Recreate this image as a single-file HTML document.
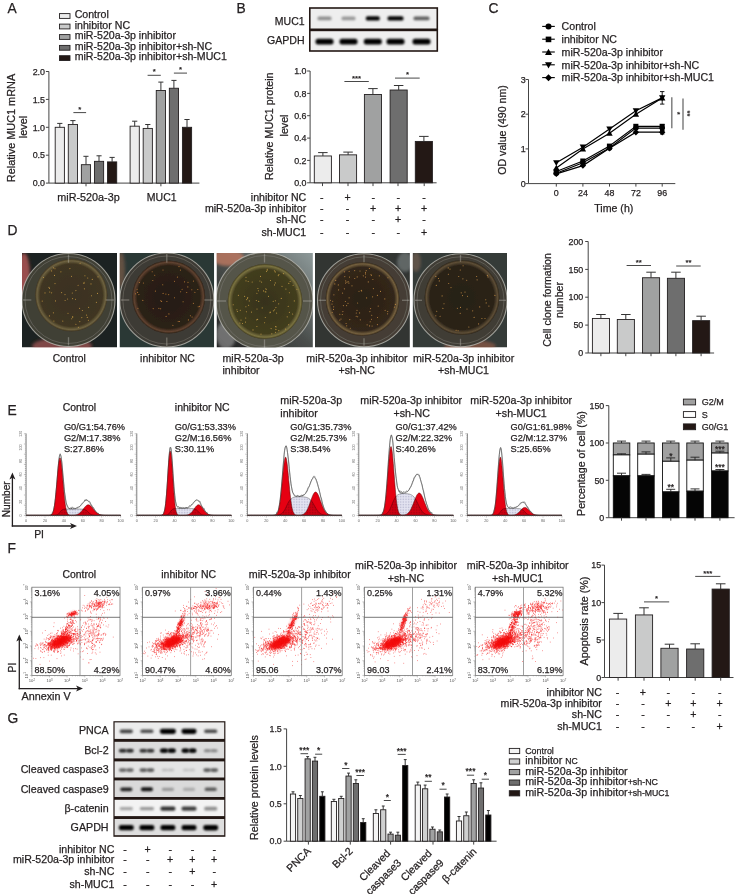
<!DOCTYPE html><html><head><meta charset="utf-8"><title>Figure</title><style>html,body{margin:0;padding:0;background:#fff;overflow:hidden;}svg{display:block;}text{stroke:#231f20;stroke-width:0.25px;}text.t{stroke:none;}</style></head><body><svg width="736" height="894" viewBox="0 0 736 894" font-family="'Liberation Sans', Arial, Helvetica, sans-serif"><defs>
<filter id="bl" x="-50%" y="-100%" width="200%" height="300%"><feGaussianBlur stdDeviation="1.05"/></filter>
<linearGradient id="bg3" x1="0" y1="1" x2="1" y2="0"><stop offset="0" stop-color="#1e1e1e"/><stop offset="0.5" stop-color="#4a4e4c"/><stop offset="1" stop-color="#8e9a9a"/></linearGradient>
<filter id="pb" x="-5%" y="-5%" width="110%" height="110%"><feGaussianBlur stdDeviation="0.45"/></filter>
<filter id="sb" x="-50%" y="-50%" width="200%" height="200%"><feGaussianBlur stdDeviation="1.6"/></filter>
<pattern id="hatch" width="1.6" height="1.6" patternUnits="userSpaceOnUse"><rect width="1.6" height="1.6" fill="#e4e4f2"/><rect width="0.8" height="0.8" fill="#b8b8d0"/></pattern>
<clipPath id="pc0"><rect x="22.0" y="253.0" width="95.0" height="94.5"/></clipPath>
<radialGradient id="ing0"><stop offset="0" stop-color="#3a3120"/><stop offset="0.86" stop-color="#3f3520"/><stop offset="0.95" stop-color="#6e6240"/><stop offset="1" stop-color="#3f3520"/></radialGradient>
<clipPath id="pc1"><rect x="119.5" y="253.0" width="94.7" height="94.5"/></clipPath>
<radialGradient id="ing1"><stop offset="0" stop-color="#251b12"/><stop offset="0.86" stop-color="#2c2116"/><stop offset="0.95" stop-color="#604230"/><stop offset="1" stop-color="#2c2116"/></radialGradient>
<clipPath id="pc2"><rect x="216.5" y="253.0" width="96.4" height="94.5"/></clipPath>
<radialGradient id="ing2"><stop offset="0" stop-color="#36321a"/><stop offset="0.86" stop-color="#423d1f"/><stop offset="0.95" stop-color="#7a7240"/><stop offset="1" stop-color="#423d1f"/></radialGradient>
<clipPath id="pc3"><rect x="315.0" y="253.0" width="94.9" height="94.5"/></clipPath>
<radialGradient id="ing3"><stop offset="0" stop-color="#2a2014"/><stop offset="0.86" stop-color="#32261a"/><stop offset="0.95" stop-color="#74603e"/><stop offset="1" stop-color="#32261a"/></radialGradient>
<clipPath id="pc4"><rect x="412.6" y="253.0" width="94.4" height="94.5"/></clipPath>
<radialGradient id="ing4"><stop offset="0" stop-color="#262016"/><stop offset="0.86" stop-color="#2c2419"/><stop offset="0.95" stop-color="#5e4e36"/><stop offset="1" stop-color="#2c2419"/></radialGradient>
<clipPath id="fc0"><rect x="31.9" y="587.2" width="88.1" height="88.19999999999993"/></clipPath>
<clipPath id="fc1"><rect x="142.6" y="587.2" width="88.70000000000002" height="88.19999999999993"/></clipPath>
<clipPath id="fc2"><rect x="253.5" y="587.2" width="88.69999999999999" height="88.19999999999993"/></clipPath>
<clipPath id="fc3"><rect x="364.4" y="587.2" width="88.30000000000001" height="88.19999999999993"/></clipPath>
<clipPath id="fc4"><rect x="475.3" y="587.2" width="87.80000000000001" height="88.19999999999993"/></clipPath>
</defs><rect width="736" height="894" fill="#fff"/><text x="7.5" y="13.4" font-size="13.8" text-anchor="start" fill="#231f20" >A</text>
<text x="236.5" y="13.4" font-size="13.8" text-anchor="start" fill="#231f20" >B</text>
<text x="488.5" y="13.4" font-size="13.8" text-anchor="start" fill="#231f20" >C</text>
<text x="7.5" y="234.6" font-size="13.8" text-anchor="start" fill="#231f20" >D</text>
<text x="7.5" y="414.5" font-size="13.8" text-anchor="start" fill="#231f20" >E</text>
<text x="7.5" y="552.6" font-size="13.8" text-anchor="start" fill="#231f20" >F</text>
<text x="7.5" y="722.6" font-size="13.8" text-anchor="start" fill="#231f20" >G</text>
<rect x="59.50" y="13.60" width="10.50" height="4.80" fill="#ececec" stroke="#231f20" stroke-width="0.9" />
<text x="74.7" y="18.4" font-size="10.6" text-anchor="start" fill="#231f20" >Control</text>
<rect x="59.50" y="24.10" width="10.50" height="4.80" fill="#c9caca" stroke="#231f20" stroke-width="0.9" />
<text x="74.7" y="28.6" font-size="10.6" text-anchor="start" fill="#231f20" >inhibitor NC</text>
<rect x="59.50" y="34.60" width="10.50" height="4.80" fill="#a0a1a1" stroke="#231f20" stroke-width="0.9" />
<text x="74.7" y="39.3" font-size="10.6" text-anchor="start" fill="#231f20" >miR-520a-3p inhibitor</text>
<rect x="59.50" y="45.40" width="10.50" height="4.80" fill="#6e6e6e" stroke="#231f20" stroke-width="0.9" />
<text x="74.7" y="49.6" font-size="10.6" text-anchor="start" fill="#231f20" >miR-520a-3p inhibitor+sh-NC</text>
<rect x="59.50" y="55.70" width="10.50" height="4.80" fill="#231815" stroke="#231f20" stroke-width="0.9" />
<text x="74.7" y="60.1" font-size="10.6" text-anchor="start" fill="#231f20" >miR-520a-3p inhibitor+sh-MUC1</text>
<line x1="48.9" y1="71.5" x2="48.9" y2="183.1" stroke="#444" stroke-width="1"/>
<line x1="45.9" y1="183.1" x2="48.9" y2="183.1" stroke="#444" stroke-width="1"/>
<text x="45.0" y="186.3" font-size="8.9" text-anchor="end" fill="#231f20" >0.0</text>
<line x1="45.9" y1="155.2" x2="48.9" y2="155.2" stroke="#444" stroke-width="1"/>
<text x="45.0" y="158.4" font-size="8.9" text-anchor="end" fill="#231f20" >0.5</text>
<line x1="45.9" y1="127.3" x2="48.9" y2="127.3" stroke="#444" stroke-width="1"/>
<text x="45.0" y="130.5" font-size="8.9" text-anchor="end" fill="#231f20" >1.0</text>
<line x1="45.9" y1="99.4" x2="48.9" y2="99.4" stroke="#444" stroke-width="1"/>
<text x="45.0" y="102.6" font-size="8.9" text-anchor="end" fill="#231f20" >1.5</text>
<line x1="45.9" y1="71.5" x2="48.9" y2="71.5" stroke="#444" stroke-width="1"/>
<text x="45.0" y="74.7" font-size="8.9" text-anchor="end" fill="#231f20" >2.0</text>
<line x1="48.9" y1="183.1" x2="199.4" y2="183.1" stroke="#444" stroke-width="1"/>
<rect x="55.20" y="127.30" width="9.20" height="55.80" fill="#ececec" stroke="#231f20" stroke-width="0.9" />
<line x1="59.8" y1="123.4" x2="59.8" y2="127.3" stroke="#333" stroke-width="1"/>
<line x1="57.2" y1="123.4" x2="62.4" y2="123.4" stroke="#333" stroke-width="1"/>
<rect x="68.28" y="124.51" width="9.20" height="58.59" fill="#c9caca" stroke="#231f20" stroke-width="0.9" />
<line x1="72.9" y1="120.6" x2="72.9" y2="124.5" stroke="#333" stroke-width="1"/>
<line x1="70.3" y1="120.6" x2="75.5" y2="120.6" stroke="#333" stroke-width="1"/>
<rect x="81.36" y="164.69" width="9.20" height="18.41" fill="#a0a1a1" stroke="#231f20" stroke-width="0.9" />
<line x1="86.0" y1="156.3" x2="86.0" y2="164.7" stroke="#333" stroke-width="1"/>
<line x1="83.4" y1="156.3" x2="88.5" y2="156.3" stroke="#333" stroke-width="1"/>
<rect x="94.44" y="161.34" width="9.20" height="21.76" fill="#6e6e6e" stroke="#231f20" stroke-width="0.9" />
<line x1="99.0" y1="155.8" x2="99.0" y2="161.3" stroke="#333" stroke-width="1"/>
<line x1="96.5" y1="155.8" x2="101.6" y2="155.8" stroke="#333" stroke-width="1"/>
<rect x="107.52" y="161.90" width="9.20" height="21.20" fill="#231815" stroke="#231f20" stroke-width="0.9" />
<line x1="112.1" y1="157.4" x2="112.1" y2="161.9" stroke="#333" stroke-width="1"/>
<line x1="109.5" y1="157.4" x2="114.7" y2="157.4" stroke="#333" stroke-width="1"/>
<line x1="86.0" y1="183.1" x2="86.0" y2="186.3" stroke="#444" stroke-width="1"/>
<rect x="130.10" y="126.18" width="9.20" height="56.92" fill="#ececec" stroke="#231f20" stroke-width="0.9" />
<line x1="134.7" y1="121.2" x2="134.7" y2="126.2" stroke="#333" stroke-width="1"/>
<line x1="132.1" y1="121.2" x2="137.3" y2="121.2" stroke="#333" stroke-width="1"/>
<rect x="143.18" y="128.42" width="9.20" height="54.68" fill="#c9caca" stroke="#231f20" stroke-width="0.9" />
<line x1="147.8" y1="124.5" x2="147.8" y2="128.4" stroke="#333" stroke-width="1"/>
<line x1="145.2" y1="124.5" x2="150.4" y2="124.5" stroke="#333" stroke-width="1"/>
<rect x="156.26" y="90.47" width="9.20" height="92.63" fill="#a0a1a1" stroke="#231f20" stroke-width="0.9" />
<line x1="160.9" y1="82.1" x2="160.9" y2="90.5" stroke="#333" stroke-width="1"/>
<line x1="158.3" y1="82.1" x2="163.4" y2="82.1" stroke="#333" stroke-width="1"/>
<rect x="169.34" y="88.24" width="9.20" height="94.86" fill="#6e6e6e" stroke="#231f20" stroke-width="0.9" />
<line x1="173.9" y1="80.4" x2="173.9" y2="88.2" stroke="#333" stroke-width="1"/>
<line x1="171.4" y1="80.4" x2="176.5" y2="80.4" stroke="#333" stroke-width="1"/>
<rect x="182.42" y="127.30" width="9.20" height="55.80" fill="#231815" stroke="#231f20" stroke-width="0.9" />
<line x1="187.0" y1="119.5" x2="187.0" y2="127.3" stroke="#333" stroke-width="1"/>
<line x1="184.4" y1="119.5" x2="189.6" y2="119.5" stroke="#333" stroke-width="1"/>
<line x1="160.9" y1="183.1" x2="160.9" y2="186.3" stroke="#444" stroke-width="1"/>
<line x1="73.4" y1="112.6" x2="86.1" y2="112.6" stroke="#333" stroke-width="0.9"/>
<text x="79.8" y="111.7" font-size="7.8" text-anchor="middle" fill="#231f20" >*</text>
<line x1="147.6" y1="75.3" x2="160.8" y2="75.3" stroke="#333" stroke-width="0.9"/>
<text x="154.2" y="74.4" font-size="7.8" text-anchor="middle" fill="#231f20" >*</text>
<line x1="173.9" y1="73.1" x2="187.0" y2="73.1" stroke="#333" stroke-width="0.9"/>
<text x="180.4" y="72.2" font-size="7.8" text-anchor="middle" fill="#231f20" >*</text>
<text x="88.5" y="200.5" font-size="10.8" text-anchor="middle" fill="#231f20" >miR-520a-3p</text>
<text x="161.7" y="200.5" font-size="10.5" text-anchor="middle" fill="#231f20" >MUC1</text>
<text transform="translate(15.3,128.0) rotate(-90)" font-size="10.9" text-anchor="middle" fill="#231f20">Relative MUC1 mRNA</text>
<text transform="translate(27.0,127.0) rotate(-90)" font-size="10.9" text-anchor="middle" fill="#231f20">level</text>
<rect x="309.80" y="8.00" width="127.50" height="21.30" fill="#eeeeee" stroke="#231815" stroke-width="1.6" />
<rect x="317.5" y="16.6" width="14.0" height="3.6" rx="1.5" fill="#000" fill-opacity="0.40" filter="url(#bl)"/>
<rect x="341.5" y="16.6" width="14.0" height="3.6" rx="1.5" fill="#000" fill-opacity="0.36" filter="url(#bl)"/>
<rect x="365.8" y="16.2" width="14.0" height="4.4" rx="1.9" fill="#000" fill-opacity="1.00" filter="url(#bl)"/>
<rect x="387.5" y="16.2" width="16.0" height="4.4" rx="1.9" fill="#000" fill-opacity="1.00" filter="url(#bl)"/>
<rect x="413.5" y="16.5" width="16.0" height="3.8" rx="1.6" fill="#000" fill-opacity="0.60" filter="url(#bl)"/>
<rect x="309.80" y="30.40" width="127.50" height="20.60" fill="#efefef" stroke="#231815" stroke-width="1.6" />
<rect x="315.5" y="38.8" width="18.0" height="5.6" rx="2.5" fill="#000" fill-opacity="1.00" filter="url(#bl)"/>
<rect x="339.5" y="38.8" width="18.0" height="5.6" rx="2.5" fill="#000" fill-opacity="1.00" filter="url(#bl)"/>
<rect x="363.8" y="38.8" width="18.0" height="5.6" rx="2.5" fill="#000" fill-opacity="1.00" filter="url(#bl)"/>
<rect x="386.5" y="38.8" width="18.0" height="5.6" rx="2.5" fill="#000" fill-opacity="1.00" filter="url(#bl)"/>
<rect x="412.5" y="38.8" width="18.0" height="5.6" rx="2.5" fill="#000" fill-opacity="1.00" filter="url(#bl)"/>
<text x="304.6" y="25.3" font-size="10.5" text-anchor="end" fill="#231f20" >MUC1</text>
<text x="304.6" y="44.2" font-size="10.6" text-anchor="end" fill="#231f20" >GAPDH</text>
<line x1="310.1" y1="71.0" x2="310.1" y2="182.8" stroke="#444" stroke-width="1"/>
<line x1="307.1" y1="182.8" x2="310.1" y2="182.8" stroke="#444" stroke-width="1"/>
<text x="306.5" y="186.0" font-size="8.9" text-anchor="end" fill="#231f20" >0.0</text>
<line x1="307.1" y1="160.4" x2="310.1" y2="160.4" stroke="#444" stroke-width="1"/>
<text x="306.5" y="163.6" font-size="8.9" text-anchor="end" fill="#231f20" >0.2</text>
<line x1="307.1" y1="138.1" x2="310.1" y2="138.1" stroke="#444" stroke-width="1"/>
<text x="306.5" y="141.3" font-size="8.9" text-anchor="end" fill="#231f20" >0.4</text>
<line x1="307.1" y1="115.7" x2="310.1" y2="115.7" stroke="#444" stroke-width="1"/>
<text x="306.5" y="118.9" font-size="8.9" text-anchor="end" fill="#231f20" >0.6</text>
<line x1="307.1" y1="93.4" x2="310.1" y2="93.4" stroke="#444" stroke-width="1"/>
<text x="306.5" y="96.6" font-size="8.9" text-anchor="end" fill="#231f20" >0.8</text>
<line x1="307.1" y1="71.0" x2="310.1" y2="71.0" stroke="#444" stroke-width="1"/>
<text x="306.5" y="74.2" font-size="8.9" text-anchor="end" fill="#231f20" >1.0</text>
<line x1="310.1" y1="182.8" x2="436.6" y2="182.8" stroke="#444" stroke-width="1"/>
<rect x="314.30" y="155.97" width="17.10" height="26.83" fill="#ececec" stroke="#231f20" stroke-width="0.9" />
<line x1="322.9" y1="152.6" x2="322.9" y2="156.0" stroke="#333" stroke-width="1"/>
<line x1="318.1" y1="152.6" x2="327.6" y2="152.6" stroke="#333" stroke-width="1"/>
<rect x="339.50" y="154.85" width="17.10" height="27.95" fill="#c9caca" stroke="#231f20" stroke-width="0.9" />
<line x1="348.1" y1="152.1" x2="348.1" y2="154.9" stroke="#333" stroke-width="1"/>
<line x1="343.3" y1="152.1" x2="352.8" y2="152.1" stroke="#333" stroke-width="1"/>
<rect x="364.40" y="94.48" width="17.10" height="88.32" fill="#a0a1a1" stroke="#231f20" stroke-width="0.9" />
<line x1="372.9" y1="88.6" x2="372.9" y2="94.5" stroke="#333" stroke-width="1"/>
<line x1="368.2" y1="88.6" x2="377.7" y2="88.6" stroke="#333" stroke-width="1"/>
<rect x="390.10" y="90.01" width="17.10" height="92.79" fill="#6e6e6e" stroke="#231f20" stroke-width="0.9" />
<line x1="398.7" y1="85.5" x2="398.7" y2="90.0" stroke="#333" stroke-width="1"/>
<line x1="393.9" y1="85.5" x2="403.4" y2="85.5" stroke="#333" stroke-width="1"/>
<rect x="415.30" y="141.43" width="17.10" height="41.37" fill="#231815" stroke="#231f20" stroke-width="0.9" />
<line x1="423.9" y1="136.4" x2="423.9" y2="141.4" stroke="#333" stroke-width="1"/>
<line x1="419.1" y1="136.4" x2="428.6" y2="136.4" stroke="#333" stroke-width="1"/>
<line x1="322.5" y1="182.8" x2="322.5" y2="186.1" stroke="#444" stroke-width="1"/>
<line x1="348.0" y1="182.8" x2="348.0" y2="186.1" stroke="#444" stroke-width="1"/>
<line x1="373.0" y1="182.8" x2="373.0" y2="186.1" stroke="#444" stroke-width="1"/>
<line x1="398.0" y1="182.8" x2="398.0" y2="186.1" stroke="#444" stroke-width="1"/>
<line x1="424.2" y1="182.8" x2="424.2" y2="186.1" stroke="#444" stroke-width="1"/>
<line x1="344.4" y1="81.5" x2="368.8" y2="81.5" stroke="#333" stroke-width="0.9"/>
<text x="356.6" y="80.6" font-size="7.8" text-anchor="middle" fill="#231f20" >***</text>
<line x1="395.0" y1="78.1" x2="419.7" y2="78.1" stroke="#333" stroke-width="0.9"/>
<text x="407.4" y="77.2" font-size="7.8" text-anchor="middle" fill="#231f20" >*</text>
<text transform="translate(273.3,126.3) rotate(-90)" font-size="10.7" text-anchor="middle" fill="#231f20">Relative MUC1 protein</text>
<text transform="translate(287.6,125.5) rotate(-90)" font-size="10.7" text-anchor="middle" fill="#231f20">level</text>
<text x="306.2" y="200.9" font-size="10.6" text-anchor="end" fill="#231f20" >inhibitor NC</text>
<text x="321.8" y="200.9" font-size="10.6" text-anchor="middle" fill="#231f20" >-</text>
<text x="347.5" y="200.9" font-size="10.6" text-anchor="middle" fill="#231f20" >+</text>
<text x="373.2" y="200.9" font-size="10.6" text-anchor="middle" fill="#231f20" >-</text>
<text x="398.2" y="200.9" font-size="10.6" text-anchor="middle" fill="#231f20" >-</text>
<text x="424.0" y="200.9" font-size="10.6" text-anchor="middle" fill="#231f20" >-</text>
<text x="306.2" y="212.1" font-size="10.6" text-anchor="end" fill="#231f20" >miR-520a-3p inhibitor</text>
<text x="321.8" y="212.1" font-size="10.6" text-anchor="middle" fill="#231f20" >-</text>
<text x="347.5" y="212.1" font-size="10.6" text-anchor="middle" fill="#231f20" >-</text>
<text x="373.2" y="212.1" font-size="10.6" text-anchor="middle" fill="#231f20" >+</text>
<text x="398.2" y="212.1" font-size="10.6" text-anchor="middle" fill="#231f20" >+</text>
<text x="424.0" y="212.1" font-size="10.6" text-anchor="middle" fill="#231f20" >+</text>
<text x="306.2" y="223.2" font-size="10.6" text-anchor="end" fill="#231f20" >sh-NC</text>
<text x="321.8" y="223.2" font-size="10.6" text-anchor="middle" fill="#231f20" >-</text>
<text x="347.5" y="223.2" font-size="10.6" text-anchor="middle" fill="#231f20" >-</text>
<text x="373.2" y="223.2" font-size="10.6" text-anchor="middle" fill="#231f20" >-</text>
<text x="398.2" y="223.2" font-size="10.6" text-anchor="middle" fill="#231f20" >+</text>
<text x="424.0" y="223.2" font-size="10.6" text-anchor="middle" fill="#231f20" >-</text>
<text x="306.2" y="236.0" font-size="10.6" text-anchor="end" fill="#231f20" >sh-MUC1</text>
<text x="321.8" y="236.0" font-size="10.6" text-anchor="middle" fill="#231f20" >-</text>
<text x="347.5" y="236.0" font-size="10.6" text-anchor="middle" fill="#231f20" >-</text>
<text x="373.2" y="236.0" font-size="10.6" text-anchor="middle" fill="#231f20" >-</text>
<text x="398.2" y="236.0" font-size="10.6" text-anchor="middle" fill="#231f20" >-</text>
<text x="424.0" y="236.0" font-size="10.6" text-anchor="middle" fill="#231f20" >+</text>
<line x1="542.2" y1="26.4" x2="554.8" y2="26.4" stroke="#000" stroke-width="1.1"/>
<circle cx="548.5" cy="26.6" r="3.0" fill="#000"/>
<text x="561.6" y="30.2" font-size="10.62" text-anchor="start" fill="#231f20" >Control</text>
<line x1="542.2" y1="39.2" x2="554.8" y2="39.2" stroke="#000" stroke-width="1.1"/>
<rect x="545.7" y="36.6" width="5.6" height="5.6" fill="#000"/>
<text x="561.6" y="43.0" font-size="10.62" text-anchor="start" fill="#231f20" >inhibitor NC</text>
<line x1="542.2" y1="52.0" x2="554.8" y2="52.0" stroke="#000" stroke-width="1.1"/>
<path d="M548.5 48.7L552.0 55.0L545.0 55.0Z" fill="#000"/>
<text x="561.6" y="55.8" font-size="10.62" text-anchor="start" fill="#231f20" >miR-520a-3p inhibitor</text>
<line x1="542.2" y1="64.8" x2="554.8" y2="64.8" stroke="#000" stroke-width="1.1"/>
<path d="M548.5 68.5L552.0 62.2L545.0 62.2Z" fill="#000"/>
<text x="561.6" y="68.6" font-size="10.62" text-anchor="start" fill="#231f20" >miR-520a-3p inhibitor+sh-NC</text>
<line x1="542.2" y1="77.6" x2="554.8" y2="77.6" stroke="#000" stroke-width="1.1"/>
<path d="M548.5 74.3L552.0 77.8L548.5 81.3L545.0 77.8Z" fill="#000"/>
<text x="561.6" y="81.4" font-size="10.62" text-anchor="start" fill="#231f20" >miR-520a-3p inhibitor+sh-MUC1</text>
<line x1="528.5" y1="79.5" x2="528.5" y2="183.6" stroke="#444" stroke-width="1"/>
<line x1="525.5" y1="183.6" x2="528.5" y2="183.6" stroke="#444" stroke-width="1"/>
<text x="525.8" y="186.8" font-size="8.9" text-anchor="end" fill="#231f20" >0</text>
<line x1="525.5" y1="148.9" x2="528.5" y2="148.9" stroke="#444" stroke-width="1"/>
<text x="525.8" y="152.1" font-size="8.9" text-anchor="end" fill="#231f20" >1</text>
<line x1="525.5" y1="114.2" x2="528.5" y2="114.2" stroke="#444" stroke-width="1"/>
<text x="525.8" y="117.4" font-size="8.9" text-anchor="end" fill="#231f20" >2</text>
<line x1="525.5" y1="79.5" x2="528.5" y2="79.5" stroke="#444" stroke-width="1"/>
<text x="525.8" y="82.7" font-size="8.9" text-anchor="end" fill="#231f20" >3</text>
<line x1="528.5" y1="183.6" x2="675.3" y2="183.6" stroke="#444" stroke-width="1"/>
<line x1="556.3" y1="183.6" x2="556.3" y2="186.6" stroke="#444" stroke-width="1"/>
<text x="556.3" y="196.4" font-size="8.9" text-anchor="middle" fill="#231f20" >0</text>
<line x1="582.9" y1="183.6" x2="582.9" y2="186.6" stroke="#444" stroke-width="1"/>
<text x="582.9" y="196.4" font-size="8.9" text-anchor="middle" fill="#231f20" >24</text>
<line x1="609.5" y1="183.6" x2="609.5" y2="186.6" stroke="#444" stroke-width="1"/>
<text x="609.5" y="196.4" font-size="8.9" text-anchor="middle" fill="#231f20" >48</text>
<line x1="635.9" y1="183.6" x2="635.9" y2="186.6" stroke="#444" stroke-width="1"/>
<text x="635.9" y="196.4" font-size="8.9" text-anchor="middle" fill="#231f20" >72</text>
<line x1="662.2" y1="183.6" x2="662.2" y2="186.6" stroke="#444" stroke-width="1"/>
<text x="662.2" y="196.4" font-size="8.9" text-anchor="middle" fill="#231f20" >96</text>
<text x="613.8" y="212.2" font-size="10.6" text-anchor="middle" fill="#231f20" >Time (h)</text>
<text transform="translate(506.3,130.0) rotate(-90)" font-size="10.6" text-anchor="middle" fill="#231f20">OD value (490 nm)</text>
<polyline points="556.3,173.2 582.9,162.8 609.5,147.9 635.9,128.1 662.2,128.1" fill="none" stroke="#000" stroke-width="1.2"/>
<circle cx="556.3" cy="173.2" r="2.7" fill="#000"/>
<circle cx="582.9" cy="162.8" r="2.7" fill="#000"/>
<circle cx="609.5" cy="147.9" r="2.7" fill="#000"/>
<circle cx="635.9" cy="128.1" r="2.7" fill="#000"/>
<circle cx="662.2" cy="128.1" r="2.7" fill="#000"/>
<polyline points="556.3,171.5 582.9,161.0 609.5,146.1 635.9,126.3 662.2,126.3" fill="none" stroke="#000" stroke-width="1.2"/>
<rect x="553.7" y="168.9" width="5.1" height="5.1" fill="#000"/>
<rect x="580.3" y="158.5" width="5.1" height="5.1" fill="#000"/>
<rect x="606.9" y="143.6" width="5.1" height="5.1" fill="#000"/>
<rect x="633.3" y="123.8" width="5.1" height="5.1" fill="#000"/>
<rect x="659.6" y="123.8" width="5.1" height="5.1" fill="#000"/>
<polyline points="556.3,168.0 582.9,148.9 609.5,133.3 635.9,114.2 662.2,97.9" fill="none" stroke="#000" stroke-width="1.2"/>
<path d="M556.3 164.8L559.5 170.5L553.1 170.5Z" fill="#000"/>
<path d="M582.9 145.7L586.1 151.5L579.7 151.5Z" fill="#000"/>
<path d="M609.5 130.1L612.7 135.8L606.3 135.8Z" fill="#000"/>
<path d="M635.9 111.0L639.1 116.8L632.7 116.8Z" fill="#000"/>
<path d="M662.2 94.7L665.4 100.5L659.0 100.5Z" fill="#000"/>
<polyline points="556.3,162.8 582.9,147.2 609.5,129.1 635.9,110.7 662.2,97.9" fill="none" stroke="#000" stroke-width="1.2"/>
<path d="M556.3 166.0L559.5 160.2L553.1 160.2Z" fill="#000"/>
<path d="M582.9 150.4L586.1 144.6L579.7 144.6Z" fill="#000"/>
<path d="M609.5 132.3L612.7 126.6L606.3 126.6Z" fill="#000"/>
<path d="M635.9 113.9L639.1 108.2L632.7 108.2Z" fill="#000"/>
<path d="M662.2 101.1L665.4 95.3L659.0 95.3Z" fill="#000"/>
<polyline points="556.3,173.9 582.9,165.6 609.5,148.2 635.9,132.2 662.2,132.2" fill="none" stroke="#000" stroke-width="1.2"/>
<path d="M556.3 170.7L559.5 173.9L556.3 177.1L553.1 173.9Z" fill="#000"/>
<path d="M582.9 162.4L586.1 165.6L582.9 168.8L579.7 165.6Z" fill="#000"/>
<path d="M609.5 145.0L612.7 148.2L609.5 151.4L606.3 148.2Z" fill="#000"/>
<path d="M635.9 129.0L639.1 132.2L635.9 135.4L632.7 132.2Z" fill="#000"/>
<path d="M662.2 129.0L665.4 132.2L662.2 135.4L659.0 132.2Z" fill="#000"/>
<line x1="662.2" y1="91.6" x2="662.2" y2="104.1" stroke="#000" stroke-width="0.9"/>
<line x1="660.0" y1="91.6" x2="664.4" y2="91.6" stroke="#000" stroke-width="0.9"/>
<line x1="660.0" y1="104.1" x2="664.4" y2="104.1" stroke="#000" stroke-width="0.9"/>
<line x1="662.2" y1="124.6" x2="662.2" y2="130.2" stroke="#000" stroke-width="0.9"/>
<line x1="660.0" y1="124.6" x2="664.4" y2="124.6" stroke="#000" stroke-width="0.9"/>
<line x1="660.0" y1="130.2" x2="664.4" y2="130.2" stroke="#000" stroke-width="0.9"/>
<line x1="662.2" y1="130.5" x2="662.2" y2="134.0" stroke="#000" stroke-width="0.9"/>
<line x1="660.0" y1="130.5" x2="664.4" y2="130.5" stroke="#000" stroke-width="0.9"/>
<line x1="660.0" y1="134.0" x2="664.4" y2="134.0" stroke="#000" stroke-width="0.9"/>
<line x1="671.8" y1="97.2" x2="671.8" y2="128.2" stroke="#777" stroke-width="1.4"/>
<line x1="683.0" y1="98.5" x2="683.0" y2="129.7" stroke="#777" stroke-width="1.4"/>
<text transform="translate(674.6,113.2) rotate(90)" font-size="7.5" text-anchor="middle" fill="#231f20">*</text>
<text transform="translate(685.0,113.5) rotate(90)" font-size="7.5" text-anchor="middle" fill="#231f20">**</text>
<g clip-path="url(#pc0)"><g filter="url(#pb)">
<rect x="22.00" y="253.00" width="95.00" height="94.50" fill="#1e2220" stroke="none" stroke-width="1" />
<ellipse cx="24" cy="275" rx="6" ry="22" fill="#b85a5a" opacity="0.8" filter="url(#sb)"/>
<ellipse cx="62" cy="346" rx="30" ry="8" fill="#a85858" opacity="0.7" filter="url(#sb)"/>
<circle cx="68.5" cy="300.0" r="46.5" fill="#403f36" stroke="#b8b8b0" stroke-width="1.1" stroke-opacity="0.8"/>
<circle cx="68.5" cy="300.0" r="43.5" fill="none" stroke="#8a8a80" stroke-width="0.7" stroke-opacity="0.6"/>
<circle cx="71.3" cy="295.2" r="36.2" fill="url(#ing0)"/>
<line x1="68.5" y1="254.5" x2="68.5" y2="262.8" stroke="#d0d0c8" stroke-width="1.3" stroke-opacity="0.35"/>
<line x1="68.5" y1="345.5" x2="68.5" y2="337.2" stroke="#d0d0c8" stroke-width="1.3" stroke-opacity="0.35"/>
<line x1="23.0" y1="300.0" x2="31.3" y2="300.0" stroke="#d0d0c8" stroke-width="1.3" stroke-opacity="0.35"/>
<line x1="114.0" y1="300.0" x2="105.7" y2="300.0" stroke="#d0d0c8" stroke-width="1.3" stroke-opacity="0.35"/>
<path d="M92.3 279.4h0.01M75.9 324.2h0.01M84.1 282.2h0.01M72.3 293.0h0.01M42.2 301.1h0.01M68.0 313.2h0.01M55.5 300.9h0.01M49.0 287.4h0.01M80.1 263.2h0.01M97.5 293.4h0.01M79.6 308.3h0.01M96.4 302.3h0.01M65.0 294.6h0.01M91.0 283.9h0.01M45.0 292.9h0.01M71.7 318.7h0.01M72.6 298.6h0.01M79.8 321.6h0.01M91.5 295.7h0.01M88.4 320.2h0.01M83.9 283.4h0.01M84.9 275.7h0.01M69.9 268.6h0.01M61.6 292.6h0.01M87.7 278.0h0.01M55.0 283.6h0.01M65.1 300.5h0.01M82.4 310.5h0.01M49.4 315.9h0.01M43.5 277.5h0.01M54.5 275.4h0.01M87.3 317.4h0.01M72.7 317.3h0.01M88.6 307.3h0.01M78.4 327.2h0.01M62.8 321.1h0.01M55.0 268.7h0.01M78.1 285.2h0.01M98.0 276.8h0.01M86.6 315.1h0.01M84.4 288.8h0.01M81.8 317.6h0.01M51.6 270.9h0.01M53.4 312.8h0.01M72.7 316.5h0.01M75.9 290.6h0.01M49.5 288.5h0.01M71.5 276.3h0.01M67.6 299.0h0.01M75.5 299.2h0.01M53.4 267.8h0.01M49.7 292.0h0.01M53.9 321.0h0.01M60.9 271.8h0.01M51.6 292.8h0.01" stroke="#d2a24a" stroke-width="1.15" stroke-linecap="round" opacity="0.78"/>
</g></g>
<g clip-path="url(#pc1)"><g filter="url(#pb)">
<rect x="119.50" y="253.00" width="94.70" height="94.50" fill="#2c3836" stroke="none" stroke-width="1" />
<ellipse cx="121" cy="270" rx="4" ry="18" fill="#9a6a50" opacity="0.5" filter="url(#sb)"/>
<circle cx="166.8" cy="300.0" r="47.0" fill="#3e3a34" stroke="#b8b8b0" stroke-width="1.1" stroke-opacity="0.8"/>
<circle cx="166.8" cy="300.0" r="44.0" fill="none" stroke="#8a8a80" stroke-width="0.7" stroke-opacity="0.6"/>
<circle cx="168.7" cy="297.0" r="36.5" fill="url(#ing1)"/>
<line x1="166.8" y1="254.0" x2="166.8" y2="262.5" stroke="#d0d0c8" stroke-width="1.3" stroke-opacity="0.35"/>
<line x1="166.8" y1="346.0" x2="166.8" y2="337.5" stroke="#d0d0c8" stroke-width="1.3" stroke-opacity="0.35"/>
<line x1="120.8" y1="300.0" x2="129.3" y2="300.0" stroke="#d0d0c8" stroke-width="1.3" stroke-opacity="0.35"/>
<line x1="212.8" y1="300.0" x2="204.3" y2="300.0" stroke="#d0d0c8" stroke-width="1.3" stroke-opacity="0.35"/>
<path d="M193.4 281.1h0.01M180.6 291.7h0.01M168.7 294.6h0.01M188.4 319.9h0.01M177.4 277.1h0.01M165.9 294.1h0.01M138.9 294.6h0.01M172.9 325.3h0.01M158.9 308.3h0.01M160.6 308.7h0.01M139.4 282.5h0.01M166.1 316.4h0.01M137.9 308.2h0.01M135.6 293.8h0.01M188.0 282.3h0.01M143.4 283.0h0.01M184.5 281.8h0.01M187.8 286.9h0.01M160.7 300.7h0.01M191.8 289.7h0.01M174.5 281.2h0.01M163.0 270.0h0.01M194.9 292.3h0.01M153.2 308.6h0.01M183.1 301.7h0.01M182.1 289.2h0.01M192.1 317.0h0.01M142.8 300.4h0.01M154.7 275.2h0.01M186.7 292.5h0.01M152.8 280.5h0.01M179.5 321.5h0.01M161.6 301.4h0.01M180.4 270.1h0.01M190.4 315.7h0.01M179.0 266.6h0.01M137.6 292.4h0.01M199.5 306.3h0.01M174.5 297.7h0.01M168.9 313.9h0.01M155.4 291.1h0.01M163.1 293.4h0.01M162.7 284.7h0.01M166.9 301.5h0.01M137.1 289.2h0.01M152.2 271.7h0.01M178.2 321.5h0.01M193.4 303.3h0.01M197.8 289.5h0.01M198.2 306.7h0.01" stroke="#d08a40" stroke-width="1.15" stroke-linecap="round" opacity="0.78"/>
</g></g>
<g clip-path="url(#pc2)"><g filter="url(#pb)">
<rect x="216.50" y="253.00" width="96.40" height="94.50" fill="url(#bg3)" stroke="none" stroke-width="1" />
<ellipse cx="228" cy="258" rx="16" ry="8" fill="#c07860" opacity="0.8" filter="url(#sb)"/>
<ellipse cx="226" cy="335" rx="10" ry="14" fill="#b8b8b8" opacity="0.5" filter="url(#sb)"/>
<circle cx="264.5" cy="301.0" r="48.5" fill="#55544a" stroke="#b8b8b0" stroke-width="1.1" stroke-opacity="0.8"/>
<circle cx="264.5" cy="301.0" r="45.5" fill="none" stroke="#8a8a80" stroke-width="0.7" stroke-opacity="0.6"/>
<circle cx="265.0" cy="301.5" r="37.5" fill="url(#ing2)"/>
<line x1="264.5" y1="253.5" x2="264.5" y2="262.5" stroke="#d0d0c8" stroke-width="1.3" stroke-opacity="0.35"/>
<line x1="264.5" y1="348.5" x2="264.5" y2="339.5" stroke="#d0d0c8" stroke-width="1.3" stroke-opacity="0.35"/>
<line x1="217.0" y1="301.0" x2="226.0" y2="301.0" stroke="#d0d0c8" stroke-width="1.3" stroke-opacity="0.35"/>
<line x1="312.0" y1="301.0" x2="303.0" y2="301.0" stroke="#d0d0c8" stroke-width="1.3" stroke-opacity="0.35"/>
<path d="M256.7 319.8h0.01M256.9 293.2h0.01M253.0 329.9h0.01M274.4 270.8h0.01M266.3 289.2h0.01M275.5 332.2h0.01M248.2 281.5h0.01M287.2 316.8h0.01M246.0 280.8h0.01M275.3 271.9h0.01M261.6 282.1h0.01M290.1 281.5h0.01M278.7 303.8h0.01M271.1 328.6h0.01M289.4 292.7h0.01M264.6 322.7h0.01M252.2 282.0h0.01M257.0 309.0h0.01M258.4 290.7h0.01M242.5 323.5h0.01M244.6 296.3h0.01M265.3 317.5h0.01M245.9 306.7h0.01M265.2 291.7h0.01M256.9 326.5h0.01M265.8 291.9h0.01M273.4 310.8h0.01M275.9 307.6h0.01M261.0 334.1h0.01M274.5 284.9h0.01M275.5 326.6h0.01M282.0 286.3h0.01M259.9 281.0h0.01M263.5 290.9h0.01M278.9 274.5h0.01M245.5 322.1h0.01M256.3 300.5h0.01M275.9 329.5h0.01M247.7 297.5h0.01M288.8 283.4h0.01M269.9 312.7h0.01M246.0 277.2h0.01M294.3 300.9h0.01M283.4 273.6h0.01M241.0 320.1h0.01M276.1 326.8h0.01M266.5 271.5h0.01M237.4 311.5h0.01M246.4 311.7h0.01M268.5 296.3h0.01M245.7 318.0h0.01M260.5 276.4h0.01M275.3 282.9h0.01M239.9 323.0h0.01M265.8 288.7h0.01M285.6 329.1h0.01M278.3 275.6h0.01M288.6 324.7h0.01M275.4 300.7h0.01M270.2 312.1h0.01M240.3 310.2h0.01M275.9 329.3h0.01M271.8 333.8h0.01M292.6 314.0h0.01M288.2 306.3h0.01M257.6 319.4h0.01M236.9 309.7h0.01M273.2 301.3h0.01M293.1 285.2h0.01M251.5 312.1h0.01M276.6 313.1h0.01M258.7 301.4h0.01M270.4 312.3h0.01M233.2 304.7h0.01M257.9 288.5h0.01M247.5 298.5h0.01M246.7 299.6h0.01M238.4 295.3h0.01M270.5 280.5h0.01M278.8 330.6h0.01M274.6 309.8h0.01M296.9 289.2h0.01M281.3 298.4h0.01M249.3 300.9h0.01M285.9 289.1h0.01M262.2 307.9h0.01M289.4 312.3h0.01M248.6 305.2h0.01M267.2 269.2h0.01M267.2 270.2h0.01" stroke="#d4a848" stroke-width="1.15" stroke-linecap="round" opacity="0.78"/>
</g></g>
<g clip-path="url(#pc3)"><g filter="url(#pb)">
<rect x="315.00" y="253.00" width="94.90" height="94.50" fill="#303432" stroke="none" stroke-width="1" />
<ellipse cx="405" cy="262" rx="8" ry="10" fill="#808888" opacity="0.6" filter="url(#sb)"/>
<circle cx="364.0" cy="300.3" r="46.5" fill="#443e36" stroke="#b8b8b0" stroke-width="1.1" stroke-opacity="0.8"/>
<circle cx="364.0" cy="300.3" r="43.5" fill="none" stroke="#8a8a80" stroke-width="0.7" stroke-opacity="0.6"/>
<circle cx="362.5" cy="299.0" r="37.0" fill="url(#ing3)"/>
<line x1="364.0" y1="254.8" x2="364.0" y2="262.3" stroke="#d0d0c8" stroke-width="1.3" stroke-opacity="0.35"/>
<line x1="364.0" y1="345.8" x2="364.0" y2="338.3" stroke="#d0d0c8" stroke-width="1.3" stroke-opacity="0.35"/>
<line x1="318.5" y1="300.3" x2="326.0" y2="300.3" stroke="#d0d0c8" stroke-width="1.3" stroke-opacity="0.35"/>
<line x1="409.5" y1="300.3" x2="402.0" y2="300.3" stroke="#d0d0c8" stroke-width="1.3" stroke-opacity="0.35"/>
<path d="M379.3 275.8h0.01M360.0 271.0h0.01M371.7 315.2h0.01M377.4 324.6h0.01M335.7 280.4h0.01M380.5 291.4h0.01M349.1 297.8h0.01M372.6 296.8h0.01M371.0 274.6h0.01M368.3 281.9h0.01M344.8 276.6h0.01M332.2 312.5h0.01M354.7 278.5h0.01M346.7 325.8h0.01M369.6 325.9h0.01M365.5 273.9h0.01M361.3 290.4h0.01M366.6 297.9h0.01M342.9 311.6h0.01M333.9 294.8h0.01M387.6 313.8h0.01M338.6 289.9h0.01M394.4 307.1h0.01M346.9 282.2h0.01M385.1 310.3h0.01M367.1 324.8h0.01M373.4 288.6h0.01M348.0 303.3h0.01M354.7 270.6h0.01M371.4 275.3h0.01M345.6 283.1h0.01M349.1 271.3h0.01M339.8 314.2h0.01M342.3 314.5h0.01M341.0 319.0h0.01M363.3 275.8h0.01M349.8 319.6h0.01M339.8 320.1h0.01M369.4 268.5h0.01M357.2 276.9h0.01M357.6 303.0h0.01M334.8 283.9h0.01M349.5 277.1h0.01M338.3 284.9h0.01M371.5 319.2h0.01M357.6 316.7h0.01M384.8 298.9h0.01M343.4 305.6h0.01M344.4 288.8h0.01M387.9 277.7h0.01M360.3 319.8h0.01M330.5 300.2h0.01M387.7 311.5h0.01M350.3 328.2h0.01M370.2 321.7h0.01M372.9 279.5h0.01M332.0 304.1h0.01M333.7 306.8h0.01M342.6 293.1h0.01M356.3 313.0h0.01M366.2 270.6h0.01M361.6 290.9h0.01M333.5 309.4h0.01M359.0 291.2h0.01M352.0 285.8h0.01M348.9 283.1h0.01M345.4 301.5h0.01M345.7 280.9h0.01M377.4 295.4h0.01M356.2 316.2h0.01M378.2 306.1h0.01M365.5 277.1h0.01M372.1 326.0h0.01M357.0 310.3h0.01M332.7 301.2h0.01M344.4 271.8h0.01M365.5 272.3h0.01M346.1 323.5h0.01M346.6 305.6h0.01M377.5 317.5h0.01M348.1 281.6h0.01M370.6 308.6h0.01M359.6 312.9h0.01M395.4 304.4h0.01M369.9 311.6h0.01" stroke="#d09448" stroke-width="1.15" stroke-linecap="round" opacity="0.78"/>
</g></g>
<g clip-path="url(#pc4)"><g filter="url(#pb)">
<rect x="412.60" y="253.00" width="94.40" height="94.50" fill="#343b39" stroke="none" stroke-width="1" />
<ellipse cx="470" cy="346" rx="26" ry="6" fill="#a06048" opacity="0.6" filter="url(#sb)"/>
<ellipse cx="416" cy="262" rx="5" ry="10" fill="#8a6a58" opacity="0.5" filter="url(#sb)"/>
<circle cx="460.5" cy="300.3" r="46.5" fill="#403c35" stroke="#b8b8b0" stroke-width="1.1" stroke-opacity="0.8"/>
<circle cx="460.5" cy="300.3" r="43.5" fill="none" stroke="#8a8a80" stroke-width="0.7" stroke-opacity="0.6"/>
<circle cx="462.0" cy="297.5" r="37.5" fill="url(#ing4)"/>
<line x1="460.5" y1="254.8" x2="460.5" y2="261.8" stroke="#d0d0c8" stroke-width="1.3" stroke-opacity="0.35"/>
<line x1="460.5" y1="345.8" x2="460.5" y2="338.8" stroke="#d0d0c8" stroke-width="1.3" stroke-opacity="0.35"/>
<line x1="415.0" y1="300.3" x2="422.0" y2="300.3" stroke="#d0d0c8" stroke-width="1.3" stroke-opacity="0.35"/>
<line x1="506.0" y1="300.3" x2="499.0" y2="300.3" stroke="#d0d0c8" stroke-width="1.3" stroke-opacity="0.35"/>
<path d="M485.7 299.7h0.01M474.1 317.4h0.01M466.7 280.2h0.01M451.0 287.6h0.01M442.9 308.4h0.01M478.6 323.9h0.01M488.0 276.9h0.01M488.9 306.1h0.01M439.3 280.9h0.01M468.8 327.0h0.01M487.4 275.4h0.01M457.4 308.2h0.01M465.0 292.1h0.01M494.9 295.4h0.01M448.4 274.2h0.01M436.3 285.4h0.01M435.8 276.4h0.01M442.1 295.9h0.01M461.2 292.8h0.01M436.7 311.2h0.01M463.1 265.7h0.01M479.7 306.9h0.01M467.0 309.0h0.01M444.0 303.7h0.01M456.1 330.2h0.01M448.2 267.9h0.01M435.8 315.7h0.01M462.5 295.6h0.01M472.7 310.8h0.01M450.0 269.1h0.01M460.2 313.3h0.01M458.1 330.7h0.01M481.9 318.5h0.01M485.0 318.5h0.01M486.2 302.9h0.01M476.6 276.5h0.01M460.5 307.4h0.01M438.5 278.5h0.01M448.7 283.5h0.01M477.1 279.8h0.01M462.9 278.8h0.01M460.3 270.0h0.01M458.7 276.5h0.01M440.1 316.2h0.01M467.5 296.2h0.01" stroke="#d49848" stroke-width="1.15" stroke-linecap="round" opacity="0.78"/>
</g></g>
<text x="69.3" y="362.3" font-size="10.3" text-anchor="middle" fill="#231f20" >Control</text>
<text x="167.5" y="362.3" font-size="10.5" text-anchor="middle" fill="#231f20" >inhibitor NC</text>
<text x="222.5" y="362.3" font-size="10.6" text-anchor="start" fill="#231f20" >miR-520a-3p</text>
<text x="222.5" y="374.0" font-size="10.6" text-anchor="start" fill="#231f20" >inhibitor</text>
<text x="357.0" y="362.3" font-size="10.6" text-anchor="middle" fill="#231f20" >miR-520a-3p inhibitor</text>
<text x="356.7" y="374.0" font-size="10.6" text-anchor="middle" fill="#231f20" >+sh-NC</text>
<text x="463.6" y="362.3" font-size="10.6" text-anchor="middle" fill="#231f20" >miR-520a-3p inhibitor</text>
<text x="463.5" y="374.0" font-size="10.6" text-anchor="middle" fill="#231f20" >+sh-MUC1</text>
<line x1="588.2" y1="241.5" x2="588.2" y2="353.0" stroke="#444" stroke-width="1"/>
<line x1="585.2" y1="353.0" x2="588.2" y2="353.0" stroke="#444" stroke-width="1"/>
<text x="583.3" y="356.2" font-size="8.9" text-anchor="end" fill="#231f20" >0</text>
<line x1="585.2" y1="325.1" x2="588.2" y2="325.1" stroke="#444" stroke-width="1"/>
<text x="583.3" y="328.3" font-size="8.9" text-anchor="end" fill="#231f20" >50</text>
<line x1="585.2" y1="297.2" x2="588.2" y2="297.2" stroke="#444" stroke-width="1"/>
<text x="583.3" y="300.4" font-size="8.9" text-anchor="end" fill="#231f20" >100</text>
<line x1="585.2" y1="269.4" x2="588.2" y2="269.4" stroke="#444" stroke-width="1"/>
<text x="583.3" y="272.6" font-size="8.9" text-anchor="end" fill="#231f20" >150</text>
<line x1="585.2" y1="241.5" x2="588.2" y2="241.5" stroke="#444" stroke-width="1"/>
<text x="583.3" y="244.7" font-size="8.9" text-anchor="end" fill="#231f20" >200</text>
<line x1="588.2" y1="353.0" x2="714.1" y2="353.0" stroke="#444" stroke-width="1"/>
<rect x="592.40" y="318.44" width="17.10" height="34.56" fill="#ececec" stroke="#231f20" stroke-width="0.9" />
<line x1="600.9" y1="314.5" x2="600.9" y2="318.4" stroke="#333" stroke-width="1"/>
<line x1="596.2" y1="314.5" x2="605.7" y2="314.5" stroke="#333" stroke-width="1"/>
<line x1="600.9" y1="353.0" x2="600.9" y2="356.2" stroke="#444" stroke-width="1"/>
<rect x="617.30" y="319.55" width="17.10" height="33.45" fill="#c9caca" stroke="#231f20" stroke-width="0.9" />
<line x1="625.8" y1="314.5" x2="625.8" y2="319.6" stroke="#333" stroke-width="1"/>
<line x1="621.1" y1="314.5" x2="630.6" y2="314.5" stroke="#333" stroke-width="1"/>
<line x1="625.8" y1="353.0" x2="625.8" y2="356.2" stroke="#444" stroke-width="1"/>
<rect x="642.50" y="277.74" width="17.10" height="75.26" fill="#a0a1a1" stroke="#231f20" stroke-width="0.9" />
<line x1="651.0" y1="272.2" x2="651.0" y2="277.7" stroke="#333" stroke-width="1"/>
<line x1="646.3" y1="272.2" x2="655.8" y2="272.2" stroke="#333" stroke-width="1"/>
<line x1="651.0" y1="353.0" x2="651.0" y2="356.2" stroke="#444" stroke-width="1"/>
<rect x="667.40" y="278.30" width="17.10" height="74.70" fill="#6e6e6e" stroke="#231f20" stroke-width="0.9" />
<line x1="675.9" y1="272.2" x2="675.9" y2="278.3" stroke="#333" stroke-width="1"/>
<line x1="671.2" y1="272.2" x2="680.7" y2="272.2" stroke="#333" stroke-width="1"/>
<line x1="675.9" y1="353.0" x2="675.9" y2="356.2" stroke="#444" stroke-width="1"/>
<rect x="692.60" y="320.67" width="17.10" height="32.33" fill="#231815" stroke="#231f20" stroke-width="0.9" />
<line x1="701.1" y1="316.2" x2="701.1" y2="320.7" stroke="#333" stroke-width="1"/>
<line x1="696.4" y1="316.2" x2="705.9" y2="316.2" stroke="#333" stroke-width="1"/>
<line x1="701.1" y1="353.0" x2="701.1" y2="356.2" stroke="#444" stroke-width="1"/>
<line x1="626.6" y1="265.5" x2="651.0" y2="265.5" stroke="#333" stroke-width="0.9"/>
<text x="638.8" y="264.6" font-size="7.8" text-anchor="middle" fill="#231f20" >**</text>
<line x1="676.2" y1="266.0" x2="700.7" y2="266.0" stroke="#333" stroke-width="0.9"/>
<text x="688.5" y="265.1" font-size="7.8" text-anchor="middle" fill="#231f20" >**</text>
<text transform="translate(550.5,300.0) rotate(-90)" font-size="10.6" text-anchor="middle" fill="#231f20">Cell clone formation</text>
<text transform="translate(562.5,300.0) rotate(-90)" font-size="10.6" text-anchor="middle" fill="#231f20">number</text>
<path d="M26.10,515.40 L26.53,515.40 L26.96,515.40 L27.39,515.40 L27.83,515.40 L28.26,515.40 L28.69,515.40 L29.12,515.40 L29.55,515.40 L29.98,515.40 L30.42,515.40 L30.85,515.40 L31.28,515.40 L31.71,515.40 L32.14,515.40 L32.57,515.40 L33.00,515.40 L33.44,515.40 L33.87,515.40 L34.30,515.40 L34.73,515.40 L35.16,515.40 L35.59,515.40 L36.02,515.40 L36.46,515.40 L36.89,515.40 L37.32,515.40 L37.75,515.40 L38.18,515.40 L38.61,515.40 L39.05,515.40 L39.48,515.40 L39.91,515.40 L40.34,515.40 L40.77,515.40 L41.20,515.40 L41.63,515.40 L42.07,515.40 L42.50,515.40 L42.93,515.40 L43.36,515.40 L43.79,515.40 L44.22,515.40 L44.65,515.40 L45.09,515.40 L45.52,515.40 L45.95,515.40 L46.38,515.40 L46.81,515.40 L47.24,515.40 L47.68,515.39 L48.11,515.39 L48.54,515.38 L48.97,515.36 L49.40,515.33 L49.83,515.28 L50.26,515.19 L50.70,515.06 L51.13,514.86 L51.56,514.56 L51.99,514.12 L52.42,512.48 L52.85,512.04 L53.28,511.19 L53.72,509.33 L54.15,506.89 L54.58,505.04 L55.01,501.37 L55.44,497.28 L55.87,492.62 L56.31,488.39 L56.74,484.16 L57.17,478.87 L57.60,473.18 L58.03,468.34 L58.46,463.67 L58.89,459.80 L59.33,456.57 L59.76,454.56 L60.19,453.74 L60.62,454.91 L61.05,456.37 L61.48,459.48 L61.92,462.54 L62.35,467.77 L62.78,472.90 L63.21,477.21 L63.64,481.81 L64.07,486.51 L64.50,491.85 L64.94,494.52 L65.37,497.14 L65.80,500.22 L66.23,502.66 L66.66,503.94 L67.09,505.50 L67.52,505.76 L67.96,507.32 L68.39,507.60 L68.82,508.38 L69.25,508.44 L69.68,508.40 L70.11,508.37 L70.55,507.77 L70.98,508.00 L71.41,508.89 L71.84,507.42 L72.27,506.87 L72.70,507.31 L73.13,508.35 L73.57,508.27 L74.00,508.54 L74.43,508.25 L74.86,508.55 L75.29,508.53 L75.72,508.29 L76.15,508.27 L76.59,507.67 L77.02,507.54 L77.45,507.66 L77.88,507.05 L78.31,506.76 L78.74,507.19 L79.18,506.58 L79.61,506.59 L80.04,506.03 L80.47,505.71 L80.90,505.05 L81.33,504.45 L81.76,503.71 L82.20,503.59 L82.63,503.09 L83.06,502.52 L83.49,502.04 L83.92,501.59 L84.35,501.08 L84.78,499.88 L85.22,500.60 L85.65,500.27 L86.08,499.34 L86.51,500.19 L86.94,500.19 L87.37,500.14 L87.81,500.78 L88.24,501.07 L88.67,501.28 L89.10,501.24 L89.53,501.45 L89.96,501.84 L90.39,503.05 L90.83,504.01 L91.26,505.37 L91.69,505.15 L92.12,506.06 L92.55,507.35 L92.98,507.07 L93.42,507.43 L93.85,508.18 L94.28,509.26 L94.71,509.94 L95.14,510.19 L95.57,510.80 L96.00,511.49 L96.44,512.10 L96.87,512.74 L97.30,512.80 L97.73,513.25 L98.16,513.08 L98.59,514.09 L99.02,514.31 L99.46,514.50 L99.89,514.66 L100.32,514.80 L100.75,514.91 L101.18,515.01 L101.61,515.09 L102.05,515.15 L102.48,515.21 L102.91,515.25 L103.34,515.28 L103.77,515.31 L104.20,515.33 L104.63,515.35 L105.07,515.36 L105.50,515.37 L105.93,515.38 L106.36,515.38 L106.79,515.39 L107.22,515.39 L107.65,515.39 L108.09,515.40 L108.52,515.40 L108.95,515.40 L109.38,515.40 L109.81,515.40 L110.24,515.40 L110.68,515.40 L111.11,515.40 L111.54,515.40 L111.97,515.40 L112.40,515.40 L112.83,515.40 L113.26,515.40 L113.70,515.40 L114.13,515.40 L114.56,515.40 L114.99,515.40 L115.42,515.40 L115.85,515.40 L116.28,515.40 L116.72,515.40 L117.15,515.40 L117.58,515.40 L118.01,515.40 L118.44,515.40 L118.87,515.40 L119.31,515.40 L119.74,515.40 L120.17,515.40 L120.60,515.40 L120.60,515.4 L26.10,515.4 Z" fill="#fff" stroke="#333" stroke-width="0.55"/>
<path d="M26.10,515.40 L26.53,515.40 L26.96,515.40 L27.39,515.40 L27.83,515.40 L28.26,515.40 L28.69,515.40 L29.12,515.40 L29.55,515.40 L29.98,515.40 L30.42,515.40 L30.85,515.40 L31.28,515.40 L31.71,515.40 L32.14,515.40 L32.57,515.40 L33.00,515.40 L33.44,515.40 L33.87,515.40 L34.30,515.40 L34.73,515.40 L35.16,515.40 L35.59,515.40 L36.02,515.40 L36.46,515.40 L36.89,515.40 L37.32,515.40 L37.75,515.40 L38.18,515.40 L38.61,515.40 L39.05,515.40 L39.48,515.40 L39.91,515.40 L40.34,515.40 L40.77,515.40 L41.20,515.40 L41.63,515.40 L42.07,515.40 L42.50,515.40 L42.93,515.40 L43.36,515.40 L43.79,515.40 L44.22,515.40 L44.65,515.40 L45.09,515.40 L45.52,515.40 L45.95,515.40 L46.38,515.40 L46.81,515.40 L47.24,515.40 L47.68,515.39 L48.11,515.39 L48.54,515.38 L48.97,515.36 L49.40,515.33 L49.83,515.28 L50.26,515.19 L50.70,515.06 L51.13,514.86 L51.56,514.56 L51.99,514.12 L52.42,513.50 L52.85,512.62 L53.28,511.44 L53.72,509.87 L54.15,507.85 L54.58,505.31 L55.01,502.21 L55.44,498.54 L55.87,494.30 L56.31,489.58 L56.74,484.47 L57.17,479.15 L57.60,473.81 L58.03,468.69 L58.46,464.04 L58.89,460.11 L59.33,457.11 L59.76,455.22 L60.19,454.57 L60.62,455.19 L61.05,457.04 L61.48,459.99 L61.92,463.84 L62.35,468.35 L62.78,473.23 L63.21,478.25 L63.64,483.15 L64.07,487.76 L64.50,491.93 L64.94,495.59 L65.37,498.70 L65.80,501.26 L66.23,503.31 L66.66,504.91 L67.09,506.13 L67.52,507.03 L67.96,507.67 L68.39,508.12 L68.82,508.43 L69.25,508.64 L69.68,508.77 L70.11,508.86 L70.55,508.90 L70.98,508.93 L71.41,508.94 L71.84,508.94 L72.27,508.93 L72.70,508.91 L73.13,508.89 L73.57,508.86 L74.00,508.82 L74.43,508.77 L74.86,508.71 L75.29,508.64 L75.72,508.55 L76.15,508.44 L76.59,508.31 L77.02,508.16 L77.45,507.98 L77.88,507.78 L78.31,507.55 L78.74,507.28 L79.18,506.98 L79.61,506.64 L80.04,506.27 L80.47,505.87 L80.90,505.44 L81.33,504.98 L81.76,504.49 L82.20,503.99 L82.63,503.47 L83.06,502.96 L83.49,502.46 L83.92,501.98 L84.35,501.53 L84.78,501.14 L85.22,500.81 L85.65,500.56 L86.08,500.41 L86.51,500.36 L86.94,500.42 L87.37,500.59 L87.81,500.86 L88.24,501.24 L88.67,501.70 L89.10,502.22 L89.53,502.80 L89.96,503.42 L90.39,504.06 L90.83,504.72 L91.26,505.39 L91.69,506.06 L92.12,506.74 L92.55,507.41 L92.98,508.06 L93.42,508.71 L93.85,509.34 L94.28,509.94 L94.71,510.52 L95.14,511.06 L95.57,511.57 L96.00,512.05 L96.44,512.48 L96.87,512.88 L97.30,513.24 L97.73,513.56 L98.16,513.84 L98.59,514.09 L99.02,514.31 L99.46,514.50 L99.89,514.66 L100.32,514.80 L100.75,514.91 L101.18,515.01 L101.61,515.09 L102.05,515.15 L102.48,515.21 L102.91,515.25 L103.34,515.28 L103.77,515.31 L104.20,515.33 L104.63,515.35 L105.07,515.36 L105.50,515.37 L105.93,515.38 L106.36,515.38 L106.79,515.39 L107.22,515.39 L107.65,515.39 L108.09,515.40 L108.52,515.40 L108.95,515.40 L109.38,515.40 L109.81,515.40 L110.24,515.40 L110.68,515.40 L111.11,515.40 L111.54,515.40 L111.97,515.40 L112.40,515.40 L112.83,515.40 L113.26,515.40 L113.70,515.40 L114.13,515.40 L114.56,515.40 L114.99,515.40 L115.42,515.40 L115.85,515.40 L116.28,515.40 L116.72,515.40 L117.15,515.40 L117.58,515.40 L118.01,515.40 L118.44,515.40 L118.87,515.40 L119.31,515.40 L119.74,515.40 L120.17,515.40 L120.60,515.40" fill="none" stroke="#555" stroke-width="0.45"/>
<path d="M26.10,515.40 L26.53,515.40 L26.96,515.40 L27.39,515.40 L27.83,515.40 L28.26,515.40 L28.69,515.40 L29.12,515.40 L29.55,515.40 L29.98,515.40 L30.42,515.40 L30.85,515.40 L31.28,515.40 L31.71,515.40 L32.14,515.40 L32.57,515.40 L33.00,515.40 L33.44,515.40 L33.87,515.40 L34.30,515.40 L34.73,515.40 L35.16,515.40 L35.59,515.40 L36.02,515.40 L36.46,515.40 L36.89,515.40 L37.32,515.40 L37.75,515.40 L38.18,515.40 L38.61,515.40 L39.05,515.40 L39.48,515.40 L39.91,515.40 L40.34,515.40 L40.77,515.40 L41.20,515.40 L41.63,515.40 L42.07,515.40 L42.50,515.40 L42.93,515.40 L43.36,515.40 L43.79,515.40 L44.22,515.40 L44.65,515.40 L45.09,515.40 L45.52,515.40 L45.95,515.40 L46.38,515.40 L46.81,515.40 L47.24,515.40 L47.68,515.39 L48.11,515.39 L48.54,515.38 L48.97,515.36 L49.40,515.33 L49.83,515.28 L50.26,515.19 L50.70,515.07 L51.13,514.87 L51.56,514.57 L51.99,514.13 L52.42,513.51 L52.85,512.64 L53.28,511.46 L53.72,509.90 L54.15,507.89 L54.58,505.38 L55.01,502.31 L55.44,498.68 L55.87,494.50 L56.31,489.86 L56.74,484.87 L57.17,479.70 L57.60,474.57 L58.03,469.73 L58.46,465.43 L58.89,461.93 L59.33,459.43 L59.76,458.10 L60.19,458.02 L60.62,459.20 L61.05,461.56 L61.48,464.95 L61.92,469.16 L62.35,473.95 L62.78,479.06 L63.21,484.23 L63.64,489.26 L64.07,493.95 L64.50,498.19 L64.94,501.89 L65.37,505.03 L65.80,507.61 L66.23,509.68 L66.66,511.29 L67.09,512.51 L67.52,513.42 L67.96,514.07 L68.39,514.52 L68.82,514.84 L69.25,515.05 L69.68,515.18 L70.11,515.27 L70.55,515.32 L70.98,515.36 L71.41,515.37 L71.84,515.39 L72.27,515.39 L72.70,515.40 L73.13,515.40 L73.57,515.40 L74.00,515.40 L74.43,515.40 L74.86,515.40 L75.29,515.40 L75.72,515.40 L76.15,515.40 L76.59,515.40 L77.02,515.40 L77.45,515.40 L77.88,515.40 L78.31,515.40 L78.74,515.40 L79.18,515.40 L79.61,515.40 L80.04,515.40 L80.47,515.40 L80.90,515.40 L81.33,515.40 L81.76,515.40 L82.20,515.40 L82.63,515.40 L83.06,515.40 L83.49,515.40 L83.92,515.40 L84.35,515.40 L84.78,515.40 L85.22,515.40 L85.65,515.40 L86.08,515.40 L86.51,515.40 L86.94,515.40 L87.37,515.40 L87.81,515.40 L88.24,515.40 L88.67,515.40 L89.10,515.40 L89.53,515.40 L89.96,515.40 L90.39,515.40 L90.83,515.40 L91.26,515.40 L91.69,515.40 L92.12,515.40 L92.55,515.40 L92.98,515.40 L93.42,515.40 L93.85,515.40 L94.28,515.40 L94.71,515.40 L95.14,515.40 L95.57,515.40 L96.00,515.40 L96.44,515.40 L96.87,515.40 L97.30,515.40 L97.73,515.40 L98.16,515.40 L98.59,515.40 L99.02,515.40 L99.46,515.40 L99.89,515.40 L100.32,515.40 L100.75,515.40 L101.18,515.40 L101.61,515.40 L102.05,515.40 L102.48,515.40 L102.91,515.40 L103.34,515.40 L103.77,515.40 L104.20,515.40 L104.63,515.40 L105.07,515.40 L105.50,515.40 L105.93,515.40 L106.36,515.40 L106.79,515.40 L107.22,515.40 L107.65,515.40 L108.09,515.40 L108.52,515.40 L108.95,515.40 L109.38,515.40 L109.81,515.40 L110.24,515.40 L110.68,515.40 L111.11,515.40 L111.54,515.40 L111.97,515.40 L112.40,515.40 L112.83,515.40 L113.26,515.40 L113.70,515.40 L114.13,515.40 L114.56,515.40 L114.99,515.40 L115.42,515.40 L115.85,515.40 L116.28,515.40 L116.72,515.40 L117.15,515.40 L117.58,515.40 L118.01,515.40 L118.44,515.40 L118.87,515.40 L119.31,515.40 L119.74,515.40 L120.17,515.40 L120.60,515.40 L120.60,515.4 L26.10,515.4 Z" fill="#e60012" stroke="#5a0a0a" stroke-width="0.5"/>
<path d="M26.10,515.40 L26.53,515.40 L26.96,515.40 L27.39,515.40 L27.83,515.40 L28.26,515.40 L28.69,515.40 L29.12,515.40 L29.55,515.40 L29.98,515.40 L30.42,515.40 L30.85,515.40 L31.28,515.40 L31.71,515.40 L32.14,515.40 L32.57,515.40 L33.00,515.40 L33.44,515.40 L33.87,515.40 L34.30,515.40 L34.73,515.40 L35.16,515.40 L35.59,515.40 L36.02,515.40 L36.46,515.40 L36.89,515.40 L37.32,515.40 L37.75,515.40 L38.18,515.40 L38.61,515.40 L39.05,515.40 L39.48,515.40 L39.91,515.40 L40.34,515.40 L40.77,515.40 L41.20,515.40 L41.63,515.40 L42.07,515.40 L42.50,515.40 L42.93,515.40 L43.36,515.40 L43.79,515.40 L44.22,515.40 L44.65,515.40 L45.09,515.40 L45.52,515.40 L45.95,515.40 L46.38,515.40 L46.81,515.40 L47.24,515.40 L47.68,515.40 L48.11,515.40 L48.54,515.40 L48.97,515.40 L49.40,515.40 L49.83,515.40 L50.26,515.40 L50.70,515.40 L51.13,515.40 L51.56,515.40 L51.99,515.40 L52.42,515.40 L52.85,515.40 L53.28,515.40 L53.72,515.40 L54.15,515.40 L54.58,515.40 L55.01,515.40 L55.44,515.40 L55.87,515.40 L56.31,515.40 L56.74,515.40 L57.17,515.40 L57.60,515.40 L58.03,515.40 L58.46,515.40 L58.89,515.40 L59.33,515.40 L59.76,515.40 L60.19,515.40 L60.62,515.40 L61.05,515.40 L61.48,515.40 L61.92,515.40 L62.35,515.40 L62.78,515.40 L63.21,515.40 L63.64,515.40 L64.07,515.40 L64.50,515.40 L64.94,515.40 L65.37,515.40 L65.80,515.40 L66.23,515.40 L66.66,515.40 L67.09,515.40 L67.52,515.40 L67.96,515.40 L68.39,515.40 L68.82,515.39 L69.25,515.39 L69.68,515.39 L70.11,515.39 L70.55,515.38 L70.98,515.37 L71.41,515.36 L71.84,515.35 L72.27,515.34 L72.70,515.32 L73.13,515.29 L73.57,515.26 L74.00,515.22 L74.43,515.17 L74.86,515.11 L75.29,515.04 L75.72,514.95 L76.15,514.85 L76.59,514.72 L77.02,514.57 L77.45,514.39 L77.88,514.19 L78.31,513.96 L78.74,513.69 L79.18,513.39 L79.61,513.06 L80.04,512.69 L80.47,512.29 L80.90,511.85 L81.33,511.38 L81.76,510.89 L82.20,510.37 L82.63,509.83 L83.06,509.28 L83.49,508.73 L83.92,508.18 L84.35,507.64 L84.78,507.12 L85.22,506.64 L85.65,506.19 L86.08,505.80 L86.51,505.46 L86.94,505.18 L87.37,504.98 L87.81,504.85 L88.24,504.80 L88.67,504.83 L89.10,504.93 L89.53,505.12 L89.96,505.37 L90.39,505.69 L90.83,506.07 L91.26,506.50 L91.69,506.98 L92.12,507.48 L92.55,508.02 L92.98,508.56 L93.42,509.12 L93.85,509.67 L94.28,510.21 L94.71,510.74 L95.14,511.24 L95.57,511.72 L96.00,512.17 L96.44,512.58 L96.87,512.96 L97.30,513.30 L97.73,513.61 L98.16,513.88 L98.59,514.13 L99.02,514.34 L99.46,514.52 L99.89,514.68 L100.32,514.81 L100.75,514.92 L101.18,515.02 L101.61,515.09 L102.05,515.16 L102.48,515.21 L102.91,515.25 L103.34,515.29 L103.77,515.31 L104.20,515.33 L104.63,515.35 L105.07,515.36 L105.50,515.37 L105.93,515.38 L106.36,515.38 L106.79,515.39 L107.22,515.39 L107.65,515.39 L108.09,515.40 L108.52,515.40 L108.95,515.40 L109.38,515.40 L109.81,515.40 L110.24,515.40 L110.68,515.40 L111.11,515.40 L111.54,515.40 L111.97,515.40 L112.40,515.40 L112.83,515.40 L113.26,515.40 L113.70,515.40 L114.13,515.40 L114.56,515.40 L114.99,515.40 L115.42,515.40 L115.85,515.40 L116.28,515.40 L116.72,515.40 L117.15,515.40 L117.58,515.40 L118.01,515.40 L118.44,515.40 L118.87,515.40 L119.31,515.40 L119.74,515.40 L120.17,515.40 L120.60,515.40 L120.60,515.4 L26.10,515.4 Z" fill="#e60012" stroke="#5a0a0a" stroke-width="0.5"/>
<path d="M26.10,515.40 L26.53,515.40 L26.96,515.40 L27.39,515.40 L27.83,515.40 L28.26,515.40 L28.69,515.40 L29.12,515.40 L29.55,515.40 L29.98,515.40 L30.42,515.40 L30.85,515.40 L31.28,515.40 L31.71,515.40 L32.14,515.40 L32.57,515.40 L33.00,515.40 L33.44,515.40 L33.87,515.40 L34.30,515.40 L34.73,515.40 L35.16,515.40 L35.59,515.40 L36.02,515.40 L36.46,515.40 L36.89,515.40 L37.32,515.40 L37.75,515.40 L38.18,515.40 L38.61,515.40 L39.05,515.40 L39.48,515.40 L39.91,515.40 L40.34,515.40 L40.77,515.40 L41.20,515.40 L41.63,515.40 L42.07,515.40 L42.50,515.40 L42.93,515.40 L43.36,515.40 L43.79,515.40 L44.22,515.40 L44.65,515.40 L45.09,515.40 L45.52,515.40 L45.95,515.40 L46.38,515.40 L46.81,515.40 L47.24,515.40 L47.68,515.40 L48.11,515.40 L48.54,515.40 L48.97,515.40 L49.40,515.40 L49.83,515.40 L50.26,515.40 L50.70,515.40 L51.13,515.40 L51.56,515.39 L51.99,515.39 L52.42,515.39 L52.85,515.38 L53.28,515.38 L53.72,515.37 L54.15,515.35 L54.58,515.33 L55.01,515.30 L55.44,515.26 L55.87,515.20 L56.31,515.12 L56.74,515.00 L57.17,514.85 L57.60,514.64 L58.03,514.36 L58.46,514.01 L58.89,513.58 L59.33,513.08 L59.76,512.52 L60.19,511.95 L60.62,511.39 L61.05,510.88 L61.48,510.44 L61.92,510.08 L62.35,509.79 L62.78,509.58 L63.21,509.41 L63.64,509.29 L64.07,509.21 L64.50,509.15 L64.94,509.10 L65.37,509.07 L65.80,509.05 L66.23,509.04 L66.66,509.02 L67.09,509.02 L67.52,509.01 L67.96,509.01 L68.39,509.01 L68.82,509.00 L69.25,509.00 L69.68,509.00 L70.11,509.00 L70.55,509.00 L70.98,509.00 L71.41,509.00 L71.84,509.00 L72.27,509.00 L72.70,509.00 L73.13,509.00 L73.57,509.00 L74.00,509.00 L74.43,509.00 L74.86,509.00 L75.29,509.00 L75.72,509.00 L76.15,509.00 L76.59,509.00 L77.02,509.01 L77.45,509.01 L77.88,509.01 L78.31,509.01 L78.74,509.02 L79.18,509.02 L79.61,509.03 L80.04,509.04 L80.47,509.05 L80.90,509.06 L81.33,509.08 L81.76,509.11 L82.20,509.14 L82.63,509.18 L83.06,509.23 L83.49,509.30 L83.92,509.39 L84.35,509.50 L84.78,509.64 L85.22,509.81 L85.65,510.02 L86.08,510.28 L86.51,510.58 L86.94,510.92 L87.37,511.30 L87.81,511.71 L88.24,512.14 L88.67,512.57 L89.10,512.98 L89.53,513.37 L89.96,513.73 L90.39,514.04 L90.83,514.31 L91.26,514.53 L91.69,514.71 L92.12,514.86 L92.55,514.98 L92.98,515.07 L93.42,515.15 L93.85,515.21 L94.28,515.25 L94.71,515.29 L95.14,515.31 L95.57,515.33 L96.00,515.35 L96.44,515.36 L96.87,515.37 L97.30,515.38 L97.73,515.38 L98.16,515.39 L98.59,515.39 L99.02,515.39 L99.46,515.39 L99.89,515.40 L100.32,515.40 L100.75,515.40 L101.18,515.40 L101.61,515.40 L102.05,515.40 L102.48,515.40 L102.91,515.40 L103.34,515.40 L103.77,515.40 L104.20,515.40 L104.63,515.40 L105.07,515.40 L105.50,515.40 L105.93,515.40 L106.36,515.40 L106.79,515.40 L107.22,515.40 L107.65,515.40 L108.09,515.40 L108.52,515.40 L108.95,515.40 L109.38,515.40 L109.81,515.40 L110.24,515.40 L110.68,515.40 L111.11,515.40 L111.54,515.40 L111.97,515.40 L112.40,515.40 L112.83,515.40 L113.26,515.40 L113.70,515.40 L114.13,515.40 L114.56,515.40 L114.99,515.40 L115.42,515.40 L115.85,515.40 L116.28,515.40 L116.72,515.40 L117.15,515.40 L117.58,515.40 L118.01,515.40 L118.44,515.40 L118.87,515.40 L119.31,515.40 L119.74,515.40 L120.17,515.40 L120.60,515.40 L120.60,515.4 L26.10,515.4 Z" fill="url(#hatch)" stroke="#333" stroke-width="0.4" style="mix-blend-mode:multiply"/>
<line x1="26.1" y1="433.5" x2="26.1" y2="515.4" stroke="#555" stroke-width="0.7"/>
<line x1="26.1" y1="515.4" x2="120.6" y2="515.4" stroke="#555" stroke-width="0.7"/>
<path d="M23.9 515.4h2.2M24.9 513.4h1.2M24.9 511.3h1.2M24.9 509.3h1.2M24.9 507.2h1.2M23.9 505.2h2.2M24.9 503.2h1.2M24.9 501.1h1.2M24.9 499.1h1.2M24.9 497.0h1.2M23.9 495.0h2.2M24.9 493.0h1.2M24.9 490.9h1.2M24.9 488.9h1.2M24.9 486.8h1.2M23.9 484.8h2.2M24.9 482.8h1.2M24.9 480.7h1.2M24.9 478.7h1.2M24.9 476.6h1.2M23.9 474.6h2.2M24.9 472.6h1.2M24.9 470.5h1.2M24.9 468.5h1.2M24.9 466.4h1.2M23.9 464.4h2.2M24.9 462.4h1.2M24.9 460.3h1.2M24.9 458.3h1.2M24.9 456.2h1.2M23.9 454.2h2.2M24.9 452.2h1.2M24.9 450.1h1.2M24.9 448.1h1.2M24.9 446.0h1.2M23.9 444.0h2.2M24.9 442.0h1.2M24.9 439.9h1.2M24.9 437.9h1.2M24.9 435.8h1.2M23.9 433.8h2.2M26.1 515.4v2.2M28.0 515.4v1.2M29.9 515.4v1.2M31.8 515.4v1.2M33.7 515.4v1.2M35.5 515.4v1.2M37.4 515.4v1.2M39.3 515.4v1.2M41.2 515.4v1.2M43.1 515.4v1.2M45.0 515.4v2.2M46.9 515.4v1.2M48.8 515.4v1.2M50.7 515.4v1.2M52.6 515.4v1.2M54.5 515.4v1.2M56.3 515.4v1.2M58.2 515.4v1.2M60.1 515.4v1.2M62.0 515.4v1.2M63.9 515.4v2.2M65.8 515.4v1.2M67.7 515.4v1.2M69.6 515.4v1.2M71.5 515.4v1.2M73.3 515.4v1.2M75.2 515.4v1.2M77.1 515.4v1.2M79.0 515.4v1.2M80.9 515.4v1.2M82.8 515.4v2.2M84.7 515.4v1.2M86.6 515.4v1.2M88.5 515.4v1.2M90.4 515.4v1.2M92.2 515.4v1.2M94.1 515.4v1.2M96.0 515.4v1.2M97.9 515.4v1.2M99.8 515.4v1.2M101.7 515.4v2.2M103.6 515.4v1.2M105.5 515.4v1.2M107.4 515.4v1.2M109.3 515.4v1.2M111.2 515.4v1.2M113.0 515.4v1.2M114.9 515.4v1.2M116.8 515.4v1.2M118.7 515.4v1.2M120.6 515.4v2.2" stroke="#666" stroke-width="0.4" fill="none"/>
<text x="26.1" y="521.9" class="t" font-size="3.8" text-anchor="middle" fill="#666">0</text>
<text x="45.0" y="521.9" class="t" font-size="3.8" text-anchor="middle" fill="#666">20</text>
<text x="63.9" y="521.9" class="t" font-size="3.8" text-anchor="middle" fill="#666">40</text>
<text x="82.8" y="521.9" class="t" font-size="3.8" text-anchor="middle" fill="#666">60</text>
<text x="101.7" y="521.9" class="t" font-size="3.8" text-anchor="middle" fill="#666">80</text>
<text x="120.6" y="521.9" class="t" font-size="3.8" text-anchor="middle" fill="#666">100</text>
<text transform="translate(22.1,515.4) rotate(-90)" class="t" font-size="3.6" text-anchor="middle" fill="#666">0</text>
<text transform="translate(22.1,501.8) rotate(-90)" class="t" font-size="3.6" text-anchor="middle" fill="#666">20</text>
<text transform="translate(22.1,488.2) rotate(-90)" class="t" font-size="3.6" text-anchor="middle" fill="#666">40</text>
<text transform="translate(22.1,474.6) rotate(-90)" class="t" font-size="3.6" text-anchor="middle" fill="#666">60</text>
<text transform="translate(22.1,461.0) rotate(-90)" class="t" font-size="3.6" text-anchor="middle" fill="#666">80</text>
<text transform="translate(22.1,447.4) rotate(-90)" class="t" font-size="3.6" text-anchor="middle" fill="#666">100</text>
<text transform="translate(22.1,433.8) rotate(-90)" class="t" font-size="3.6" text-anchor="middle" fill="#666">120</text>
<path d="M136.80,515.40 L137.23,515.40 L137.66,515.40 L138.09,515.40 L138.53,515.40 L138.96,515.40 L139.39,515.40 L139.82,515.40 L140.25,515.40 L140.68,515.40 L141.12,515.40 L141.55,515.40 L141.98,515.40 L142.41,515.40 L142.84,515.40 L143.27,515.40 L143.70,515.40 L144.14,515.40 L144.57,515.40 L145.00,515.40 L145.43,515.40 L145.86,515.40 L146.29,515.40 L146.72,515.40 L147.16,515.40 L147.59,515.40 L148.02,515.40 L148.45,515.40 L148.88,515.40 L149.31,515.40 L149.75,515.40 L150.18,515.40 L150.61,515.40 L151.04,515.40 L151.47,515.40 L151.90,515.40 L152.33,515.40 L152.77,515.40 L153.20,515.40 L153.63,515.40 L154.06,515.40 L154.49,515.40 L154.92,515.40 L155.35,515.40 L155.79,515.40 L156.22,515.40 L156.65,515.40 L157.08,515.40 L157.51,515.40 L157.94,515.40 L158.38,515.40 L158.81,515.40 L159.24,515.40 L159.67,515.39 L160.10,515.38 L160.53,515.37 L160.96,515.34 L161.40,515.28 L161.83,515.19 L162.26,515.03 L162.69,514.76 L163.12,514.34 L163.55,513.47 L163.98,512.01 L164.42,510.94 L164.85,508.85 L165.28,506.46 L165.71,503.25 L166.14,498.49 L166.57,493.77 L167.01,487.80 L167.44,480.99 L167.87,474.12 L168.30,467.30 L168.73,460.82 L169.16,455.35 L169.59,450.96 L170.03,447.58 L170.46,447.11 L170.89,447.72 L171.32,450.57 L171.75,455.14 L172.18,460.84 L172.62,467.15 L173.05,473.65 L173.48,480.03 L173.91,485.93 L174.34,490.77 L174.77,495.18 L175.20,498.95 L175.64,501.69 L176.07,503.57 L176.50,505.41 L176.93,506.15 L177.36,506.34 L177.79,506.77 L178.22,506.92 L178.66,506.54 L179.09,507.46 L179.52,507.43 L179.95,508.23 L180.38,507.44 L180.81,507.09 L181.25,507.75 L181.68,507.90 L182.11,507.48 L182.54,508.19 L182.97,507.50 L183.40,507.78 L183.83,507.90 L184.27,507.92 L184.70,507.90 L185.13,507.64 L185.56,507.72 L185.99,507.95 L186.42,507.06 L186.85,507.83 L187.29,507.83 L187.72,507.77 L188.15,507.39 L188.58,506.94 L189.01,506.73 L189.44,505.71 L189.88,505.79 L190.31,506.04 L190.74,505.52 L191.17,505.17 L191.60,504.51 L192.03,504.44 L192.46,503.91 L192.90,503.57 L193.33,502.61 L193.76,502.17 L194.19,501.96 L194.62,501.34 L195.05,501.05 L195.48,500.39 L195.92,500.38 L196.35,500.14 L196.78,499.72 L197.21,499.87 L197.64,500.32 L198.07,500.57 L198.51,500.87 L198.94,500.70 L199.37,501.29 L199.80,501.07 L200.23,502.19 L200.66,503.34 L201.09,504.89 L201.53,505.45 L201.96,506.42 L202.39,507.02 L202.82,507.92 L203.25,507.90 L203.68,508.50 L204.12,508.40 L204.55,509.91 L204.98,510.30 L205.41,511.45 L205.84,511.72 L206.27,512.57 L206.70,512.68 L207.14,512.43 L207.57,513.90 L208.00,514.17 L208.43,514.40 L208.86,514.59 L209.29,514.76 L209.72,514.89 L210.16,515.00 L210.59,515.09 L211.02,515.16 L211.45,515.22 L211.88,515.26 L212.31,515.30 L212.75,515.32 L213.18,515.34 L213.61,515.36 L214.04,515.37 L214.47,515.38 L214.90,515.38 L215.33,515.39 L215.77,515.39 L216.20,515.39 L216.63,515.40 L217.06,515.40 L217.49,515.40 L217.92,515.40 L218.35,515.40 L218.79,515.40 L219.22,515.40 L219.65,515.40 L220.08,515.40 L220.51,515.40 L220.94,515.40 L221.38,515.40 L221.81,515.40 L222.24,515.40 L222.67,515.40 L223.10,515.40 L223.53,515.40 L223.96,515.40 L224.40,515.40 L224.83,515.40 L225.26,515.40 L225.69,515.40 L226.12,515.40 L226.55,515.40 L226.98,515.40 L227.42,515.40 L227.85,515.40 L228.28,515.40 L228.71,515.40 L229.14,515.40 L229.57,515.40 L230.01,515.40 L230.44,515.40 L230.87,515.40 L231.30,515.40 L231.30,515.4 L136.80,515.4 Z" fill="#fff" stroke="#333" stroke-width="0.55"/>
<path d="M136.80,515.40 L137.23,515.40 L137.66,515.40 L138.09,515.40 L138.53,515.40 L138.96,515.40 L139.39,515.40 L139.82,515.40 L140.25,515.40 L140.68,515.40 L141.12,515.40 L141.55,515.40 L141.98,515.40 L142.41,515.40 L142.84,515.40 L143.27,515.40 L143.70,515.40 L144.14,515.40 L144.57,515.40 L145.00,515.40 L145.43,515.40 L145.86,515.40 L146.29,515.40 L146.72,515.40 L147.16,515.40 L147.59,515.40 L148.02,515.40 L148.45,515.40 L148.88,515.40 L149.31,515.40 L149.75,515.40 L150.18,515.40 L150.61,515.40 L151.04,515.40 L151.47,515.40 L151.90,515.40 L152.33,515.40 L152.77,515.40 L153.20,515.40 L153.63,515.40 L154.06,515.40 L154.49,515.40 L154.92,515.40 L155.35,515.40 L155.79,515.40 L156.22,515.40 L156.65,515.40 L157.08,515.40 L157.51,515.40 L157.94,515.40 L158.38,515.40 L158.81,515.40 L159.24,515.40 L159.67,515.39 L160.10,515.38 L160.53,515.37 L160.96,515.34 L161.40,515.28 L161.83,515.19 L162.26,515.03 L162.69,514.76 L163.12,514.34 L163.55,513.69 L163.98,512.71 L164.42,511.31 L164.85,509.35 L165.28,506.72 L165.71,503.30 L166.14,499.03 L166.57,493.89 L167.01,487.95 L167.44,481.38 L167.87,474.45 L168.30,467.52 L168.73,461.01 L169.16,455.37 L169.59,451.01 L170.03,448.28 L170.46,447.40 L170.89,448.42 L171.32,451.24 L171.75,455.60 L172.18,461.12 L172.62,467.34 L173.05,473.82 L173.48,480.16 L173.91,486.02 L174.34,491.19 L174.77,495.57 L175.20,499.11 L175.64,501.88 L176.07,503.96 L176.50,505.46 L176.93,506.52 L177.36,507.23 L177.79,507.69 L178.22,507.99 L178.66,508.16 L179.09,508.27 L179.52,508.33 L179.95,508.36 L180.38,508.38 L180.81,508.39 L181.25,508.39 L181.68,508.39 L182.11,508.39 L182.54,508.38 L182.97,508.37 L183.40,508.37 L183.83,508.35 L184.27,508.33 L184.70,508.31 L185.13,508.28 L185.56,508.24 L185.99,508.19 L186.42,508.13 L186.85,508.05 L187.29,507.95 L187.72,507.83 L188.15,507.69 L188.58,507.52 L189.01,507.31 L189.44,507.07 L189.88,506.79 L190.31,506.47 L190.74,506.12 L191.17,505.72 L191.60,505.28 L192.03,504.81 L192.46,504.30 L192.90,503.77 L193.33,503.23 L193.76,502.68 L194.19,502.15 L194.62,501.64 L195.05,501.18 L195.48,500.78 L195.92,500.47 L196.35,500.25 L196.78,500.15 L197.21,500.17 L197.64,500.33 L198.07,500.60 L198.51,501.00 L198.94,501.50 L199.37,502.08 L199.80,502.73 L200.23,503.43 L200.66,504.17 L201.09,504.93 L201.53,505.70 L201.96,506.47 L202.39,507.24 L202.82,507.99 L203.25,508.72 L203.68,509.43 L204.12,510.10 L204.55,510.74 L204.98,511.33 L205.41,511.88 L205.84,512.38 L206.27,512.83 L206.70,513.23 L207.14,513.59 L207.57,513.90 L208.00,514.17 L208.43,514.40 L208.86,514.59 L209.29,514.76 L209.72,514.89 L210.16,515.00 L210.59,515.09 L211.02,515.16 L211.45,515.22 L211.88,515.26 L212.31,515.30 L212.75,515.32 L213.18,515.34 L213.61,515.36 L214.04,515.37 L214.47,515.38 L214.90,515.38 L215.33,515.39 L215.77,515.39 L216.20,515.39 L216.63,515.40 L217.06,515.40 L217.49,515.40 L217.92,515.40 L218.35,515.40 L218.79,515.40 L219.22,515.40 L219.65,515.40 L220.08,515.40 L220.51,515.40 L220.94,515.40 L221.38,515.40 L221.81,515.40 L222.24,515.40 L222.67,515.40 L223.10,515.40 L223.53,515.40 L223.96,515.40 L224.40,515.40 L224.83,515.40 L225.26,515.40 L225.69,515.40 L226.12,515.40 L226.55,515.40 L226.98,515.40 L227.42,515.40 L227.85,515.40 L228.28,515.40 L228.71,515.40 L229.14,515.40 L229.57,515.40 L230.01,515.40 L230.44,515.40 L230.87,515.40 L231.30,515.40" fill="none" stroke="#555" stroke-width="0.45"/>
<path d="M136.80,515.40 L137.23,515.40 L137.66,515.40 L138.09,515.40 L138.53,515.40 L138.96,515.40 L139.39,515.40 L139.82,515.40 L140.25,515.40 L140.68,515.40 L141.12,515.40 L141.55,515.40 L141.98,515.40 L142.41,515.40 L142.84,515.40 L143.27,515.40 L143.70,515.40 L144.14,515.40 L144.57,515.40 L145.00,515.40 L145.43,515.40 L145.86,515.40 L146.29,515.40 L146.72,515.40 L147.16,515.40 L147.59,515.40 L148.02,515.40 L148.45,515.40 L148.88,515.40 L149.31,515.40 L149.75,515.40 L150.18,515.40 L150.61,515.40 L151.04,515.40 L151.47,515.40 L151.90,515.40 L152.33,515.40 L152.77,515.40 L153.20,515.40 L153.63,515.40 L154.06,515.40 L154.49,515.40 L154.92,515.40 L155.35,515.40 L155.79,515.40 L156.22,515.40 L156.65,515.40 L157.08,515.40 L157.51,515.40 L157.94,515.40 L158.38,515.40 L158.81,515.40 L159.24,515.40 L159.67,515.39 L160.10,515.38 L160.53,515.37 L160.96,515.34 L161.40,515.29 L161.83,515.19 L162.26,515.03 L162.69,514.77 L163.12,514.36 L163.55,513.71 L163.98,512.75 L164.42,511.36 L164.85,509.43 L165.28,506.83 L165.71,503.45 L166.14,499.24 L166.57,494.19 L167.01,488.37 L167.44,481.97 L167.87,475.27 L168.30,468.64 L168.73,462.51 L169.16,457.33 L169.59,453.51 L170.03,451.39 L170.46,451.13 L170.89,452.76 L171.32,456.15 L171.75,461.00 L172.18,466.91 L172.62,473.46 L173.05,480.18 L173.48,486.69 L173.91,492.69 L174.34,497.96 L174.77,502.40 L175.20,506.00 L175.64,508.80 L176.07,510.90 L176.50,512.42 L176.93,513.49 L177.36,514.21 L177.79,514.68 L178.22,514.98 L178.66,515.16 L179.09,515.27 L179.52,515.33 L179.95,515.36 L180.38,515.38 L180.81,515.39 L181.25,515.40 L181.68,515.40 L182.11,515.40 L182.54,515.40 L182.97,515.40 L183.40,515.40 L183.83,515.40 L184.27,515.40 L184.70,515.40 L185.13,515.40 L185.56,515.40 L185.99,515.40 L186.42,515.40 L186.85,515.40 L187.29,515.40 L187.72,515.40 L188.15,515.40 L188.58,515.40 L189.01,515.40 L189.44,515.40 L189.88,515.40 L190.31,515.40 L190.74,515.40 L191.17,515.40 L191.60,515.40 L192.03,515.40 L192.46,515.40 L192.90,515.40 L193.33,515.40 L193.76,515.40 L194.19,515.40 L194.62,515.40 L195.05,515.40 L195.48,515.40 L195.92,515.40 L196.35,515.40 L196.78,515.40 L197.21,515.40 L197.64,515.40 L198.07,515.40 L198.51,515.40 L198.94,515.40 L199.37,515.40 L199.80,515.40 L200.23,515.40 L200.66,515.40 L201.09,515.40 L201.53,515.40 L201.96,515.40 L202.39,515.40 L202.82,515.40 L203.25,515.40 L203.68,515.40 L204.12,515.40 L204.55,515.40 L204.98,515.40 L205.41,515.40 L205.84,515.40 L206.27,515.40 L206.70,515.40 L207.14,515.40 L207.57,515.40 L208.00,515.40 L208.43,515.40 L208.86,515.40 L209.29,515.40 L209.72,515.40 L210.16,515.40 L210.59,515.40 L211.02,515.40 L211.45,515.40 L211.88,515.40 L212.31,515.40 L212.75,515.40 L213.18,515.40 L213.61,515.40 L214.04,515.40 L214.47,515.40 L214.90,515.40 L215.33,515.40 L215.77,515.40 L216.20,515.40 L216.63,515.40 L217.06,515.40 L217.49,515.40 L217.92,515.40 L218.35,515.40 L218.79,515.40 L219.22,515.40 L219.65,515.40 L220.08,515.40 L220.51,515.40 L220.94,515.40 L221.38,515.40 L221.81,515.40 L222.24,515.40 L222.67,515.40 L223.10,515.40 L223.53,515.40 L223.96,515.40 L224.40,515.40 L224.83,515.40 L225.26,515.40 L225.69,515.40 L226.12,515.40 L226.55,515.40 L226.98,515.40 L227.42,515.40 L227.85,515.40 L228.28,515.40 L228.71,515.40 L229.14,515.40 L229.57,515.40 L230.01,515.40 L230.44,515.40 L230.87,515.40 L231.30,515.40 L231.30,515.4 L136.80,515.4 Z" fill="#e60012" stroke="#5a0a0a" stroke-width="0.5"/>
<path d="M136.80,515.40 L137.23,515.40 L137.66,515.40 L138.09,515.40 L138.53,515.40 L138.96,515.40 L139.39,515.40 L139.82,515.40 L140.25,515.40 L140.68,515.40 L141.12,515.40 L141.55,515.40 L141.98,515.40 L142.41,515.40 L142.84,515.40 L143.27,515.40 L143.70,515.40 L144.14,515.40 L144.57,515.40 L145.00,515.40 L145.43,515.40 L145.86,515.40 L146.29,515.40 L146.72,515.40 L147.16,515.40 L147.59,515.40 L148.02,515.40 L148.45,515.40 L148.88,515.40 L149.31,515.40 L149.75,515.40 L150.18,515.40 L150.61,515.40 L151.04,515.40 L151.47,515.40 L151.90,515.40 L152.33,515.40 L152.77,515.40 L153.20,515.40 L153.63,515.40 L154.06,515.40 L154.49,515.40 L154.92,515.40 L155.35,515.40 L155.79,515.40 L156.22,515.40 L156.65,515.40 L157.08,515.40 L157.51,515.40 L157.94,515.40 L158.38,515.40 L158.81,515.40 L159.24,515.40 L159.67,515.40 L160.10,515.40 L160.53,515.40 L160.96,515.40 L161.40,515.40 L161.83,515.40 L162.26,515.40 L162.69,515.40 L163.12,515.40 L163.55,515.40 L163.98,515.40 L164.42,515.40 L164.85,515.40 L165.28,515.40 L165.71,515.40 L166.14,515.40 L166.57,515.40 L167.01,515.40 L167.44,515.40 L167.87,515.40 L168.30,515.40 L168.73,515.40 L169.16,515.40 L169.59,515.40 L170.03,515.40 L170.46,515.40 L170.89,515.40 L171.32,515.40 L171.75,515.40 L172.18,515.40 L172.62,515.40 L173.05,515.40 L173.48,515.40 L173.91,515.40 L174.34,515.40 L174.77,515.40 L175.20,515.40 L175.64,515.40 L176.07,515.40 L176.50,515.40 L176.93,515.40 L177.36,515.40 L177.79,515.40 L178.22,515.40 L178.66,515.40 L179.09,515.40 L179.52,515.40 L179.95,515.40 L180.38,515.40 L180.81,515.40 L181.25,515.39 L181.68,515.39 L182.11,515.39 L182.54,515.38 L182.97,515.37 L183.40,515.36 L183.83,515.35 L184.27,515.33 L184.70,515.31 L185.13,515.28 L185.56,515.24 L185.99,515.19 L186.42,515.13 L186.85,515.05 L187.29,514.95 L187.72,514.83 L188.15,514.69 L188.58,514.51 L189.01,514.30 L189.44,514.06 L189.88,513.78 L190.31,513.46 L190.74,513.10 L191.17,512.69 L191.60,512.24 L192.03,511.75 L192.46,511.22 L192.90,510.65 L193.33,510.06 L193.76,509.46 L194.19,508.84 L194.62,508.23 L195.05,507.63 L195.48,507.06 L195.92,506.53 L196.35,506.05 L196.78,505.63 L197.21,505.29 L197.64,505.04 L198.07,504.87 L198.51,504.80 L198.94,504.83 L199.37,504.95 L199.80,505.17 L200.23,505.47 L200.66,505.86 L201.09,506.31 L201.53,506.82 L201.96,507.38 L202.39,507.96 L202.82,508.57 L203.25,509.19 L203.68,509.80 L204.12,510.40 L204.55,510.97 L204.98,511.52 L205.41,512.03 L205.84,512.50 L206.27,512.92 L206.70,513.31 L207.14,513.65 L207.57,513.94 L208.00,514.20 L208.43,514.42 L208.86,514.61 L209.29,514.77 L209.72,514.90 L210.16,515.01 L210.59,515.09 L211.02,515.16 L211.45,515.22 L211.88,515.26 L212.31,515.30 L212.75,515.32 L213.18,515.34 L213.61,515.36 L214.04,515.37 L214.47,515.38 L214.90,515.39 L215.33,515.39 L215.77,515.39 L216.20,515.39 L216.63,515.40 L217.06,515.40 L217.49,515.40 L217.92,515.40 L218.35,515.40 L218.79,515.40 L219.22,515.40 L219.65,515.40 L220.08,515.40 L220.51,515.40 L220.94,515.40 L221.38,515.40 L221.81,515.40 L222.24,515.40 L222.67,515.40 L223.10,515.40 L223.53,515.40 L223.96,515.40 L224.40,515.40 L224.83,515.40 L225.26,515.40 L225.69,515.40 L226.12,515.40 L226.55,515.40 L226.98,515.40 L227.42,515.40 L227.85,515.40 L228.28,515.40 L228.71,515.40 L229.14,515.40 L229.57,515.40 L230.01,515.40 L230.44,515.40 L230.87,515.40 L231.30,515.40 L231.30,515.4 L136.80,515.4 Z" fill="#e60012" stroke="#5a0a0a" stroke-width="0.5"/>
<path d="M136.80,515.40 L137.23,515.40 L137.66,515.40 L138.09,515.40 L138.53,515.40 L138.96,515.40 L139.39,515.40 L139.82,515.40 L140.25,515.40 L140.68,515.40 L141.12,515.40 L141.55,515.40 L141.98,515.40 L142.41,515.40 L142.84,515.40 L143.27,515.40 L143.70,515.40 L144.14,515.40 L144.57,515.40 L145.00,515.40 L145.43,515.40 L145.86,515.40 L146.29,515.40 L146.72,515.40 L147.16,515.40 L147.59,515.40 L148.02,515.40 L148.45,515.40 L148.88,515.40 L149.31,515.40 L149.75,515.40 L150.18,515.40 L150.61,515.40 L151.04,515.40 L151.47,515.40 L151.90,515.40 L152.33,515.40 L152.77,515.40 L153.20,515.40 L153.63,515.40 L154.06,515.40 L154.49,515.40 L154.92,515.40 L155.35,515.40 L155.79,515.40 L156.22,515.40 L156.65,515.40 L157.08,515.40 L157.51,515.40 L157.94,515.40 L158.38,515.40 L158.81,515.40 L159.24,515.40 L159.67,515.40 L160.10,515.40 L160.53,515.40 L160.96,515.40 L161.40,515.40 L161.83,515.39 L162.26,515.39 L162.69,515.39 L163.12,515.38 L163.55,515.37 L163.98,515.36 L164.42,515.35 L164.85,515.33 L165.28,515.29 L165.71,515.25 L166.14,515.19 L166.57,515.10 L167.01,514.98 L167.44,514.81 L167.87,514.58 L168.30,514.29 L168.73,513.91 L169.16,513.44 L169.59,512.90 L170.03,512.30 L170.46,511.67 L170.89,511.06 L171.32,510.50 L171.75,510.01 L172.18,509.61 L172.62,509.29 L173.05,509.04 L173.48,508.86 L173.91,508.73 L174.34,508.63 L174.77,508.56 L175.20,508.52 L175.64,508.48 L176.07,508.46 L176.50,508.44 L176.93,508.43 L177.36,508.42 L177.79,508.41 L178.22,508.41 L178.66,508.41 L179.09,508.40 L179.52,508.40 L179.95,508.40 L180.38,508.40 L180.81,508.40 L181.25,508.40 L181.68,508.40 L182.11,508.40 L182.54,508.40 L182.97,508.40 L183.40,508.40 L183.83,508.40 L184.27,508.40 L184.70,508.40 L185.13,508.40 L185.56,508.40 L185.99,508.40 L186.42,508.40 L186.85,508.40 L187.29,508.41 L187.72,508.41 L188.15,508.41 L188.58,508.41 L189.01,508.42 L189.44,508.42 L189.88,508.43 L190.31,508.44 L190.74,508.45 L191.17,508.47 L191.60,508.49 L192.03,508.51 L192.46,508.55 L192.90,508.59 L193.33,508.65 L193.76,508.72 L194.19,508.82 L194.62,508.94 L195.05,509.09 L195.48,509.27 L195.92,509.50 L196.35,509.78 L196.78,510.10 L197.21,510.47 L197.64,510.88 L198.07,511.33 L198.51,511.80 L198.94,512.27 L199.37,512.72 L199.80,513.15 L200.23,513.54 L200.66,513.89 L201.09,514.18 L201.53,514.43 L201.96,514.64 L202.39,514.80 L202.82,514.93 L203.25,515.04 L203.68,515.12 L204.12,515.18 L204.55,515.23 L204.98,515.27 L205.41,515.30 L205.84,515.33 L206.27,515.34 L206.70,515.36 L207.14,515.37 L207.57,515.37 L208.00,515.38 L208.43,515.39 L208.86,515.39 L209.29,515.39 L209.72,515.39 L210.16,515.39 L210.59,515.40 L211.02,515.40 L211.45,515.40 L211.88,515.40 L212.31,515.40 L212.75,515.40 L213.18,515.40 L213.61,515.40 L214.04,515.40 L214.47,515.40 L214.90,515.40 L215.33,515.40 L215.77,515.40 L216.20,515.40 L216.63,515.40 L217.06,515.40 L217.49,515.40 L217.92,515.40 L218.35,515.40 L218.79,515.40 L219.22,515.40 L219.65,515.40 L220.08,515.40 L220.51,515.40 L220.94,515.40 L221.38,515.40 L221.81,515.40 L222.24,515.40 L222.67,515.40 L223.10,515.40 L223.53,515.40 L223.96,515.40 L224.40,515.40 L224.83,515.40 L225.26,515.40 L225.69,515.40 L226.12,515.40 L226.55,515.40 L226.98,515.40 L227.42,515.40 L227.85,515.40 L228.28,515.40 L228.71,515.40 L229.14,515.40 L229.57,515.40 L230.01,515.40 L230.44,515.40 L230.87,515.40 L231.30,515.40 L231.30,515.4 L136.80,515.4 Z" fill="url(#hatch)" stroke="#333" stroke-width="0.4" style="mix-blend-mode:multiply"/>
<line x1="136.8" y1="433.5" x2="136.8" y2="515.4" stroke="#555" stroke-width="0.7"/>
<line x1="136.8" y1="515.4" x2="231.3" y2="515.4" stroke="#555" stroke-width="0.7"/>
<path d="M134.6 515.4h2.2M135.6 513.4h1.2M135.6 511.3h1.2M135.6 509.3h1.2M135.6 507.2h1.2M134.6 505.2h2.2M135.6 503.2h1.2M135.6 501.1h1.2M135.6 499.1h1.2M135.6 497.0h1.2M134.6 495.0h2.2M135.6 493.0h1.2M135.6 490.9h1.2M135.6 488.9h1.2M135.6 486.8h1.2M134.6 484.8h2.2M135.6 482.8h1.2M135.6 480.7h1.2M135.6 478.7h1.2M135.6 476.6h1.2M134.6 474.6h2.2M135.6 472.6h1.2M135.6 470.5h1.2M135.6 468.5h1.2M135.6 466.4h1.2M134.6 464.4h2.2M135.6 462.4h1.2M135.6 460.3h1.2M135.6 458.3h1.2M135.6 456.2h1.2M134.6 454.2h2.2M135.6 452.2h1.2M135.6 450.1h1.2M135.6 448.1h1.2M135.6 446.0h1.2M134.6 444.0h2.2M135.6 442.0h1.2M135.6 439.9h1.2M135.6 437.9h1.2M135.6 435.8h1.2M134.6 433.8h2.2M136.8 515.4v2.2M138.7 515.4v1.2M140.6 515.4v1.2M142.5 515.4v1.2M144.4 515.4v1.2M146.2 515.4v1.2M148.1 515.4v1.2M150.0 515.4v1.2M151.9 515.4v1.2M153.8 515.4v1.2M155.7 515.4v2.2M157.6 515.4v1.2M159.5 515.4v1.2M161.4 515.4v1.2M163.3 515.4v1.2M165.2 515.4v1.2M167.0 515.4v1.2M168.9 515.4v1.2M170.8 515.4v1.2M172.7 515.4v1.2M174.6 515.4v2.2M176.5 515.4v1.2M178.4 515.4v1.2M180.3 515.4v1.2M182.2 515.4v1.2M184.1 515.4v1.2M185.9 515.4v1.2M187.8 515.4v1.2M189.7 515.4v1.2M191.6 515.4v1.2M193.5 515.4v2.2M195.4 515.4v1.2M197.3 515.4v1.2M199.2 515.4v1.2M201.1 515.4v1.2M203.0 515.4v1.2M204.8 515.4v1.2M206.7 515.4v1.2M208.6 515.4v1.2M210.5 515.4v1.2M212.4 515.4v2.2M214.3 515.4v1.2M216.2 515.4v1.2M218.1 515.4v1.2M220.0 515.4v1.2M221.9 515.4v1.2M223.7 515.4v1.2M225.6 515.4v1.2M227.5 515.4v1.2M229.4 515.4v1.2M231.3 515.4v2.2" stroke="#666" stroke-width="0.4" fill="none"/>
<text x="136.8" y="521.9" class="t" font-size="3.8" text-anchor="middle" fill="#666">0</text>
<text x="155.7" y="521.9" class="t" font-size="3.8" text-anchor="middle" fill="#666">20</text>
<text x="174.6" y="521.9" class="t" font-size="3.8" text-anchor="middle" fill="#666">40</text>
<text x="193.5" y="521.9" class="t" font-size="3.8" text-anchor="middle" fill="#666">60</text>
<text x="212.4" y="521.9" class="t" font-size="3.8" text-anchor="middle" fill="#666">80</text>
<text x="231.3" y="521.9" class="t" font-size="3.8" text-anchor="middle" fill="#666">100</text>
<text transform="translate(132.8,515.4) rotate(-90)" class="t" font-size="3.6" text-anchor="middle" fill="#666">0</text>
<text transform="translate(132.8,501.8) rotate(-90)" class="t" font-size="3.6" text-anchor="middle" fill="#666">20</text>
<text transform="translate(132.8,488.2) rotate(-90)" class="t" font-size="3.6" text-anchor="middle" fill="#666">40</text>
<text transform="translate(132.8,474.6) rotate(-90)" class="t" font-size="3.6" text-anchor="middle" fill="#666">60</text>
<text transform="translate(132.8,461.0) rotate(-90)" class="t" font-size="3.6" text-anchor="middle" fill="#666">80</text>
<text transform="translate(132.8,447.4) rotate(-90)" class="t" font-size="3.6" text-anchor="middle" fill="#666">100</text>
<text transform="translate(132.8,433.8) rotate(-90)" class="t" font-size="3.6" text-anchor="middle" fill="#666">120</text>
<path d="M247.40,515.40 L247.83,515.40 L248.26,515.40 L248.69,515.40 L249.13,515.40 L249.56,515.40 L249.99,515.40 L250.42,515.40 L250.85,515.40 L251.28,515.40 L251.72,515.40 L252.15,515.40 L252.58,515.40 L253.01,515.40 L253.44,515.40 L253.87,515.40 L254.30,515.40 L254.74,515.40 L255.17,515.40 L255.60,515.40 L256.03,515.40 L256.46,515.40 L256.89,515.40 L257.32,515.40 L257.76,515.40 L258.19,515.40 L258.62,515.40 L259.05,515.40 L259.48,515.40 L259.91,515.40 L260.35,515.40 L260.78,515.40 L261.21,515.40 L261.64,515.40 L262.07,515.40 L262.50,515.40 L262.93,515.40 L263.37,515.40 L263.80,515.40 L264.23,515.40 L264.66,515.40 L265.09,515.40 L265.52,515.40 L265.95,515.40 L266.39,515.40 L266.82,515.40 L267.25,515.40 L267.68,515.40 L268.11,515.40 L268.54,515.39 L268.98,515.39 L269.41,515.39 L269.84,515.39 L270.27,515.39 L270.70,515.39 L271.13,515.38 L271.56,515.38 L272.00,515.37 L272.43,515.36 L272.86,515.34 L273.29,515.32 L273.72,515.28 L274.15,515.23 L274.58,515.16 L275.02,515.04 L275.45,514.88 L275.88,514.65 L276.31,514.31 L276.74,512.30 L277.17,512.50 L277.61,511.92 L278.04,511.10 L278.47,509.37 L278.90,507.31 L279.33,504.89 L279.76,502.52 L280.19,499.25 L280.63,494.85 L281.06,490.84 L281.49,486.14 L281.92,481.09 L282.35,476.10 L282.78,470.17 L283.22,464.94 L283.65,460.19 L284.08,454.59 L284.51,450.58 L284.94,448.17 L285.37,446.88 L285.80,445.94 L286.24,445.75 L286.67,446.96 L287.10,449.59 L287.53,452.59 L287.96,456.06 L288.39,459.15 L288.82,463.20 L289.26,468.27 L289.69,472.34 L290.12,476.64 L290.55,479.72 L290.98,483.67 L291.41,486.27 L291.85,488.51 L292.28,490.59 L292.71,492.42 L293.14,492.90 L293.57,493.76 L294.00,494.12 L294.43,495.15 L294.87,495.64 L295.30,496.21 L295.73,495.79 L296.16,496.17 L296.59,496.11 L297.02,496.02 L297.45,495.38 L297.89,495.18 L298.32,495.70 L298.75,496.20 L299.18,496.40 L299.61,496.28 L300.04,496.38 L300.48,495.79 L300.91,496.12 L301.34,495.25 L301.77,495.00 L302.20,495.01 L302.63,495.90 L303.06,494.97 L303.50,494.76 L303.93,494.91 L304.36,494.42 L304.79,494.22 L305.22,493.74 L305.65,493.18 L306.08,492.04 L306.52,491.27 L306.95,491.36 L307.38,489.66 L307.81,488.18 L308.24,487.33 L308.67,487.17 L309.11,486.49 L309.54,485.51 L309.97,484.14 L310.40,483.12 L310.83,481.57 L311.26,481.08 L311.69,479.67 L312.13,479.09 L312.56,478.44 L312.99,477.27 L313.42,476.52 L313.85,476.12 L314.28,476.06 L314.72,476.50 L315.15,478.01 L315.58,478.45 L316.01,479.15 L316.44,480.64 L316.87,481.59 L317.30,483.23 L317.74,484.65 L318.17,486.35 L318.60,487.65 L319.03,488.97 L319.46,490.99 L319.89,492.67 L320.32,494.45 L320.76,496.77 L321.19,497.83 L321.62,499.19 L322.05,501.39 L322.48,503.26 L322.91,505.00 L323.35,506.11 L323.78,507.49 L324.21,508.58 L324.64,509.54 L325.07,510.44 L325.50,510.76 L325.93,511.78 L326.37,512.56 L326.80,512.87 L327.23,513.33 L327.66,513.60 L328.09,514.15 L328.52,514.39 L328.95,514.60 L329.39,514.76 L329.82,514.90 L330.25,515.01 L330.68,515.09 L331.11,515.16 L331.54,515.22 L331.98,515.26 L332.41,515.29 L332.84,515.32 L333.27,515.34 L333.70,515.35 L334.13,515.36 L334.56,515.37 L335.00,515.38 L335.43,515.38 L335.86,515.39 L336.29,515.39 L336.72,515.39 L337.15,515.39 L337.58,515.40 L338.02,515.40 L338.45,515.40 L338.88,515.40 L339.31,515.40 L339.74,515.40 L340.17,515.40 L340.61,515.40 L341.04,515.40 L341.47,515.40 L341.90,515.40 L341.90,515.4 L247.40,515.4 Z" fill="#fff" stroke="#333" stroke-width="0.55"/>
<path d="M247.40,515.40 L247.83,515.40 L248.26,515.40 L248.69,515.40 L249.13,515.40 L249.56,515.40 L249.99,515.40 L250.42,515.40 L250.85,515.40 L251.28,515.40 L251.72,515.40 L252.15,515.40 L252.58,515.40 L253.01,515.40 L253.44,515.40 L253.87,515.40 L254.30,515.40 L254.74,515.40 L255.17,515.40 L255.60,515.40 L256.03,515.40 L256.46,515.40 L256.89,515.40 L257.32,515.40 L257.76,515.40 L258.19,515.40 L258.62,515.40 L259.05,515.40 L259.48,515.40 L259.91,515.40 L260.35,515.40 L260.78,515.40 L261.21,515.40 L261.64,515.40 L262.07,515.40 L262.50,515.40 L262.93,515.40 L263.37,515.40 L263.80,515.40 L264.23,515.40 L264.66,515.40 L265.09,515.40 L265.52,515.40 L265.95,515.40 L266.39,515.40 L266.82,515.40 L267.25,515.40 L267.68,515.40 L268.11,515.40 L268.54,515.39 L268.98,515.39 L269.41,515.39 L269.84,515.39 L270.27,515.39 L270.70,515.39 L271.13,515.38 L271.56,515.38 L272.00,515.37 L272.43,515.36 L272.86,515.34 L273.29,515.32 L273.72,515.28 L274.15,515.23 L274.58,515.16 L275.02,515.04 L275.45,514.88 L275.88,514.65 L276.31,514.31 L276.74,513.85 L277.17,513.22 L277.61,512.37 L278.04,511.25 L278.47,509.80 L278.90,507.96 L279.33,505.68 L279.76,502.91 L280.19,499.62 L280.63,495.80 L281.06,491.47 L281.49,486.69 L281.92,481.54 L282.35,476.16 L282.78,470.70 L283.22,465.34 L283.65,460.30 L284.08,455.77 L284.51,451.94 L284.94,448.98 L285.37,447.01 L285.80,446.11 L286.24,446.29 L286.67,447.50 L287.10,449.65 L287.53,452.61 L287.96,456.20 L288.39,460.22 L288.82,464.49 L289.26,468.81 L289.69,473.03 L290.12,477.01 L290.55,480.64 L290.98,483.87 L291.41,486.66 L291.85,489.01 L292.28,490.94 L292.71,492.48 L293.14,493.68 L293.57,494.60 L294.00,495.28 L294.43,495.77 L294.87,496.11 L295.30,496.34 L295.73,496.49 L296.16,496.58 L296.59,496.64 L297.02,496.66 L297.45,496.67 L297.89,496.66 L298.32,496.65 L298.75,496.63 L299.18,496.60 L299.61,496.56 L300.04,496.52 L300.48,496.46 L300.91,496.39 L301.34,496.31 L301.77,496.20 L302.20,496.07 L302.63,495.91 L303.06,495.71 L303.50,495.48 L303.93,495.20 L304.36,494.86 L304.79,494.47 L305.22,494.01 L305.65,493.48 L306.08,492.88 L306.52,492.20 L306.95,491.45 L307.38,490.62 L307.81,489.71 L308.24,488.74 L308.67,487.71 L309.11,486.63 L309.54,485.52 L309.97,484.39 L310.40,483.28 L310.83,482.19 L311.26,481.17 L311.69,480.22 L312.13,479.38 L312.56,478.67 L312.99,478.12 L313.42,477.74 L313.85,477.55 L314.28,477.56 L314.72,477.78 L315.15,478.21 L315.58,478.85 L316.01,479.69 L316.44,480.72 L316.87,481.93 L317.30,483.29 L317.74,484.80 L318.17,486.41 L318.60,488.12 L319.03,489.90 L319.46,491.72 L319.89,493.56 L320.32,495.39 L320.76,497.19 L321.19,498.94 L321.62,500.63 L322.05,502.24 L322.48,503.75 L322.91,505.17 L323.35,506.47 L323.78,507.66 L324.21,508.75 L324.64,509.72 L325.07,510.58 L325.50,511.34 L325.93,512.00 L326.37,512.58 L326.80,513.07 L327.23,513.49 L327.66,513.85 L328.09,514.15 L328.52,514.39 L328.95,514.60 L329.39,514.76 L329.82,514.90 L330.25,515.01 L330.68,515.09 L331.11,515.16 L331.54,515.22 L331.98,515.26 L332.41,515.29 L332.84,515.32 L333.27,515.34 L333.70,515.35 L334.13,515.36 L334.56,515.37 L335.00,515.38 L335.43,515.38 L335.86,515.39 L336.29,515.39 L336.72,515.39 L337.15,515.39 L337.58,515.40 L338.02,515.40 L338.45,515.40 L338.88,515.40 L339.31,515.40 L339.74,515.40 L340.17,515.40 L340.61,515.40 L341.04,515.40 L341.47,515.40 L341.90,515.40" fill="none" stroke="#555" stroke-width="0.45"/>
<path d="M247.40,515.40 L247.83,515.40 L248.26,515.40 L248.69,515.40 L249.13,515.40 L249.56,515.40 L249.99,515.40 L250.42,515.40 L250.85,515.40 L251.28,515.40 L251.72,515.40 L252.15,515.40 L252.58,515.40 L253.01,515.40 L253.44,515.40 L253.87,515.40 L254.30,515.40 L254.74,515.40 L255.17,515.40 L255.60,515.40 L256.03,515.40 L256.46,515.40 L256.89,515.40 L257.32,515.40 L257.76,515.40 L258.19,515.40 L258.62,515.40 L259.05,515.40 L259.48,515.40 L259.91,515.40 L260.35,515.40 L260.78,515.40 L261.21,515.40 L261.64,515.40 L262.07,515.40 L262.50,515.40 L262.93,515.40 L263.37,515.40 L263.80,515.40 L264.23,515.40 L264.66,515.40 L265.09,515.40 L265.52,515.40 L265.95,515.40 L266.39,515.40 L266.82,515.40 L267.25,515.40 L267.68,515.40 L268.11,515.40 L268.54,515.40 L268.98,515.40 L269.41,515.40 L269.84,515.40 L270.27,515.40 L270.70,515.40 L271.13,515.40 L271.56,515.40 L272.00,515.39 L272.43,515.39 L272.86,515.38 L273.29,515.36 L273.72,515.34 L274.15,515.30 L274.58,515.24 L275.02,515.15 L275.45,515.02 L275.88,514.82 L276.31,514.54 L276.74,514.14 L277.17,513.58 L277.61,512.83 L278.04,511.83 L278.47,510.53 L278.90,508.89 L279.33,506.84 L279.76,504.35 L280.19,501.40 L280.63,497.98 L281.06,494.11 L281.49,489.86 L281.92,485.30 L282.35,480.57 L282.78,475.82 L283.22,471.24 L283.65,467.01 L284.08,463.33 L284.51,460.39 L284.94,458.32 L285.37,457.25 L285.80,457.22 L286.24,458.24 L286.67,460.25 L287.10,463.16 L287.53,466.80 L287.96,471.00 L288.39,475.57 L288.82,480.31 L289.26,485.05 L289.69,489.62 L290.12,493.89 L290.55,497.78 L290.98,501.23 L291.41,504.21 L291.85,506.72 L292.28,508.79 L292.71,510.45 L293.14,511.77 L293.57,512.78 L294.00,513.54 L294.43,514.11 L294.87,514.52 L295.30,514.81 L295.73,515.01 L296.16,515.15 L296.59,515.24 L297.02,515.30 L297.45,515.34 L297.89,515.36 L298.32,515.38 L298.75,515.39 L299.18,515.39 L299.61,515.40 L300.04,515.40 L300.48,515.40 L300.91,515.40 L301.34,515.40 L301.77,515.40 L302.20,515.40 L302.63,515.40 L303.06,515.40 L303.50,515.40 L303.93,515.40 L304.36,515.40 L304.79,515.40 L305.22,515.40 L305.65,515.40 L306.08,515.40 L306.52,515.40 L306.95,515.40 L307.38,515.40 L307.81,515.40 L308.24,515.40 L308.67,515.40 L309.11,515.40 L309.54,515.40 L309.97,515.40 L310.40,515.40 L310.83,515.40 L311.26,515.40 L311.69,515.40 L312.13,515.40 L312.56,515.40 L312.99,515.40 L313.42,515.40 L313.85,515.40 L314.28,515.40 L314.72,515.40 L315.15,515.40 L315.58,515.40 L316.01,515.40 L316.44,515.40 L316.87,515.40 L317.30,515.40 L317.74,515.40 L318.17,515.40 L318.60,515.40 L319.03,515.40 L319.46,515.40 L319.89,515.40 L320.32,515.40 L320.76,515.40 L321.19,515.40 L321.62,515.40 L322.05,515.40 L322.48,515.40 L322.91,515.40 L323.35,515.40 L323.78,515.40 L324.21,515.40 L324.64,515.40 L325.07,515.40 L325.50,515.40 L325.93,515.40 L326.37,515.40 L326.80,515.40 L327.23,515.40 L327.66,515.40 L328.09,515.40 L328.52,515.40 L328.95,515.40 L329.39,515.40 L329.82,515.40 L330.25,515.40 L330.68,515.40 L331.11,515.40 L331.54,515.40 L331.98,515.40 L332.41,515.40 L332.84,515.40 L333.27,515.40 L333.70,515.40 L334.13,515.40 L334.56,515.40 L335.00,515.40 L335.43,515.40 L335.86,515.40 L336.29,515.40 L336.72,515.40 L337.15,515.40 L337.58,515.40 L338.02,515.40 L338.45,515.40 L338.88,515.40 L339.31,515.40 L339.74,515.40 L340.17,515.40 L340.61,515.40 L341.04,515.40 L341.47,515.40 L341.90,515.40 L341.90,515.4 L247.40,515.4 Z" fill="#e60012" stroke="#5a0a0a" stroke-width="0.5"/>
<path d="M247.40,515.40 L247.83,515.40 L248.26,515.40 L248.69,515.40 L249.13,515.40 L249.56,515.40 L249.99,515.40 L250.42,515.40 L250.85,515.40 L251.28,515.40 L251.72,515.40 L252.15,515.40 L252.58,515.40 L253.01,515.40 L253.44,515.40 L253.87,515.40 L254.30,515.40 L254.74,515.40 L255.17,515.40 L255.60,515.40 L256.03,515.40 L256.46,515.40 L256.89,515.40 L257.32,515.40 L257.76,515.40 L258.19,515.40 L258.62,515.40 L259.05,515.40 L259.48,515.40 L259.91,515.40 L260.35,515.40 L260.78,515.40 L261.21,515.40 L261.64,515.40 L262.07,515.40 L262.50,515.40 L262.93,515.40 L263.37,515.40 L263.80,515.40 L264.23,515.40 L264.66,515.40 L265.09,515.40 L265.52,515.40 L265.95,515.40 L266.39,515.40 L266.82,515.40 L267.25,515.40 L267.68,515.40 L268.11,515.40 L268.54,515.40 L268.98,515.40 L269.41,515.40 L269.84,515.40 L270.27,515.40 L270.70,515.40 L271.13,515.40 L271.56,515.40 L272.00,515.40 L272.43,515.40 L272.86,515.40 L273.29,515.40 L273.72,515.40 L274.15,515.40 L274.58,515.40 L275.02,515.40 L275.45,515.40 L275.88,515.40 L276.31,515.40 L276.74,515.40 L277.17,515.40 L277.61,515.40 L278.04,515.40 L278.47,515.40 L278.90,515.40 L279.33,515.40 L279.76,515.40 L280.19,515.40 L280.63,515.40 L281.06,515.40 L281.49,515.40 L281.92,515.40 L282.35,515.40 L282.78,515.40 L283.22,515.40 L283.65,515.40 L284.08,515.40 L284.51,515.40 L284.94,515.40 L285.37,515.40 L285.80,515.40 L286.24,515.40 L286.67,515.40 L287.10,515.40 L287.53,515.40 L287.96,515.40 L288.39,515.40 L288.82,515.40 L289.26,515.40 L289.69,515.40 L290.12,515.40 L290.55,515.40 L290.98,515.40 L291.41,515.40 L291.85,515.40 L292.28,515.40 L292.71,515.40 L293.14,515.40 L293.57,515.40 L294.00,515.40 L294.43,515.40 L294.87,515.40 L295.30,515.39 L295.73,515.39 L296.16,515.39 L296.59,515.38 L297.02,515.38 L297.45,515.37 L297.89,515.36 L298.32,515.34 L298.75,515.32 L299.18,515.29 L299.61,515.26 L300.04,515.21 L300.48,515.16 L300.91,515.09 L301.34,515.00 L301.77,514.89 L302.20,514.75 L302.63,514.59 L303.06,514.39 L303.50,514.15 L303.93,513.87 L304.36,513.53 L304.79,513.14 L305.22,512.69 L305.65,512.16 L306.08,511.57 L306.52,510.91 L306.95,510.16 L307.38,509.34 L307.81,508.45 L308.24,507.47 L308.67,506.43 L309.11,505.33 L309.54,504.18 L309.97,502.99 L310.40,501.77 L310.83,500.55 L311.26,499.34 L311.69,498.15 L312.13,497.02 L312.56,495.95 L312.99,494.98 L313.42,494.12 L313.85,493.39 L314.28,492.80 L314.72,492.36 L315.15,492.10 L315.58,492.00 L316.01,492.08 L316.44,492.33 L316.87,492.75 L317.30,493.32 L317.74,494.04 L318.17,494.89 L318.60,495.85 L319.03,496.91 L319.46,498.03 L319.89,499.21 L320.32,500.43 L320.76,501.65 L321.19,502.87 L321.62,504.06 L322.05,505.22 L322.48,506.33 L322.91,507.37 L323.35,508.35 L323.78,509.26 L324.21,510.08 L324.64,510.84 L325.07,511.51 L325.50,512.11 L325.93,512.64 L326.37,513.10 L326.80,513.49 L327.23,513.83 L327.66,514.12 L328.09,514.37 L328.52,514.57 L328.95,514.74 L329.39,514.88 L329.82,514.99 L330.25,515.08 L330.68,515.15 L331.11,515.21 L331.54,515.26 L331.98,515.29 L332.41,515.32 L332.84,515.34 L333.27,515.35 L333.70,515.37 L334.13,515.38 L334.56,515.38 L335.00,515.39 L335.43,515.39 L335.86,515.39 L336.29,515.40 L336.72,515.40 L337.15,515.40 L337.58,515.40 L338.02,515.40 L338.45,515.40 L338.88,515.40 L339.31,515.40 L339.74,515.40 L340.17,515.40 L340.61,515.40 L341.04,515.40 L341.47,515.40 L341.90,515.40 L341.90,515.4 L247.40,515.4 Z" fill="#e60012" stroke="#5a0a0a" stroke-width="0.5"/>
<path d="M247.40,515.40 L247.83,515.40 L248.26,515.40 L248.69,515.40 L249.13,515.40 L249.56,515.40 L249.99,515.40 L250.42,515.40 L250.85,515.40 L251.28,515.40 L251.72,515.40 L252.15,515.40 L252.58,515.40 L253.01,515.40 L253.44,515.40 L253.87,515.40 L254.30,515.40 L254.74,515.40 L255.17,515.40 L255.60,515.40 L256.03,515.40 L256.46,515.40 L256.89,515.40 L257.32,515.40 L257.76,515.40 L258.19,515.40 L258.62,515.40 L259.05,515.40 L259.48,515.40 L259.91,515.40 L260.35,515.40 L260.78,515.40 L261.21,515.40 L261.64,515.40 L262.07,515.40 L262.50,515.40 L262.93,515.40 L263.37,515.40 L263.80,515.40 L264.23,515.40 L264.66,515.40 L265.09,515.40 L265.52,515.40 L265.95,515.40 L266.39,515.40 L266.82,515.40 L267.25,515.40 L267.68,515.40 L268.11,515.40 L268.54,515.39 L268.98,515.39 L269.41,515.39 L269.84,515.39 L270.27,515.39 L270.70,515.39 L271.13,515.38 L271.56,515.38 L272.00,515.38 L272.43,515.37 L272.86,515.36 L273.29,515.36 L273.72,515.35 L274.15,515.33 L274.58,515.32 L275.02,515.30 L275.45,515.28 L275.88,515.26 L276.31,515.23 L276.74,515.19 L277.17,515.14 L277.61,515.09 L278.04,515.02 L278.47,514.94 L278.90,514.85 L279.33,514.73 L279.76,514.60 L280.19,514.43 L280.63,514.23 L281.06,514.00 L281.49,513.72 L281.92,513.40 L282.35,513.02 L282.78,512.58 L283.22,512.08 L283.65,511.51 L284.08,510.87 L284.51,510.16 L284.94,509.39 L285.37,508.56 L285.80,507.69 L286.24,506.78 L286.67,505.86 L287.10,504.94 L287.53,504.05 L287.96,503.19 L288.39,502.37 L288.82,501.62 L289.26,500.93 L289.69,500.32 L290.12,499.77 L290.55,499.28 L290.98,498.87 L291.41,498.51 L291.85,498.20 L292.28,497.93 L292.71,497.71 L293.14,497.53 L293.57,497.37 L294.00,497.24 L294.43,497.13 L294.87,497.05 L295.30,496.97 L295.73,496.91 L296.16,496.86 L296.59,496.82 L297.02,496.79 L297.45,496.77 L297.89,496.75 L298.32,496.73 L298.75,496.72 L299.18,496.72 L299.61,496.72 L300.04,496.72 L300.48,496.72 L300.91,496.73 L301.34,496.74 L301.77,496.76 L302.20,496.78 L302.63,496.81 L303.06,496.84 L303.50,496.88 L303.93,496.92 L304.36,496.97 L304.79,497.03 L305.22,497.11 L305.65,497.19 L306.08,497.30 L306.52,497.41 L306.95,497.55 L307.38,497.71 L307.81,497.89 L308.24,498.11 L308.67,498.35 L309.11,498.63 L309.54,498.95 L309.97,499.32 L310.40,499.72 L310.83,500.18 L311.26,500.69 L311.69,501.24 L312.13,501.84 L312.56,502.49 L312.99,503.18 L313.42,503.91 L313.85,504.66 L314.28,505.43 L314.72,506.21 L315.15,506.99 L315.58,507.75 L316.01,508.49 L316.44,509.20 L316.87,509.87 L317.30,510.49 L317.74,511.07 L318.17,511.60 L318.60,512.08 L319.03,512.51 L319.46,512.89 L319.89,513.23 L320.32,513.53 L320.76,513.79 L321.19,514.02 L321.62,514.22 L322.05,514.39 L322.48,514.54 L322.91,514.66 L323.35,514.77 L323.78,514.86 L324.21,514.94 L324.64,515.01 L325.07,515.07 L325.50,515.12 L325.93,515.16 L326.37,515.20 L326.80,515.23 L327.23,515.26 L327.66,515.28 L328.09,515.30 L328.52,515.31 L328.95,515.33 L329.39,515.34 L329.82,515.35 L330.25,515.35 L330.68,515.36 L331.11,515.37 L331.54,515.37 L331.98,515.38 L332.41,515.38 L332.84,515.38 L333.27,515.39 L333.70,515.39 L334.13,515.39 L334.56,515.39 L335.00,515.39 L335.43,515.39 L335.86,515.39 L336.29,515.40 L336.72,515.40 L337.15,515.40 L337.58,515.40 L338.02,515.40 L338.45,515.40 L338.88,515.40 L339.31,515.40 L339.74,515.40 L340.17,515.40 L340.61,515.40 L341.04,515.40 L341.47,515.40 L341.90,515.40 L341.90,515.4 L247.40,515.4 Z" fill="url(#hatch)" stroke="#333" stroke-width="0.4" style="mix-blend-mode:multiply"/>
<line x1="247.4" y1="433.5" x2="247.4" y2="515.4" stroke="#555" stroke-width="0.7"/>
<line x1="247.4" y1="515.4" x2="341.9" y2="515.4" stroke="#555" stroke-width="0.7"/>
<path d="M245.2 515.4h2.2M246.2 513.4h1.2M246.2 511.3h1.2M246.2 509.3h1.2M246.2 507.2h1.2M245.2 505.2h2.2M246.2 503.2h1.2M246.2 501.1h1.2M246.2 499.1h1.2M246.2 497.0h1.2M245.2 495.0h2.2M246.2 493.0h1.2M246.2 490.9h1.2M246.2 488.9h1.2M246.2 486.8h1.2M245.2 484.8h2.2M246.2 482.8h1.2M246.2 480.7h1.2M246.2 478.7h1.2M246.2 476.6h1.2M245.2 474.6h2.2M246.2 472.6h1.2M246.2 470.5h1.2M246.2 468.5h1.2M246.2 466.4h1.2M245.2 464.4h2.2M246.2 462.4h1.2M246.2 460.3h1.2M246.2 458.3h1.2M246.2 456.2h1.2M245.2 454.2h2.2M246.2 452.2h1.2M246.2 450.1h1.2M246.2 448.1h1.2M246.2 446.0h1.2M245.2 444.0h2.2M246.2 442.0h1.2M246.2 439.9h1.2M246.2 437.9h1.2M246.2 435.8h1.2M245.2 433.8h2.2M247.4 515.4v2.2M249.3 515.4v1.2M251.2 515.4v1.2M253.1 515.4v1.2M255.0 515.4v1.2M256.9 515.4v1.2M258.7 515.4v1.2M260.6 515.4v1.2M262.5 515.4v1.2M264.4 515.4v1.2M266.3 515.4v2.2M268.2 515.4v1.2M270.1 515.4v1.2M272.0 515.4v1.2M273.9 515.4v1.2M275.8 515.4v1.2M277.6 515.4v1.2M279.5 515.4v1.2M281.4 515.4v1.2M283.3 515.4v1.2M285.2 515.4v2.2M287.1 515.4v1.2M289.0 515.4v1.2M290.9 515.4v1.2M292.8 515.4v1.2M294.6 515.4v1.2M296.5 515.4v1.2M298.4 515.4v1.2M300.3 515.4v1.2M302.2 515.4v1.2M304.1 515.4v2.2M306.0 515.4v1.2M307.9 515.4v1.2M309.8 515.4v1.2M311.7 515.4v1.2M313.6 515.4v1.2M315.4 515.4v1.2M317.3 515.4v1.2M319.2 515.4v1.2M321.1 515.4v1.2M323.0 515.4v2.2M324.9 515.4v1.2M326.8 515.4v1.2M328.7 515.4v1.2M330.6 515.4v1.2M332.4 515.4v1.2M334.3 515.4v1.2M336.2 515.4v1.2M338.1 515.4v1.2M340.0 515.4v1.2M341.9 515.4v2.2" stroke="#666" stroke-width="0.4" fill="none"/>
<text x="247.4" y="521.9" class="t" font-size="3.8" text-anchor="middle" fill="#666">0</text>
<text x="266.3" y="521.9" class="t" font-size="3.8" text-anchor="middle" fill="#666">20</text>
<text x="285.2" y="521.9" class="t" font-size="3.8" text-anchor="middle" fill="#666">40</text>
<text x="304.1" y="521.9" class="t" font-size="3.8" text-anchor="middle" fill="#666">60</text>
<text x="323.0" y="521.9" class="t" font-size="3.8" text-anchor="middle" fill="#666">80</text>
<text x="341.9" y="521.9" class="t" font-size="3.8" text-anchor="middle" fill="#666">100</text>
<text transform="translate(243.4,515.4) rotate(-90)" class="t" font-size="3.6" text-anchor="middle" fill="#666">0</text>
<text transform="translate(243.4,501.8) rotate(-90)" class="t" font-size="3.6" text-anchor="middle" fill="#666">20</text>
<text transform="translate(243.4,488.2) rotate(-90)" class="t" font-size="3.6" text-anchor="middle" fill="#666">40</text>
<text transform="translate(243.4,474.6) rotate(-90)" class="t" font-size="3.6" text-anchor="middle" fill="#666">60</text>
<text transform="translate(243.4,461.0) rotate(-90)" class="t" font-size="3.6" text-anchor="middle" fill="#666">80</text>
<text transform="translate(243.4,447.4) rotate(-90)" class="t" font-size="3.6" text-anchor="middle" fill="#666">100</text>
<text transform="translate(243.4,433.8) rotate(-90)" class="t" font-size="3.6" text-anchor="middle" fill="#666">120</text>
<path d="M358.80,515.40 L359.23,515.40 L359.66,515.40 L360.09,515.40 L360.53,515.40 L360.96,515.40 L361.39,515.40 L361.82,515.40 L362.25,515.40 L362.68,515.40 L363.12,515.40 L363.55,515.40 L363.98,515.40 L364.41,515.40 L364.84,515.40 L365.27,515.40 L365.70,515.40 L366.14,515.40 L366.57,515.40 L367.00,515.40 L367.43,515.40 L367.86,515.40 L368.29,515.40 L368.72,515.40 L369.16,515.40 L369.59,515.40 L370.02,515.40 L370.45,515.40 L370.88,515.40 L371.31,515.40 L371.75,515.40 L372.18,515.40 L372.61,515.40 L373.04,515.40 L373.47,515.40 L373.90,515.39 L374.33,515.39 L374.77,515.39 L375.20,515.39 L375.63,515.39 L376.06,515.38 L376.49,515.38 L376.92,515.37 L377.35,515.37 L377.79,515.36 L378.22,515.34 L378.65,515.32 L379.08,515.29 L379.51,515.25 L379.94,515.19 L380.38,515.09 L380.81,514.95 L381.24,514.74 L381.67,514.43 L382.10,514.00 L382.53,512.36 L382.96,512.21 L383.40,511.39 L383.83,509.49 L384.26,508.08 L384.69,505.54 L385.12,502.24 L385.55,498.70 L385.98,494.79 L386.42,488.86 L386.85,483.66 L387.28,478.27 L387.71,471.92 L388.14,464.90 L388.57,458.56 L389.01,453.13 L389.44,447.45 L389.87,442.69 L390.30,439.01 L390.73,436.51 L391.16,434.94 L391.59,435.02 L392.03,436.92 L392.46,438.75 L392.89,442.02 L393.32,446.86 L393.75,451.52 L394.18,457.37 L394.62,461.74 L395.05,467.21 L395.48,471.14 L395.91,475.87 L396.34,478.70 L396.77,482.14 L397.20,485.67 L397.64,487.61 L398.07,488.90 L398.50,489.61 L398.93,491.42 L399.36,491.84 L399.79,490.57 L400.22,492.38 L400.66,492.27 L401.09,492.48 L401.52,491.55 L401.95,492.16 L402.38,493.26 L402.81,492.80 L403.25,491.88 L403.68,491.62 L404.11,491.65 L404.54,492.03 L404.97,492.53 L405.40,492.31 L405.83,491.98 L406.27,491.19 L406.70,490.92 L407.13,490.92 L407.56,491.42 L407.99,491.14 L408.42,490.64 L408.85,489.94 L409.29,489.37 L409.72,487.81 L410.15,487.62 L410.58,487.23 L411.01,486.13 L411.44,485.14 L411.88,484.01 L412.31,482.80 L412.74,481.14 L413.17,480.99 L413.60,479.24 L414.03,477.48 L414.46,477.34 L414.90,477.06 L415.33,476.27 L415.76,475.22 L416.19,474.82 L416.62,474.17 L417.05,474.02 L417.48,474.34 L417.92,474.49 L418.35,473.94 L418.78,474.58 L419.21,474.97 L419.64,476.58 L420.07,477.53 L420.51,479.46 L420.94,481.17 L421.37,482.58 L421.80,483.91 L422.23,485.13 L422.66,487.84 L423.09,489.52 L423.53,490.69 L423.96,493.01 L424.39,494.97 L424.82,497.41 L425.25,498.73 L425.68,500.71 L426.12,501.79 L426.55,503.73 L426.98,504.84 L427.41,505.41 L427.84,507.55 L428.27,508.46 L428.70,509.80 L429.14,510.02 L429.57,510.57 L430.00,511.36 L430.43,512.59 L430.86,512.32 L431.29,512.88 L431.72,512.38 L432.16,514.13 L432.59,514.37 L433.02,514.57 L433.45,514.74 L433.88,514.88 L434.31,514.99 L434.75,515.07 L435.18,515.15 L435.61,515.20 L436.04,515.25 L436.47,515.28 L436.90,515.31 L437.33,515.33 L437.77,515.35 L438.20,515.36 L438.63,515.37 L439.06,515.38 L439.49,515.38 L439.92,515.39 L440.35,515.39 L440.79,515.39 L441.22,515.39 L441.65,515.40 L442.08,515.40 L442.51,515.40 L442.94,515.40 L443.38,515.40 L443.81,515.40 L444.24,515.40 L444.67,515.40 L445.10,515.40 L445.53,515.40 L445.96,515.40 L446.40,515.40 L446.83,515.40 L447.26,515.40 L447.69,515.40 L448.12,515.40 L448.55,515.40 L448.98,515.40 L449.42,515.40 L449.85,515.40 L450.28,515.40 L450.71,515.40 L451.14,515.40 L451.57,515.40 L452.01,515.40 L452.44,515.40 L452.87,515.40 L453.30,515.40 L453.30,515.4 L358.80,515.4 Z" fill="#fff" stroke="#333" stroke-width="0.55"/>
<path d="M358.80,515.40 L359.23,515.40 L359.66,515.40 L360.09,515.40 L360.53,515.40 L360.96,515.40 L361.39,515.40 L361.82,515.40 L362.25,515.40 L362.68,515.40 L363.12,515.40 L363.55,515.40 L363.98,515.40 L364.41,515.40 L364.84,515.40 L365.27,515.40 L365.70,515.40 L366.14,515.40 L366.57,515.40 L367.00,515.40 L367.43,515.40 L367.86,515.40 L368.29,515.40 L368.72,515.40 L369.16,515.40 L369.59,515.40 L370.02,515.40 L370.45,515.40 L370.88,515.40 L371.31,515.40 L371.75,515.40 L372.18,515.40 L372.61,515.40 L373.04,515.40 L373.47,515.40 L373.90,515.39 L374.33,515.39 L374.77,515.39 L375.20,515.39 L375.63,515.39 L376.06,515.38 L376.49,515.38 L376.92,515.37 L377.35,515.37 L377.79,515.36 L378.22,515.34 L378.65,515.32 L379.08,515.29 L379.51,515.25 L379.94,515.19 L380.38,515.09 L380.81,514.95 L381.24,514.74 L381.67,514.43 L382.10,514.00 L382.53,513.40 L382.96,512.58 L383.40,511.46 L383.83,509.99 L384.26,508.09 L384.69,505.69 L385.12,502.71 L385.55,499.11 L385.98,494.87 L386.42,489.99 L386.85,484.51 L387.28,478.54 L387.71,472.21 L388.14,465.72 L388.57,459.29 L389.01,453.18 L389.44,447.64 L389.87,442.91 L390.30,439.23 L390.73,436.74 L391.16,435.55 L391.59,435.69 L392.03,437.10 L392.46,439.67 L392.89,443.22 L393.32,447.52 L393.75,452.34 L394.18,457.42 L394.62,462.54 L395.05,467.49 L395.48,472.12 L395.91,476.30 L396.34,479.97 L396.77,483.09 L397.20,485.68 L397.64,487.77 L398.07,489.40 L398.50,490.65 L398.93,491.58 L399.36,492.25 L399.79,492.71 L400.22,493.02 L400.66,493.22 L401.09,493.33 L401.52,493.39 L401.95,493.41 L402.38,493.40 L402.81,493.36 L403.25,493.31 L403.68,493.25 L404.11,493.17 L404.54,493.07 L404.97,492.95 L405.40,492.81 L405.83,492.64 L406.27,492.44 L406.70,492.19 L407.13,491.91 L407.56,491.57 L407.99,491.18 L408.42,490.72 L408.85,490.20 L409.29,489.61 L409.72,488.95 L410.15,488.21 L410.58,487.41 L411.01,486.53 L411.44,485.58 L411.88,484.58 L412.31,483.53 L412.74,482.45 L413.17,481.36 L413.60,480.27 L414.03,479.20 L414.46,478.19 L414.90,477.25 L415.33,476.41 L415.76,475.69 L416.19,475.12 L416.62,474.71 L417.05,474.49 L417.48,474.46 L417.92,474.64 L418.35,475.02 L418.78,475.61 L419.21,476.40 L419.64,477.38 L420.07,478.54 L420.51,479.86 L420.94,481.33 L421.37,482.92 L421.80,484.62 L422.23,486.40 L422.66,488.24 L423.09,490.12 L423.53,492.01 L423.96,493.90 L424.39,495.76 L424.82,497.57 L425.25,499.31 L425.68,500.98 L426.12,502.56 L426.55,504.04 L426.98,505.42 L427.41,506.69 L427.84,507.84 L428.27,508.89 L428.70,509.82 L429.14,510.66 L429.57,511.39 L430.00,512.04 L430.43,512.59 L430.86,513.07 L431.29,513.49 L431.72,513.83 L432.16,514.13 L432.59,514.37 L433.02,514.57 L433.45,514.74 L433.88,514.88 L434.31,514.99 L434.75,515.07 L435.18,515.15 L435.61,515.20 L436.04,515.25 L436.47,515.28 L436.90,515.31 L437.33,515.33 L437.77,515.35 L438.20,515.36 L438.63,515.37 L439.06,515.38 L439.49,515.38 L439.92,515.39 L440.35,515.39 L440.79,515.39 L441.22,515.39 L441.65,515.40 L442.08,515.40 L442.51,515.40 L442.94,515.40 L443.38,515.40 L443.81,515.40 L444.24,515.40 L444.67,515.40 L445.10,515.40 L445.53,515.40 L445.96,515.40 L446.40,515.40 L446.83,515.40 L447.26,515.40 L447.69,515.40 L448.12,515.40 L448.55,515.40 L448.98,515.40 L449.42,515.40 L449.85,515.40 L450.28,515.40 L450.71,515.40 L451.14,515.40 L451.57,515.40 L452.01,515.40 L452.44,515.40 L452.87,515.40 L453.30,515.40" fill="none" stroke="#555" stroke-width="0.45"/>
<path d="M358.80,515.40 L359.23,515.40 L359.66,515.40 L360.09,515.40 L360.53,515.40 L360.96,515.40 L361.39,515.40 L361.82,515.40 L362.25,515.40 L362.68,515.40 L363.12,515.40 L363.55,515.40 L363.98,515.40 L364.41,515.40 L364.84,515.40 L365.27,515.40 L365.70,515.40 L366.14,515.40 L366.57,515.40 L367.00,515.40 L367.43,515.40 L367.86,515.40 L368.29,515.40 L368.72,515.40 L369.16,515.40 L369.59,515.40 L370.02,515.40 L370.45,515.40 L370.88,515.40 L371.31,515.40 L371.75,515.40 L372.18,515.40 L372.61,515.40 L373.04,515.40 L373.47,515.40 L373.90,515.40 L374.33,515.40 L374.77,515.40 L375.20,515.40 L375.63,515.40 L376.06,515.40 L376.49,515.40 L376.92,515.40 L377.35,515.40 L377.79,515.39 L378.22,515.39 L378.65,515.38 L379.08,515.36 L379.51,515.33 L379.94,515.28 L380.38,515.21 L380.81,515.09 L381.24,514.92 L381.67,514.66 L382.10,514.28 L382.53,513.75 L382.96,513.01 L383.40,512.00 L383.83,510.66 L384.26,508.92 L384.69,506.72 L385.12,503.98 L385.55,500.68 L385.98,496.78 L386.42,492.31 L386.85,487.30 L387.28,481.87 L387.71,476.16 L388.14,470.35 L388.57,464.67 L389.01,459.38 L389.44,454.72 L389.87,450.94 L390.30,448.23 L390.73,446.76 L391.16,446.60 L391.59,447.76 L392.03,450.17 L392.46,453.71 L392.89,458.17 L393.32,463.34 L393.75,468.94 L394.18,474.74 L394.62,480.49 L395.05,486.01 L395.48,491.13 L395.91,495.74 L396.34,499.78 L396.77,503.23 L397.20,506.10 L397.64,508.43 L398.07,510.28 L398.50,511.70 L398.93,512.79 L399.36,513.59 L399.79,514.17 L400.22,514.58 L400.66,514.86 L401.09,515.05 L401.52,515.18 L401.95,515.27 L402.38,515.32 L402.81,515.35 L403.25,515.37 L403.68,515.38 L404.11,515.39 L404.54,515.40 L404.97,515.40 L405.40,515.40 L405.83,515.40 L406.27,515.40 L406.70,515.40 L407.13,515.40 L407.56,515.40 L407.99,515.40 L408.42,515.40 L408.85,515.40 L409.29,515.40 L409.72,515.40 L410.15,515.40 L410.58,515.40 L411.01,515.40 L411.44,515.40 L411.88,515.40 L412.31,515.40 L412.74,515.40 L413.17,515.40 L413.60,515.40 L414.03,515.40 L414.46,515.40 L414.90,515.40 L415.33,515.40 L415.76,515.40 L416.19,515.40 L416.62,515.40 L417.05,515.40 L417.48,515.40 L417.92,515.40 L418.35,515.40 L418.78,515.40 L419.21,515.40 L419.64,515.40 L420.07,515.40 L420.51,515.40 L420.94,515.40 L421.37,515.40 L421.80,515.40 L422.23,515.40 L422.66,515.40 L423.09,515.40 L423.53,515.40 L423.96,515.40 L424.39,515.40 L424.82,515.40 L425.25,515.40 L425.68,515.40 L426.12,515.40 L426.55,515.40 L426.98,515.40 L427.41,515.40 L427.84,515.40 L428.27,515.40 L428.70,515.40 L429.14,515.40 L429.57,515.40 L430.00,515.40 L430.43,515.40 L430.86,515.40 L431.29,515.40 L431.72,515.40 L432.16,515.40 L432.59,515.40 L433.02,515.40 L433.45,515.40 L433.88,515.40 L434.31,515.40 L434.75,515.40 L435.18,515.40 L435.61,515.40 L436.04,515.40 L436.47,515.40 L436.90,515.40 L437.33,515.40 L437.77,515.40 L438.20,515.40 L438.63,515.40 L439.06,515.40 L439.49,515.40 L439.92,515.40 L440.35,515.40 L440.79,515.40 L441.22,515.40 L441.65,515.40 L442.08,515.40 L442.51,515.40 L442.94,515.40 L443.38,515.40 L443.81,515.40 L444.24,515.40 L444.67,515.40 L445.10,515.40 L445.53,515.40 L445.96,515.40 L446.40,515.40 L446.83,515.40 L447.26,515.40 L447.69,515.40 L448.12,515.40 L448.55,515.40 L448.98,515.40 L449.42,515.40 L449.85,515.40 L450.28,515.40 L450.71,515.40 L451.14,515.40 L451.57,515.40 L452.01,515.40 L452.44,515.40 L452.87,515.40 L453.30,515.40 L453.30,515.4 L358.80,515.4 Z" fill="#e60012" stroke="#5a0a0a" stroke-width="0.5"/>
<path d="M358.80,515.40 L359.23,515.40 L359.66,515.40 L360.09,515.40 L360.53,515.40 L360.96,515.40 L361.39,515.40 L361.82,515.40 L362.25,515.40 L362.68,515.40 L363.12,515.40 L363.55,515.40 L363.98,515.40 L364.41,515.40 L364.84,515.40 L365.27,515.40 L365.70,515.40 L366.14,515.40 L366.57,515.40 L367.00,515.40 L367.43,515.40 L367.86,515.40 L368.29,515.40 L368.72,515.40 L369.16,515.40 L369.59,515.40 L370.02,515.40 L370.45,515.40 L370.88,515.40 L371.31,515.40 L371.75,515.40 L372.18,515.40 L372.61,515.40 L373.04,515.40 L373.47,515.40 L373.90,515.40 L374.33,515.40 L374.77,515.40 L375.20,515.40 L375.63,515.40 L376.06,515.40 L376.49,515.40 L376.92,515.40 L377.35,515.40 L377.79,515.40 L378.22,515.40 L378.65,515.40 L379.08,515.40 L379.51,515.40 L379.94,515.40 L380.38,515.40 L380.81,515.40 L381.24,515.40 L381.67,515.40 L382.10,515.40 L382.53,515.40 L382.96,515.40 L383.40,515.40 L383.83,515.40 L384.26,515.40 L384.69,515.40 L385.12,515.40 L385.55,515.40 L385.98,515.40 L386.42,515.40 L386.85,515.40 L387.28,515.40 L387.71,515.40 L388.14,515.40 L388.57,515.40 L389.01,515.40 L389.44,515.40 L389.87,515.40 L390.30,515.40 L390.73,515.40 L391.16,515.40 L391.59,515.40 L392.03,515.40 L392.46,515.40 L392.89,515.40 L393.32,515.40 L393.75,515.40 L394.18,515.40 L394.62,515.40 L395.05,515.40 L395.48,515.40 L395.91,515.40 L396.34,515.40 L396.77,515.40 L397.20,515.40 L397.64,515.40 L398.07,515.39 L398.50,515.39 L398.93,515.39 L399.36,515.38 L399.79,515.38 L400.22,515.37 L400.66,515.36 L401.09,515.35 L401.52,515.33 L401.95,515.31 L402.38,515.28 L402.81,515.24 L403.25,515.20 L403.68,515.14 L404.11,515.07 L404.54,514.98 L404.97,514.87 L405.40,514.74 L405.83,514.58 L406.27,514.38 L406.70,514.16 L407.13,513.89 L407.56,513.57 L407.99,513.21 L408.42,512.78 L408.85,512.30 L409.29,511.76 L409.72,511.15 L410.15,510.47 L410.58,509.73 L411.01,508.92 L411.44,508.04 L411.88,507.09 L412.31,506.10 L412.74,505.05 L413.17,503.97 L413.60,502.85 L414.03,501.73 L414.46,500.60 L414.90,499.50 L415.33,498.42 L415.76,497.40 L416.19,496.45 L416.62,495.59 L417.05,494.83 L417.48,494.19 L417.92,493.67 L418.35,493.30 L418.78,493.07 L419.21,493.00 L419.64,493.08 L420.07,493.31 L420.51,493.69 L420.94,494.22 L421.37,494.87 L421.80,495.63 L422.23,496.50 L422.66,497.46 L423.09,498.48 L423.53,499.55 L423.96,500.66 L424.39,501.79 L424.82,502.91 L425.25,504.02 L425.68,505.10 L426.12,506.15 L426.55,507.14 L426.98,508.08 L427.41,508.96 L427.84,509.77 L428.27,510.51 L428.70,511.18 L429.14,511.79 L429.57,512.33 L430.00,512.81 L430.43,513.22 L430.86,513.59 L431.29,513.90 L431.72,514.17 L432.16,514.39 L432.59,514.59 L433.02,514.74 L433.45,514.88 L433.88,514.98 L434.31,515.07 L434.75,515.14 L435.18,515.20 L435.61,515.25 L436.04,515.28 L436.47,515.31 L436.90,515.33 L437.33,515.35 L437.77,515.36 L438.20,515.37 L438.63,515.38 L439.06,515.38 L439.49,515.39 L439.92,515.39 L440.35,515.39 L440.79,515.40 L441.22,515.40 L441.65,515.40 L442.08,515.40 L442.51,515.40 L442.94,515.40 L443.38,515.40 L443.81,515.40 L444.24,515.40 L444.67,515.40 L445.10,515.40 L445.53,515.40 L445.96,515.40 L446.40,515.40 L446.83,515.40 L447.26,515.40 L447.69,515.40 L448.12,515.40 L448.55,515.40 L448.98,515.40 L449.42,515.40 L449.85,515.40 L450.28,515.40 L450.71,515.40 L451.14,515.40 L451.57,515.40 L452.01,515.40 L452.44,515.40 L452.87,515.40 L453.30,515.40 L453.30,515.4 L358.80,515.4 Z" fill="#e60012" stroke="#5a0a0a" stroke-width="0.5"/>
<path d="M358.80,515.40 L359.23,515.40 L359.66,515.40 L360.09,515.40 L360.53,515.40 L360.96,515.40 L361.39,515.40 L361.82,515.40 L362.25,515.40 L362.68,515.40 L363.12,515.40 L363.55,515.40 L363.98,515.40 L364.41,515.40 L364.84,515.40 L365.27,515.40 L365.70,515.40 L366.14,515.40 L366.57,515.40 L367.00,515.40 L367.43,515.40 L367.86,515.40 L368.29,515.40 L368.72,515.40 L369.16,515.40 L369.59,515.40 L370.02,515.40 L370.45,515.40 L370.88,515.40 L371.31,515.40 L371.75,515.40 L372.18,515.40 L372.61,515.40 L373.04,515.40 L373.47,515.40 L373.90,515.39 L374.33,515.39 L374.77,515.39 L375.20,515.39 L375.63,515.39 L376.06,515.38 L376.49,515.38 L376.92,515.38 L377.35,515.37 L377.79,515.37 L378.22,515.36 L378.65,515.35 L379.08,515.34 L379.51,515.32 L379.94,515.31 L380.38,515.29 L380.81,515.26 L381.24,515.24 L381.67,515.20 L382.10,515.16 L382.53,515.11 L382.96,515.04 L383.40,514.97 L383.83,514.88 L384.26,514.77 L384.69,514.63 L385.12,514.47 L385.55,514.28 L385.98,514.06 L386.42,513.79 L386.85,513.47 L387.28,513.09 L387.71,512.65 L388.14,512.15 L388.57,511.57 L389.01,510.90 L389.44,510.16 L389.87,509.34 L390.30,508.44 L390.73,507.47 L391.16,506.45 L391.59,505.40 L392.03,504.32 L392.46,503.24 L392.89,502.19 L393.32,501.17 L393.75,500.22 L394.18,499.33 L394.62,498.51 L395.05,497.78 L395.48,497.13 L395.91,496.56 L396.34,496.06 L396.77,495.63 L397.20,495.27 L397.64,494.95 L398.07,494.69 L398.50,494.47 L398.93,494.29 L399.36,494.13 L399.79,494.01 L400.22,493.90 L400.66,493.82 L401.09,493.75 L401.52,493.69 L401.95,493.65 L402.38,493.61 L402.81,493.59 L403.25,493.57 L403.68,493.56 L404.11,493.55 L404.54,493.56 L404.97,493.56 L405.40,493.58 L405.83,493.60 L406.27,493.62 L406.70,493.66 L407.13,493.70 L407.56,493.75 L407.99,493.81 L408.42,493.88 L408.85,493.97 L409.29,494.07 L409.72,494.19 L410.15,494.33 L410.58,494.49 L411.01,494.68 L411.44,494.90 L411.88,495.15 L412.31,495.44 L412.74,495.77 L413.17,496.15 L413.60,496.58 L414.03,497.06 L414.46,497.60 L414.90,498.20 L415.33,498.85 L415.76,499.56 L416.19,500.33 L416.62,501.14 L417.05,501.99 L417.48,502.88 L417.92,503.78 L418.35,504.70 L418.78,505.61 L419.21,506.50 L419.64,507.36 L420.07,508.19 L420.51,508.97 L420.94,509.70 L421.37,510.37 L421.80,510.99 L422.23,511.54 L422.66,512.04 L423.09,512.49 L423.53,512.88 L423.96,513.23 L424.39,513.53 L424.82,513.80 L425.25,514.03 L425.68,514.23 L426.12,514.40 L426.55,514.55 L426.98,514.67 L427.41,514.78 L427.84,514.87 L428.27,514.95 L428.70,515.02 L429.14,515.08 L429.57,515.13 L430.00,515.17 L430.43,515.20 L430.86,515.23 L431.29,515.26 L431.72,515.28 L432.16,515.30 L432.59,515.31 L433.02,515.33 L433.45,515.34 L433.88,515.35 L434.31,515.36 L434.75,515.36 L435.18,515.37 L435.61,515.37 L436.04,515.38 L436.47,515.38 L436.90,515.38 L437.33,515.39 L437.77,515.39 L438.20,515.39 L438.63,515.39 L439.06,515.39 L439.49,515.39 L439.92,515.39 L440.35,515.40 L440.79,515.40 L441.22,515.40 L441.65,515.40 L442.08,515.40 L442.51,515.40 L442.94,515.40 L443.38,515.40 L443.81,515.40 L444.24,515.40 L444.67,515.40 L445.10,515.40 L445.53,515.40 L445.96,515.40 L446.40,515.40 L446.83,515.40 L447.26,515.40 L447.69,515.40 L448.12,515.40 L448.55,515.40 L448.98,515.40 L449.42,515.40 L449.85,515.40 L450.28,515.40 L450.71,515.40 L451.14,515.40 L451.57,515.40 L452.01,515.40 L452.44,515.40 L452.87,515.40 L453.30,515.40 L453.30,515.4 L358.80,515.4 Z" fill="url(#hatch)" stroke="#333" stroke-width="0.4" style="mix-blend-mode:multiply"/>
<line x1="358.8" y1="433.5" x2="358.8" y2="515.4" stroke="#555" stroke-width="0.7"/>
<line x1="358.8" y1="515.4" x2="453.3" y2="515.4" stroke="#555" stroke-width="0.7"/>
<path d="M356.6 515.4h2.2M357.6 513.4h1.2M357.6 511.3h1.2M357.6 509.3h1.2M357.6 507.2h1.2M356.6 505.2h2.2M357.6 503.2h1.2M357.6 501.1h1.2M357.6 499.1h1.2M357.6 497.0h1.2M356.6 495.0h2.2M357.6 493.0h1.2M357.6 490.9h1.2M357.6 488.9h1.2M357.6 486.8h1.2M356.6 484.8h2.2M357.6 482.8h1.2M357.6 480.7h1.2M357.6 478.7h1.2M357.6 476.6h1.2M356.6 474.6h2.2M357.6 472.6h1.2M357.6 470.5h1.2M357.6 468.5h1.2M357.6 466.4h1.2M356.6 464.4h2.2M357.6 462.4h1.2M357.6 460.3h1.2M357.6 458.3h1.2M357.6 456.2h1.2M356.6 454.2h2.2M357.6 452.2h1.2M357.6 450.1h1.2M357.6 448.1h1.2M357.6 446.0h1.2M356.6 444.0h2.2M357.6 442.0h1.2M357.6 439.9h1.2M357.6 437.9h1.2M357.6 435.8h1.2M356.6 433.8h2.2M358.8 515.4v2.2M360.7 515.4v1.2M362.6 515.4v1.2M364.5 515.4v1.2M366.4 515.4v1.2M368.2 515.4v1.2M370.1 515.4v1.2M372.0 515.4v1.2M373.9 515.4v1.2M375.8 515.4v1.2M377.7 515.4v2.2M379.6 515.4v1.2M381.5 515.4v1.2M383.4 515.4v1.2M385.3 515.4v1.2M387.2 515.4v1.2M389.0 515.4v1.2M390.9 515.4v1.2M392.8 515.4v1.2M394.7 515.4v1.2M396.6 515.4v2.2M398.5 515.4v1.2M400.4 515.4v1.2M402.3 515.4v1.2M404.2 515.4v1.2M406.1 515.4v1.2M407.9 515.4v1.2M409.8 515.4v1.2M411.7 515.4v1.2M413.6 515.4v1.2M415.5 515.4v2.2M417.4 515.4v1.2M419.3 515.4v1.2M421.2 515.4v1.2M423.1 515.4v1.2M425.0 515.4v1.2M426.8 515.4v1.2M428.7 515.4v1.2M430.6 515.4v1.2M432.5 515.4v1.2M434.4 515.4v2.2M436.3 515.4v1.2M438.2 515.4v1.2M440.1 515.4v1.2M442.0 515.4v1.2M443.9 515.4v1.2M445.7 515.4v1.2M447.6 515.4v1.2M449.5 515.4v1.2M451.4 515.4v1.2M453.3 515.4v2.2" stroke="#666" stroke-width="0.4" fill="none"/>
<text x="358.8" y="521.9" class="t" font-size="3.8" text-anchor="middle" fill="#666">0</text>
<text x="377.7" y="521.9" class="t" font-size="3.8" text-anchor="middle" fill="#666">20</text>
<text x="396.6" y="521.9" class="t" font-size="3.8" text-anchor="middle" fill="#666">40</text>
<text x="415.5" y="521.9" class="t" font-size="3.8" text-anchor="middle" fill="#666">60</text>
<text x="434.4" y="521.9" class="t" font-size="3.8" text-anchor="middle" fill="#666">80</text>
<text x="453.3" y="521.9" class="t" font-size="3.8" text-anchor="middle" fill="#666">100</text>
<text transform="translate(354.8,515.4) rotate(-90)" class="t" font-size="3.6" text-anchor="middle" fill="#666">0</text>
<text transform="translate(354.8,501.8) rotate(-90)" class="t" font-size="3.6" text-anchor="middle" fill="#666">20</text>
<text transform="translate(354.8,488.2) rotate(-90)" class="t" font-size="3.6" text-anchor="middle" fill="#666">40</text>
<text transform="translate(354.8,474.6) rotate(-90)" class="t" font-size="3.6" text-anchor="middle" fill="#666">60</text>
<text transform="translate(354.8,461.0) rotate(-90)" class="t" font-size="3.6" text-anchor="middle" fill="#666">80</text>
<text transform="translate(354.8,447.4) rotate(-90)" class="t" font-size="3.6" text-anchor="middle" fill="#666">100</text>
<text transform="translate(354.8,433.8) rotate(-90)" class="t" font-size="3.6" text-anchor="middle" fill="#666">120</text>
<path d="M467.40,515.40 L467.83,515.40 L468.26,515.40 L468.69,515.40 L469.13,515.40 L469.56,515.40 L469.99,515.40 L470.42,515.40 L470.85,515.40 L471.28,515.40 L471.72,515.40 L472.15,515.40 L472.58,515.40 L473.01,515.40 L473.44,515.40 L473.87,515.40 L474.30,515.40 L474.74,515.40 L475.17,515.40 L475.60,515.40 L476.03,515.40 L476.46,515.40 L476.89,515.40 L477.32,515.40 L477.76,515.40 L478.19,515.40 L478.62,515.40 L479.05,515.40 L479.48,515.40 L479.91,515.40 L480.35,515.40 L480.78,515.40 L481.21,515.40 L481.64,515.40 L482.07,515.40 L482.50,515.40 L482.93,515.40 L483.37,515.40 L483.80,515.40 L484.23,515.40 L484.66,515.40 L485.09,515.40 L485.52,515.40 L485.95,515.40 L486.39,515.40 L486.82,515.40 L487.25,515.40 L487.68,515.40 L488.11,515.40 L488.54,515.40 L488.98,515.39 L489.41,515.38 L489.84,515.37 L490.27,515.34 L490.70,515.30 L491.13,515.22 L491.56,515.09 L492.00,514.89 L492.43,514.58 L492.86,514.10 L493.29,513.07 L493.72,511.43 L494.15,509.77 L494.58,508.20 L495.02,506.21 L495.45,503.17 L495.88,499.13 L496.31,494.05 L496.74,488.90 L497.17,482.65 L497.61,476.39 L498.04,470.17 L498.47,464.56 L498.90,459.01 L499.33,454.44 L499.76,450.80 L500.19,448.39 L500.63,447.35 L501.06,448.28 L501.49,450.79 L501.92,455.30 L502.35,459.60 L502.78,465.17 L503.22,471.24 L503.65,477.85 L504.08,483.12 L504.51,488.49 L504.94,492.39 L505.37,496.51 L505.80,499.84 L506.24,502.14 L506.67,504.09 L507.10,505.44 L507.53,506.40 L507.96,506.99 L508.39,507.42 L508.82,507.51 L509.26,507.72 L509.69,507.40 L510.12,506.62 L510.55,507.11 L510.98,507.12 L511.41,507.18 L511.85,507.74 L512.28,507.70 L512.71,508.06 L513.14,508.05 L513.57,508.05 L514.00,507.98 L514.43,507.54 L514.87,506.99 L515.30,507.17 L515.73,507.38 L516.16,506.68 L516.59,506.82 L517.02,506.77 L517.45,506.43 L517.89,506.17 L518.32,505.84 L518.75,505.33 L519.18,504.76 L519.61,504.13 L520.04,503.58 L520.48,502.89 L520.91,503.15 L521.34,502.64 L521.77,502.36 L522.20,502.05 L522.63,502.03 L523.06,502.49 L523.50,502.35 L523.93,501.68 L524.36,502.18 L524.79,502.10 L525.22,503.32 L525.65,503.74 L526.08,505.08 L526.52,505.57 L526.95,505.98 L527.38,507.14 L527.81,507.01 L528.24,508.06 L528.67,508.65 L529.11,509.93 L529.54,510.12 L529.97,510.76 L530.40,511.63 L530.83,511.73 L531.26,511.90 L531.69,512.27 L532.13,513.21 L532.56,513.71 L532.99,514.02 L533.42,514.27 L533.85,514.48 L534.28,514.66 L534.72,514.81 L535.15,514.94 L535.58,515.04 L536.01,515.12 L536.44,515.19 L536.87,515.24 L537.30,515.28 L537.74,515.31 L538.17,515.33 L538.60,515.35 L539.03,515.37 L539.46,515.38 L539.89,515.38 L540.32,515.39 L540.76,515.39 L541.19,515.39 L541.62,515.40 L542.05,515.40 L542.48,515.40 L542.91,515.40 L543.35,515.40 L543.78,515.40 L544.21,515.40 L544.64,515.40 L545.07,515.40 L545.50,515.40 L545.93,515.40 L546.37,515.40 L546.80,515.40 L547.23,515.40 L547.66,515.40 L548.09,515.40 L548.52,515.40 L548.95,515.40 L549.39,515.40 L549.82,515.40 L550.25,515.40 L550.68,515.40 L551.11,515.40 L551.54,515.40 L551.98,515.40 L552.41,515.40 L552.84,515.40 L553.27,515.40 L553.70,515.40 L554.13,515.40 L554.56,515.40 L555.00,515.40 L555.43,515.40 L555.86,515.40 L556.29,515.40 L556.72,515.40 L557.15,515.40 L557.58,515.40 L558.02,515.40 L558.45,515.40 L558.88,515.40 L559.31,515.40 L559.74,515.40 L560.17,515.40 L560.61,515.40 L561.04,515.40 L561.47,515.40 L561.90,515.40 L561.90,515.4 L467.40,515.4 Z" fill="#fff" stroke="#333" stroke-width="0.55"/>
<path d="M467.40,515.40 L467.83,515.40 L468.26,515.40 L468.69,515.40 L469.13,515.40 L469.56,515.40 L469.99,515.40 L470.42,515.40 L470.85,515.40 L471.28,515.40 L471.72,515.40 L472.15,515.40 L472.58,515.40 L473.01,515.40 L473.44,515.40 L473.87,515.40 L474.30,515.40 L474.74,515.40 L475.17,515.40 L475.60,515.40 L476.03,515.40 L476.46,515.40 L476.89,515.40 L477.32,515.40 L477.76,515.40 L478.19,515.40 L478.62,515.40 L479.05,515.40 L479.48,515.40 L479.91,515.40 L480.35,515.40 L480.78,515.40 L481.21,515.40 L481.64,515.40 L482.07,515.40 L482.50,515.40 L482.93,515.40 L483.37,515.40 L483.80,515.40 L484.23,515.40 L484.66,515.40 L485.09,515.40 L485.52,515.40 L485.95,515.40 L486.39,515.40 L486.82,515.40 L487.25,515.40 L487.68,515.40 L488.11,515.40 L488.54,515.40 L488.98,515.39 L489.41,515.38 L489.84,515.37 L490.27,515.34 L490.70,515.30 L491.13,515.22 L491.56,515.09 L492.00,514.89 L492.43,514.58 L492.86,514.10 L493.29,513.40 L493.72,512.39 L494.15,510.98 L494.58,509.09 L495.02,506.61 L495.45,503.46 L495.88,499.58 L496.31,494.97 L496.74,489.67 L497.17,483.80 L497.61,477.55 L498.04,471.18 L498.47,464.99 L498.90,459.34 L499.33,454.55 L499.76,450.95 L500.19,448.78 L500.63,448.19 L501.06,449.22 L501.49,451.78 L501.92,455.66 L502.35,460.58 L502.78,466.17 L503.22,472.08 L503.65,477.97 L504.08,483.56 L504.51,488.65 L504.94,493.10 L505.37,496.84 L505.80,499.90 L506.24,502.30 L506.67,504.14 L507.10,505.49 L507.53,506.47 L507.96,507.15 L508.39,507.61 L508.82,507.91 L509.26,508.10 L509.69,508.22 L510.12,508.28 L510.55,508.31 L510.98,508.33 L511.41,508.32 L511.85,508.31 L512.28,508.28 L512.71,508.25 L513.14,508.20 L513.57,508.14 L514.00,508.06 L514.43,507.96 L514.87,507.85 L515.30,507.71 L515.73,507.54 L516.16,507.34 L516.59,507.12 L517.02,506.85 L517.45,506.56 L517.89,506.23 L518.32,505.88 L518.75,505.50 L519.18,505.09 L519.61,504.68 L520.04,504.26 L520.48,503.85 L520.91,503.47 L521.34,503.13 L521.77,502.85 L522.20,502.65 L522.63,502.53 L523.06,502.52 L523.50,502.62 L523.93,502.84 L524.36,503.16 L524.79,503.59 L525.22,504.10 L525.65,504.68 L526.08,505.30 L526.52,505.96 L526.95,506.63 L527.38,507.31 L527.81,507.99 L528.24,508.66 L528.67,509.32 L529.11,509.95 L529.54,510.55 L529.97,511.13 L530.40,511.66 L530.83,512.16 L531.26,512.62 L531.69,513.03 L532.13,513.40 L532.56,513.73 L532.99,514.02 L533.42,514.27 L533.85,514.48 L534.28,514.66 L534.72,514.81 L535.15,514.94 L535.58,515.04 L536.01,515.12 L536.44,515.19 L536.87,515.24 L537.30,515.28 L537.74,515.31 L538.17,515.33 L538.60,515.35 L539.03,515.37 L539.46,515.38 L539.89,515.38 L540.32,515.39 L540.76,515.39 L541.19,515.39 L541.62,515.40 L542.05,515.40 L542.48,515.40 L542.91,515.40 L543.35,515.40 L543.78,515.40 L544.21,515.40 L544.64,515.40 L545.07,515.40 L545.50,515.40 L545.93,515.40 L546.37,515.40 L546.80,515.40 L547.23,515.40 L547.66,515.40 L548.09,515.40 L548.52,515.40 L548.95,515.40 L549.39,515.40 L549.82,515.40 L550.25,515.40 L550.68,515.40 L551.11,515.40 L551.54,515.40 L551.98,515.40 L552.41,515.40 L552.84,515.40 L553.27,515.40 L553.70,515.40 L554.13,515.40 L554.56,515.40 L555.00,515.40 L555.43,515.40 L555.86,515.40 L556.29,515.40 L556.72,515.40 L557.15,515.40 L557.58,515.40 L558.02,515.40 L558.45,515.40 L558.88,515.40 L559.31,515.40 L559.74,515.40 L560.17,515.40 L560.61,515.40 L561.04,515.40 L561.47,515.40 L561.90,515.40" fill="none" stroke="#555" stroke-width="0.45"/>
<path d="M467.40,515.40 L467.83,515.40 L468.26,515.40 L468.69,515.40 L469.13,515.40 L469.56,515.40 L469.99,515.40 L470.42,515.40 L470.85,515.40 L471.28,515.40 L471.72,515.40 L472.15,515.40 L472.58,515.40 L473.01,515.40 L473.44,515.40 L473.87,515.40 L474.30,515.40 L474.74,515.40 L475.17,515.40 L475.60,515.40 L476.03,515.40 L476.46,515.40 L476.89,515.40 L477.32,515.40 L477.76,515.40 L478.19,515.40 L478.62,515.40 L479.05,515.40 L479.48,515.40 L479.91,515.40 L480.35,515.40 L480.78,515.40 L481.21,515.40 L481.64,515.40 L482.07,515.40 L482.50,515.40 L482.93,515.40 L483.37,515.40 L483.80,515.40 L484.23,515.40 L484.66,515.40 L485.09,515.40 L485.52,515.40 L485.95,515.40 L486.39,515.40 L486.82,515.40 L487.25,515.40 L487.68,515.40 L488.11,515.40 L488.54,515.40 L488.98,515.39 L489.41,515.39 L489.84,515.37 L490.27,515.35 L490.70,515.31 L491.13,515.24 L491.56,515.12 L492.00,514.94 L492.43,514.65 L492.86,514.22 L493.29,513.58 L493.72,512.66 L494.15,511.39 L494.58,509.67 L495.02,507.41 L495.45,504.56 L495.88,501.05 L496.31,496.88 L496.74,492.11 L497.17,486.85 L497.61,481.28 L498.04,475.65 L498.47,470.26 L498.90,465.44 L499.33,461.49 L499.76,458.70 L500.19,457.27 L500.63,457.30 L501.06,458.80 L501.49,461.65 L501.92,465.65 L502.35,470.51 L502.78,475.91 L503.22,481.55 L503.65,487.11 L504.08,492.35 L504.51,497.09 L504.94,501.23 L505.37,504.71 L505.80,507.53 L506.24,509.76 L506.67,511.46 L507.10,512.71 L507.53,513.62 L507.96,514.25 L508.39,514.67 L508.82,514.95 L509.26,515.13 L509.69,515.24 L510.12,515.31 L510.55,515.35 L510.98,515.37 L511.41,515.39 L511.85,515.39 L512.28,515.40 L512.71,515.40 L513.14,515.40 L513.57,515.40 L514.00,515.40 L514.43,515.40 L514.87,515.40 L515.30,515.40 L515.73,515.40 L516.16,515.40 L516.59,515.40 L517.02,515.40 L517.45,515.40 L517.89,515.40 L518.32,515.40 L518.75,515.40 L519.18,515.40 L519.61,515.40 L520.04,515.40 L520.48,515.40 L520.91,515.40 L521.34,515.40 L521.77,515.40 L522.20,515.40 L522.63,515.40 L523.06,515.40 L523.50,515.40 L523.93,515.40 L524.36,515.40 L524.79,515.40 L525.22,515.40 L525.65,515.40 L526.08,515.40 L526.52,515.40 L526.95,515.40 L527.38,515.40 L527.81,515.40 L528.24,515.40 L528.67,515.40 L529.11,515.40 L529.54,515.40 L529.97,515.40 L530.40,515.40 L530.83,515.40 L531.26,515.40 L531.69,515.40 L532.13,515.40 L532.56,515.40 L532.99,515.40 L533.42,515.40 L533.85,515.40 L534.28,515.40 L534.72,515.40 L535.15,515.40 L535.58,515.40 L536.01,515.40 L536.44,515.40 L536.87,515.40 L537.30,515.40 L537.74,515.40 L538.17,515.40 L538.60,515.40 L539.03,515.40 L539.46,515.40 L539.89,515.40 L540.32,515.40 L540.76,515.40 L541.19,515.40 L541.62,515.40 L542.05,515.40 L542.48,515.40 L542.91,515.40 L543.35,515.40 L543.78,515.40 L544.21,515.40 L544.64,515.40 L545.07,515.40 L545.50,515.40 L545.93,515.40 L546.37,515.40 L546.80,515.40 L547.23,515.40 L547.66,515.40 L548.09,515.40 L548.52,515.40 L548.95,515.40 L549.39,515.40 L549.82,515.40 L550.25,515.40 L550.68,515.40 L551.11,515.40 L551.54,515.40 L551.98,515.40 L552.41,515.40 L552.84,515.40 L553.27,515.40 L553.70,515.40 L554.13,515.40 L554.56,515.40 L555.00,515.40 L555.43,515.40 L555.86,515.40 L556.29,515.40 L556.72,515.40 L557.15,515.40 L557.58,515.40 L558.02,515.40 L558.45,515.40 L558.88,515.40 L559.31,515.40 L559.74,515.40 L560.17,515.40 L560.61,515.40 L561.04,515.40 L561.47,515.40 L561.90,515.40 L561.90,515.4 L467.40,515.4 Z" fill="#e60012" stroke="#5a0a0a" stroke-width="0.5"/>
<path d="M467.40,515.40 L467.83,515.40 L468.26,515.40 L468.69,515.40 L469.13,515.40 L469.56,515.40 L469.99,515.40 L470.42,515.40 L470.85,515.40 L471.28,515.40 L471.72,515.40 L472.15,515.40 L472.58,515.40 L473.01,515.40 L473.44,515.40 L473.87,515.40 L474.30,515.40 L474.74,515.40 L475.17,515.40 L475.60,515.40 L476.03,515.40 L476.46,515.40 L476.89,515.40 L477.32,515.40 L477.76,515.40 L478.19,515.40 L478.62,515.40 L479.05,515.40 L479.48,515.40 L479.91,515.40 L480.35,515.40 L480.78,515.40 L481.21,515.40 L481.64,515.40 L482.07,515.40 L482.50,515.40 L482.93,515.40 L483.37,515.40 L483.80,515.40 L484.23,515.40 L484.66,515.40 L485.09,515.40 L485.52,515.40 L485.95,515.40 L486.39,515.40 L486.82,515.40 L487.25,515.40 L487.68,515.40 L488.11,515.40 L488.54,515.40 L488.98,515.40 L489.41,515.40 L489.84,515.40 L490.27,515.40 L490.70,515.40 L491.13,515.40 L491.56,515.40 L492.00,515.40 L492.43,515.40 L492.86,515.40 L493.29,515.40 L493.72,515.40 L494.15,515.40 L494.58,515.40 L495.02,515.40 L495.45,515.40 L495.88,515.40 L496.31,515.40 L496.74,515.40 L497.17,515.40 L497.61,515.40 L498.04,515.40 L498.47,515.40 L498.90,515.40 L499.33,515.40 L499.76,515.40 L500.19,515.40 L500.63,515.40 L501.06,515.40 L501.49,515.40 L501.92,515.40 L502.35,515.40 L502.78,515.40 L503.22,515.40 L503.65,515.40 L504.08,515.40 L504.51,515.40 L504.94,515.40 L505.37,515.40 L505.80,515.40 L506.24,515.40 L506.67,515.40 L507.10,515.40 L507.53,515.40 L507.96,515.40 L508.39,515.39 L508.82,515.39 L509.26,515.39 L509.69,515.38 L510.12,515.38 L510.55,515.37 L510.98,515.35 L511.41,515.34 L511.85,515.31 L512.28,515.28 L512.71,515.25 L513.14,515.20 L513.57,515.14 L514.00,515.06 L514.43,514.96 L514.87,514.85 L515.30,514.70 L515.73,514.54 L516.16,514.34 L516.59,514.11 L517.02,513.84 L517.45,513.54 L517.89,513.20 L518.32,512.83 L518.75,512.43 L519.18,511.99 L519.61,511.54 L520.04,511.06 L520.48,510.58 L520.91,510.09 L521.34,509.61 L521.77,509.16 L522.20,508.74 L522.63,508.35 L523.06,508.03 L523.50,507.76 L523.93,507.56 L524.36,507.44 L524.79,507.40 L525.22,507.44 L525.65,507.56 L526.08,507.75 L526.52,508.01 L526.95,508.34 L527.38,508.72 L527.81,509.14 L528.24,509.59 L528.67,510.07 L529.11,510.55 L529.54,511.04 L529.97,511.52 L530.40,511.97 L530.83,512.41 L531.26,512.81 L531.69,513.19 L532.13,513.53 L532.56,513.83 L532.99,514.10 L533.42,514.33 L533.85,514.53 L534.28,514.70 L534.72,514.84 L535.15,514.96 L535.58,515.05 L536.01,515.13 L536.44,515.20 L536.87,515.24 L537.30,515.28 L537.74,515.31 L538.17,515.34 L538.60,515.35 L539.03,515.37 L539.46,515.38 L539.89,515.38 L540.32,515.39 L540.76,515.39 L541.19,515.39 L541.62,515.40 L542.05,515.40 L542.48,515.40 L542.91,515.40 L543.35,515.40 L543.78,515.40 L544.21,515.40 L544.64,515.40 L545.07,515.40 L545.50,515.40 L545.93,515.40 L546.37,515.40 L546.80,515.40 L547.23,515.40 L547.66,515.40 L548.09,515.40 L548.52,515.40 L548.95,515.40 L549.39,515.40 L549.82,515.40 L550.25,515.40 L550.68,515.40 L551.11,515.40 L551.54,515.40 L551.98,515.40 L552.41,515.40 L552.84,515.40 L553.27,515.40 L553.70,515.40 L554.13,515.40 L554.56,515.40 L555.00,515.40 L555.43,515.40 L555.86,515.40 L556.29,515.40 L556.72,515.40 L557.15,515.40 L557.58,515.40 L558.02,515.40 L558.45,515.40 L558.88,515.40 L559.31,515.40 L559.74,515.40 L560.17,515.40 L560.61,515.40 L561.04,515.40 L561.47,515.40 L561.90,515.40 L561.90,515.4 L467.40,515.4 Z" fill="#e60012" stroke="#5a0a0a" stroke-width="0.5"/>
<path d="M467.40,515.40 L467.83,515.40 L468.26,515.40 L468.69,515.40 L469.13,515.40 L469.56,515.40 L469.99,515.40 L470.42,515.40 L470.85,515.40 L471.28,515.40 L471.72,515.40 L472.15,515.40 L472.58,515.40 L473.01,515.40 L473.44,515.40 L473.87,515.40 L474.30,515.40 L474.74,515.40 L475.17,515.40 L475.60,515.40 L476.03,515.40 L476.46,515.40 L476.89,515.40 L477.32,515.40 L477.76,515.40 L478.19,515.40 L478.62,515.40 L479.05,515.40 L479.48,515.40 L479.91,515.40 L480.35,515.40 L480.78,515.40 L481.21,515.40 L481.64,515.40 L482.07,515.40 L482.50,515.40 L482.93,515.40 L483.37,515.40 L483.80,515.40 L484.23,515.40 L484.66,515.40 L485.09,515.40 L485.52,515.40 L485.95,515.40 L486.39,515.40 L486.82,515.40 L487.25,515.40 L487.68,515.40 L488.11,515.40 L488.54,515.40 L488.98,515.40 L489.41,515.40 L489.84,515.40 L490.27,515.40 L490.70,515.40 L491.13,515.40 L491.56,515.40 L492.00,515.39 L492.43,515.39 L492.86,515.39 L493.29,515.38 L493.72,515.37 L494.15,515.36 L494.58,515.35 L495.02,515.32 L495.45,515.29 L495.88,515.24 L496.31,515.18 L496.74,515.08 L497.17,514.95 L497.61,514.78 L498.04,514.54 L498.47,514.23 L498.90,513.84 L499.33,513.36 L499.76,512.81 L500.19,512.20 L500.63,511.57 L501.06,510.96 L501.49,510.41 L501.92,509.94 L502.35,509.55 L502.78,509.24 L503.22,509.01 L503.65,508.84 L504.08,508.71 L504.51,508.62 L504.94,508.56 L505.37,508.51 L505.80,508.48 L506.24,508.45 L506.67,508.44 L507.10,508.43 L507.53,508.42 L507.96,508.41 L508.39,508.41 L508.82,508.41 L509.26,508.40 L509.69,508.40 L510.12,508.40 L510.55,508.40 L510.98,508.40 L511.41,508.40 L511.85,508.40 L512.28,508.40 L512.71,508.40 L513.14,508.40 L513.57,508.41 L514.00,508.41 L514.43,508.41 L514.87,508.41 L515.30,508.42 L515.73,508.42 L516.16,508.43 L516.59,508.44 L517.02,508.45 L517.45,508.47 L517.89,508.49 L518.32,508.52 L518.75,508.56 L519.18,508.60 L519.61,508.66 L520.04,508.74 L520.48,508.84 L520.91,508.96 L521.34,509.12 L521.77,509.32 L522.20,509.55 L522.63,509.84 L523.06,510.17 L523.50,510.55 L523.93,510.97 L524.36,511.42 L524.79,511.89 L525.22,512.36 L525.65,512.81 L526.08,513.23 L526.52,513.62 L526.95,513.95 L527.38,514.24 L527.81,514.47 L528.24,514.67 L528.67,514.83 L529.11,514.96 L529.54,515.06 L529.97,515.13 L530.40,515.19 L530.83,515.24 L531.26,515.28 L531.69,515.31 L532.13,515.33 L532.56,515.35 L532.99,515.36 L533.42,515.37 L533.85,515.38 L534.28,515.38 L534.72,515.39 L535.15,515.39 L535.58,515.39 L536.01,515.39 L536.44,515.40 L536.87,515.40 L537.30,515.40 L537.74,515.40 L538.17,515.40 L538.60,515.40 L539.03,515.40 L539.46,515.40 L539.89,515.40 L540.32,515.40 L540.76,515.40 L541.19,515.40 L541.62,515.40 L542.05,515.40 L542.48,515.40 L542.91,515.40 L543.35,515.40 L543.78,515.40 L544.21,515.40 L544.64,515.40 L545.07,515.40 L545.50,515.40 L545.93,515.40 L546.37,515.40 L546.80,515.40 L547.23,515.40 L547.66,515.40 L548.09,515.40 L548.52,515.40 L548.95,515.40 L549.39,515.40 L549.82,515.40 L550.25,515.40 L550.68,515.40 L551.11,515.40 L551.54,515.40 L551.98,515.40 L552.41,515.40 L552.84,515.40 L553.27,515.40 L553.70,515.40 L554.13,515.40 L554.56,515.40 L555.00,515.40 L555.43,515.40 L555.86,515.40 L556.29,515.40 L556.72,515.40 L557.15,515.40 L557.58,515.40 L558.02,515.40 L558.45,515.40 L558.88,515.40 L559.31,515.40 L559.74,515.40 L560.17,515.40 L560.61,515.40 L561.04,515.40 L561.47,515.40 L561.90,515.40 L561.90,515.4 L467.40,515.4 Z" fill="url(#hatch)" stroke="#333" stroke-width="0.4" style="mix-blend-mode:multiply"/>
<line x1="467.4" y1="433.5" x2="467.4" y2="515.4" stroke="#555" stroke-width="0.7"/>
<line x1="467.4" y1="515.4" x2="561.9" y2="515.4" stroke="#555" stroke-width="0.7"/>
<path d="M465.2 515.4h2.2M466.2 513.4h1.2M466.2 511.3h1.2M466.2 509.3h1.2M466.2 507.2h1.2M465.2 505.2h2.2M466.2 503.2h1.2M466.2 501.1h1.2M466.2 499.1h1.2M466.2 497.0h1.2M465.2 495.0h2.2M466.2 493.0h1.2M466.2 490.9h1.2M466.2 488.9h1.2M466.2 486.8h1.2M465.2 484.8h2.2M466.2 482.8h1.2M466.2 480.7h1.2M466.2 478.7h1.2M466.2 476.6h1.2M465.2 474.6h2.2M466.2 472.6h1.2M466.2 470.5h1.2M466.2 468.5h1.2M466.2 466.4h1.2M465.2 464.4h2.2M466.2 462.4h1.2M466.2 460.3h1.2M466.2 458.3h1.2M466.2 456.2h1.2M465.2 454.2h2.2M466.2 452.2h1.2M466.2 450.1h1.2M466.2 448.1h1.2M466.2 446.0h1.2M465.2 444.0h2.2M466.2 442.0h1.2M466.2 439.9h1.2M466.2 437.9h1.2M466.2 435.8h1.2M465.2 433.8h2.2M467.4 515.4v2.2M469.3 515.4v1.2M471.2 515.4v1.2M473.1 515.4v1.2M475.0 515.4v1.2M476.8 515.4v1.2M478.7 515.4v1.2M480.6 515.4v1.2M482.5 515.4v1.2M484.4 515.4v1.2M486.3 515.4v2.2M488.2 515.4v1.2M490.1 515.4v1.2M492.0 515.4v1.2M493.9 515.4v1.2M495.8 515.4v1.2M497.6 515.4v1.2M499.5 515.4v1.2M501.4 515.4v1.2M503.3 515.4v1.2M505.2 515.4v2.2M507.1 515.4v1.2M509.0 515.4v1.2M510.9 515.4v1.2M512.8 515.4v1.2M514.6 515.4v1.2M516.5 515.4v1.2M518.4 515.4v1.2M520.3 515.4v1.2M522.2 515.4v1.2M524.1 515.4v2.2M526.0 515.4v1.2M527.9 515.4v1.2M529.8 515.4v1.2M531.7 515.4v1.2M533.5 515.4v1.2M535.4 515.4v1.2M537.3 515.4v1.2M539.2 515.4v1.2M541.1 515.4v1.2M543.0 515.4v2.2M544.9 515.4v1.2M546.8 515.4v1.2M548.7 515.4v1.2M550.6 515.4v1.2M552.4 515.4v1.2M554.3 515.4v1.2M556.2 515.4v1.2M558.1 515.4v1.2M560.0 515.4v1.2M561.9 515.4v2.2" stroke="#666" stroke-width="0.4" fill="none"/>
<text x="467.4" y="521.9" class="t" font-size="3.8" text-anchor="middle" fill="#666">0</text>
<text x="486.3" y="521.9" class="t" font-size="3.8" text-anchor="middle" fill="#666">20</text>
<text x="505.2" y="521.9" class="t" font-size="3.8" text-anchor="middle" fill="#666">40</text>
<text x="524.1" y="521.9" class="t" font-size="3.8" text-anchor="middle" fill="#666">60</text>
<text x="543.0" y="521.9" class="t" font-size="3.8" text-anchor="middle" fill="#666">80</text>
<text x="561.9" y="521.9" class="t" font-size="3.8" text-anchor="middle" fill="#666">100</text>
<text transform="translate(463.4,515.4) rotate(-90)" class="t" font-size="3.6" text-anchor="middle" fill="#666">0</text>
<text transform="translate(463.4,501.8) rotate(-90)" class="t" font-size="3.6" text-anchor="middle" fill="#666">20</text>
<text transform="translate(463.4,488.2) rotate(-90)" class="t" font-size="3.6" text-anchor="middle" fill="#666">40</text>
<text transform="translate(463.4,474.6) rotate(-90)" class="t" font-size="3.6" text-anchor="middle" fill="#666">60</text>
<text transform="translate(463.4,461.0) rotate(-90)" class="t" font-size="3.6" text-anchor="middle" fill="#666">80</text>
<text transform="translate(463.4,447.4) rotate(-90)" class="t" font-size="3.6" text-anchor="middle" fill="#666">100</text>
<text transform="translate(463.4,433.8) rotate(-90)" class="t" font-size="3.6" text-anchor="middle" fill="#666">120</text>
<text x="63.9" y="430.4" font-size="9.25" text-anchor="start" fill="#231f20" >G0/G1:54.76%</text>
<text x="63.9" y="441.2" font-size="9.25" text-anchor="start" fill="#231f20" >G2/M:17.38%</text>
<text x="63.9" y="451.9" font-size="9.25" text-anchor="start" fill="#231f20" >S:27.86%</text>
<text x="174.8" y="430.4" font-size="9.25" text-anchor="start" fill="#231f20" >G0/G1:53.33%</text>
<text x="174.8" y="441.2" font-size="9.25" text-anchor="start" fill="#231f20" >G2/M:16.56%</text>
<text x="174.8" y="451.9" font-size="9.25" text-anchor="start" fill="#231f20" >S:30.11%</text>
<text x="290.3" y="430.4" font-size="9.25" text-anchor="start" fill="#231f20" >G0/G1:35.73%</text>
<text x="290.3" y="441.2" font-size="9.25" text-anchor="start" fill="#231f20" >G2/M:25.73%</text>
<text x="290.3" y="451.9" font-size="9.25" text-anchor="start" fill="#231f20" >S:38.54%</text>
<text x="395.6" y="430.4" font-size="9.25" text-anchor="start" fill="#231f20" >G0/G1:37.42%</text>
<text x="395.6" y="441.2" font-size="9.25" text-anchor="start" fill="#231f20" >G2/M:22.32%</text>
<text x="395.6" y="451.9" font-size="9.25" text-anchor="start" fill="#231f20" >S:40.26%</text>
<text x="510.6" y="430.4" font-size="9.25" text-anchor="start" fill="#231f20" >G0/G1:61.98%</text>
<text x="510.6" y="441.2" font-size="9.25" text-anchor="start" fill="#231f20" >G2/M:12.37%</text>
<text x="510.6" y="451.9" font-size="9.25" text-anchor="start" fill="#231f20" >S:25.65%</text>
<text x="62.7" y="411.0" font-size="10.4" text-anchor="start" fill="#231f20" >Control</text>
<text x="174.8" y="411.0" font-size="10.5" text-anchor="start" fill="#231f20" >inhibitor NC</text>
<text x="280.3" y="404.3" font-size="10.7" text-anchor="start" fill="#231f20" >miR-520a-3p</text>
<text x="280.3" y="416.5" font-size="10.7" text-anchor="start" fill="#231f20" >inhibitor</text>
<text x="411.2" y="404.2" font-size="10.67" text-anchor="middle" fill="#231f20" >miR-520a-3p inhibitor</text>
<text x="411.7" y="416.5" font-size="10.67" text-anchor="middle" fill="#231f20" >+sh-NC</text>
<text x="521.2" y="404.2" font-size="10.67" text-anchor="middle" fill="#231f20" >miR-520a-3p inhibitor</text>
<text x="521.2" y="416.5" font-size="10.67" text-anchor="middle" fill="#231f20" >+sh-MUC1</text>
<line x1="12.4" y1="526.6" x2="12.4" y2="475.5" stroke="#231f20" stroke-width="1.3"/>
<path d="M12.4 472.5L15.4 479.5L12.4 477.7L9.4 479.5Z" fill="#231f20"/>
<line x1="11.8" y1="526.0" x2="74.0" y2="526.0" stroke="#231f20" stroke-width="1.3"/>
<path d="M77.0 526.0L70.0 523.0L71.8 526.0L70.0 529.0Z" fill="#231f20"/>
<text transform="translate(9.8,499.3) rotate(-90)" font-size="10.1" text-anchor="middle" fill="#231f20">Number</text>
<text x="34.2" y="537.5" font-size="10.4" text-anchor="start" fill="#231f20" >PI</text>
<line x1="608.8" y1="405.6" x2="608.8" y2="517.7" stroke="#444" stroke-width="1"/>
<line x1="605.8" y1="517.7" x2="608.8" y2="517.7" stroke="#444" stroke-width="1"/>
<text x="604.3" y="520.9" font-size="8.9" text-anchor="end" fill="#231f20" >0</text>
<line x1="605.8" y1="480.3" x2="608.8" y2="480.3" stroke="#444" stroke-width="1"/>
<text x="604.3" y="483.5" font-size="8.9" text-anchor="end" fill="#231f20" >50</text>
<line x1="605.8" y1="443.0" x2="608.8" y2="443.0" stroke="#444" stroke-width="1"/>
<text x="604.3" y="446.2" font-size="8.9" text-anchor="end" fill="#231f20" >100</text>
<line x1="605.8" y1="405.6" x2="608.8" y2="405.6" stroke="#444" stroke-width="1"/>
<text x="604.3" y="408.8" font-size="8.9" text-anchor="end" fill="#231f20" >150</text>
<line x1="608.8" y1="517.7" x2="734.6" y2="517.7" stroke="#444" stroke-width="1"/>
<rect x="613.30" y="442.97" width="16.50" height="11.96" fill="#a0a0a0" stroke="#111" stroke-width="0.9" />
<rect x="613.30" y="454.92" width="16.50" height="20.93" fill="#ffffff" stroke="#111" stroke-width="0.9" />
<rect x="613.30" y="475.85" width="16.50" height="41.85" fill="#050505" stroke="#111" stroke-width="0.9" />
<line x1="621.5" y1="441.1" x2="621.5" y2="443.0" stroke="#222" stroke-width="0.9"/>
<line x1="617.0" y1="441.1" x2="626.0" y2="441.1" stroke="#222" stroke-width="0.9"/>
<line x1="621.5" y1="453.8" x2="621.5" y2="454.9" stroke="#222" stroke-width="0.9"/>
<line x1="617.0" y1="453.8" x2="626.0" y2="453.8" stroke="#222" stroke-width="0.9"/>
<line x1="621.5" y1="473.2" x2="621.5" y2="475.8" stroke="#222" stroke-width="0.9"/>
<line x1="617.0" y1="473.2" x2="626.0" y2="473.2" stroke="#222" stroke-width="0.9"/>
<line x1="621.5" y1="517.7" x2="621.5" y2="520.7" stroke="#444" stroke-width="1"/>
<rect x="637.70" y="442.97" width="16.50" height="11.21" fill="#a0a0a0" stroke="#111" stroke-width="0.9" />
<rect x="637.70" y="454.18" width="16.50" height="21.67" fill="#ffffff" stroke="#111" stroke-width="0.9" />
<rect x="637.70" y="475.85" width="16.50" height="41.85" fill="#050505" stroke="#111" stroke-width="0.9" />
<line x1="646.0" y1="441.1" x2="646.0" y2="443.0" stroke="#222" stroke-width="0.9"/>
<line x1="641.5" y1="441.1" x2="650.5" y2="441.1" stroke="#222" stroke-width="0.9"/>
<line x1="646.0" y1="451.9" x2="646.0" y2="454.2" stroke="#222" stroke-width="0.9"/>
<line x1="641.5" y1="451.9" x2="650.5" y2="451.9" stroke="#222" stroke-width="0.9"/>
<line x1="646.0" y1="474.4" x2="646.0" y2="475.8" stroke="#222" stroke-width="0.9"/>
<line x1="641.5" y1="474.4" x2="650.5" y2="474.4" stroke="#222" stroke-width="0.9"/>
<line x1="646.0" y1="517.7" x2="646.0" y2="520.7" stroke="#444" stroke-width="1"/>
<rect x="662.50" y="442.97" width="16.50" height="18.31" fill="#a0a0a0" stroke="#111" stroke-width="0.9" />
<rect x="662.50" y="461.28" width="16.50" height="30.64" fill="#ffffff" stroke="#111" stroke-width="0.9" />
<rect x="662.50" y="491.92" width="16.50" height="25.78" fill="#050505" stroke="#111" stroke-width="0.9" />
<line x1="670.8" y1="441.1" x2="670.8" y2="443.0" stroke="#222" stroke-width="0.9"/>
<line x1="666.2" y1="441.1" x2="675.2" y2="441.1" stroke="#222" stroke-width="0.9"/>
<line x1="670.8" y1="457.9" x2="670.8" y2="461.3" stroke="#222" stroke-width="0.9"/>
<line x1="666.2" y1="457.9" x2="675.2" y2="457.9" stroke="#222" stroke-width="0.9"/>
<line x1="670.8" y1="489.3" x2="670.8" y2="491.9" stroke="#222" stroke-width="0.9"/>
<line x1="666.2" y1="489.3" x2="675.2" y2="489.3" stroke="#222" stroke-width="0.9"/>
<line x1="670.8" y1="517.7" x2="670.8" y2="520.7" stroke="#444" stroke-width="1"/>
<rect x="686.80" y="442.97" width="16.50" height="17.19" fill="#a0a0a0" stroke="#111" stroke-width="0.9" />
<rect x="686.80" y="460.16" width="16.50" height="31.01" fill="#ffffff" stroke="#111" stroke-width="0.9" />
<rect x="686.80" y="491.17" width="16.50" height="26.53" fill="#050505" stroke="#111" stroke-width="0.9" />
<line x1="695.0" y1="441.1" x2="695.0" y2="443.0" stroke="#222" stroke-width="0.9"/>
<line x1="690.5" y1="441.1" x2="699.5" y2="441.1" stroke="#222" stroke-width="0.9"/>
<line x1="695.0" y1="457.2" x2="695.0" y2="460.2" stroke="#222" stroke-width="0.9"/>
<line x1="690.5" y1="457.2" x2="699.5" y2="457.2" stroke="#222" stroke-width="0.9"/>
<line x1="695.0" y1="488.9" x2="695.0" y2="491.2" stroke="#222" stroke-width="0.9"/>
<line x1="690.5" y1="488.9" x2="699.5" y2="488.9" stroke="#222" stroke-width="0.9"/>
<line x1="695.0" y1="517.7" x2="695.0" y2="520.7" stroke="#444" stroke-width="1"/>
<rect x="711.60" y="442.97" width="16.50" height="10.09" fill="#a0a0a0" stroke="#111" stroke-width="0.9" />
<rect x="711.60" y="453.06" width="16.50" height="17.94" fill="#ffffff" stroke="#111" stroke-width="0.9" />
<rect x="711.60" y="470.99" width="16.50" height="46.71" fill="#050505" stroke="#111" stroke-width="0.9" />
<line x1="719.9" y1="441.1" x2="719.9" y2="443.0" stroke="#222" stroke-width="0.9"/>
<line x1="715.4" y1="441.1" x2="724.4" y2="441.1" stroke="#222" stroke-width="0.9"/>
<line x1="719.9" y1="451.2" x2="719.9" y2="453.1" stroke="#222" stroke-width="0.9"/>
<line x1="715.4" y1="451.2" x2="724.4" y2="451.2" stroke="#222" stroke-width="0.9"/>
<line x1="719.9" y1="469.5" x2="719.9" y2="471.0" stroke="#222" stroke-width="0.9"/>
<line x1="715.4" y1="469.5" x2="724.4" y2="469.5" stroke="#222" stroke-width="0.9"/>
<line x1="719.9" y1="517.7" x2="719.9" y2="520.7" stroke="#444" stroke-width="1"/>
<text x="670.8" y="458.5" font-size="8.5" text-anchor="middle" fill="#231f20" >*</text>
<text x="670.8" y="490.0" font-size="8.5" text-anchor="middle" fill="#231f20" >**</text>
<text x="719.9" y="451.5" font-size="8.5" text-anchor="middle" fill="#231f20" >***</text>
<text x="719.9" y="469.7" font-size="8.5" text-anchor="middle" fill="#231f20" >***</text>
<rect x="683.40" y="399.10" width="12.20" height="5.80" fill="#a0a0a0" stroke="#231f20" stroke-width="0.9" />
<text x="701.8" y="405.3" font-size="9.0" text-anchor="start" fill="#231f20" >G2/M</text>
<rect x="683.40" y="411.60" width="12.20" height="5.80" fill="#ffffff" stroke="#231f20" stroke-width="0.9" />
<text x="701.8" y="417.8" font-size="9.0" text-anchor="start" fill="#231f20" >S</text>
<rect x="683.40" y="423.90" width="12.20" height="5.80" fill="#231815" stroke="#231f20" stroke-width="0.9" />
<text x="701.8" y="430.1" font-size="9.0" text-anchor="start" fill="#231f20" >G0/G1</text>
<text transform="translate(584.6,463.5) rotate(-90)" font-size="10.67" text-anchor="middle" fill="#231f20">Percentage of cell (%)</text>
<g clip-path="url(#fc0)">
<ellipse cx="60.5" cy="641.4" rx="11.0" ry="4.6" fill="#ff1010" transform="rotate(-27 60.5 641.4)" filter="url(#sb)" opacity="1.0"/>
<path d="M55.1 641.2h.6M80.3 631.9h.6M53.2 640.3h.6M54.3 642.0h.6M58.1 639.1h.6M51.5 643.7h.6M71.0 633.9h.6M75.7 637.0h.6M54.3 650.6h.6M45.3 641.3h.6M70.9 638.0h.6M70.3 642.6h.6M67.8 640.0h.6M70.7 641.5h.6M52.9 636.3h.6M59.0 640.1h.6M48.3 650.6h.6M48.0 643.3h.6M69.2 640.3h.6M54.6 636.5h.6M80.6 639.1h.6M61.2 649.2h.6M54.9 642.9h.6M67.6 640.6h.6M76.4 638.1h.6M64.8 647.7h.6M49.8 643.2h.6M63.8 634.6h.6M72.7 644.5h.6M56.2 638.6h.6M53.7 645.5h.6M69.5 630.5h.6M61.8 639.5h.6M50.8 645.0h.6M57.2 638.5h.6M53.9 641.6h.6M63.1 642.7h.6M61.5 638.6h.6M70.7 640.2h.6M66.8 645.9h.6M46.8 638.4h.6M64.1 641.6h.6M68.4 641.2h.6M64.5 639.0h.6M69.6 644.2h.6M55.7 647.7h.6M52.2 645.7h.6M68.7 640.8h.6M51.1 644.0h.6M41.5 643.2h.6M69.6 640.4h.6M54.2 641.6h.6M57.8 640.1h.6M48.2 649.0h.6M48.9 644.1h.6M50.3 647.8h.6M57.4 638.6h.6M63.8 638.9h.6M40.3 647.5h.6M67.2 644.2h.6M50.1 644.2h.6M51.1 647.0h.6M66.5 637.2h.6M59.9 642.1h.6M47.0 648.4h.6M76.8 633.3h.6M53.0 641.2h.6M62.7 642.9h.6M62.3 636.8h.6M73.0 638.8h.6M56.5 643.7h.6M69.4 638.3h.6M54.0 646.1h.6M70.4 640.0h.6M53.8 644.0h.6M57.3 637.0h.6M77.2 631.1h.6M63.3 641.5h.6M61.5 635.5h.6M80.3 635.7h.6M63.7 639.1h.6M53.3 640.5h.6M67.0 638.5h.6M50.1 636.0h.6M70.5 637.6h.6M71.2 642.5h.6M55.5 638.4h.6M55.0 644.6h.6M62.1 642.0h.6M60.7 652.0h.6M51.9 640.5h.6M65.5 637.1h.6M42.5 644.0h.6M56.7 639.1h.6M57.0 636.5h.6M58.1 642.3h.6M63.2 637.3h.6M49.7 647.3h.6M65.7 641.1h.6M58.9 638.2h.6M54.8 641.8h.6M48.5 649.8h.6M50.1 643.3h.6M63.7 641.1h.6M52.0 646.9h.6M61.1 639.7h.6M69.9 640.1h.6M69.6 644.3h.6M74.3 641.2h.6M57.9 636.0h.6M51.0 649.7h.6M69.5 638.0h.6M63.3 638.5h.6M70.4 636.2h.6M60.6 645.7h.6M71.1 639.4h.6M68.0 638.7h.6M66.8 636.7h.6M65.0 642.4h.6M64.0 644.5h.6M62.6 637.3h.6M62.5 636.9h.6M69.3 637.5h.6M56.0 644.9h.6M75.8 635.4h.6M59.6 641.3h.6M69.2 635.9h.6M59.7 646.1h.6M58.4 641.7h.6M78.4 636.6h.6M57.8 646.2h.6M49.3 644.1h.6M54.2 643.2h.6M57.7 643.7h.6M79.5 634.3h.6M62.4 645.9h.6M68.8 639.2h.6M51.7 642.6h.6M63.6 639.5h.6M66.4 635.9h.6M76.4 640.9h.6M54.4 648.6h.6M65.8 639.0h.6M63.2 639.0h.6M51.5 636.7h.6M60.4 639.3h.6M58.2 645.2h.6M40.0 644.8h.6M65.8 642.8h.6M65.3 645.3h.6M56.7 633.4h.6M48.7 643.8h.6M73.6 635.0h.6M62.9 638.8h.6M69.5 632.4h.6M73.0 636.7h.6M55.9 638.5h.6M67.7 642.9h.6M58.4 647.0h.6M60.0 636.6h.6M59.8 636.5h.6M60.5 639.6h.6M70.3 637.7h.6M61.6 640.5h.6M59.2 644.3h.6M58.1 636.7h.6M63.5 638.2h.6M52.6 642.0h.6M56.1 641.4h.6M60.1 637.9h.6M55.5 641.2h.6M59.5 639.1h.6M55.2 647.2h.6M78.2 634.3h.6M72.2 630.2h.6M64.5 642.1h.6M60.1 642.0h.6M79.8 632.5h.6M63.4 637.2h.6M59.8 639.5h.6M63.2 646.3h.6M63.2 638.9h.6M73.0 641.9h.6M60.4 644.4h.6M79.0 634.0h.6M52.8 644.8h.6M66.6 636.8h.6M51.7 633.0h.6M76.5 633.9h.6M57.6 639.8h.6M60.0 644.8h.6M68.7 641.3h.6M71.6 641.9h.6M50.7 646.3h.6M57.5 646.2h.6M48.2 647.5h.6M61.7 641.8h.6M59.6 645.2h.6M57.5 647.4h.6M54.5 648.1h.6M57.1 640.9h.6M54.0 643.2h.6M65.2 636.4h.6M73.9 633.7h.6M43.5 647.8h.6M59.5 639.4h.6M56.8 647.6h.6M64.9 632.1h.6M52.1 639.7h.6M59.2 642.6h.6M51.4 648.3h.6M66.7 638.3h.6M61.4 647.8h.6M59.1 644.6h.6M63.8 637.8h.6M58.4 641.8h.6M46.8 647.3h.6M65.8 636.5h.6M63.1 644.3h.6M59.2 640.8h.6M69.2 640.6h.6M71.3 641.2h.6M50.9 642.7h.6M53.7 647.0h.6M74.2 630.6h.6M73.0 639.8h.6M54.0 636.4h.6M50.1 648.4h.6M54.9 641.0h.6M56.1 647.0h.6M46.6 650.4h.6M60.8 640.8h.6M49.3 642.4h.6M49.9 649.1h.6M68.6 634.8h.6M54.5 646.1h.6M59.9 641.2h.6M66.1 638.4h.6M67.7 637.2h.6M57.6 648.7h.6M60.9 635.6h.6M53.3 641.6h.6M75.9 638.3h.6M66.3 643.3h.6M50.8 650.3h.6M60.6 646.2h.6M66.8 637.6h.6M64.8 641.4h.6M76.6 640.6h.6M72.6 639.7h.6M55.8 637.4h.6M59.7 642.8h.6M49.2 646.9h.6M62.7 636.0h.6M61.9 639.4h.6M84.4 634.1h.6M61.4 643.3h.6M42.1 652.5h.6M54.6 647.4h.6M61.5 642.8h.6M49.5 645.5h.6M52.9 642.5h.6M57.3 640.5h.6M63.5 639.8h.6M59.1 641.1h.6M52.7 647.4h.6M67.5 647.0h.6M55.8 644.7h.6M56.1 646.1h.6M48.4 647.4h.6M53.6 644.5h.6M66.3 644.1h.6M46.3 649.6h.6M59.9 642.0h.6M66.9 639.1h.6M57.2 644.8h.6M62.6 639.1h.6M50.7 645.2h.6M72.1 641.6h.6M70.2 638.4h.6M62.6 634.2h.6M45.1 648.5h.6M51.3 640.1h.6M69.1 634.0h.6M75.6 631.6h.6M63.1 643.6h.6M71.5 631.0h.6M55.2 642.6h.6M58.9 642.8h.6M60.5 642.3h.6M64.3 638.2h.6M47.1 645.3h.6M68.8 639.6h.6M72.2 633.4h.6M50.4 647.0h.6M48.6 648.7h.6M63.6 637.7h.6M54.8 640.7h.6M39.6 643.9h.6M67.7 643.1h.6M61.9 637.2h.6M56.3 641.0h.6M79.2 629.6h.6M61.8 645.5h.6M53.9 642.7h.6M61.4 642.2h.6M51.4 649.8h.6M53.8 646.0h.6M63.9 636.4h.6M55.7 644.6h.6M56.6 645.2h.6M75.2 634.0h.6M68.1 635.7h.6M67.6 635.8h.6M65.2 642.8h.6M64.8 640.4h.6M73.4 634.0h.6M60.4 643.8h.6M76.9 639.2h.6M52.2 641.0h.6M58.3 636.6h.6M48.4 649.2h.6M57.5 651.5h.6M65.1 645.2h.6M73.3 641.2h.6M54.7 643.7h.6M60.6 639.3h.6M57.4 642.9h.6M54.0 645.9h.6M50.1 644.0h.6M61.1 644.7h.6M45.3 646.2h.6M61.5 643.4h.6M60.7 631.9h.6M54.7 640.3h.6M51.6 647.1h.6M48.3 648.6h.6M77.0 638.0h.6M48.7 650.8h.6M74.3 639.9h.6M65.8 642.5h.6M57.3 639.3h.6M50.3 646.0h.6M69.7 641.5h.6M75.8 641.6h.6M52.3 648.1h.6M57.9 642.5h.6M69.8 639.4h.6M63.5 636.6h.6M78.2 638.4h.6M55.5 639.2h.6M65.3 639.1h.6M49.5 644.8h.6M79.0 643.0h.6M54.1 647.9h.6M41.1 644.7h.6M59.4 636.8h.6M59.3 641.1h.6M77.4 633.7h.6M57.5 643.8h.6M60.4 642.8h.6M65.8 642.2h.6M74.5 633.8h.6M60.0 640.4h.6M69.7 639.5h.6M65.1 641.2h.6M57.9 640.3h.6M61.2 640.1h.6M60.8 644.3h.6M52.5 637.8h.6M71.2 637.3h.6M48.3 645.1h.6M70.9 633.1h.6M68.9 635.3h.6M59.7 642.0h.6M53.8 641.6h.6M58.5 645.8h.6M64.7 642.5h.6M67.1 647.5h.6M63.1 636.4h.6M69.3 645.5h.6M55.6 640.5h.6M62.6 643.8h.6M46.7 649.0h.6M67.3 640.1h.6M61.9 640.1h.6M56.9 640.4h.6M70.8 632.1h.6M66.6 638.3h.6M35.7 645.8h.6M60.9 643.4h.6M47.7 642.8h.6M69.9 638.1h.6M82.5 636.5h.6M56.0 643.2h.6M61.2 641.5h.6M58.3 641.4h.6M63.6 639.1h.6M66.2 641.5h.6M71.9 640.7h.6M51.8 641.4h.6M74.4 643.3h.6M52.3 646.1h.6M63.0 635.2h.6M70.7 647.9h.6M66.8 642.0h.6M52.3 641.5h.6M54.3 649.1h.6M56.5 633.5h.6M60.1 650.7h.6M70.6 633.3h.6M49.2 639.4h.6M64.6 637.0h.6M65.9 640.6h.6M65.5 638.7h.6M64.6 643.4h.6M73.9 634.6h.6M64.8 644.1h.6M68.1 640.1h.6M65.5 636.4h.6M76.3 640.6h.6M43.8 647.8h.6M71.8 637.5h.6M58.2 646.9h.6M58.1 638.1h.6M52.0 642.8h.6M44.1 651.7h.6M57.2 642.6h.6M54.5 646.0h.6M64.9 642.5h.6M47.6 645.1h.6M73.1 640.2h.6M62.9 637.3h.6M58.3 644.6h.6M54.3 639.9h.6M53.6 643.7h.6M50.6 641.4h.6M55.7 644.8h.6M60.6 643.2h.6M59.0 646.0h.6M48.1 643.1h.6M58.2 638.8h.6M52.7 636.3h.6M61.9 636.5h.6M77.0 635.6h.6M66.0 640.5h.6M57.8 640.9h.6M46.2 645.8h.6M48.1 640.0h.6M45.7 642.6h.6M66.9 642.5h.6M53.8 645.9h.6M61.1 636.5h.6M55.1 642.0h.6M61.3 642.0h.6M72.9 633.5h.6M54.5 644.6h.6M57.5 643.3h.6M53.4 645.2h.6M68.2 646.0h.6M51.5 641.1h.6M50.6 648.7h.6M48.3 647.1h.6M48.1 647.8h.6M64.7 637.6h.6M83.2 634.9h.6M51.8 644.0h.6M68.9 644.9h.6M62.7 641.1h.6M50.8 649.6h.6M58.1 641.1h.6M58.5 640.8h.6M54.4 643.3h.6M77.5 629.1h.6M43.7 644.6h.6M63.9 638.3h.6M63.5 640.1h.6M55.4 643.7h.6M61.8 637.6h.6M68.3 635.2h.6M61.9 645.6h.6M64.2 636.6h.6M66.6 637.8h.6M42.6 643.4h.6M73.6 635.9h.6M80.6 639.8h.6M69.2 643.0h.6M69.5 632.3h.6M48.1 644.3h.6M59.5 646.8h.6M53.4 642.4h.6M55.4 644.3h.6M69.1 645.4h.6M53.5 651.6h.6M59.4 647.4h.6M43.7 645.5h.6M59.1 642.0h.6M61.3 642.1h.6M54.3 642.3h.6M54.2 641.2h.6M77.2 643.9h.6M49.9 645.7h.6M51.3 647.1h.6M53.4 647.9h.6M71.1 640.2h.6M79.0 636.3h.6M63.5 641.5h.6M54.2 648.5h.6M56.8 644.3h.6M69.9 631.5h.6M52.5 647.6h.6M73.3 643.6h.6M73.0 636.7h.6M61.2 639.2h.6M66.2 638.1h.6M67.1 643.4h.6M74.2 633.8h.6M51.3 647.0h.6M70.9 642.3h.6M57.2 644.6h.6M53.8 643.9h.6M61.4 638.7h.6M58.6 639.8h.6M51.8 644.1h.6M46.5 642.4h.6M52.2 643.6h.6M73.3 634.4h.6M77.8 641.2h.6M66.3 645.3h.6M71.0 635.6h.6M56.0 647.7h.6M59.9 642.7h.6M63.0 641.0h.6M51.0 646.0h.6M51.8 645.7h.6M61.4 636.3h.6M57.7 651.2h.6M51.2 641.1h.6M63.9 632.3h.6M58.2 642.1h.6M69.5 638.8h.6M60.5 638.9h.6M57.9 635.8h.6M61.7 645.3h.6M59.0 641.6h.6M54.6 643.9h.6M57.0 640.5h.6M67.1 638.9h.6M66.2 637.4h.6M71.9 639.5h.6M45.6 645.7h.6M57.1 644.8h.6M56.9 644.9h.6M62.0 641.5h.6M56.5 643.1h.6M56.0 646.9h.6M67.4 633.8h.6M62.1 641.4h.6M50.3 649.4h.6M72.3 634.0h.6M69.3 641.4h.6M55.5 641.2h.6M67.9 639.3h.6M54.1 642.5h.6M70.4 637.9h.6M58.6 644.0h.6M53.5 643.4h.6M57.2 635.3h.6M53.8 651.4h.6M62.2 640.7h.6M62.1 639.4h.6M60.8 645.1h.6M55.6 647.8h.6M61.4 642.5h.6M43.8 639.1h.6M62.7 638.9h.6M70.5 638.2h.6M62.9 639.0h.6M57.1 640.2h.6M58.9 637.8h.6M59.4 640.3h.6M55.7 642.4h.6M55.4 642.4h.6M52.4 639.1h.6M71.0 635.4h.6M60.4 645.0h.6M69.0 641.2h.6M58.3 640.9h.6M61.2 643.4h.6M59.0 643.2h.6M64.6 643.6h.6M67.8 640.2h.6M62.6 639.3h.6M54.6 639.7h.6M53.7 643.5h.6M75.1 629.7h.6M58.1 642.5h.6M58.0 630.9h.6M73.4 634.0h.6M70.1 636.8h.6M65.2 641.8h.6M57.0 652.5h.6M81.3 635.8h.6M64.0 639.8h.6M65.4 633.2h.6M59.0 646.8h.6M48.1 638.5h.6M48.8 645.9h.6M64.1 637.8h.6M64.0 649.4h.6M58.4 641.6h.6M50.2 645.8h.6M47.8 642.9h.6M57.6 642.0h.6M47.7 649.3h.6M68.5 635.7h.6M70.7 635.9h.6M85.5 631.9h.6M68.3 635.6h.6M55.3 639.1h.6M52.9 643.8h.6M55.3 647.9h.6M59.0 637.1h.6M69.1 636.4h.6M65.9 639.5h.6M65.7 641.4h.6M62.4 640.8h.6M66.4 639.6h.6M73.3 638.8h.6M51.2 646.7h.6M56.5 635.0h.6M48.3 644.3h.6M74.8 639.3h.6M72.0 642.6h.6M67.2 642.0h.6M50.0 642.1h.6M62.1 638.3h.6M58.5 642.8h.6M61.2 641.0h.6M58.9 643.0h.6M65.1 644.0h.6M57.1 637.9h.6M68.1 637.9h.6M62.7 632.1h.6M58.0 644.9h.6M59.5 642.2h.6M56.7 639.5h.6M67.7 640.2h.6M58.1 647.1h.6M63.1 644.0h.6M57.1 642.1h.6M47.4 644.2h.6M68.5 639.4h.6M51.2 640.7h.6M66.5 636.1h.6M64.2 639.2h.6M45.9 645.7h.6M52.2 644.8h.6M56.0 640.9h.6M53.3 640.4h.6M50.1 644.4h.6M67.1 637.9h.6M58.4 643.2h.6M63.9 645.4h.6M56.7 646.1h.6M63.2 637.9h.6M53.9 641.9h.6M60.3 635.9h.6M65.7 639.7h.6M60.9 638.3h.6M56.5 638.0h.6M51.0 640.8h.6M62.0 643.1h.6M63.6 641.2h.6M58.3 641.7h.6M53.8 647.0h.6M65.3 638.3h.6M82.4 631.3h.6M57.9 643.9h.6M63.5 633.6h.6M63.9 641.5h.6M37.9 648.9h.6M61.6 642.0h.6M54.3 645.8h.6M72.7 636.3h.6M58.3 642.0h.6M53.7 637.6h.6M58.6 639.9h.6M62.0 639.1h.6M55.6 643.7h.6M60.1 646.6h.6M48.6 645.3h.6M58.5 645.0h.6M67.4 636.0h.6M77.9 636.3h.6M66.8 633.7h.6M62.9 638.1h.6M71.0 635.4h.6M69.5 637.9h.6M75.2 636.3h.6M70.1 636.3h.6M59.5 638.5h.6M62.8 643.3h.6M62.1 639.2h.6M63.2 631.4h.6M62.3 641.2h.6M53.6 644.4h.6M42.0 649.5h.6M54.6 648.3h.6M42.7 642.6h.6M61.1 641.0h.6M60.6 640.4h.6M45.8 639.4h.6M66.6 630.8h.6M68.2 642.3h.6M61.4 637.5h.6M75.2 634.8h.6M77.0 635.1h.6M49.9 642.9h.6M69.7 638.8h.6M64.4 634.7h.6M64.2 638.2h.6M68.8 637.7h.6M54.2 638.9h.6M55.3 639.8h.6M53.2 642.0h.6M53.9 642.3h.6M59.7 635.5h.6M47.7 643.5h.6M51.3 644.5h.6M65.6 642.9h.6M59.9 642.8h.6M63.9 644.1h.6M43.9 646.1h.6M53.6 642.6h.6M55.6 650.1h.6M60.8 641.3h.6M55.4 640.7h.6M68.8 638.4h.6M60.0 645.0h.6M60.7 636.9h.6M60.7 643.9h.6M66.8 643.9h.6M56.4 646.5h.6M70.4 638.5h.6M64.6 636.7h.6M61.9 636.9h.6M60.9 640.6h.6" stroke="#f21010" stroke-width="0.7" fill="none"/>
<path d="M47.6 644.1h.6M54.2 641.7h.6M51.2 648.7h.6M60.1 639.5h.6M40.4 643.0h.6M63.7 637.8h.6M70.3 643.5h.6M60.5 653.5h.6M68.0 639.4h.6M50.7 642.5h.6M44.4 647.3h.6M54.4 645.0h.6M76.6 639.2h.6M75.0 630.9h.6M56.7 641.9h.6M77.2 633.9h.6M58.3 647.1h.6M81.0 637.3h.6M68.3 636.7h.6M56.7 647.8h.6M72.1 644.3h.6M52.7 644.9h.6M50.8 636.0h.6M44.4 644.5h.6M65.5 629.5h.6M61.6 640.7h.6M61.3 641.9h.6M57.2 650.1h.6M80.0 637.4h.6M57.1 632.4h.6M53.4 640.6h.6M77.7 630.0h.6M79.8 629.4h.6M66.5 638.3h.6M40.8 648.1h.6M54.9 641.4h.6M69.9 632.9h.6M62.5 636.7h.6M81.5 630.2h.6M45.4 644.4h.6M70.7 641.7h.6M54.6 643.9h.6M78.6 640.1h.6M61.4 633.7h.6M75.0 648.6h.6M54.3 643.7h.6M44.9 630.5h.6M48.6 646.4h.6M54.8 649.3h.6M49.7 644.0h.6M77.1 626.7h.6M78.8 635.2h.6M65.7 634.7h.6M49.5 643.3h.6M60.8 642.5h.6M53.8 622.8h.6M80.2 633.2h.6M66.2 641.7h.6M68.3 640.7h.6M57.4 638.9h.6M37.5 645.4h.6M52.8 638.0h.6M48.5 643.4h.6M66.9 647.1h.6M63.5 636.0h.6M52.4 644.9h.6M57.5 643.1h.6M81.6 642.5h.6M50.5 647.2h.6M51.0 648.0h.6M59.5 640.8h.6M53.7 651.7h.6M57.0 641.1h.6M68.8 636.7h.6M83.7 639.5h.6M40.3 650.9h.6M62.1 645.1h.6M62.8 633.8h.6M61.3 655.9h.6M60.0 642.6h.6M58.1 651.5h.6M74.7 638.2h.6M56.6 636.3h.6M60.7 644.2h.6M62.3 638.8h.6M63.6 644.5h.6M60.2 628.2h.6M74.6 629.8h.6M62.2 632.7h.6M64.4 647.3h.6M61.7 646.8h.6M49.9 637.1h.6M52.1 644.3h.6M49.3 645.6h.6M64.7 636.8h.6M53.5 650.5h.6M49.2 639.2h.6M65.2 638.6h.6M68.8 634.5h.6M40.6 651.1h.6M83.1 629.5h.6M62.7 644.0h.6M61.0 634.1h.6M75.5 628.2h.6M63.2 633.7h.6M54.8 638.9h.6M89.4 626.7h.6M49.0 661.1h.6M61.1 634.9h.6M72.7 637.9h.6M49.1 643.5h.6M61.0 641.9h.6M67.1 646.8h.6M91.9 633.1h.6M51.3 639.2h.6M61.7 631.0h.6M70.4 640.9h.6M63.3 645.0h.6M47.5 635.5h.6M67.3 643.5h.6M63.6 626.3h.6M67.8 637.5h.6M76.3 640.5h.6M74.8 629.3h.6M67.3 627.4h.6M66.1 647.4h.6M48.7 634.4h.6M60.6 642.0h.6M65.0 629.5h.6M57.3 643.7h.6M63.5 649.2h.6M52.1 639.9h.6M81.2 627.6h.6M88.8 617.7h.6M57.5 630.5h.6M67.2 633.7h.6M59.4 642.1h.6M77.9 637.7h.6M67.7 639.7h.6M63.2 644.6h.6M59.5 642.3h.6M63.9 655.1h.6M50.0 642.7h.6M70.6 637.1h.6M53.5 626.6h.6M68.9 632.7h.6M63.9 642.2h.6M75.8 631.6h.6M62.1 647.4h.6M74.9 639.2h.6M50.9 655.2h.6M69.8 628.2h.6M59.5 636.9h.6M64.7 646.2h.6M63.2 639.8h.6M73.8 629.9h.6M37.4 644.9h.6M66.3 636.0h.6M43.9 651.2h.6M77.2 638.7h.6M38.0 647.2h.6M49.9 638.1h.6M41.6 651.8h.6M82.5 639.9h.6M46.4 637.8h.6M63.7 645.0h.6M55.7 635.1h.6M40.1 645.6h.6M58.1 635.6h.6M70.5 626.0h.6M60.0 636.1h.6M73.9 630.9h.6M57.8 646.9h.6M62.4 644.0h.6M57.5 637.2h.6M66.5 628.7h.6M85.7 623.1h.6M66.8 623.7h.6M64.7 636.9h.6M54.7 641.0h.6M53.0 636.5h.6M80.4 633.5h.6M48.6 644.7h.6M51.0 650.0h.6M61.1 633.9h.6M57.0 648.1h.6M86.4 628.4h.6M33.1 658.3h.6M66.8 631.3h.6M71.1 643.2h.6M48.5 639.0h.6M54.3 652.3h.6M67.6 640.6h.6M82.4 625.6h.6M50.9 648.5h.6M42.8 645.8h.6M74.3 638.7h.6M81.1 647.9h.6M58.2 639.1h.6M35.0 646.1h.6M80.2 640.6h.6M59.8 636.9h.6M76.2 640.0h.6M61.8 646.1h.6M57.7 641.2h.6M56.7 645.8h.6M80.5 619.3h.6M80.0 643.5h.6M35.9 643.9h.6M50.7 637.3h.6M84.2 644.7h.6M57.8 652.0h.6M45.5 641.8h.6M62.3 642.7h.6M61.0 637.7h.6M61.1 632.9h.6M56.4 644.0h.6M58.5 647.6h.6M56.7 658.6h.6M66.4 637.0h.6M52.3 648.8h.6M58.7 638.9h.6M60.5 638.8h.6M78.4 643.0h.6M66.9 627.3h.6M60.9 633.3h.6M68.9 632.2h.6M67.3 645.4h.6M75.7 637.7h.6M68.5 641.0h.6M84.4 634.9h.6M78.9 641.2h.6M61.8 637.1h.6M57.2 640.0h.6M73.2 633.8h.6M68.7 640.7h.6M61.1 632.0h.6M44.1 644.6h.6M39.7 664.4h.6M66.6 642.3h.6M71.8 636.9h.6M72.2 630.3h.6M46.4 646.9h.6M75.1 637.0h.6M55.7 646.0h.6M67.1 633.9h.6M67.4 640.8h.6M52.4 646.8h.6M55.0 646.8h.6M36.7 644.7h.6M51.0 646.8h.6M40.1 657.6h.6M67.7 634.0h.6M63.1 643.8h.6M73.6 633.7h.6M66.7 635.9h.6M54.5 634.8h.6M66.6 631.7h.6M57.5 644.9h.6M69.8 638.2h.6M66.2 646.5h.6M50.1 633.3h.6M62.3 636.9h.6M63.0 630.7h.6M58.5 642.9h.6M73.3 648.8h.6M83.4 623.0h.6M57.8 640.6h.6M58.0 640.3h.6M34.6 648.6h.6M60.7 636.2h.6M56.9 638.1h.6M35.6 658.5h.6M65.9 631.7h.6M69.6 640.6h.6M53.2 645.6h.6M57.7 630.4h.6M50.4 637.9h.6M71.7 638.7h.6M43.6 657.6h.6M58.4 640.0h.6M86.4 628.3h.6M62.9 640.0h.6M68.1 645.6h.6M60.5 645.2h.6M47.8 652.4h.6M61.9 638.5h.6M67.3 632.9h.6M49.7 637.5h.6M66.5 642.9h.6M77.6 633.1h.6M75.5 631.8h.6M42.8 649.4h.6M50.3 644.6h.6M42.4 633.0h.6M75.5 634.0h.6M69.8 631.6h.6M71.0 639.5h.6M51.5 643.0h.6M47.9 655.2h.6" stroke="#f21010" stroke-width="0.7" fill="none"/>
<path d="M67.0 630.3h.6M72.4 625.4h.6M76.4 621.9h.6M72.4 620.4h.6M70.2 621.6h.6M67.4 624.0h.6M64.5 632.9h.6M66.4 626.6h.6M69.8 629.7h.6M63.7 633.6h.6M71.3 626.5h.6M62.8 634.8h.6M59.3 637.4h.6M62.7 631.6h.6M59.8 643.2h.6M61.1 633.1h.6M72.1 624.5h.6M66.3 634.5h.6M68.1 628.9h.6M72.2 628.0h.6M72.7 622.0h.6M64.9 631.5h.6M73.0 622.3h.6M68.8 625.2h.6M67.2 630.7h.6M69.1 626.9h.6M60.9 643.4h.6M63.7 634.1h.6M66.7 633.3h.6M69.8 627.6h.6M65.5 632.1h.6M66.6 629.6h.6M71.4 629.8h.6M73.4 626.9h.6M70.5 626.1h.6M72.7 620.2h.6M65.4 630.6h.6M65.8 628.1h.6M68.5 622.8h.6M65.8 629.5h.6M64.9 632.7h.6M74.4 623.5h.6M66.3 634.3h.6M62.9 637.1h.6M69.3 625.6h.6M75.2 617.7h.6M67.5 629.0h.6M72.6 622.7h.6M65.2 629.8h.6M65.0 631.7h.6M64.1 632.6h.6M66.5 629.2h.6M75.2 620.6h.6M62.1 640.3h.6M74.4 617.9h.6M62.7 634.0h.6M66.1 631.8h.6M70.8 626.1h.6M69.9 617.3h.6M68.4 630.7h.6M59.9 640.2h.6M68.7 626.4h.6M62.6 640.0h.6M78.5 613.7h.6M66.2 624.1h.6M68.0 624.9h.6M62.1 634.1h.6M65.0 630.2h.6M61.5 636.9h.6M71.5 620.1h.6M66.0 631.7h.6M69.6 627.7h.6M64.1 633.3h.6M64.9 629.2h.6M72.8 620.6h.6M62.9 632.9h.6M59.2 647.9h.6M68.9 622.7h.6M62.1 627.7h.6M65.2 627.2h.6M71.2 625.2h.6M63.5 637.6h.6M71.0 623.2h.6M64.1 637.3h.6M73.7 617.9h.6M73.0 623.5h.6M65.1 628.8h.6M66.2 625.8h.6M63.5 642.1h.6M68.0 627.2h.6M72.2 625.2h.6M60.8 643.5h.6M71.2 626.3h.6M61.3 638.3h.6M63.4 630.9h.6M59.3 645.9h.6M76.4 613.0h.6M67.4 621.7h.6M68.2 625.8h.6M64.2 631.6h.6M71.8 623.2h.6M57.9 646.5h.6M67.3 627.4h.6M76.9 614.9h.6M65.5 629.1h.6M67.2 619.9h.6M70.1 622.8h.6M63.6 632.8h.6M67.2 623.6h.6M71.4 628.8h.6M68.0 632.6h.6M68.8 628.7h.6M65.6 634.1h.6M68.5 625.1h.6M67.4 630.4h.6M73.5 614.3h.6M70.3 619.5h.6M66.1 628.1h.6M56.4 645.6h.6M70.3 623.0h.6M70.5 622.0h.6M63.1 639.0h.6M58.3 640.2h.6M62.1 633.8h.6M71.2 623.2h.6M62.4 630.1h.6M65.1 627.8h.6M68.1 631.3h.6M72.5 621.7h.6M67.1 632.8h.6M66.7 628.0h.6M64.7 636.1h.6M74.3 616.3h.6M71.8 621.7h.6M66.7 626.5h.6M61.0 638.5h.6M63.7 639.7h.6M69.7 619.5h.6M64.0 634.5h.6M71.1 619.1h.6M68.7 625.8h.6M68.4 625.3h.6M70.0 618.8h.6M69.3 625.3h.6M63.4 629.5h.6M65.7 637.0h.6M77.4 612.3h.6M61.8 637.7h.6M65.0 632.9h.6M71.8 623.1h.6" stroke="#f21010" stroke-width="0.7" fill="none"/>
<ellipse cx="72.4" cy="613.7" rx="2.5" ry="1.4" fill="#ff1010" transform="rotate(-30 72.4 613.7)" filter="url(#sb)" opacity="0.9"/>
<path d="M73.3 612.1h.6M76.8 613.8h.6M67.5 617.2h.6M72.5 615.0h.6M70.5 614.1h.6M75.5 612.9h.6M71.3 612.9h.6M73.6 614.2h.6M71.4 615.9h.6M74.2 613.7h.6M75.1 612.5h.6M71.4 615.4h.6M72.6 613.2h.6M68.7 612.6h.6M73.2 614.2h.6M74.7 612.7h.6M71.0 612.4h.6M75.4 613.4h.6M66.9 617.1h.6M67.5 617.2h.6M68.8 614.6h.6M71.1 613.5h.6M72.5 613.9h.6M72.2 613.7h.6M72.2 612.0h.6M74.3 611.7h.6M71.2 616.2h.6M69.1 615.0h.6M69.1 614.9h.6M78.0 610.4h.6M66.2 616.5h.6M72.0 614.8h.6M76.3 612.8h.6M73.7 615.7h.6M70.2 614.6h.6M72.4 614.5h.6M74.7 612.1h.6M75.6 613.9h.6M70.0 615.3h.6M74.4 614.3h.6M73.1 614.9h.6M75.3 611.5h.6M76.1 612.9h.6M71.5 613.4h.6M68.6 616.8h.6M73.5 613.2h.6M77.1 614.2h.6M74.2 613.7h.6M73.0 614.2h.6M78.8 610.4h.6M69.7 614.6h.6M74.8 613.0h.6M70.9 613.1h.6M72.6 613.4h.6M72.7 612.9h.6M76.4 611.0h.6M70.0 614.8h.6M71.0 614.7h.6M68.2 614.9h.6M73.7 613.8h.6M71.2 613.7h.6M73.5 611.7h.6M69.6 613.7h.6M71.5 614.6h.6M75.2 614.4h.6M72.0 614.0h.6M74.1 613.2h.6M73.8 611.6h.6M71.5 614.6h.6M68.3 615.7h.6M75.0 611.6h.6M72.9 614.2h.6M75.0 612.9h.6M67.1 613.4h.6M68.1 613.4h.6M66.8 615.1h.6M70.1 614.3h.6M75.2 614.0h.6M73.9 612.3h.6M72.3 613.7h.6M72.8 613.3h.6M74.4 613.7h.6M71.6 614.1h.6M73.5 613.6h.6M72.8 613.1h.6M66.6 614.0h.6M71.4 613.6h.6M76.0 614.6h.6M71.4 615.5h.6M72.0 616.1h.6M70.8 615.5h.6M71.1 613.5h.6M75.4 612.0h.6M71.7 614.9h.6M69.7 614.4h.6M64.2 618.1h.6M70.9 616.3h.6M67.2 617.8h.6M67.6 616.9h.6M74.5 610.9h.6M74.3 614.9h.6M67.4 614.0h.6M74.7 611.0h.6M73.6 613.5h.6M70.4 614.6h.6M74.4 613.8h.6M68.1 615.5h.6M69.2 614.1h.6M68.6 615.2h.6M69.5 613.5h.6" stroke="#f21010" stroke-width="0.7" fill="none"/>
<ellipse cx="98.9" cy="604.0" rx="4.4" ry="1.6" fill="#ff1010" transform="rotate(-10 98.9 604.0)" filter="url(#sb)" opacity="0.6"/>
<path d="M104.6 601.4h.6M99.0 606.4h.6M98.9 604.5h.6M96.4 604.0h.6M99.0 602.2h.6M89.4 605.7h.6M99.4 600.1h.6M98.1 605.5h.6M91.1 607.4h.6M110.9 604.5h.6M90.3 612.7h.6M91.0 607.9h.6M98.6 602.1h.6M84.0 606.0h.6M91.5 607.9h.6M86.7 605.4h.6M90.4 611.3h.6M95.9 605.9h.6M98.9 603.3h.6M104.0 602.2h.6M102.1 606.4h.6M104.6 601.6h.6M100.6 599.5h.6M93.7 606.6h.6M104.1 602.1h.6M93.5 609.6h.6M92.7 610.8h.6M106.8 602.1h.6M101.9 604.2h.6M98.2 604.3h.6M101.7 606.0h.6M102.5 605.1h.6M87.7 604.0h.6M96.1 600.5h.6M89.0 606.6h.6M97.5 609.4h.6M92.3 602.2h.6M105.7 602.3h.6M100.2 602.8h.6M91.4 605.2h.6M96.6 598.8h.6M88.7 605.8h.6M97.0 603.6h.6M100.3 609.6h.6M98.5 606.4h.6M84.0 608.5h.6M94.5 605.4h.6M100.1 603.7h.6M98.7 606.8h.6M104.4 599.4h.6M88.2 609.0h.6M100.2 605.8h.6M92.4 604.9h.6M98.0 608.2h.6M99.4 603.1h.6M101.3 602.7h.6M92.9 606.3h.6M97.9 599.7h.6M89.0 605.8h.6M87.4 605.5h.6M100.4 607.1h.6M96.4 609.6h.6M86.0 608.1h.6M91.1 606.6h.6M96.8 606.2h.6M107.0 601.6h.6M103.6 610.6h.6M102.0 607.4h.6M84.9 611.5h.6M96.1 601.5h.6M99.9 606.1h.6M99.3 606.1h.6M99.5 607.6h.6M95.2 602.8h.6M108.3 604.6h.6M106.5 603.2h.6M96.1 610.6h.6M90.2 602.7h.6M110.3 602.2h.6M93.1 604.0h.6M104.6 600.7h.6M109.3 603.9h.6M90.5 606.3h.6M98.6 602.8h.6M94.4 604.2h.6M100.1 605.2h.6M98.8 604.6h.6M109.6 604.7h.6M100.6 602.6h.6M96.6 602.5h.6M104.1 604.1h.6M94.9 600.2h.6M94.3 609.5h.6M111.5 603.8h.6M91.3 601.1h.6M93.5 606.6h.6M97.0 609.3h.6M89.7 602.2h.6M82.8 605.3h.6M103.7 607.3h.6M91.5 603.6h.6M93.1 608.2h.6M94.2 609.0h.6M90.2 606.3h.6M89.6 607.2h.6M97.8 607.8h.6M112.5 604.0h.6M101.6 607.1h.6M101.6 604.2h.6M86.8 606.4h.6M96.5 603.0h.6M88.9 607.2h.6M101.8 608.0h.6M95.2 608.8h.6M97.0 605.6h.6M96.1 600.9h.6M92.8 603.2h.6M86.7 608.0h.6M100.5 602.0h.6M87.6 609.3h.6M88.9 603.3h.6M94.7 606.3h.6M92.0 603.5h.6M98.4 603.1h.6M103.4 604.9h.6M98.3 603.9h.6M98.0 607.7h.6M96.9 605.2h.6M102.4 601.4h.6M84.5 595.5h.6M99.1 602.8h.6M90.5 605.6h.6M88.6 608.8h.6M96.7 602.2h.6M94.1 609.8h.6M100.6 606.7h.6M104.0 603.1h.6M81.3 610.2h.6M96.2 600.9h.6M109.6 600.4h.6M102.4 605.8h.6M106.3 605.3h.6M97.4 608.5h.6M87.2 610.0h.6M89.3 604.8h.6M101.4 602.7h.6M103.0 603.3h.6M91.9 604.9h.6M94.9 606.8h.6M98.4 603.8h.6M85.1 610.5h.6M94.4 605.3h.6M107.4 599.7h.6M111.1 599.6h.6M96.0 606.4h.6M108.8 604.4h.6M93.2 601.7h.6M91.4 600.9h.6M81.9 611.0h.6M103.0 605.4h.6M94.2 604.7h.6M112.2 599.7h.6M98.9 607.0h.6M98.0 603.1h.6M84.8 607.4h.6M106.6 597.3h.6M94.3 604.2h.6M95.6 605.5h.6M82.1 607.8h.6M102.8 601.4h.6" stroke="#f21010" stroke-width="0.7" fill="none"/>
<path d="M97.8 638.7h.6M86.1 647.9h.6M94.7 645.5h.6M84.4 627.0h.6M88.3 639.4h.6M84.7 622.2h.6M84.5 643.2h.6M88.7 662.9h.6M86.8 630.7h.6M96.8 636.5h.6M98.6 633.9h.6M91.7 619.7h.6M85.8 643.0h.6M98.6 619.1h.6M79.8 644.4h.6M80.5 651.8h.6M98.1 626.4h.6M97.6 638.3h.6M99.7 617.6h.6M91.8 625.9h.6M84.9 640.2h.6M89.9 631.0h.6M97.0 626.5h.6M88.2 641.5h.6M88.6 628.9h.6M84.0 643.8h.6M85.6 633.9h.6M98.9 641.1h.6M96.3 631.9h.6M85.6 636.0h.6M86.1 648.3h.6M89.5 642.0h.6M96.9 638.1h.6M85.5 632.7h.6M92.2 643.3h.6M79.0 640.3h.6M84.9 624.8h.6M96.1 629.3h.6M99.2 647.8h.6M85.6 639.0h.6M88.1 627.6h.6M98.6 634.3h.6M90.7 625.1h.6M89.7 631.0h.6M96.7 628.1h.6M94.6 636.8h.6M100.7 635.2h.6M98.5 634.0h.6M89.5 636.9h.6M92.5 630.0h.6M92.9 630.8h.6M84.3 644.3h.6M86.8 638.7h.6M99.7 626.4h.6M82.8 659.3h.6M99.9 638.4h.6M95.2 642.0h.6M92.4 637.7h.6M96.9 635.3h.6M96.4 635.4h.6M101.3 638.5h.6M90.6 629.7h.6M91.8 633.0h.6M91.7 653.3h.6M105.8 626.1h.6M99.6 642.4h.6M87.2 621.2h.6M91.1 641.2h.6M88.6 642.2h.6M93.4 633.9h.6M94.7 636.0h.6M108.5 624.9h.6M81.2 627.0h.6M100.1 627.7h.6M96.2 624.1h.6M88.6 626.2h.6M92.3 645.8h.6M90.0 619.4h.6M93.6 627.4h.6M100.0 620.1h.6M83.2 650.9h.6M102.0 620.2h.6M90.8 632.2h.6M103.3 633.5h.6M96.0 608.9h.6M101.5 623.2h.6M97.1 634.7h.6M100.5 627.8h.6M93.7 625.0h.6M87.8 626.7h.6M97.8 625.6h.6M98.0 618.7h.6M107.2 609.7h.6M80.1 657.0h.6M92.0 640.8h.6M100.4 639.8h.6M85.0 639.5h.6M91.8 620.7h.6M107.4 618.2h.6M102.7 639.3h.6M87.5 641.9h.6M102.8 617.4h.6M101.2 634.9h.6M98.5 632.2h.6M95.9 629.8h.6M94.9 652.8h.6M87.6 630.6h.6M89.9 633.5h.6M98.2 625.4h.6M94.3 644.4h.6M105.6 634.3h.6M91.2 642.6h.6M77.5 643.2h.6M91.2 635.6h.6M95.2 632.1h.6M95.9 614.2h.6M93.8 620.7h.6M87.9 646.1h.6M103.3 634.8h.6M89.0 619.8h.6M98.1 634.8h.6M91.5 621.6h.6M85.5 623.4h.6M102.7 634.0h.6M76.8 649.1h.6M87.8 637.8h.6M96.3 641.8h.6M91.0 646.7h.6M98.4 635.5h.6M92.7 626.2h.6M90.4 641.5h.6M107.7 627.0h.6M92.0 640.6h.6M92.4 649.8h.6M86.3 624.1h.6M88.5 662.8h.6M97.7 638.6h.6M97.1 626.3h.6M93.4 649.4h.6M88.8 631.6h.6M98.0 618.4h.6M82.2 651.6h.6M91.2 634.1h.6M91.8 647.5h.6M87.8 633.3h.6M94.5 633.1h.6M89.0 635.5h.6M88.1 624.0h.6M105.4 621.5h.6M98.4 617.2h.6M101.4 622.5h.6M93.8 647.1h.6M99.8 627.5h.6M98.6 626.0h.6M101.5 644.3h.6M109.1 609.8h.6M92.0 635.0h.6M95.2 629.6h.6M93.2 644.3h.6M70.3 650.0h.6M84.3 637.9h.6M93.6 638.0h.6M97.7 630.9h.6M89.7 659.6h.6M101.0 615.1h.6M102.0 640.5h.6M90.8 659.5h.6M102.9 638.2h.6M105.1 635.4h.6M96.6 626.8h.6M87.1 648.8h.6M103.2 624.9h.6M92.5 645.5h.6M91.1 613.2h.6M94.3 628.4h.6M90.0 616.6h.6M100.6 640.4h.6M98.7 624.1h.6M101.6 639.1h.6M97.4 625.9h.6M88.3 631.2h.6M92.5 652.1h.6M99.4 642.6h.6M90.9 648.8h.6M112.9 637.1h.6M92.0 643.4h.6M89.7 647.4h.6M101.2 644.6h.6M98.5 630.2h.6M93.4 629.1h.6M92.0 649.5h.6M96.4 638.6h.6M99.1 630.8h.6M98.6 633.6h.6M91.6 643.4h.6M96.4 624.2h.6M99.1 621.9h.6M98.6 624.0h.6M73.2 651.0h.6M87.7 617.9h.6M88.4 620.0h.6M92.0 640.0h.6M94.8 635.1h.6M99.7 618.0h.6M97.7 640.3h.6M92.7 631.1h.6M93.7 634.1h.6M105.2 634.0h.6M89.5 640.0h.6M95.6 649.8h.6M103.9 633.2h.6M95.9 654.1h.6M80.1 620.1h.6M96.0 617.2h.6M91.0 623.6h.6M92.8 632.1h.6M100.5 619.4h.6M96.7 619.2h.6M91.8 625.3h.6M99.5 621.0h.6M96.4 642.3h.6M94.3 629.8h.6M95.6 639.0h.6M95.2 646.0h.6M91.3 648.3h.6M90.5 632.4h.6M93.7 623.6h.6M87.3 653.5h.6M85.3 622.2h.6M102.2 613.4h.6M92.0 639.9h.6M93.4 639.8h.6M92.7 636.2h.6M93.7 624.4h.6M93.7 638.7h.6M94.0 646.1h.6M88.3 634.9h.6M99.7 652.2h.6M89.0 636.5h.6M100.4 617.9h.6M80.9 640.4h.6M86.6 631.5h.6M100.1 625.1h.6M92.6 627.9h.6M89.1 636.4h.6M96.0 641.8h.6M86.7 642.0h.6M94.1 635.2h.6M78.9 631.8h.6M90.6 619.8h.6M89.3 633.4h.6M97.1 640.3h.6M99.4 638.5h.6M87.9 640.7h.6M104.2 612.9h.6M89.7 634.0h.6M80.0 644.8h.6M77.8 653.8h.6M103.7 618.5h.6M93.0 632.2h.6" stroke="#f21010" stroke-width="0.7" fill="none"/>
</g>
<rect x="31.90" y="587.20" width="88.10" height="88.20" fill="none" stroke="#777" stroke-width="0.8" />
<line x1="80.0" y1="587.2" x2="80.0" y2="675.4" stroke="#888" stroke-width="0.8"/>
<line x1="31.9" y1="617.3" x2="120.0" y2="617.3" stroke="#555" stroke-width="0.8"/>
<text x="34.4" y="595.8" font-size="9.0" text-anchor="start" fill="#231f20" >3.16%</text>
<text x="119.4" y="595.8" font-size="9.0" text-anchor="end" fill="#231f20" >4.05%</text>
<text x="34.4" y="672.8" font-size="9.0" text-anchor="start" fill="#231f20" >88.50%</text>
<text x="119.4" y="672.8" font-size="9.0" text-anchor="end" fill="#231f20" >4.29%</text>
<path d="M29.9 675.4h2.0M30.9 671.0h1.0M30.9 668.4h1.0M30.9 666.5h1.0M30.9 665.1h1.0M30.9 664.0h1.0M30.9 663.0h1.0M30.9 662.1h1.0M30.9 661.4h1.0M29.9 660.7h2.0M30.9 656.3h1.0M30.9 653.7h1.0M30.9 651.8h1.0M30.9 650.4h1.0M30.9 649.3h1.0M30.9 648.3h1.0M30.9 647.4h1.0M30.9 646.7h1.0M29.9 646.0h2.0M30.9 641.6h1.0M30.9 639.0h1.0M30.9 637.1h1.0M30.9 635.7h1.0M30.9 634.6h1.0M30.9 633.6h1.0M30.9 632.7h1.0M30.9 632.0h1.0M29.9 631.3h2.0M30.9 626.9h1.0M30.9 624.3h1.0M30.9 622.4h1.0M30.9 621.0h1.0M30.9 619.9h1.0M30.9 618.9h1.0M30.9 618.0h1.0M30.9 617.3h1.0M29.9 616.6h2.0M30.9 612.2h1.0M30.9 609.6h1.0M30.9 607.7h1.0M30.9 606.3h1.0M30.9 605.2h1.0M30.9 604.2h1.0M30.9 603.3h1.0M30.9 602.6h1.0M29.9 601.9h2.0M30.9 597.5h1.0M30.9 594.9h1.0M30.9 593.0h1.0M30.9 591.6h1.0M30.9 590.5h1.0M30.9 589.5h1.0M30.9 588.6h1.0M30.9 587.9h1.0M31.9 675.4v2.0M37.2 675.4v1.0M40.3 675.4v1.0M42.5 675.4v1.0M44.2 675.4v1.0M45.6 675.4v1.0M46.8 675.4v1.0M47.8 675.4v1.0M48.7 675.4v1.0M49.5 675.4v2.0M54.8 675.4v1.0M57.9 675.4v1.0M60.1 675.4v1.0M61.8 675.4v1.0M63.2 675.4v1.0M64.4 675.4v1.0M65.4 675.4v1.0M66.3 675.4v1.0M67.1 675.4v2.0M72.4 675.4v1.0M75.5 675.4v1.0M77.7 675.4v1.0M79.5 675.4v1.0M80.9 675.4v1.0M82.0 675.4v1.0M83.1 675.4v1.0M84.0 675.4v1.0M84.8 675.4v2.0M90.1 675.4v1.0M93.2 675.4v1.0M95.4 675.4v1.0M97.1 675.4v1.0M98.5 675.4v1.0M99.7 675.4v1.0M100.7 675.4v1.0M101.6 675.4v1.0M102.4 675.4v2.0M107.7 675.4v1.0M110.8 675.4v1.0M113.0 675.4v1.0M114.7 675.4v1.0M116.1 675.4v1.0M117.3 675.4v1.0M118.3 675.4v1.0M119.2 675.4v1.0" stroke="#777" stroke-width="0.4" fill="none"/>
<text x="31.9" y="682.0" class="t" font-size="4.2" text-anchor="middle" fill="#555">10<tspan dy="-1.5" font-size="2.8">2</tspan></text>
<text x="49.5" y="682.0" class="t" font-size="4.2" text-anchor="middle" fill="#555">10<tspan dy="-1.5" font-size="2.8">3</tspan></text>
<text x="67.1" y="682.0" class="t" font-size="4.2" text-anchor="middle" fill="#555">10<tspan dy="-1.5" font-size="2.8">4</tspan></text>
<text x="84.8" y="682.0" class="t" font-size="4.2" text-anchor="middle" fill="#555">10<tspan dy="-1.5" font-size="2.8">5</tspan></text>
<text x="102.4" y="682.0" class="t" font-size="4.2" text-anchor="middle" fill="#555">10<tspan dy="-1.5" font-size="2.8">6</tspan></text>
<text x="120.0" y="682.0" class="t" font-size="4.2" text-anchor="middle" fill="#555">10<tspan dy="-1.5" font-size="2.8">7</tspan></text>
<text transform="translate(27.7,675.4) rotate(-90)" class="t" font-size="4.2" text-anchor="middle" fill="#555">10<tspan dy="-1.5" font-size="2.8">1</tspan></text>
<text transform="translate(27.7,660.7) rotate(-90)" class="t" font-size="4.2" text-anchor="middle" fill="#555">10<tspan dy="-1.5" font-size="2.8">2</tspan></text>
<text transform="translate(27.7,646.0) rotate(-90)" class="t" font-size="4.2" text-anchor="middle" fill="#555">10<tspan dy="-1.5" font-size="2.8">3</tspan></text>
<text transform="translate(27.7,631.3) rotate(-90)" class="t" font-size="4.2" text-anchor="middle" fill="#555">10<tspan dy="-1.5" font-size="2.8">4</tspan></text>
<text transform="translate(27.7,616.6) rotate(-90)" class="t" font-size="4.2" text-anchor="middle" fill="#555">10<tspan dy="-1.5" font-size="2.8">5</tspan></text>
<text transform="translate(27.7,601.9) rotate(-90)" class="t" font-size="4.2" text-anchor="middle" fill="#555">10<tspan dy="-1.5" font-size="2.8">6</tspan></text>
<text transform="translate(27.7,587.2) rotate(-90)" class="t" font-size="4.2" text-anchor="middle" fill="#555">10<tspan dy="-1.5" font-size="2.8">7</tspan></text>
<g clip-path="url(#fc1)">
<ellipse cx="171.9" cy="641.9" rx="11.1" ry="4.6" fill="#ff1010" transform="rotate(-27 171.9 641.9)" filter="url(#sb)" opacity="1.0"/>
<path d="M171.4 642.6h.6M172.8 643.5h.6M186.8 638.8h.6M170.4 639.9h.6M186.8 633.8h.6M182.9 635.2h.6M172.3 639.1h.6M179.7 651.0h.6M170.8 645.5h.6M164.5 645.0h.6M169.5 641.7h.6M163.8 649.8h.6M176.4 635.3h.6M172.0 640.6h.6M176.9 642.4h.6M179.2 638.9h.6M144.2 651.2h.6M174.6 643.5h.6M155.9 644.7h.6M173.3 642.8h.6M164.1 649.0h.6M172.8 643.6h.6M184.0 638.5h.6M156.7 650.0h.6M173.6 636.7h.6M171.2 645.7h.6M155.1 640.5h.6M177.6 636.8h.6M172.2 644.9h.6M167.4 642.6h.6M165.5 639.4h.6M200.4 633.8h.6M168.4 646.9h.6M155.9 646.0h.6M163.6 637.1h.6M168.6 647.9h.6M168.5 640.7h.6M171.2 641.8h.6M162.6 644.8h.6M176.7 641.6h.6M167.6 644.1h.6M159.8 641.6h.6M164.6 641.7h.6M168.5 646.2h.6M179.4 633.9h.6M176.2 644.9h.6M168.9 640.2h.6M172.0 640.9h.6M173.8 636.8h.6M190.0 635.0h.6M166.4 639.5h.6M176.0 640.5h.6M178.3 636.3h.6M163.4 642.9h.6M173.5 633.6h.6M173.3 643.7h.6M167.7 638.7h.6M176.9 638.5h.6M181.0 638.3h.6M181.9 640.6h.6M170.2 640.6h.6M173.6 646.3h.6M192.7 640.2h.6M162.1 642.0h.6M173.8 646.5h.6M179.8 634.2h.6M173.2 642.2h.6M177.7 639.0h.6M173.4 640.9h.6M178.6 638.1h.6M183.2 639.2h.6M169.9 643.5h.6M173.6 641.5h.6M171.4 638.1h.6M168.3 638.7h.6M171.7 637.2h.6M161.8 643.3h.6M178.5 640.4h.6M187.0 643.0h.6M187.0 634.8h.6M183.2 635.3h.6M163.3 645.6h.6M185.4 634.7h.6M165.5 639.0h.6M171.4 641.4h.6M188.2 633.0h.6M162.4 643.4h.6M179.3 645.5h.6M174.4 642.5h.6M170.5 643.5h.6M164.1 642.1h.6M175.6 643.5h.6M167.8 644.4h.6M181.1 642.2h.6M182.7 638.5h.6M159.6 645.0h.6M167.4 639.5h.6M169.0 639.6h.6M161.4 644.2h.6M162.0 643.7h.6M172.7 641.0h.6M170.0 641.8h.6M157.2 640.5h.6M167.1 651.8h.6M176.5 640.9h.6M161.2 643.7h.6M163.7 640.1h.6M186.0 641.3h.6M183.6 636.9h.6M157.5 642.9h.6M159.9 646.8h.6M175.2 647.3h.6M161.3 646.0h.6M169.6 646.5h.6M167.9 640.5h.6M176.8 643.1h.6M149.4 642.0h.6M152.3 646.9h.6M161.0 647.7h.6M180.9 640.7h.6M170.5 645.9h.6M156.7 644.8h.6M176.2 635.0h.6M178.1 640.5h.6M169.7 639.0h.6M168.9 645.8h.6M175.8 639.4h.6M182.6 630.3h.6M173.2 646.2h.6M176.6 635.9h.6M171.4 637.6h.6M168.5 649.3h.6M163.7 649.1h.6M174.1 644.4h.6M169.2 639.0h.6M169.7 643.8h.6M180.1 639.7h.6M176.2 637.8h.6M179.6 638.9h.6M157.9 645.0h.6M176.8 641.3h.6M166.6 639.2h.6M164.7 646.5h.6M164.3 638.0h.6M182.6 639.6h.6M179.2 642.2h.6M165.5 641.2h.6M161.8 643.0h.6M172.0 648.6h.6M167.8 642.1h.6M186.6 642.0h.6M158.9 648.4h.6M155.6 643.7h.6M169.6 645.3h.6M172.0 640.3h.6M173.0 642.6h.6M178.6 632.8h.6M190.3 636.5h.6M168.8 646.7h.6M167.0 647.0h.6M156.3 649.5h.6M174.0 640.5h.6M179.4 639.4h.6M169.6 638.9h.6M182.3 637.9h.6M172.1 641.1h.6M185.3 636.5h.6M174.8 641.2h.6M162.5 643.4h.6M166.2 640.6h.6M158.3 642.9h.6M156.5 648.2h.6M174.2 647.2h.6M179.6 642.2h.6M189.2 635.5h.6M171.4 650.6h.6M169.8 644.0h.6M162.0 643.0h.6M180.6 641.0h.6M175.3 644.6h.6M166.6 637.1h.6M178.0 635.0h.6M176.9 641.1h.6M155.3 641.9h.6M178.5 635.1h.6M173.1 645.3h.6M168.4 633.3h.6M168.2 646.1h.6M187.4 638.0h.6M185.5 641.5h.6M188.1 636.6h.6M161.7 649.4h.6M166.1 643.4h.6M179.9 635.5h.6M161.2 644.1h.6M165.5 644.5h.6M155.9 641.0h.6M188.3 639.9h.6M181.3 635.5h.6M175.9 641.5h.6M173.8 640.4h.6M168.2 642.7h.6M168.3 642.3h.6M177.3 640.3h.6M165.6 646.3h.6M182.8 640.5h.6M167.5 641.5h.6M164.1 644.4h.6M183.4 642.4h.6M170.6 644.6h.6M176.8 642.7h.6M168.2 643.0h.6M151.9 647.0h.6M176.7 640.0h.6M159.9 647.6h.6M181.5 638.8h.6M158.1 650.7h.6M155.3 656.8h.6M174.6 641.1h.6M175.6 646.4h.6M172.8 644.8h.6M161.1 649.2h.6M179.8 637.2h.6M158.9 649.9h.6M167.8 642.0h.6M164.9 645.6h.6M168.5 647.1h.6M179.4 645.1h.6M166.2 641.8h.6M176.9 638.9h.6M178.0 637.2h.6M156.7 639.9h.6M161.5 643.9h.6M168.5 641.8h.6M166.6 643.8h.6M174.6 640.6h.6M154.7 648.2h.6M178.3 643.1h.6M178.5 632.8h.6M170.4 648.8h.6M159.6 644.6h.6M171.9 640.2h.6M167.1 642.7h.6M176.9 643.7h.6M171.1 642.7h.6M178.3 641.5h.6M168.0 646.8h.6M184.7 638.2h.6M151.4 649.4h.6M162.9 646.5h.6M176.2 638.1h.6M158.5 649.6h.6M178.4 638.4h.6M161.1 647.2h.6M172.7 640.1h.6M163.8 644.1h.6M168.0 642.2h.6M173.4 644.9h.6M170.9 644.9h.6M168.5 645.9h.6M191.0 635.6h.6M171.9 639.2h.6M163.3 640.7h.6M180.1 641.2h.6M179.2 639.4h.6M182.7 644.4h.6M187.7 645.0h.6M163.5 647.4h.6M181.3 641.5h.6M182.0 644.4h.6M171.9 648.2h.6M174.0 639.4h.6M145.2 652.7h.6M166.8 649.4h.6M187.7 629.0h.6M156.0 646.1h.6M167.1 644.5h.6M174.4 638.8h.6M177.0 643.1h.6M186.3 632.0h.6M156.2 652.0h.6M172.3 646.4h.6M179.5 640.2h.6M160.2 648.1h.6M171.5 637.1h.6M188.6 642.6h.6M183.5 641.1h.6M176.7 639.7h.6M148.7 646.9h.6M170.7 638.8h.6M175.3 639.7h.6M169.1 635.0h.6M171.3 643.8h.6M199.2 633.2h.6M170.0 639.5h.6M163.3 645.7h.6M174.0 642.4h.6M169.1 644.5h.6M169.1 645.1h.6M171.1 646.2h.6M178.7 641.9h.6M174.0 646.8h.6M161.2 643.9h.6M170.7 648.0h.6M176.1 633.5h.6M167.7 637.3h.6M182.1 635.1h.6M178.8 640.7h.6M163.1 646.7h.6M174.7 636.9h.6M189.5 636.1h.6M185.7 635.9h.6M171.4 644.7h.6M179.8 635.9h.6M165.9 646.6h.6M159.0 645.5h.6M176.8 646.7h.6M174.1 643.7h.6M176.4 638.9h.6M171.7 643.7h.6M174.8 642.8h.6M167.3 640.6h.6M176.1 641.1h.6M179.3 635.5h.6M171.4 650.7h.6M179.1 637.9h.6M156.2 645.0h.6M164.9 649.6h.6M184.7 642.8h.6M187.5 634.3h.6M174.1 645.2h.6M171.0 644.6h.6M160.6 643.3h.6M175.1 642.3h.6M178.8 638.3h.6M158.7 649.0h.6M176.8 639.5h.6M176.2 637.0h.6M175.8 639.8h.6M161.9 652.8h.6M176.7 638.3h.6M158.6 645.8h.6M185.1 641.3h.6M173.1 636.8h.6M161.5 651.3h.6M183.8 631.9h.6M182.1 641.2h.6M166.1 638.3h.6M191.4 636.4h.6M163.0 649.4h.6M174.7 640.9h.6M182.4 637.8h.6M151.7 646.2h.6M180.8 635.7h.6M171.3 645.4h.6M171.7 640.4h.6M162.3 642.3h.6M174.8 642.2h.6M162.0 648.3h.6M163.3 648.0h.6M167.9 640.6h.6M161.0 642.5h.6M185.8 640.8h.6M160.1 650.3h.6M165.2 639.7h.6M169.1 648.4h.6M171.9 641.5h.6M178.9 642.8h.6M179.1 646.1h.6M169.2 642.4h.6M168.5 643.8h.6M172.2 636.9h.6M179.2 631.9h.6M178.1 640.9h.6M167.3 639.8h.6M153.6 643.9h.6M190.9 638.2h.6M180.3 642.6h.6M174.2 635.7h.6M174.9 642.5h.6M167.2 643.6h.6M163.0 645.8h.6M168.9 643.4h.6M169.9 644.8h.6M166.3 641.1h.6M158.9 641.5h.6M169.1 644.2h.6M177.0 645.4h.6M167.5 643.2h.6M172.1 647.2h.6M153.5 649.8h.6M170.0 638.3h.6M170.8 634.3h.6M161.0 644.0h.6M156.5 650.4h.6M175.5 638.3h.6M164.7 652.1h.6M176.2 643.2h.6M168.1 637.8h.6M177.4 637.8h.6M168.9 647.8h.6M158.5 651.9h.6M171.1 639.3h.6M169.0 643.1h.6M177.7 642.4h.6M167.9 641.8h.6M168.4 645.1h.6M179.5 646.6h.6M182.2 636.2h.6M178.6 642.3h.6M181.1 642.9h.6M175.9 645.6h.6M178.7 639.2h.6M179.7 642.6h.6M175.5 638.8h.6M172.4 642.9h.6M173.1 637.9h.6M193.2 637.1h.6M172.0 644.3h.6M169.8 649.6h.6M168.6 646.9h.6M171.6 639.6h.6M174.0 630.7h.6M161.8 649.5h.6M154.3 651.0h.6M174.5 640.1h.6M157.6 644.7h.6M174.2 643.8h.6M173.1 641.4h.6M182.1 644.7h.6M186.7 638.7h.6M175.1 637.9h.6M167.0 637.8h.6M161.5 645.8h.6M164.8 645.1h.6M172.2 640.4h.6M153.5 643.7h.6M172.5 640.2h.6M171.8 644.7h.6M177.6 639.1h.6M168.9 639.6h.6M172.8 644.3h.6M165.3 648.7h.6M167.8 641.5h.6M156.1 645.5h.6M173.0 638.4h.6M185.6 637.7h.6M173.3 643.9h.6M175.1 642.6h.6M163.2 648.3h.6M184.6 641.6h.6M165.1 646.1h.6M179.0 641.6h.6M172.8 637.9h.6M163.4 648.9h.6M181.0 639.5h.6M172.0 644.1h.6M173.5 636.4h.6M175.9 639.9h.6M171.7 643.4h.6M168.5 640.2h.6M176.0 640.6h.6M168.3 644.8h.6M172.5 636.5h.6M165.9 641.3h.6M158.7 639.9h.6M165.9 639.8h.6M167.5 640.6h.6M172.0 641.6h.6M182.4 642.7h.6M156.9 644.0h.6M173.0 641.5h.6M152.3 645.5h.6M162.6 644.8h.6M167.4 645.8h.6M151.9 651.5h.6M155.4 644.5h.6M173.2 637.1h.6M172.6 642.8h.6M170.9 640.7h.6M164.7 639.3h.6M191.0 639.3h.6M170.4 643.7h.6M164.2 648.2h.6M186.8 633.5h.6M177.3 639.5h.6M168.6 644.6h.6M182.5 644.7h.6M173.3 642.2h.6M177.6 636.8h.6M174.0 642.4h.6M162.7 646.2h.6M180.5 637.2h.6M173.3 645.9h.6M162.9 644.5h.6M165.1 641.9h.6M180.3 642.2h.6M168.6 645.9h.6M172.3 641.0h.6M177.7 640.6h.6M173.0 642.5h.6M158.3 645.3h.6M177.5 639.6h.6M180.2 642.8h.6M179.6 642.1h.6M186.2 636.2h.6M175.1 637.1h.6M178.8 635.2h.6M186.0 640.8h.6M169.3 639.0h.6M187.3 634.8h.6M187.3 637.5h.6M178.8 638.2h.6M188.2 634.2h.6M179.4 633.5h.6M164.1 648.0h.6M182.0 636.9h.6M174.8 641.6h.6M175.5 641.6h.6M173.2 637.6h.6M183.9 635.5h.6M176.8 644.1h.6M165.7 644.8h.6M176.2 639.9h.6M178.3 645.0h.6M165.4 640.9h.6M168.0 643.4h.6M168.5 642.4h.6M166.5 642.4h.6M175.0 634.8h.6M180.9 639.2h.6M188.7 638.2h.6M182.5 632.8h.6M180.9 641.0h.6M182.0 640.8h.6M183.7 643.3h.6M168.5 639.2h.6M178.0 639.2h.6M174.7 639.5h.6M170.7 641.8h.6M167.8 643.7h.6M167.4 646.1h.6M169.5 645.4h.6M160.9 643.7h.6M176.5 640.2h.6M171.7 636.3h.6M172.8 644.4h.6M174.9 642.8h.6M178.3 643.6h.6M166.6 638.7h.6M170.9 646.6h.6M157.6 643.5h.6M152.2 642.8h.6M154.7 647.6h.6M185.5 635.4h.6M155.7 654.2h.6M176.1 642.1h.6M185.0 643.9h.6M167.8 642.6h.6M186.3 637.6h.6M188.3 639.8h.6M180.3 636.2h.6M192.9 634.5h.6M177.4 642.2h.6M165.4 645.7h.6M176.5 645.7h.6M168.0 643.8h.6M160.3 638.0h.6M160.6 647.8h.6M192.4 634.4h.6M167.1 645.3h.6M171.7 639.2h.6M166.0 642.2h.6M173.2 642.4h.6M169.8 648.8h.6M168.3 644.8h.6M161.2 641.0h.6M159.4 646.5h.6M165.4 641.7h.6M174.6 642.8h.6M190.4 643.0h.6M181.3 637.7h.6M188.2 636.0h.6M176.3 642.7h.6M171.2 643.5h.6M160.3 644.4h.6M172.0 644.0h.6M153.0 646.4h.6M169.4 643.4h.6M186.5 645.8h.6M174.9 641.6h.6M182.0 641.0h.6M168.6 645.8h.6M159.8 644.2h.6M167.8 644.9h.6M168.5 641.1h.6M182.7 634.9h.6M189.6 636.2h.6M165.5 649.3h.6M168.9 645.4h.6M170.8 639.1h.6M169.0 643.7h.6M161.0 648.0h.6M172.9 642.0h.6M175.3 639.2h.6M175.5 640.0h.6M161.4 642.8h.6M171.1 645.1h.6M156.7 647.5h.6M180.2 640.4h.6M163.1 644.7h.6M169.7 649.9h.6M168.1 643.9h.6M166.9 648.1h.6M162.7 639.8h.6M156.4 641.1h.6M187.5 631.4h.6M174.4 638.4h.6M174.5 642.9h.6M190.7 633.0h.6M171.2 642.8h.6M177.0 638.3h.6M172.3 645.0h.6M182.7 640.8h.6M176.6 638.9h.6M174.9 634.9h.6M169.9 642.6h.6M174.6 633.3h.6M182.5 629.2h.6M153.7 651.8h.6M171.0 642.3h.6M168.4 646.3h.6M169.5 643.1h.6M154.6 649.0h.6M178.6 640.2h.6M164.7 640.7h.6M170.1 639.2h.6M167.7 642.3h.6M157.3 646.3h.6M168.2 642.6h.6M155.8 646.3h.6M163.8 642.3h.6M169.4 642.7h.6M172.1 640.1h.6M172.7 646.3h.6M170.9 639.4h.6M191.1 630.1h.6M176.0 640.1h.6M161.3 650.0h.6M166.7 638.8h.6M166.3 644.7h.6M170.6 652.7h.6M166.8 644.2h.6M164.6 642.0h.6M186.8 636.1h.6M172.6 637.4h.6M169.2 640.6h.6M169.9 642.1h.6M170.2 649.3h.6M184.5 642.0h.6M176.4 640.0h.6M182.1 636.5h.6M144.5 653.7h.6M175.1 643.1h.6M181.6 637.4h.6M189.7 643.3h.6M172.4 648.6h.6M156.9 647.2h.6M177.4 639.4h.6M166.9 645.1h.6M156.3 654.6h.6M166.7 643.4h.6M181.6 643.7h.6M182.8 636.4h.6M178.6 640.3h.6M162.9 643.7h.6M194.5 632.9h.6M161.8 646.8h.6M171.5 639.1h.6M159.4 641.3h.6M183.9 637.0h.6M176.2 636.0h.6M180.1 641.7h.6M173.0 638.4h.6M171.6 641.1h.6M173.8 644.8h.6M155.5 647.1h.6M181.0 641.0h.6M180.3 641.3h.6M168.7 642.6h.6M172.1 638.1h.6M174.9 642.1h.6M186.2 637.2h.6M176.1 645.8h.6M172.6 641.3h.6M167.7 639.1h.6M158.9 643.0h.6M167.0 641.7h.6M172.9 643.5h.6M170.0 645.9h.6M172.9 641.9h.6M178.9 644.5h.6M176.1 645.0h.6M174.7 637.8h.6M178.1 643.3h.6M173.9 635.0h.6M172.0 646.9h.6M176.4 639.1h.6M157.0 650.5h.6M183.4 637.9h.6M160.8 648.8h.6M179.7 639.4h.6M172.4 642.3h.6M182.1 640.4h.6M172.6 639.9h.6M163.9 639.0h.6M181.8 641.0h.6M173.9 638.2h.6M173.4 641.2h.6M173.0 641.7h.6M181.2 631.5h.6M179.6 647.2h.6M174.4 643.6h.6M158.6 652.2h.6M168.7 644.0h.6M173.3 642.3h.6M188.3 623.7h.6M175.7 639.6h.6M171.5 635.8h.6M182.9 634.1h.6M171.4 643.6h.6M172.1 640.2h.6M173.7 635.5h.6M159.1 645.1h.6M180.8 638.5h.6M176.1 638.9h.6M169.8 647.8h.6M162.2 647.6h.6M174.2 640.0h.6M184.8 636.2h.6M166.7 646.7h.6M162.9 645.7h.6M176.1 641.1h.6M158.2 646.5h.6M152.7 645.2h.6M168.4 642.6h.6M166.2 643.0h.6M169.9 647.5h.6M167.5 646.9h.6M175.3 639.8h.6" stroke="#f21010" stroke-width="0.7" fill="none"/>
<path d="M153.9 652.3h.6M176.8 635.5h.6M165.3 630.1h.6M163.5 643.3h.6M181.4 628.7h.6M165.1 659.0h.6M162.9 635.0h.6M165.1 643.2h.6M174.2 651.6h.6M207.3 624.3h.6M147.3 642.6h.6M173.2 633.0h.6M170.5 634.0h.6M185.2 636.7h.6M168.9 646.5h.6M143.0 653.3h.6M189.7 635.2h.6M160.0 642.4h.6M172.7 643.6h.6M156.5 645.7h.6M159.9 639.5h.6M167.3 640.4h.6M184.0 622.8h.6M183.8 623.7h.6M166.0 649.9h.6M179.6 641.8h.6M168.8 650.0h.6M174.7 647.1h.6M175.3 636.4h.6M181.0 644.0h.6M165.8 649.4h.6M171.7 642.6h.6M176.0 634.6h.6M174.4 642.2h.6M163.5 645.9h.6M194.6 627.7h.6M167.6 639.4h.6M182.7 634.5h.6M175.8 633.8h.6M188.4 641.6h.6M146.4 648.0h.6M198.6 635.9h.6M170.7 635.0h.6M158.1 640.4h.6M174.9 646.3h.6M201.1 622.9h.6M179.5 645.5h.6M158.1 638.3h.6M167.6 641.1h.6M189.8 640.3h.6M156.0 653.1h.6M171.1 643.0h.6M169.6 641.8h.6M200.0 635.9h.6M169.7 638.2h.6M189.5 643.7h.6M164.9 643.2h.6M163.4 643.7h.6M185.7 647.8h.6M181.0 636.0h.6M151.9 655.3h.6M181.2 653.2h.6M181.2 641.6h.6M165.7 644.4h.6M176.0 634.0h.6M176.6 642.3h.6M167.3 633.3h.6M166.0 634.0h.6M165.0 636.4h.6M169.9 633.4h.6M156.9 643.7h.6M172.7 644.0h.6M154.8 642.6h.6M174.2 634.2h.6M172.2 639.3h.6M160.5 646.2h.6M183.8 646.6h.6M197.1 628.3h.6M189.6 632.8h.6M156.4 654.1h.6M188.9 634.6h.6M175.9 635.1h.6M172.6 641.3h.6M165.9 638.0h.6M173.1 635.8h.6M190.3 643.9h.6M179.9 640.1h.6M168.1 639.2h.6M165.0 637.5h.6M168.1 633.4h.6M180.5 649.9h.6M196.2 633.2h.6M160.2 640.4h.6M173.2 632.9h.6M168.5 631.6h.6M163.9 649.3h.6M178.1 641.1h.6M180.0 644.7h.6M155.8 641.2h.6M160.5 652.9h.6M187.9 628.2h.6M177.1 633.4h.6M179.6 635.3h.6M167.0 655.9h.6M168.5 646.2h.6M178.9 633.9h.6M167.1 651.2h.6M159.6 646.5h.6M173.2 641.1h.6M184.4 631.2h.6M160.5 642.9h.6M186.2 634.4h.6M181.9 640.3h.6M162.6 643.9h.6M173.3 641.3h.6M172.7 636.1h.6M181.0 639.0h.6M181.4 631.3h.6M157.2 656.3h.6M156.6 638.5h.6M185.9 637.3h.6M174.6 633.0h.6M178.4 638.2h.6M177.3 633.8h.6M192.1 625.0h.6M158.4 648.8h.6M186.6 635.5h.6M163.2 644.9h.6M182.2 636.2h.6M189.7 645.0h.6M156.2 647.2h.6M178.2 640.4h.6M169.8 646.5h.6M169.7 642.8h.6M173.7 649.8h.6M160.3 636.1h.6M161.4 641.6h.6M181.3 626.1h.6M183.6 642.4h.6M166.2 650.0h.6M155.3 644.7h.6M201.7 641.3h.6M186.7 634.6h.6M177.6 643.3h.6M160.6 646.7h.6M166.1 641.3h.6M176.2 639.2h.6M161.4 632.9h.6M192.9 630.0h.6M174.9 647.9h.6M178.0 632.8h.6M160.6 653.0h.6M162.1 643.6h.6M163.6 651.4h.6M176.6 644.5h.6M170.0 633.4h.6M169.7 645.1h.6M177.1 643.2h.6M176.0 643.0h.6M191.4 636.4h.6M170.8 632.4h.6M160.8 651.9h.6M173.1 648.2h.6M191.1 631.0h.6M166.4 652.6h.6M173.8 642.6h.6M168.8 635.0h.6M178.2 638.8h.6M176.4 642.4h.6M163.3 648.2h.6M170.4 647.1h.6M184.7 640.3h.6M186.6 635.2h.6M184.5 629.1h.6M183.8 631.0h.6M169.2 645.4h.6M168.8 646.5h.6M184.6 632.5h.6M158.9 656.5h.6M172.5 643.5h.6M150.6 650.1h.6M168.6 649.0h.6M164.6 649.6h.6M158.5 643.3h.6M180.3 648.4h.6M164.3 649.2h.6M168.8 646.1h.6M170.1 641.1h.6M164.3 652.0h.6M190.6 628.1h.6M167.2 644.5h.6M175.6 641.4h.6M157.3 648.1h.6M167.5 646.7h.6M169.3 648.0h.6M169.5 634.8h.6M166.1 641.7h.6M175.0 640.7h.6M192.3 628.2h.6M171.6 645.6h.6M171.5 637.3h.6M168.5 642.1h.6M204.2 635.9h.6M192.9 629.4h.6M180.0 647.6h.6M181.8 633.8h.6M164.6 649.0h.6M171.4 638.8h.6M175.8 631.3h.6M174.7 636.7h.6M162.8 647.9h.6M163.7 644.0h.6M179.5 640.9h.6M177.1 646.7h.6M147.6 656.1h.6M174.4 640.1h.6M188.7 632.3h.6M165.4 654.2h.6M176.2 640.2h.6M155.5 643.5h.6M183.4 636.7h.6M159.7 651.4h.6M158.0 639.4h.6M169.4 649.5h.6M202.1 627.2h.6M165.8 633.4h.6M157.9 658.4h.6M178.9 637.3h.6M176.1 637.9h.6M193.5 632.7h.6M157.8 650.6h.6M153.9 649.2h.6M169.4 650.7h.6M177.9 638.4h.6M177.6 636.0h.6M186.5 640.5h.6M155.1 652.5h.6M163.2 647.1h.6M171.7 641.4h.6M183.5 637.0h.6M179.1 639.5h.6M168.1 642.1h.6M160.8 653.0h.6M184.0 654.0h.6M184.8 633.2h.6M206.3 621.1h.6M171.1 650.3h.6M193.0 638.4h.6M158.5 643.9h.6M166.7 637.2h.6M165.0 639.6h.6M167.6 634.9h.6M162.6 644.7h.6M166.7 640.5h.6M172.6 638.5h.6M167.8 645.3h.6M181.3 630.8h.6M172.3 637.4h.6M173.3 634.8h.6M191.2 637.3h.6M177.1 633.2h.6M175.2 646.7h.6M173.0 638.5h.6M174.0 656.6h.6M180.3 644.7h.6M163.5 639.6h.6M187.2 639.0h.6M192.4 633.4h.6M187.3 646.1h.6M167.3 633.4h.6M153.9 643.6h.6M168.0 642.8h.6M175.2 637.7h.6M183.4 635.5h.6M171.1 632.9h.6M169.6 640.8h.6M191.8 643.7h.6M165.1 645.1h.6M186.2 628.7h.6M184.3 633.7h.6M157.1 648.8h.6M176.7 636.0h.6M166.5 642.4h.6M161.7 641.0h.6M150.8 658.1h.6M154.2 652.7h.6M178.3 635.1h.6M168.6 643.8h.6M176.6 637.6h.6M160.4 633.2h.6M169.4 644.1h.6M170.0 640.5h.6M154.5 650.5h.6M153.1 651.4h.6M178.6 639.5h.6M175.1 649.2h.6M161.9 657.5h.6M172.1 632.9h.6M181.3 638.8h.6M195.6 626.6h.6" stroke="#f21010" stroke-width="0.7" fill="none"/>
<ellipse cx="180.7" cy="624.2" rx="1.6" ry="6.2" fill="#ff1010" transform="rotate(25 180.7 624.2)" filter="url(#sb)" opacity="0.3"/>
<path d="M179.9 621.9h.6M180.0 625.6h.6M181.6 621.5h.6M181.7 620.0h.6M175.9 635.2h.6M183.2 616.9h.6M176.6 631.2h.6M180.2 625.6h.6M187.3 611.5h.6M179.8 623.5h.6M184.6 612.0h.6M178.5 626.1h.6M181.4 623.5h.6M179.7 622.4h.6M180.8 621.8h.6M177.0 628.5h.6M176.8 627.2h.6M180.6 625.4h.6M174.8 635.0h.6M177.0 631.8h.6M181.5 623.4h.6M177.7 622.9h.6M176.9 627.7h.6M176.2 636.8h.6M180.0 622.7h.6M178.4 628.7h.6M180.0 620.6h.6M179.0 625.8h.6M185.2 613.9h.6M178.2 627.2h.6M173.6 635.9h.6M179.9 624.1h.6M179.6 625.5h.6M180.0 624.3h.6M174.7 633.4h.6M183.0 621.1h.6M179.5 625.1h.6M179.4 625.5h.6M174.8 636.1h.6M181.0 619.8h.6M179.4 629.0h.6M183.6 617.6h.6M178.3 629.9h.6M175.8 631.0h.6M179.9 625.4h.6M176.8 630.4h.6M180.8 621.2h.6M176.3 636.2h.6M179.2 624.4h.6M178.9 628.4h.6M179.4 625.8h.6M178.0 628.4h.6M177.1 627.6h.6M179.4 623.1h.6M177.8 623.4h.6M180.0 623.4h.6M178.7 627.9h.6M172.8 640.2h.6M179.4 623.4h.6M183.7 611.7h.6M180.5 622.0h.6M181.4 622.8h.6M180.9 621.3h.6M178.1 627.0h.6M175.5 633.0h.6M182.0 622.0h.6M182.7 625.7h.6M181.3 622.9h.6M180.8 619.2h.6M180.7 621.8h.6M179.5 631.4h.6M180.4 623.2h.6M179.6 630.1h.6M180.5 617.1h.6M176.7 630.1h.6M177.7 632.2h.6M181.3 619.1h.6M178.5 629.2h.6M172.3 638.1h.6M179.9 624.0h.6M172.7 642.3h.6M185.3 611.2h.6M181.7 624.3h.6M181.6 616.9h.6M177.6 628.7h.6M176.2 634.7h.6M178.9 631.4h.6M179.6 620.1h.6M177.3 625.4h.6M180.0 627.5h.6M181.6 615.9h.6M181.4 620.7h.6M176.5 631.8h.6M173.1 638.3h.6M179.6 625.6h.6M177.6 624.7h.6M180.9 621.7h.6M184.5 620.1h.6M184.5 608.8h.6M180.4 620.5h.6M182.9 621.2h.6M184.5 615.8h.6M179.7 627.1h.6M180.4 623.0h.6M182.1 618.5h.6M179.5 624.3h.6M178.1 629.6h.6M177.4 631.7h.6M179.6 622.3h.6M177.7 628.9h.6M182.0 613.5h.6M178.6 629.1h.6M183.9 613.6h.6M183.2 617.3h.6M175.9 634.5h.6M182.8 614.3h.6M178.4 626.9h.6M183.7 619.0h.6M181.1 622.6h.6M179.5 622.1h.6M181.6 624.2h.6M178.0 624.2h.6M180.6 620.8h.6M180.8 623.2h.6M179.2 621.7h.6M180.8 617.4h.6M176.7 629.1h.6M181.3 620.9h.6M176.0 626.7h.6M181.5 616.6h.6M181.0 624.5h.6M181.7 621.0h.6M178.0 628.7h.6M188.6 607.5h.6M179.0 630.4h.6M180.1 621.2h.6M177.4 629.0h.6M183.9 615.7h.6M178.3 623.4h.6M182.6 620.3h.6M176.9 630.5h.6M180.6 622.0h.6M178.6 628.1h.6M182.4 619.3h.6M178.8 624.2h.6M177.1 629.9h.6M181.0 618.0h.6M176.2 634.0h.6M176.9 629.8h.6M181.9 624.1h.6M174.2 636.2h.6M181.9 622.0h.6M178.5 623.1h.6M177.0 627.9h.6M180.4 621.6h.6M181.6 615.4h.6M178.0 623.9h.6M179.2 623.5h.6M182.1 621.7h.6M181.9 624.2h.6M179.6 624.9h.6M177.4 630.2h.6M176.9 632.1h.6M178.0 629.0h.6M181.7 625.2h.6M181.4 616.7h.6M180.6 626.0h.6M183.8 618.1h.6M178.8 624.7h.6M178.6 631.5h.6M178.6 624.1h.6M185.3 610.3h.6M173.7 637.7h.6M180.6 625.9h.6M181.1 623.2h.6M179.9 629.5h.6M186.6 606.4h.6M183.2 617.3h.6M182.0 622.0h.6M177.1 632.5h.6M181.2 619.8h.6M178.7 622.3h.6M179.9 627.9h.6M180.4 624.9h.6M178.4 632.4h.6M181.6 618.7h.6M184.5 614.2h.6M182.8 611.6h.6M180.4 623.5h.6M174.1 637.2h.6M183.0 619.9h.6M182.9 615.5h.6M179.2 630.3h.6M178.4 625.0h.6M181.7 619.7h.6M177.4 630.7h.6M182.1 622.2h.6M176.6 627.7h.6M177.1 624.4h.6M179.9 625.5h.6M175.6 631.5h.6M179.8 619.2h.6M181.4 623.0h.6M176.0 632.9h.6M182.5 622.4h.6M178.2 628.1h.6M181.4 621.3h.6M180.4 624.3h.6M178.5 629.2h.6M178.3 632.1h.6M174.8 638.4h.6M177.8 631.3h.6M177.6 627.0h.6M184.6 616.0h.6M182.8 620.7h.6M175.8 630.6h.6M182.2 617.9h.6M180.5 625.2h.6M178.7 628.4h.6M181.2 619.6h.6" stroke="#f21010" stroke-width="0.7" fill="none"/>
<ellipse cx="206.5" cy="605.7" rx="4.4" ry="1.6" fill="#ff1010" transform="rotate(-10 206.5 605.7)" filter="url(#sb)" opacity="0.45"/>
<path d="M208.1 607.7h.6M196.9 613.3h.6M206.9 605.6h.6M204.4 608.7h.6M215.0 599.1h.6M196.6 607.5h.6M212.9 605.6h.6M208.7 608.1h.6M195.3 606.7h.6M214.5 607.3h.6M213.1 608.6h.6M192.4 608.0h.6M223.1 607.2h.6M194.0 603.3h.6M196.1 611.3h.6M201.7 607.1h.6M211.9 608.0h.6M210.1 610.5h.6M203.8 601.1h.6M217.4 612.1h.6M208.5 601.3h.6M217.7 609.7h.6M231.0 603.3h.6M206.5 598.8h.6M180.7 616.1h.6M200.5 611.5h.6M194.6 603.2h.6M205.6 605.8h.6M205.6 608.2h.6M193.2 607.8h.6M193.9 610.8h.6M202.2 606.3h.6M202.8 601.8h.6M180.3 610.4h.6M213.8 605.0h.6M205.0 602.5h.6M204.6 599.9h.6M207.5 608.1h.6M195.1 606.5h.6M204.2 608.4h.6M214.5 607.6h.6M214.8 606.7h.6M209.0 608.1h.6M202.1 612.5h.6M196.9 613.9h.6M217.1 607.5h.6M209.6 605.5h.6M200.7 602.9h.6M184.2 610.5h.6M196.5 607.9h.6M186.4 606.3h.6M216.5 602.8h.6M206.5 606.7h.6M197.6 607.4h.6M202.1 600.6h.6M229.3 604.9h.6M216.2 606.8h.6M191.9 613.2h.6M203.4 605.2h.6M193.0 608.6h.6M188.3 602.0h.6M206.3 607.4h.6M227.7 601.3h.6M219.6 601.8h.6M205.1 601.0h.6M201.1 611.2h.6M206.6 601.1h.6M214.6 605.4h.6M190.7 608.3h.6M186.8 609.4h.6M222.7 605.8h.6M207.4 607.3h.6M220.1 612.5h.6M207.0 604.6h.6M218.8 604.7h.6M198.8 610.3h.6M209.5 606.2h.6M219.6 597.3h.6M214.5 604.2h.6M200.3 608.2h.6M213.3 599.9h.6M198.3 609.8h.6M191.0 608.5h.6M209.7 607.8h.6M218.2 605.8h.6M212.9 603.2h.6M192.6 605.9h.6M213.1 608.0h.6M211.2 606.2h.6M200.3 606.7h.6M180.7 610.4h.6M214.5 605.5h.6M213.2 607.9h.6M209.5 608.4h.6M188.0 608.2h.6M190.3 611.4h.6M214.5 604.1h.6M212.5 606.3h.6M209.5 609.0h.6M202.3 608.8h.6M208.5 607.7h.6M199.4 607.6h.6M201.7 606.5h.6M196.3 608.1h.6M207.2 609.1h.6M200.6 602.2h.6M213.9 602.5h.6M211.7 605.4h.6M196.8 604.2h.6M222.5 603.5h.6M193.8 608.5h.6M209.1 605.7h.6M215.2 596.6h.6M217.1 601.9h.6M183.3 605.4h.6M214.4 606.7h.6M216.5 603.3h.6M218.7 597.6h.6M183.1 607.5h.6M198.1 603.7h.6M203.7 602.5h.6M200.4 604.9h.6M217.7 599.9h.6M198.1 606.5h.6M216.6 603.6h.6M210.2 608.0h.6M190.5 599.4h.6M195.0 606.6h.6M200.1 606.6h.6M205.6 601.9h.6M214.4 607.0h.6M202.9 606.7h.6M213.6 608.1h.6M189.3 608.1h.6M174.9 611.0h.6M201.4 605.1h.6M209.2 606.4h.6M201.2 608.8h.6M194.8 608.5h.6M208.8 606.5h.6M223.5 606.1h.6M203.7 603.6h.6M197.6 605.1h.6M196.4 606.9h.6M223.9 608.3h.6M204.3 604.9h.6M210.7 610.0h.6M216.6 604.6h.6M215.2 605.2h.6M195.7 609.4h.6M214.0 608.2h.6M212.9 607.9h.6M209.5 599.3h.6M214.5 606.3h.6M199.2 607.8h.6M204.0 603.5h.6M199.6 605.7h.6M212.1 602.3h.6M198.3 611.2h.6M208.5 609.6h.6M194.0 596.8h.6M203.5 606.8h.6M201.2 607.8h.6M203.6 606.1h.6M206.0 603.2h.6M202.9 610.6h.6M202.5 605.8h.6M184.5 608.8h.6M215.5 603.2h.6M198.6 606.6h.6M202.3 608.5h.6M196.6 610.2h.6M214.4 613.4h.6M195.9 604.3h.6M209.6 610.7h.6M216.2 606.6h.6M220.7 599.4h.6M216.3 606.6h.6M210.7 603.9h.6M193.0 608.5h.6M217.3 602.9h.6M216.3 605.2h.6M212.9 607.3h.6M212.5 601.3h.6M205.5 607.3h.6M199.7 611.4h.6M215.3 606.4h.6M217.1 603.4h.6M194.6 611.2h.6M213.6 603.0h.6M207.1 603.8h.6M213.4 598.7h.6M207.4 608.3h.6M215.6 603.2h.6M214.8 610.8h.6M213.4 606.9h.6M191.4 607.6h.6M212.8 604.3h.6M205.3 606.6h.6M193.9 608.0h.6M211.7 607.7h.6M191.5 609.4h.6M213.5 604.6h.6M221.3 602.9h.6M200.0 605.0h.6M213.8 602.3h.6M209.2 602.2h.6M211.2 611.6h.6M191.8 609.6h.6M210.8 606.4h.6M206.2 608.4h.6M212.1 602.3h.6M205.0 604.1h.6M215.5 605.7h.6M207.6 605.8h.6M211.5 601.7h.6M218.2 606.2h.6M206.7 607.3h.6M214.5 602.5h.6M207.1 604.7h.6M210.0 601.4h.6M199.9 605.8h.6M212.4 603.3h.6M216.8 607.0h.6M204.2 609.6h.6M212.6 605.7h.6M209.1 614.6h.6M194.3 606.3h.6M208.4 603.0h.6M217.7 604.9h.6" stroke="#f21010" stroke-width="0.7" fill="none"/>
<path d="M196.8 628.0h.6M208.0 629.9h.6M198.4 632.5h.6M207.0 629.5h.6M217.3 628.0h.6M204.9 641.9h.6M206.7 652.1h.6M202.9 627.1h.6M200.8 618.3h.6M201.1 639.3h.6M199.3 625.9h.6M207.9 630.5h.6M185.0 635.6h.6M196.4 640.7h.6M204.3 630.8h.6M191.6 636.2h.6M197.8 655.9h.6M192.8 632.2h.6M202.5 630.8h.6M206.0 652.7h.6M211.0 618.4h.6M203.0 629.5h.6M192.6 632.5h.6M200.9 626.6h.6M203.5 633.1h.6M210.7 636.1h.6M180.5 645.3h.6M201.9 634.1h.6M183.2 616.9h.6M204.8 609.6h.6M202.5 634.4h.6M202.9 633.4h.6M206.2 624.3h.6M202.0 624.0h.6M193.2 641.3h.6M201.7 640.1h.6M208.9 606.5h.6M197.7 621.2h.6M199.0 647.1h.6M188.4 654.7h.6M208.5 634.8h.6M194.4 631.4h.6M192.4 629.1h.6M194.9 636.9h.6M191.4 651.7h.6M196.6 630.3h.6M209.5 619.7h.6M205.4 628.0h.6M210.8 630.3h.6M211.3 619.1h.6M191.1 636.0h.6M202.8 640.8h.6M211.4 624.0h.6M218.2 634.6h.6M186.7 627.9h.6M186.6 632.9h.6M202.7 639.6h.6M195.9 630.8h.6M190.3 623.1h.6M201.9 651.7h.6M192.0 636.4h.6M179.5 624.6h.6M198.5 647.5h.6M199.8 632.7h.6M204.1 643.3h.6M206.7 628.1h.6M200.2 655.3h.6M196.7 649.2h.6M193.1 639.9h.6M184.7 637.3h.6M195.0 629.6h.6M207.1 622.8h.6M204.2 616.9h.6M216.1 615.4h.6M197.4 624.6h.6M183.6 649.4h.6M205.7 629.5h.6M207.5 594.3h.6M188.8 613.4h.6M185.0 630.1h.6M200.0 623.2h.6M204.7 618.2h.6M189.2 640.6h.6M195.8 612.9h.6M192.1 638.8h.6M188.7 637.5h.6M187.5 614.9h.6M199.8 652.3h.6M195.5 629.4h.6M193.0 652.2h.6M176.6 649.7h.6M213.4 624.8h.6M190.7 639.3h.6M197.5 630.3h.6M189.0 644.4h.6M201.8 630.9h.6M185.9 650.4h.6M199.4 635.1h.6M197.0 646.7h.6M206.4 620.7h.6M189.3 649.7h.6M193.1 627.2h.6M196.6 636.9h.6M216.3 625.5h.6M186.1 625.8h.6M201.1 629.2h.6M193.1 654.0h.6M201.2 625.0h.6M204.1 658.7h.6M199.8 628.2h.6M200.8 634.6h.6M201.0 644.8h.6M193.6 633.3h.6M196.8 635.7h.6M184.6 618.0h.6M195.6 637.7h.6M192.1 614.8h.6M196.4 618.3h.6M204.8 634.7h.6M201.8 638.4h.6M202.6 615.8h.6M207.9 628.2h.6M178.4 640.3h.6M202.2 632.3h.6M198.4 644.3h.6M197.7 635.9h.6M187.5 647.3h.6M203.2 645.1h.6M208.3 629.6h.6M207.2 608.5h.6M197.8 615.1h.6M203.9 629.4h.6M206.3 626.1h.6M214.0 618.3h.6M208.9 612.0h.6M199.7 627.6h.6M199.3 636.2h.6M199.9 634.9h.6M200.5 618.8h.6M194.3 606.6h.6M205.1 634.7h.6M192.7 656.0h.6M191.7 626.6h.6M201.5 630.8h.6M193.7 632.6h.6M196.5 619.7h.6M180.9 640.0h.6M205.2 642.0h.6M198.5 652.1h.6M197.4 632.6h.6M202.4 641.7h.6M200.3 627.6h.6M192.6 648.0h.6M215.5 626.5h.6M194.7 649.0h.6M206.8 631.1h.6M214.0 628.3h.6M193.3 628.1h.6M199.3 617.1h.6M191.6 637.1h.6M207.4 636.0h.6M195.7 612.6h.6M189.2 632.6h.6M209.7 619.4h.6M206.3 621.2h.6M191.0 620.2h.6M208.5 615.8h.6M200.2 623.6h.6M221.5 611.7h.6M213.0 633.1h.6M193.8 640.4h.6M196.2 633.9h.6M191.1 634.4h.6M199.6 630.8h.6M198.9 628.1h.6M204.7 628.1h.6M199.2 635.7h.6M186.0 655.0h.6M191.6 626.4h.6M210.5 619.2h.6M208.3 635.7h.6M197.1 627.1h.6M197.3 628.0h.6M197.1 631.5h.6M198.7 650.7h.6M184.3 651.6h.6M206.1 633.9h.6M192.9 617.5h.6M199.7 639.9h.6M177.1 646.3h.6M200.5 642.2h.6M209.8 630.9h.6M179.6 637.8h.6M211.3 646.7h.6M202.5 659.3h.6M192.3 627.8h.6M185.1 638.1h.6M208.3 632.8h.6M200.7 620.3h.6M203.5 618.8h.6M196.2 654.8h.6M191.7 636.8h.6M205.9 616.1h.6M190.4 642.8h.6M206.1 630.9h.6M184.3 628.9h.6M190.6 638.4h.6M186.2 650.5h.6M209.6 633.0h.6M183.6 653.2h.6M188.8 630.8h.6M204.1 646.8h.6M200.4 620.1h.6M217.1 639.2h.6M214.1 623.0h.6M203.7 644.3h.6M204.3 631.9h.6M183.0 628.8h.6M191.0 623.7h.6M195.7 619.3h.6M197.0 633.3h.6M186.8 636.5h.6M190.6 633.2h.6M191.3 628.8h.6M207.5 631.1h.6M202.1 618.2h.6M195.7 629.6h.6M196.1 620.8h.6M201.0 625.3h.6M192.6 627.5h.6M196.2 640.4h.6M183.9 643.5h.6M204.2 642.2h.6M206.6 630.5h.6M201.6 631.8h.6M202.5 620.7h.6M201.6 643.2h.6M215.8 588.6h.6M200.2 632.0h.6M187.3 624.2h.6M189.6 625.3h.6M204.5 654.9h.6M207.5 629.7h.6M205.0 612.7h.6M205.6 653.4h.6M200.1 622.7h.6M185.8 647.7h.6M192.5 639.6h.6M183.1 637.2h.6M195.2 652.9h.6M186.9 635.5h.6M199.3 638.0h.6M197.0 640.2h.6M181.9 632.8h.6M204.7 591.5h.6M204.9 624.7h.6M186.6 631.9h.6M199.7 631.5h.6M204.5 636.1h.6M196.0 630.2h.6M205.7 611.9h.6M200.0 628.8h.6M207.6 617.5h.6M200.0 633.2h.6M197.0 605.9h.6M202.8 646.7h.6M205.1 622.0h.6M200.5 624.8h.6M194.6 630.8h.6M191.7 646.9h.6M195.2 645.3h.6M193.5 636.7h.6M200.1 629.7h.6M199.8 643.7h.6M197.7 643.3h.6M198.4 625.8h.6M199.8 620.1h.6M211.7 630.7h.6M208.6 633.7h.6M193.4 641.9h.6" stroke="#f21010" stroke-width="0.7" fill="none"/>
</g>
<rect x="142.60" y="587.20" width="88.70" height="88.20" fill="none" stroke="#777" stroke-width="0.8" />
<line x1="190.6" y1="587.2" x2="190.6" y2="675.4" stroke="#888" stroke-width="0.8"/>
<line x1="142.6" y1="617.3" x2="231.3" y2="617.3" stroke="#555" stroke-width="0.8"/>
<text x="145.1" y="595.8" font-size="9.0" text-anchor="start" fill="#231f20" >0.97%</text>
<text x="230.7" y="595.8" font-size="9.0" text-anchor="end" fill="#231f20" >3.96%</text>
<text x="145.1" y="672.8" font-size="9.0" text-anchor="start" fill="#231f20" >90.47%</text>
<text x="230.7" y="672.8" font-size="9.0" text-anchor="end" fill="#231f20" >4.60%</text>
<path d="M140.6 675.4h2.0M141.6 671.0h1.0M141.6 668.4h1.0M141.6 666.5h1.0M141.6 665.1h1.0M141.6 664.0h1.0M141.6 663.0h1.0M141.6 662.1h1.0M141.6 661.4h1.0M140.6 660.7h2.0M141.6 656.3h1.0M141.6 653.7h1.0M141.6 651.8h1.0M141.6 650.4h1.0M141.6 649.3h1.0M141.6 648.3h1.0M141.6 647.4h1.0M141.6 646.7h1.0M140.6 646.0h2.0M141.6 641.6h1.0M141.6 639.0h1.0M141.6 637.1h1.0M141.6 635.7h1.0M141.6 634.6h1.0M141.6 633.6h1.0M141.6 632.7h1.0M141.6 632.0h1.0M140.6 631.3h2.0M141.6 626.9h1.0M141.6 624.3h1.0M141.6 622.4h1.0M141.6 621.0h1.0M141.6 619.9h1.0M141.6 618.9h1.0M141.6 618.0h1.0M141.6 617.3h1.0M140.6 616.6h2.0M141.6 612.2h1.0M141.6 609.6h1.0M141.6 607.7h1.0M141.6 606.3h1.0M141.6 605.2h1.0M141.6 604.2h1.0M141.6 603.3h1.0M141.6 602.6h1.0M140.6 601.9h2.0M141.6 597.5h1.0M141.6 594.9h1.0M141.6 593.0h1.0M141.6 591.6h1.0M141.6 590.5h1.0M141.6 589.5h1.0M141.6 588.6h1.0M141.6 587.9h1.0M142.6 675.4v2.0M147.9 675.4v1.0M151.1 675.4v1.0M153.3 675.4v1.0M155.0 675.4v1.0M156.4 675.4v1.0M157.6 675.4v1.0M158.6 675.4v1.0M159.5 675.4v1.0M160.3 675.4v2.0M165.7 675.4v1.0M168.8 675.4v1.0M171.0 675.4v1.0M172.7 675.4v1.0M174.1 675.4v1.0M175.3 675.4v1.0M176.4 675.4v1.0M177.3 675.4v1.0M178.1 675.4v2.0M183.4 675.4v1.0M186.5 675.4v1.0M188.8 675.4v1.0M190.5 675.4v1.0M191.9 675.4v1.0M193.1 675.4v1.0M194.1 675.4v1.0M195.0 675.4v1.0M195.8 675.4v2.0M201.2 675.4v1.0M204.3 675.4v1.0M206.5 675.4v1.0M208.2 675.4v1.0M209.6 675.4v1.0M210.8 675.4v1.0M211.8 675.4v1.0M212.7 675.4v1.0M213.6 675.4v2.0M218.9 675.4v1.0M222.0 675.4v1.0M224.2 675.4v1.0M226.0 675.4v1.0M227.4 675.4v1.0M228.6 675.4v1.0M229.6 675.4v1.0M230.5 675.4v1.0" stroke="#777" stroke-width="0.4" fill="none"/>
<text x="142.6" y="682.0" class="t" font-size="4.2" text-anchor="middle" fill="#555">10<tspan dy="-1.5" font-size="2.8">2</tspan></text>
<text x="160.3" y="682.0" class="t" font-size="4.2" text-anchor="middle" fill="#555">10<tspan dy="-1.5" font-size="2.8">3</tspan></text>
<text x="178.1" y="682.0" class="t" font-size="4.2" text-anchor="middle" fill="#555">10<tspan dy="-1.5" font-size="2.8">4</tspan></text>
<text x="195.8" y="682.0" class="t" font-size="4.2" text-anchor="middle" fill="#555">10<tspan dy="-1.5" font-size="2.8">5</tspan></text>
<text x="213.6" y="682.0" class="t" font-size="4.2" text-anchor="middle" fill="#555">10<tspan dy="-1.5" font-size="2.8">6</tspan></text>
<text x="231.3" y="682.0" class="t" font-size="4.2" text-anchor="middle" fill="#555">10<tspan dy="-1.5" font-size="2.8">7</tspan></text>
<text transform="translate(138.4,675.4) rotate(-90)" class="t" font-size="4.2" text-anchor="middle" fill="#555">10<tspan dy="-1.5" font-size="2.8">1</tspan></text>
<text transform="translate(138.4,660.7) rotate(-90)" class="t" font-size="4.2" text-anchor="middle" fill="#555">10<tspan dy="-1.5" font-size="2.8">2</tspan></text>
<text transform="translate(138.4,646.0) rotate(-90)" class="t" font-size="4.2" text-anchor="middle" fill="#555">10<tspan dy="-1.5" font-size="2.8">3</tspan></text>
<text transform="translate(138.4,631.3) rotate(-90)" class="t" font-size="4.2" text-anchor="middle" fill="#555">10<tspan dy="-1.5" font-size="2.8">4</tspan></text>
<text transform="translate(138.4,616.6) rotate(-90)" class="t" font-size="4.2" text-anchor="middle" fill="#555">10<tspan dy="-1.5" font-size="2.8">5</tspan></text>
<text transform="translate(138.4,601.9) rotate(-90)" class="t" font-size="4.2" text-anchor="middle" fill="#555">10<tspan dy="-1.5" font-size="2.8">6</tspan></text>
<text transform="translate(138.4,587.2) rotate(-90)" class="t" font-size="4.2" text-anchor="middle" fill="#555">10<tspan dy="-1.5" font-size="2.8">7</tspan></text>
<g clip-path="url(#fc2)">
<ellipse cx="280.1" cy="642.8" rx="11.1" ry="4.6" fill="#ff1010" transform="rotate(-27 280.1 642.8)" filter="url(#sb)" opacity="1.0"/>
<path d="M301.8 642.6h.6M284.2 641.1h.6M279.2 638.5h.6M288.7 636.5h.6M300.2 632.1h.6M290.2 644.0h.6M267.1 649.8h.6M279.0 640.6h.6M276.2 644.7h.6M276.7 637.5h.6M269.0 645.0h.6M276.3 642.9h.6M270.2 643.9h.6M282.8 642.6h.6M280.2 642.0h.6M267.2 648.7h.6M264.6 647.2h.6M275.5 645.6h.6M285.6 640.0h.6M284.2 646.3h.6M279.2 648.0h.6M275.4 643.1h.6M273.2 647.9h.6M276.8 644.3h.6M268.9 649.5h.6M275.9 636.5h.6M273.8 649.8h.6M303.9 629.3h.6M286.0 643.6h.6M278.0 641.6h.6M279.3 643.6h.6M278.7 644.2h.6M281.4 638.8h.6M276.2 640.8h.6M279.6 643.6h.6M288.9 643.0h.6M287.1 633.0h.6M282.5 636.8h.6M291.6 638.5h.6M281.7 643.0h.6M271.0 644.1h.6M264.2 646.9h.6M273.6 640.2h.6M279.2 646.1h.6M283.3 641.4h.6M289.3 642.5h.6M274.6 639.5h.6M272.6 638.3h.6M286.6 640.8h.6M290.2 637.5h.6M275.5 638.9h.6M282.8 642.7h.6M292.0 642.2h.6M282.6 638.0h.6M279.3 640.9h.6M261.3 648.8h.6M291.5 633.9h.6M285.5 640.0h.6M280.9 648.5h.6M275.6 642.6h.6M268.7 646.1h.6M278.9 636.2h.6M278.8 642.9h.6M289.5 640.4h.6M269.0 644.2h.6M292.6 637.9h.6M280.1 647.4h.6M290.3 639.0h.6M271.1 646.3h.6M282.8 636.7h.6M290.6 630.8h.6M280.8 646.2h.6M266.7 649.9h.6M276.8 646.4h.6M284.5 643.4h.6M267.3 648.7h.6M266.9 646.2h.6M281.8 638.1h.6M271.3 649.7h.6M285.8 646.2h.6M269.3 652.2h.6M263.4 643.5h.6M272.9 639.9h.6M293.0 644.0h.6M272.1 650.6h.6M279.7 642.1h.6M281.9 638.0h.6M271.3 641.5h.6M289.5 639.0h.6M281.3 639.7h.6M283.7 640.2h.6M264.8 649.0h.6M264.2 640.4h.6M255.3 649.8h.6M278.1 647.0h.6M277.7 644.8h.6M286.2 646.1h.6M293.0 638.5h.6M277.5 639.3h.6M277.4 647.7h.6M283.8 637.4h.6M293.4 631.1h.6M272.5 643.4h.6M285.3 645.0h.6M277.6 646.2h.6M276.8 644.6h.6M287.0 644.9h.6M272.8 649.0h.6M270.3 646.3h.6M285.7 641.4h.6M279.6 640.5h.6M277.4 647.5h.6M278.6 636.3h.6M284.2 637.5h.6M276.5 640.4h.6M286.6 642.8h.6M283.5 635.3h.6M292.9 639.8h.6M291.0 632.8h.6M287.4 636.5h.6M278.0 646.2h.6M280.8 643.8h.6M274.5 637.5h.6M305.1 631.4h.6M277.8 643.7h.6M284.7 640.3h.6M291.9 638.2h.6M267.7 648.9h.6M272.5 645.4h.6M276.3 645.9h.6M271.0 646.7h.6M268.6 644.2h.6M275.2 647.3h.6M291.3 636.5h.6M286.2 640.2h.6M280.1 639.7h.6M280.1 639.3h.6M265.1 642.5h.6M286.0 638.5h.6M283.6 638.9h.6M270.2 646.0h.6M281.7 640.0h.6M278.1 646.2h.6M275.2 644.8h.6M271.1 642.5h.6M273.8 644.5h.6M271.5 643.4h.6M283.9 645.0h.6M283.1 636.7h.6M282.7 643.7h.6M278.2 641.6h.6M276.2 643.7h.6M298.0 633.8h.6M263.3 648.8h.6M290.5 642.9h.6M283.0 648.3h.6M280.5 643.4h.6M275.3 648.1h.6M277.9 641.2h.6M269.3 640.6h.6M267.5 654.1h.6M278.9 647.4h.6M265.2 645.8h.6M287.3 635.9h.6M289.7 638.5h.6M266.1 644.8h.6M282.3 639.8h.6M281.7 636.1h.6M280.8 640.0h.6M283.6 645.8h.6M286.5 642.2h.6M287.5 639.5h.6M295.7 640.6h.6M280.1 643.4h.6M287.5 642.1h.6M265.5 649.3h.6M278.7 640.4h.6M269.1 647.1h.6M292.2 642.7h.6M300.6 638.9h.6M284.7 640.9h.6M268.3 638.5h.6M278.9 641.9h.6M280.1 637.2h.6M281.6 640.2h.6M289.5 647.2h.6M288.3 638.6h.6M256.4 652.5h.6M292.0 643.7h.6M275.5 647.6h.6M274.9 637.6h.6M292.5 644.3h.6M277.5 645.4h.6M267.7 642.0h.6M268.1 643.6h.6M280.4 648.4h.6M287.9 640.5h.6M293.2 640.4h.6M278.4 643.6h.6M275.7 641.1h.6M294.3 640.3h.6M275.8 644.8h.6M292.8 633.5h.6M282.0 648.4h.6M282.0 643.2h.6M277.8 641.5h.6M282.5 646.1h.6M275.8 646.0h.6M273.9 649.0h.6M278.7 642.3h.6M274.1 646.4h.6M282.6 638.9h.6M280.7 638.6h.6M277.6 643.0h.6M278.1 644.4h.6M277.9 642.2h.6M295.3 637.7h.6M279.8 646.9h.6M274.6 640.3h.6M277.3 642.5h.6M285.8 638.0h.6M278.1 647.9h.6M278.6 639.8h.6M277.6 635.7h.6M281.4 639.9h.6M283.4 646.6h.6M283.8 641.2h.6M265.4 647.0h.6M270.4 644.6h.6M256.6 650.3h.6M287.0 638.6h.6M289.7 641.2h.6M291.4 638.3h.6M281.2 644.6h.6M290.1 639.1h.6M279.6 639.1h.6M278.8 644.6h.6M266.2 644.2h.6M273.0 647.7h.6M274.7 645.4h.6M288.0 640.9h.6M294.6 633.7h.6M275.7 646.5h.6M283.2 637.2h.6M282.3 647.0h.6M273.0 645.1h.6M264.6 643.8h.6M273.2 642.0h.6M267.2 649.9h.6M277.1 647.7h.6M278.6 639.8h.6M278.3 647.5h.6M278.4 640.9h.6M284.2 643.1h.6M271.6 645.0h.6M287.8 631.9h.6M265.1 641.4h.6M280.4 639.4h.6M283.3 646.4h.6M272.9 643.5h.6M265.8 646.6h.6M285.5 641.2h.6M273.9 639.6h.6M286.8 646.6h.6M286.7 639.4h.6M279.8 642.1h.6M279.9 645.2h.6M288.6 633.8h.6M283.2 646.1h.6M271.6 644.9h.6M281.4 641.8h.6M284.8 648.9h.6M281.7 647.1h.6M281.5 645.5h.6M278.6 640.1h.6M278.8 639.5h.6M271.6 642.9h.6M267.2 645.5h.6M289.8 647.4h.6M274.2 643.5h.6M281.8 643.8h.6M266.6 642.3h.6M281.3 637.3h.6M272.6 636.7h.6M306.1 632.2h.6M270.9 642.3h.6M271.3 648.8h.6M288.2 639.8h.6M289.9 644.0h.6M261.3 644.9h.6M282.1 646.2h.6M287.6 641.0h.6M269.1 648.7h.6M285.9 642.4h.6M275.2 642.3h.6M271.1 647.2h.6M276.8 642.7h.6M275.8 647.4h.6M267.6 641.2h.6M299.6 639.0h.6M275.8 640.1h.6M273.3 636.9h.6M287.4 649.0h.6M279.2 646.3h.6M291.6 639.8h.6M277.5 639.1h.6M283.0 643.4h.6M280.7 641.0h.6M281.3 644.8h.6M278.0 641.1h.6M278.9 647.2h.6M294.6 635.2h.6M273.9 655.1h.6M275.0 650.8h.6M276.8 637.0h.6M284.9 640.5h.6M283.4 644.7h.6M288.1 632.2h.6M268.1 642.3h.6M282.1 637.9h.6M278.3 644.6h.6M277.3 641.1h.6M281.3 640.3h.6M262.5 653.7h.6M282.3 639.7h.6M281.1 642.9h.6M267.3 641.7h.6M279.0 638.1h.6M293.5 640.8h.6M276.4 645.8h.6M285.1 640.3h.6M277.9 640.8h.6M272.7 646.2h.6M271.8 645.4h.6M276.4 641.4h.6M291.3 637.7h.6M287.0 636.3h.6M273.6 643.6h.6M288.6 643.2h.6M278.7 649.3h.6M273.8 641.5h.6M283.6 642.7h.6M271.8 646.2h.6M266.1 647.8h.6M291.2 644.9h.6M263.8 648.8h.6M284.6 650.6h.6M266.5 648.0h.6M279.6 645.9h.6M278.1 636.5h.6M276.0 642.1h.6M260.7 649.1h.6M278.9 642.3h.6M279.5 640.1h.6M272.0 647.7h.6M279.3 643.6h.6M288.6 641.3h.6M273.6 635.5h.6M282.1 641.7h.6M269.8 652.7h.6M283.2 638.7h.6M285.5 631.6h.6M301.6 639.6h.6M287.8 627.7h.6M283.7 641.7h.6M292.2 635.3h.6M271.2 647.2h.6M289.3 640.8h.6M275.1 648.5h.6M274.5 648.0h.6M289.5 647.5h.6M281.9 637.8h.6M291.5 643.3h.6M267.2 645.0h.6M282.3 640.7h.6M275.3 646.3h.6M277.5 643.1h.6M263.2 647.9h.6M288.1 642.0h.6M281.7 641.9h.6M271.3 645.0h.6M268.1 649.8h.6M272.3 649.6h.6M292.1 642.0h.6M279.1 642.4h.6M277.0 638.4h.6M284.2 636.0h.6M280.0 641.4h.6M282.0 638.6h.6M286.4 640.2h.6M282.8 637.7h.6M287.6 639.8h.6M269.6 644.3h.6M280.5 643.5h.6M276.9 643.5h.6M280.9 635.4h.6M279.6 647.1h.6M274.5 644.2h.6M277.0 645.7h.6M288.3 636.6h.6M275.2 637.4h.6M269.2 647.0h.6M285.2 651.1h.6M288.5 637.8h.6M277.7 641.0h.6M281.1 648.4h.6M272.7 645.6h.6M278.3 643.4h.6M289.7 648.1h.6M287.0 638.0h.6M281.3 640.6h.6M277.7 642.4h.6M265.9 650.7h.6M282.8 644.4h.6M284.1 643.7h.6M289.2 638.1h.6M297.6 640.9h.6M283.4 636.3h.6M288.4 638.7h.6M270.4 653.4h.6M290.6 633.3h.6M287.6 639.8h.6M291.9 641.1h.6M286.0 640.5h.6M284.0 648.1h.6M292.9 638.1h.6M274.3 653.3h.6M285.7 644.7h.6M289.5 634.8h.6M273.3 640.0h.6M270.1 646.8h.6M283.9 645.0h.6M281.2 638.8h.6M285.4 641.2h.6M285.7 640.1h.6M273.5 642.3h.6M283.1 645.6h.6M289.9 636.8h.6M277.1 651.2h.6M277.7 637.9h.6M270.4 651.2h.6M287.3 642.8h.6M297.1 640.0h.6M268.4 643.4h.6M286.8 637.9h.6M288.0 638.9h.6M275.4 642.0h.6M277.0 641.8h.6M271.2 645.5h.6M273.4 651.6h.6M281.7 650.6h.6M285.9 649.3h.6M281.2 642.5h.6M287.6 641.2h.6M282.0 642.6h.6M270.1 644.8h.6M292.8 639.7h.6M290.5 643.2h.6M274.1 649.9h.6M295.6 645.0h.6M284.3 636.9h.6M281.4 638.9h.6M296.9 642.6h.6M258.7 650.0h.6M266.4 645.1h.6M286.4 634.9h.6M278.2 645.4h.6M272.1 644.4h.6M293.3 634.4h.6M284.5 647.7h.6M269.3 648.6h.6M274.6 644.4h.6M287.6 643.1h.6M295.8 630.2h.6M263.0 644.6h.6M282.5 641.2h.6M277.0 647.1h.6M265.2 643.9h.6M278.9 640.7h.6M266.5 648.6h.6M275.7 645.6h.6M294.3 643.8h.6M284.8 641.5h.6M287.1 637.4h.6M285.5 637.3h.6M283.4 639.5h.6M288.8 637.0h.6M270.3 647.8h.6M277.3 645.2h.6M287.8 635.9h.6M274.1 642.8h.6M276.6 646.6h.6M290.8 637.6h.6M293.7 635.6h.6M275.2 641.5h.6M273.4 644.3h.6M285.5 643.0h.6M282.8 640.4h.6M274.6 638.1h.6M285.6 640.5h.6M285.2 643.6h.6M281.1 641.1h.6M305.9 639.5h.6M292.2 638.2h.6M287.5 641.6h.6M289.3 636.4h.6M306.1 634.5h.6M290.0 635.9h.6M274.2 636.0h.6M283.2 642.5h.6M281.1 645.5h.6M275.5 642.3h.6M282.7 642.2h.6M282.6 641.4h.6M280.0 644.9h.6M276.3 641.8h.6M287.7 640.2h.6M266.6 654.6h.6M287.6 641.3h.6M280.6 641.3h.6M282.9 637.5h.6M259.9 650.8h.6M295.0 641.2h.6M265.5 642.8h.6M273.0 647.0h.6M286.1 640.5h.6M275.2 642.4h.6M277.0 640.9h.6M261.1 648.3h.6M276.7 647.8h.6M282.3 638.3h.6M286.4 642.4h.6M278.0 645.2h.6M282.4 634.6h.6M284.3 638.2h.6M274.6 648.2h.6M274.0 646.3h.6M297.5 638.4h.6M273.1 647.5h.6M291.2 646.4h.6M281.1 639.5h.6M293.3 635.9h.6M275.0 643.3h.6M285.0 642.7h.6M283.4 640.9h.6M278.5 640.8h.6M283.2 645.6h.6M273.8 645.8h.6M279.8 644.8h.6M277.0 641.1h.6M287.1 639.6h.6M279.7 647.6h.6M268.4 648.4h.6M277.3 637.1h.6M279.7 646.4h.6M272.7 644.4h.6M292.1 641.4h.6M284.0 637.0h.6M287.8 640.6h.6M273.9 646.2h.6M277.0 647.9h.6M289.3 640.9h.6M268.1 643.3h.6M283.7 639.2h.6M281.3 647.2h.6M276.2 638.2h.6M281.3 643.3h.6M271.2 649.2h.6M282.5 641.5h.6M269.9 648.0h.6M269.4 648.0h.6M292.7 641.3h.6M274.4 644.7h.6M262.1 649.9h.6M289.0 646.3h.6M273.8 642.7h.6M280.0 638.4h.6M288.6 638.2h.6M283.6 639.4h.6M295.5 637.5h.6M279.4 638.2h.6M285.7 642.2h.6M271.7 648.8h.6M281.9 640.9h.6M293.9 648.6h.6M284.9 642.6h.6M281.9 641.4h.6M263.3 649.3h.6M277.2 639.0h.6M269.3 643.4h.6M287.3 640.2h.6M274.1 646.0h.6M283.7 637.7h.6M271.8 647.7h.6M297.0 639.2h.6M270.3 642.9h.6M281.7 640.1h.6M303.5 628.3h.6M282.4 642.8h.6M272.9 651.7h.6M285.9 638.6h.6M289.2 635.4h.6M288.1 640.9h.6M263.3 642.1h.6M282.4 635.6h.6M262.0 650.6h.6M297.1 639.4h.6M281.2 647.0h.6M276.5 641.8h.6M286.4 638.2h.6M284.8 639.1h.6M270.2 650.2h.6M294.7 641.2h.6M278.4 648.5h.6M265.2 653.1h.6M292.8 643.9h.6M294.0 644.4h.6M291.5 640.0h.6M285.3 639.6h.6M272.7 642.7h.6M288.8 640.2h.6M296.8 640.2h.6M287.7 640.5h.6M294.6 636.4h.6M273.8 645.7h.6M289.5 639.8h.6M288.8 641.3h.6M267.5 648.4h.6M266.3 646.8h.6M274.2 648.6h.6M281.3 638.6h.6M284.5 647.1h.6M278.6 641.5h.6M280.0 647.7h.6M279.6 637.4h.6M281.3 639.2h.6M285.7 644.0h.6M284.9 643.0h.6M280.1 646.9h.6M282.8 642.2h.6M276.6 642.3h.6M287.6 631.3h.6M276.1 648.9h.6M295.0 633.8h.6M280.4 644.8h.6M283.0 640.9h.6M273.9 641.4h.6M277.5 641.6h.6M282.0 640.7h.6M280.7 643.3h.6M275.1 644.3h.6M270.4 645.1h.6M280.9 638.2h.6M281.9 647.6h.6M285.4 643.0h.6M291.6 643.9h.6M277.8 646.9h.6M263.0 650.8h.6M279.3 639.0h.6M264.3 639.7h.6M269.3 641.1h.6M289.7 644.2h.6M285.6 640.9h.6M274.9 648.4h.6M275.0 642.7h.6M279.8 638.2h.6M265.1 645.1h.6M284.8 638.2h.6M277.5 644.1h.6M296.8 644.9h.6M271.3 652.6h.6M289.4 640.3h.6M274.6 642.3h.6M289.6 635.3h.6M272.0 646.5h.6M287.1 640.4h.6M276.7 642.9h.6M273.3 640.9h.6M279.3 643.3h.6M284.8 645.3h.6M284.2 637.6h.6M294.5 637.0h.6M287.9 639.1h.6M257.3 654.2h.6M277.1 643.7h.6M263.0 654.1h.6M277.2 650.9h.6M286.1 641.8h.6M268.8 647.7h.6M270.2 643.7h.6M281.9 637.0h.6M278.1 643.5h.6M294.6 632.0h.6M283.5 643.9h.6M285.3 638.5h.6M296.1 642.6h.6M276.2 643.5h.6M280.6 643.8h.6M271.8 646.0h.6M282.9 639.8h.6M289.8 646.7h.6M292.7 638.6h.6M280.3 645.7h.6M274.3 644.1h.6M273.9 643.2h.6M268.3 647.6h.6M281.7 643.6h.6M292.6 643.2h.6M259.7 646.9h.6M261.4 650.8h.6M293.0 637.3h.6M266.4 652.0h.6M283.6 636.8h.6M269.5 649.6h.6M287.6 636.4h.6M287.6 642.2h.6M282.1 640.2h.6M288.0 640.9h.6M281.1 640.0h.6M285.7 641.1h.6M296.8 633.2h.6M290.4 637.3h.6M274.8 641.9h.6M273.6 638.7h.6M278.6 645.8h.6M278.7 638.5h.6M281.3 642.1h.6M275.3 649.5h.6M286.5 639.1h.6M281.0 643.2h.6M283.9 635.5h.6M280.8 644.4h.6M286.1 640.8h.6M270.1 644.9h.6M294.7 645.3h.6M283.8 639.8h.6M284.7 645.0h.6M286.1 635.9h.6M290.3 633.7h.6M287.3 640.7h.6M282.8 647.7h.6M279.1 642.4h.6M266.2 646.3h.6M282.6 639.4h.6M278.0 644.5h.6M278.0 647.7h.6M302.1 636.7h.6" stroke="#f21010" stroke-width="0.7" fill="none"/>
<path d="M270.1 638.7h.6M304.4 638.0h.6M272.9 646.7h.6M273.6 642.0h.6M281.3 640.3h.6M266.1 638.7h.6M276.2 646.9h.6M280.2 640.3h.6M275.7 641.0h.6M278.7 641.6h.6M297.7 631.1h.6M287.4 640.5h.6M264.9 638.6h.6M276.4 647.1h.6M291.4 646.9h.6M273.6 643.7h.6M282.9 632.8h.6M281.5 644.2h.6M288.6 642.5h.6M279.6 643.7h.6M280.1 640.3h.6M270.9 645.5h.6M286.5 637.2h.6M270.1 655.7h.6M303.9 623.7h.6M281.6 637.1h.6M279.0 647.2h.6M291.9 628.6h.6M280.8 638.2h.6M283.0 630.9h.6M281.2 648.5h.6M272.7 633.1h.6M270.2 644.3h.6M273.0 657.0h.6M296.3 631.1h.6M273.9 645.3h.6M276.7 649.0h.6M276.2 644.0h.6M290.8 650.3h.6M307.1 628.6h.6M270.1 646.0h.6M288.9 640.2h.6M283.4 631.1h.6M278.0 641.8h.6M288.3 642.9h.6M265.7 652.2h.6M292.5 637.6h.6M284.7 632.9h.6M269.2 648.7h.6M302.2 640.7h.6M292.7 631.2h.6M296.7 635.4h.6M263.4 647.0h.6M278.4 628.4h.6M275.2 650.8h.6M289.8 636.8h.6M299.1 646.5h.6M257.7 650.7h.6M282.1 636.9h.6M280.3 634.0h.6M294.6 644.7h.6M281.4 635.5h.6M265.7 641.1h.6M279.4 642.4h.6M268.7 629.2h.6M272.0 644.0h.6M282.4 646.2h.6M275.8 640.0h.6M285.4 651.6h.6M262.6 637.1h.6M311.4 624.6h.6M297.9 638.0h.6M291.0 633.8h.6M265.5 642.7h.6M254.5 637.4h.6M270.9 648.3h.6M278.9 650.0h.6M310.2 644.4h.6M298.5 637.1h.6M275.2 653.1h.6M297.2 636.8h.6M297.4 632.9h.6M282.1 643.5h.6M297.3 641.7h.6M286.1 631.7h.6M273.6 644.8h.6M267.0 644.2h.6M280.3 635.1h.6M294.6 644.9h.6M264.7 652.4h.6M261.4 631.4h.6M288.9 639.4h.6M305.0 634.7h.6M276.3 646.3h.6M291.2 645.6h.6M305.5 635.5h.6M263.5 647.0h.6M268.5 645.3h.6M310.4 627.8h.6M278.3 653.1h.6M280.3 650.9h.6M284.8 634.7h.6M295.3 639.1h.6M298.7 627.3h.6M283.3 638.3h.6M277.6 651.2h.6M281.4 637.4h.6M285.7 646.0h.6M298.5 633.5h.6M283.6 632.3h.6M305.0 619.5h.6M271.0 644.8h.6M288.6 634.0h.6M304.2 631.4h.6M298.2 630.2h.6M286.1 655.8h.6M270.7 647.0h.6M272.8 641.9h.6M279.9 638.4h.6M285.8 644.3h.6M278.7 636.5h.6M263.4 639.8h.6M272.5 643.4h.6M288.5 640.0h.6M292.5 639.5h.6M264.1 645.7h.6M277.3 634.7h.6M260.6 638.1h.6M274.7 646.1h.6M326.9 631.8h.6M282.7 645.6h.6M277.5 635.9h.6M274.4 641.8h.6M266.5 643.9h.6M258.3 645.5h.6M281.3 638.5h.6M278.4 642.7h.6M300.6 641.2h.6M261.1 651.6h.6M287.4 638.1h.6M298.9 632.6h.6M257.0 651.4h.6M290.2 640.6h.6M261.4 638.7h.6M288.5 641.5h.6M300.6 633.1h.6M281.8 642.8h.6M285.5 645.0h.6M273.1 653.4h.6M285.6 643.0h.6M296.3 641.2h.6M279.6 636.1h.6M280.1 648.7h.6M286.8 641.7h.6M292.3 633.1h.6M261.1 648.4h.6M282.6 637.3h.6M273.2 638.3h.6M288.2 649.3h.6M295.0 639.0h.6M285.9 645.6h.6M298.3 626.6h.6M269.3 645.7h.6M276.7 639.3h.6M269.3 634.0h.6M282.6 642.8h.6M283.1 639.9h.6M279.4 639.0h.6M266.5 647.6h.6M280.9 633.0h.6M276.3 637.4h.6M289.6 631.8h.6M278.5 641.6h.6M296.7 638.0h.6M284.8 642.0h.6M258.3 650.9h.6M279.7 652.0h.6M263.7 644.5h.6M294.2 631.5h.6M300.1 634.8h.6M281.6 644.0h.6M287.5 638.6h.6M263.5 645.4h.6M274.8 631.6h.6M278.7 647.3h.6M262.7 644.8h.6M283.1 636.0h.6M285.9 638.9h.6M290.1 639.5h.6M301.6 640.7h.6M292.2 641.1h.6M277.2 637.8h.6M283.2 631.1h.6M289.5 642.4h.6M268.6 642.2h.6M298.8 631.8h.6M293.4 630.5h.6M279.0 640.1h.6M273.8 640.6h.6M330.3 619.0h.6M292.6 644.6h.6M293.9 636.5h.6M304.8 644.4h.6M294.4 649.1h.6M284.6 645.1h.6M290.9 647.5h.6M270.3 641.4h.6M291.0 631.4h.6M262.4 649.2h.6M287.3 639.8h.6M289.0 639.9h.6M262.1 649.0h.6M306.3 631.8h.6M267.3 643.4h.6M295.3 639.3h.6M275.3 648.0h.6M285.9 642.7h.6M273.6 638.4h.6M313.7 632.9h.6M295.1 627.2h.6M305.0 634.6h.6M292.0 628.8h.6M290.9 645.3h.6M284.0 644.5h.6M279.0 638.7h.6M289.8 635.1h.6M284.1 641.0h.6M280.2 628.5h.6M264.6 646.1h.6M278.2 640.2h.6M289.8 641.7h.6M276.1 632.2h.6M286.5 633.8h.6M280.3 638.7h.6M269.0 655.4h.6M270.6 642.2h.6M272.7 646.8h.6M278.5 639.4h.6M278.8 636.0h.6M296.4 640.7h.6M268.3 643.9h.6M256.1 643.8h.6M290.9 636.8h.6M276.4 644.7h.6M280.7 647.9h.6M314.6 634.1h.6M300.8 642.5h.6M289.7 632.0h.6M294.2 636.0h.6M283.7 647.8h.6M294.4 636.7h.6M274.4 651.4h.6M273.1 664.4h.6M276.3 635.1h.6M302.3 626.6h.6M302.1 643.4h.6M274.5 647.8h.6M297.0 634.5h.6M280.2 643.8h.6M295.9 641.5h.6M278.2 645.3h.6M294.4 638.1h.6M280.8 644.6h.6M278.6 640.6h.6M282.0 642.2h.6M284.3 644.8h.6M274.9 643.0h.6M264.9 656.9h.6M303.9 624.4h.6M277.3 653.3h.6M259.1 648.9h.6M274.5 641.6h.6M299.6 627.0h.6M261.5 654.6h.6M278.2 642.5h.6M258.9 647.5h.6M296.4 639.1h.6M287.0 642.8h.6M286.5 631.2h.6M299.6 639.4h.6M303.3 636.7h.6M295.5 638.0h.6M275.0 644.5h.6M265.4 645.3h.6M269.0 646.4h.6M260.0 645.8h.6M305.4 632.2h.6M279.9 638.5h.6M284.0 631.5h.6M284.9 645.1h.6M308.2 621.8h.6M275.2 645.9h.6M297.5 631.5h.6M286.3 638.4h.6M280.4 643.2h.6M257.9 661.1h.6" stroke="#f21010" stroke-width="0.7" fill="none"/>
<ellipse cx="292.5" cy="622.5" rx="1.8" ry="6.6" fill="#ff1010" transform="rotate(30 292.5 622.5)" filter="url(#sb)" opacity="0.35"/>
<path d="M296.7 614.6h.6M289.4 631.7h.6M289.3 632.8h.6M295.0 619.1h.6M292.0 625.1h.6M297.6 611.9h.6M296.9 615.8h.6M293.9 625.3h.6M292.5 624.1h.6M294.1 616.6h.6M287.6 636.6h.6M292.2 621.1h.6M292.2 621.8h.6M290.3 628.4h.6M292.5 621.5h.6M287.2 635.6h.6M294.5 619.6h.6M295.7 619.1h.6M287.7 630.9h.6M292.2 619.0h.6M296.5 616.4h.6M293.0 617.8h.6M288.5 637.1h.6M288.7 633.0h.6M294.3 621.8h.6M297.4 607.3h.6M288.4 632.8h.6M291.8 621.5h.6M289.3 635.3h.6M290.8 625.6h.6M292.7 620.4h.6M291.6 624.5h.6M289.6 636.8h.6M298.2 610.3h.6M291.2 622.6h.6M291.1 621.2h.6M295.1 615.9h.6M291.7 629.2h.6M291.1 626.0h.6M294.6 615.4h.6M288.5 633.1h.6M294.0 617.7h.6M294.9 619.1h.6M293.7 619.7h.6M291.2 622.9h.6M291.7 626.3h.6M286.4 626.2h.6M291.3 624.5h.6M292.6 621.2h.6M294.4 620.9h.6M292.1 623.0h.6M290.5 627.4h.6M289.1 633.9h.6M291.6 629.1h.6M292.1 622.4h.6M295.4 616.8h.6M291.7 632.1h.6M290.2 633.9h.6M291.4 625.7h.6M290.2 627.4h.6M291.0 623.7h.6M284.9 641.8h.6M286.8 632.3h.6M288.0 632.6h.6M293.1 622.8h.6M291.5 625.1h.6M292.2 620.2h.6M295.3 615.1h.6M288.5 627.9h.6M295.2 619.1h.6M292.9 622.6h.6M289.5 632.2h.6M296.3 616.5h.6M287.3 634.3h.6M288.2 632.6h.6M291.1 623.2h.6M292.9 620.3h.6M291.1 623.0h.6M285.1 637.1h.6M290.8 622.7h.6M291.4 624.3h.6M299.5 605.2h.6M295.9 614.0h.6M292.1 621.1h.6M288.3 631.2h.6M292.7 625.8h.6M288.1 635.9h.6M292.3 616.8h.6M292.8 620.6h.6M290.5 625.3h.6M292.5 623.1h.6M290.7 627.6h.6M289.9 618.9h.6M296.4 618.0h.6M293.5 620.7h.6M290.8 626.2h.6M289.3 632.4h.6M292.2 626.9h.6M293.4 622.7h.6M294.3 619.9h.6M296.2 616.4h.6M293.1 618.7h.6M288.3 634.8h.6M297.9 610.2h.6M295.2 612.4h.6M294.2 616.2h.6M295.8 619.3h.6M287.1 642.6h.6M290.5 623.9h.6M290.1 625.8h.6M295.3 618.5h.6M288.1 627.6h.6M290.7 627.4h.6M296.3 614.3h.6M293.7 623.3h.6M290.5 625.6h.6M297.4 613.7h.6M287.6 634.0h.6M293.1 618.0h.6M291.0 624.9h.6M293.2 625.6h.6M290.8 623.8h.6M289.1 626.8h.6M292.3 625.4h.6M287.7 633.6h.6M293.3 620.7h.6M290.7 626.9h.6M294.5 618.0h.6M290.3 625.0h.6M289.6 629.9h.6M292.9 615.3h.6M295.5 618.6h.6M285.3 638.8h.6M292.0 617.4h.6M293.6 612.9h.6M287.3 632.9h.6M289.0 630.3h.6M293.6 623.4h.6M289.1 625.8h.6M289.7 627.6h.6M296.9 616.0h.6M288.8 628.8h.6M289.0 625.4h.6M284.6 636.5h.6M288.3 624.2h.6M287.9 628.3h.6M296.9 612.1h.6M295.4 616.7h.6M287.8 630.4h.6M297.7 608.1h.6M294.0 616.7h.6M291.1 622.1h.6M294.1 618.4h.6M292.8 619.4h.6M289.3 625.2h.6M286.3 635.7h.6M288.9 633.9h.6M291.7 618.9h.6M290.6 624.6h.6M289.4 630.2h.6M294.7 617.4h.6M288.4 631.6h.6M294.4 623.9h.6M290.2 627.8h.6M292.0 627.9h.6M288.2 630.6h.6M291.6 624.6h.6M289.3 625.6h.6M286.3 635.5h.6M291.6 623.2h.6M291.5 625.4h.6M294.2 620.2h.6M292.5 626.7h.6M288.6 627.5h.6M289.8 627.5h.6M284.1 641.5h.6M288.2 630.6h.6M295.6 617.4h.6M296.3 616.9h.6M294.0 618.7h.6M292.6 618.6h.6M293.5 621.4h.6M293.2 625.5h.6M286.4 637.0h.6M289.0 624.1h.6M295.3 619.3h.6M295.3 613.2h.6M292.4 623.4h.6M290.7 623.9h.6M290.5 626.9h.6M290.0 632.5h.6M288.8 631.3h.6M285.8 629.8h.6M292.1 623.7h.6M290.3 625.3h.6M291.0 626.6h.6M296.9 613.9h.6M293.5 619.5h.6M289.5 627.2h.6M293.4 613.7h.6M287.0 633.7h.6M294.9 618.2h.6M292.5 624.6h.6M291.1 629.5h.6M293.4 625.6h.6M296.1 613.0h.6M290.2 632.8h.6M288.6 626.1h.6M298.1 608.3h.6M291.7 625.0h.6M296.2 618.4h.6M289.6 628.4h.6M292.8 621.8h.6M289.7 624.8h.6M293.6 622.5h.6M290.8 627.1h.6M289.6 628.6h.6M296.4 615.3h.6M292.7 624.0h.6M285.4 642.2h.6" stroke="#f21010" stroke-width="0.7" fill="none"/>
<path d="M308.4 605.1h.6M315.3 603.2h.6M318.5 610.1h.6M327.1 603.8h.6M336.4 597.5h.6M332.2 599.4h.6M322.9 602.9h.6M333.4 605.4h.6M319.2 607.5h.6M316.3 603.3h.6M336.5 596.6h.6M312.5 605.5h.6M317.1 599.5h.6M318.2 606.3h.6M330.4 598.3h.6M315.8 609.6h.6M325.6 603.3h.6M317.2 609.7h.6M311.4 603.0h.6M321.7 602.1h.6M321.2 608.7h.6M311.9 609.0h.6M313.9 607.4h.6M314.4 611.9h.6M326.9 607.9h.6M323.3 608.1h.6M321.7 601.2h.6M323.5 598.4h.6M316.7 607.1h.6M323.4 605.6h.6M315.8 604.4h.6M310.6 608.2h.6M315.1 606.6h.6M321.6 601.0h.6M320.7 603.7h.6M327.6 604.2h.6M308.1 608.7h.6M318.5 598.6h.6M322.9 607.1h.6M313.2 605.1h.6M321.8 609.0h.6M317.2 607.7h.6M312.1 605.4h.6M328.0 605.5h.6M310.2 603.7h.6M327.2 603.6h.6M317.1 611.1h.6M313.4 615.6h.6M313.8 601.3h.6M314.8 607.9h.6M314.1 599.1h.6M322.0 604.5h.6M306.8 609.7h.6M328.9 601.3h.6M326.0 605.2h.6M329.9 603.5h.6M313.1 609.6h.6M303.6 604.1h.6M315.7 600.6h.6M318.9 607.2h.6M322.2 596.8h.6M316.4 607.7h.6M319.5 603.8h.6M321.1 611.7h.6M309.1 614.4h.6M332.9 594.1h.6M312.1 599.6h.6M322.0 599.6h.6M327.7 611.1h.6M314.5 604.5h.6M320.1 603.0h.6M331.7 603.0h.6M318.1 603.7h.6M327.5 607.8h.6M322.2 605.2h.6M321.7 609.5h.6M325.2 605.6h.6M318.5 603.4h.6M318.6 608.3h.6M326.9 605.1h.6" stroke="#f21010" stroke-width="0.7" fill="none"/>
<path d="M304.8 659.5h.6M308.7 630.1h.6M316.8 630.5h.6M310.7 646.7h.6M312.1 617.2h.6M295.8 641.0h.6M305.4 636.8h.6M315.8 645.0h.6M301.0 654.2h.6M304.8 641.1h.6M300.0 653.4h.6M320.4 623.5h.6M304.6 625.5h.6M302.1 642.9h.6M314.1 648.9h.6M318.3 634.0h.6M313.0 643.3h.6M317.3 628.3h.6M310.5 630.8h.6M307.4 638.6h.6M304.7 634.2h.6M304.1 623.8h.6M303.3 616.9h.6M311.8 637.9h.6M307.6 626.0h.6M309.3 635.8h.6M313.9 643.0h.6M308.1 619.6h.6M296.4 633.9h.6M301.6 634.7h.6M298.7 633.4h.6M291.7 641.8h.6M309.5 644.6h.6M297.9 618.2h.6M297.2 628.1h.6M299.0 634.3h.6M316.3 619.9h.6M305.8 620.5h.6M317.4 632.2h.6M307.8 627.4h.6M304.7 638.5h.6M313.6 624.5h.6M313.8 634.2h.6M309.6 606.5h.6M299.4 641.0h.6M304.5 629.4h.6M298.1 632.5h.6M306.3 638.0h.6M309.4 622.9h.6M321.7 629.3h.6M321.1 633.2h.6M314.5 631.2h.6M317.0 638.4h.6M310.6 619.6h.6M333.1 617.1h.6M322.1 617.5h.6M332.0 639.2h.6M311.9 629.2h.6M312.2 640.5h.6M317.9 628.9h.6M310.2 618.9h.6M311.3 629.6h.6M299.8 638.8h.6M316.9 618.0h.6M309.7 622.0h.6M315.7 610.5h.6M306.6 654.6h.6M292.8 636.0h.6M313.0 636.3h.6M318.8 639.1h.6M297.2 636.7h.6M299.9 649.6h.6M305.8 659.0h.6M306.3 644.2h.6M293.4 642.2h.6M324.1 607.1h.6M317.5 637.9h.6M303.0 648.4h.6M292.4 661.4h.6M311.7 636.1h.6M326.1 629.3h.6M315.8 629.0h.6M318.7 645.4h.6M300.1 645.1h.6M310.6 657.5h.6M295.2 636.8h.6M326.0 643.9h.6M313.5 661.6h.6M289.8 628.1h.6M292.1 634.3h.6M312.7 628.0h.6M309.7 629.2h.6M305.7 645.9h.6M314.0 619.7h.6M326.3 638.1h.6M311.7 611.3h.6M292.5 637.2h.6M307.1 654.2h.6M296.9 628.5h.6M301.4 614.7h.6M311.4 635.2h.6M307.0 622.4h.6M299.0 639.5h.6M308.2 640.5h.6M301.2 664.6h.6M313.2 618.2h.6M306.3 639.2h.6M311.9 628.0h.6M306.1 646.8h.6M315.1 640.9h.6M307.2 621.8h.6M308.3 637.8h.6M303.4 639.9h.6M309.7 646.8h.6M292.7 637.3h.6M332.1 615.8h.6M302.4 640.9h.6M309.3 635.2h.6M304.2 648.5h.6M304.1 619.8h.6M312.0 638.9h.6M303.9 637.0h.6M304.6 616.5h.6M296.2 640.7h.6M300.2 653.7h.6M298.0 647.7h.6M324.4 631.2h.6M296.6 618.6h.6M298.9 634.7h.6M310.1 635.3h.6M321.0 619.5h.6M293.4 625.0h.6M294.6 647.1h.6M309.5 617.3h.6M311.4 622.9h.6M295.8 633.4h.6M292.4 665.6h.6M299.8 634.6h.6M315.0 615.6h.6M308.0 636.6h.6M315.0 605.5h.6M307.4 633.0h.6M308.1 644.7h.6M313.8 624.8h.6M307.3 630.6h.6M310.4 623.5h.6M300.2 639.0h.6M303.0 621.2h.6M312.5 637.9h.6M306.2 632.8h.6M301.7 649.7h.6M314.2 640.0h.6M313.2 629.3h.6M308.3 640.7h.6M301.6 641.0h.6M316.3 632.6h.6M330.5 622.0h.6M301.0 627.8h.6M294.6 630.2h.6M301.4 624.8h.6M300.0 634.4h.6M297.1 643.8h.6M297.8 655.0h.6M315.8 634.3h.6M315.9 639.2h.6M321.4 648.4h.6M314.9 612.6h.6M304.1 655.4h.6M317.9 625.7h.6M302.9 629.4h.6M305.2 637.2h.6M297.9 608.8h.6M319.2 628.9h.6M317.2 638.4h.6M304.2 615.5h.6M305.5 643.3h.6M308.6 649.2h.6M310.1 643.8h.6M315.8 637.6h.6M308.9 632.7h.6M311.8 628.3h.6M295.0 655.4h.6M305.6 630.6h.6M292.4 614.8h.6M324.1 635.2h.6M320.6 630.1h.6M314.6 623.2h.6M318.1 616.2h.6M326.0 633.9h.6M316.6 640.8h.6M294.1 650.1h.6M306.4 622.0h.6M287.4 631.5h.6M301.0 660.2h.6M297.2 661.4h.6M308.2 647.2h.6M311.7 648.7h.6M300.0 632.1h.6M305.7 632.0h.6M310.7 610.7h.6M306.8 625.1h.6M306.6 632.7h.6M286.9 628.6h.6M304.3 644.8h.6M315.2 646.2h.6M310.5 632.2h.6M295.0 628.1h.6M305.8 652.3h.6M310.5 622.6h.6M299.5 627.2h.6M314.2 636.7h.6M301.1 634.3h.6M305.2 637.6h.6M307.2 632.9h.6M327.9 616.8h.6M305.3 643.5h.6M303.1 623.8h.6M314.5 621.3h.6M304.0 625.0h.6M309.9 654.6h.6" stroke="#f21010" stroke-width="0.7" fill="none"/>
</g>
<rect x="253.50" y="587.20" width="88.70" height="88.20" fill="none" stroke="#777" stroke-width="0.8" />
<line x1="301.6" y1="587.2" x2="301.6" y2="675.4" stroke="#888" stroke-width="0.8"/>
<line x1="253.5" y1="617.3" x2="342.2" y2="617.3" stroke="#555" stroke-width="0.8"/>
<text x="256.0" y="595.8" font-size="9.0" text-anchor="start" fill="#231f20" >0.44%</text>
<text x="341.6" y="595.8" font-size="9.0" text-anchor="end" fill="#231f20" >1.43%</text>
<text x="256.0" y="672.8" font-size="9.0" text-anchor="start" fill="#231f20" >95.06</text>
<text x="341.6" y="672.8" font-size="9.0" text-anchor="end" fill="#231f20" >3.07%</text>
<path d="M251.5 675.4h2.0M252.5 671.0h1.0M252.5 668.4h1.0M252.5 666.5h1.0M252.5 665.1h1.0M252.5 664.0h1.0M252.5 663.0h1.0M252.5 662.1h1.0M252.5 661.4h1.0M251.5 660.7h2.0M252.5 656.3h1.0M252.5 653.7h1.0M252.5 651.8h1.0M252.5 650.4h1.0M252.5 649.3h1.0M252.5 648.3h1.0M252.5 647.4h1.0M252.5 646.7h1.0M251.5 646.0h2.0M252.5 641.6h1.0M252.5 639.0h1.0M252.5 637.1h1.0M252.5 635.7h1.0M252.5 634.6h1.0M252.5 633.6h1.0M252.5 632.7h1.0M252.5 632.0h1.0M251.5 631.3h2.0M252.5 626.9h1.0M252.5 624.3h1.0M252.5 622.4h1.0M252.5 621.0h1.0M252.5 619.9h1.0M252.5 618.9h1.0M252.5 618.0h1.0M252.5 617.3h1.0M251.5 616.6h2.0M252.5 612.2h1.0M252.5 609.6h1.0M252.5 607.7h1.0M252.5 606.3h1.0M252.5 605.2h1.0M252.5 604.2h1.0M252.5 603.3h1.0M252.5 602.6h1.0M251.5 601.9h2.0M252.5 597.5h1.0M252.5 594.9h1.0M252.5 593.0h1.0M252.5 591.6h1.0M252.5 590.5h1.0M252.5 589.5h1.0M252.5 588.6h1.0M252.5 587.9h1.0M253.5 675.4v2.0M258.8 675.4v1.0M262.0 675.4v1.0M264.2 675.4v1.0M265.9 675.4v1.0M267.3 675.4v1.0M268.5 675.4v1.0M269.5 675.4v1.0M270.4 675.4v1.0M271.2 675.4v2.0M276.6 675.4v1.0M279.7 675.4v1.0M281.9 675.4v1.0M283.6 675.4v1.0M285.0 675.4v1.0M286.2 675.4v1.0M287.3 675.4v1.0M288.2 675.4v1.0M289.0 675.4v2.0M294.3 675.4v1.0M297.4 675.4v1.0M299.7 675.4v1.0M301.4 675.4v1.0M302.8 675.4v1.0M304.0 675.4v1.0M305.0 675.4v1.0M305.9 675.4v1.0M306.7 675.4v2.0M312.1 675.4v1.0M315.2 675.4v1.0M317.4 675.4v1.0M319.1 675.4v1.0M320.5 675.4v1.0M321.7 675.4v1.0M322.7 675.4v1.0M323.6 675.4v1.0M324.5 675.4v2.0M329.8 675.4v1.0M332.9 675.4v1.0M335.1 675.4v1.0M336.9 675.4v1.0M338.3 675.4v1.0M339.5 675.4v1.0M340.5 675.4v1.0M341.4 675.4v1.0" stroke="#777" stroke-width="0.4" fill="none"/>
<text x="253.5" y="682.0" class="t" font-size="4.2" text-anchor="middle" fill="#555">10<tspan dy="-1.5" font-size="2.8">2</tspan></text>
<text x="271.2" y="682.0" class="t" font-size="4.2" text-anchor="middle" fill="#555">10<tspan dy="-1.5" font-size="2.8">3</tspan></text>
<text x="289.0" y="682.0" class="t" font-size="4.2" text-anchor="middle" fill="#555">10<tspan dy="-1.5" font-size="2.8">4</tspan></text>
<text x="306.7" y="682.0" class="t" font-size="4.2" text-anchor="middle" fill="#555">10<tspan dy="-1.5" font-size="2.8">5</tspan></text>
<text x="324.5" y="682.0" class="t" font-size="4.2" text-anchor="middle" fill="#555">10<tspan dy="-1.5" font-size="2.8">6</tspan></text>
<text x="342.2" y="682.0" class="t" font-size="4.2" text-anchor="middle" fill="#555">10<tspan dy="-1.5" font-size="2.8">7</tspan></text>
<text transform="translate(249.3,675.4) rotate(-90)" class="t" font-size="4.2" text-anchor="middle" fill="#555">10<tspan dy="-1.5" font-size="2.8">1</tspan></text>
<text transform="translate(249.3,660.7) rotate(-90)" class="t" font-size="4.2" text-anchor="middle" fill="#555">10<tspan dy="-1.5" font-size="2.8">2</tspan></text>
<text transform="translate(249.3,646.0) rotate(-90)" class="t" font-size="4.2" text-anchor="middle" fill="#555">10<tspan dy="-1.5" font-size="2.8">3</tspan></text>
<text transform="translate(249.3,631.3) rotate(-90)" class="t" font-size="4.2" text-anchor="middle" fill="#555">10<tspan dy="-1.5" font-size="2.8">4</tspan></text>
<text transform="translate(249.3,616.6) rotate(-90)" class="t" font-size="4.2" text-anchor="middle" fill="#555">10<tspan dy="-1.5" font-size="2.8">5</tspan></text>
<text transform="translate(249.3,601.9) rotate(-90)" class="t" font-size="4.2" text-anchor="middle" fill="#555">10<tspan dy="-1.5" font-size="2.8">6</tspan></text>
<text transform="translate(249.3,587.2) rotate(-90)" class="t" font-size="4.2" text-anchor="middle" fill="#555">10<tspan dy="-1.5" font-size="2.8">7</tspan></text>
<g clip-path="url(#fc3)">
<ellipse cx="392.7" cy="642.8" rx="11.0" ry="4.6" fill="#ff1010" transform="rotate(-27 392.7 642.8)" filter="url(#sb)" opacity="1.0"/>
<path d="M375.8 645.6h.6M398.7 639.7h.6M387.2 638.3h.6M386.3 641.8h.6M385.6 639.6h.6M380.4 649.1h.6M389.9 645.1h.6M386.0 642.3h.6M386.6 644.2h.6M396.8 639.3h.6M381.9 645.1h.6M402.5 641.9h.6M372.5 642.7h.6M415.0 632.0h.6M380.3 651.9h.6M397.7 643.4h.6M400.6 640.2h.6M392.4 640.4h.6M399.1 641.0h.6M391.5 647.9h.6M376.6 644.6h.6M395.6 642.6h.6M402.7 635.4h.6M387.5 643.2h.6M377.2 643.8h.6M387.0 641.4h.6M395.4 638.8h.6M395.2 643.7h.6M402.4 636.2h.6M397.5 640.5h.6M397.0 645.8h.6M374.5 649.5h.6M412.5 637.9h.6M392.9 641.0h.6M400.2 638.0h.6M389.3 647.6h.6M391.1 640.6h.6M393.0 642.8h.6M406.6 642.2h.6M406.1 635.7h.6M398.0 643.8h.6M410.3 641.6h.6M388.9 641.1h.6M397.1 638.2h.6M388.4 646.3h.6M404.1 635.5h.6M392.8 639.1h.6M401.3 641.9h.6M408.0 631.0h.6M373.8 648.5h.6M412.1 636.1h.6M395.4 650.3h.6M389.6 641.3h.6M375.2 650.1h.6M389.8 642.0h.6M371.8 655.0h.6M393.3 638.4h.6M391.0 638.0h.6M409.0 631.1h.6M389.6 654.0h.6M402.2 637.7h.6M403.1 638.3h.6M411.2 647.8h.6M390.3 645.9h.6M399.4 640.9h.6M378.8 641.8h.6M382.5 648.6h.6M390.1 642.7h.6M392.3 642.9h.6M381.6 644.7h.6M388.8 645.2h.6M398.9 637.6h.6M388.4 640.5h.6M391.2 647.9h.6M384.5 641.1h.6M405.1 641.5h.6M408.7 638.8h.6M394.4 638.1h.6M391.5 642.6h.6M407.6 636.1h.6M396.9 638.6h.6M386.5 642.3h.6M380.4 648.2h.6M387.3 647.6h.6M412.5 634.3h.6M387.2 641.6h.6M418.7 633.5h.6M392.6 643.3h.6M390.6 640.2h.6M404.6 639.1h.6M390.4 648.1h.6M396.0 640.6h.6M383.2 643.7h.6M381.3 643.3h.6M385.9 647.8h.6M394.6 644.6h.6M386.6 643.2h.6M374.8 649.5h.6M396.9 641.5h.6M391.1 639.7h.6M390.1 642.0h.6M387.1 637.8h.6M372.2 647.7h.6M407.0 632.2h.6M388.3 640.1h.6M397.4 632.2h.6M405.2 638.7h.6M402.9 639.8h.6M394.5 637.4h.6M392.7 644.3h.6M395.4 643.3h.6M400.9 639.2h.6M397.9 639.6h.6M388.6 648.7h.6M396.7 640.4h.6M396.1 642.6h.6M398.9 640.7h.6M394.5 641.3h.6M405.1 639.4h.6M394.5 638.2h.6M400.7 638.4h.6M393.0 643.0h.6M387.4 643.8h.6M384.1 641.4h.6M391.2 640.1h.6M397.5 636.6h.6M404.1 639.5h.6M391.8 642.2h.6M387.9 636.8h.6M388.0 644.0h.6M404.3 633.0h.6M393.6 639.2h.6M388.1 645.3h.6M399.4 645.3h.6M380.7 643.8h.6M393.7 644.6h.6M392.3 645.0h.6M391.4 648.8h.6M382.2 641.4h.6M401.5 639.4h.6M407.9 637.8h.6M380.7 644.6h.6M393.7 641.2h.6M398.5 640.3h.6M413.1 634.5h.6M388.9 644.5h.6M384.1 654.0h.6M392.6 639.8h.6M410.9 635.4h.6M393.3 642.1h.6M395.0 636.1h.6M408.7 642.5h.6M373.3 658.3h.6M373.0 643.1h.6M400.9 638.5h.6M399.7 646.1h.6M380.1 647.6h.6M397.3 638.8h.6M393.0 646.5h.6M394.6 639.9h.6M385.4 637.2h.6M388.6 638.8h.6M384.7 644.9h.6M393.1 641.1h.6M390.6 646.3h.6M407.9 637.4h.6M398.3 641.9h.6M378.4 650.1h.6M396.4 646.0h.6M405.6 631.7h.6M395.2 641.3h.6M402.5 643.0h.6M392.3 644.0h.6M399.0 635.3h.6M384.2 639.3h.6M399.8 642.4h.6M380.2 645.5h.6M404.4 635.8h.6M379.0 647.7h.6M373.5 652.3h.6M397.5 644.4h.6M391.1 642.8h.6M393.7 644.8h.6M396.5 645.8h.6M392.4 643.3h.6M384.6 641.5h.6M394.6 639.4h.6M395.8 642.3h.6M397.1 634.4h.6M410.6 639.8h.6M386.0 644.7h.6M393.3 647.0h.6M397.7 638.2h.6M388.6 644.1h.6M381.8 651.6h.6M387.5 646.8h.6M402.3 633.2h.6M390.2 640.6h.6M398.2 640.4h.6M386.0 641.4h.6M396.7 646.8h.6M386.5 647.1h.6M385.0 649.3h.6M393.7 645.0h.6M393.1 643.6h.6M406.0 636.6h.6M377.9 643.3h.6M397.3 637.6h.6M407.3 628.6h.6M405.0 640.5h.6M389.2 643.5h.6M386.5 642.5h.6M388.2 646.7h.6M395.4 642.6h.6M394.4 640.5h.6M395.8 644.6h.6M398.1 639.2h.6M383.0 641.0h.6M382.4 649.4h.6M381.5 653.8h.6M380.5 645.8h.6M391.8 646.4h.6M395.5 641.0h.6M415.6 637.1h.6M397.5 639.9h.6M392.8 638.4h.6M405.5 635.7h.6M386.0 645.7h.6M395.7 645.6h.6M401.5 648.5h.6M399.8 647.9h.6M396.3 644.2h.6M389.5 643.1h.6M381.4 648.2h.6M391.3 645.0h.6M387.3 649.7h.6M398.9 646.4h.6M391.4 648.9h.6M397.7 638.8h.6M378.1 653.8h.6M401.5 637.5h.6M384.9 648.0h.6M378.5 644.9h.6M380.2 645.5h.6M387.0 641.7h.6M402.8 635.4h.6M399.1 643.4h.6M382.0 649.2h.6M393.4 643.9h.6M391.7 645.6h.6M378.5 644.6h.6M383.7 645.8h.6M374.2 648.2h.6M384.8 643.6h.6M368.7 651.5h.6M385.5 641.0h.6M384.2 651.7h.6M385.4 644.1h.6M385.2 643.2h.6M403.1 642.3h.6M389.5 646.1h.6M394.8 638.9h.6M399.5 641.8h.6M400.8 647.0h.6M398.8 645.6h.6M387.6 640.7h.6M382.7 648.8h.6M385.6 640.3h.6M388.4 639.2h.6M392.7 643.4h.6M391.9 641.1h.6M402.6 642.7h.6M391.7 644.5h.6M408.9 640.4h.6M402.0 637.9h.6M388.3 648.6h.6M400.4 640.9h.6M366.7 650.4h.6M405.1 637.2h.6M396.4 649.1h.6M396.2 648.0h.6M377.4 650.4h.6M415.4 636.7h.6M390.4 643.0h.6M391.4 642.5h.6M402.8 632.7h.6M390.9 641.0h.6M385.0 643.0h.6M398.6 642.7h.6M383.5 642.8h.6M399.4 638.4h.6M393.9 640.1h.6M402.8 640.1h.6M381.7 643.9h.6M403.9 634.1h.6M395.3 644.8h.6M410.5 645.0h.6M386.8 641.7h.6M409.4 635.2h.6M399.0 641.7h.6M399.8 642.2h.6M386.1 635.1h.6M397.7 642.9h.6M398.7 645.3h.6M385.2 646.7h.6M382.2 644.2h.6M385.7 647.1h.6M405.9 640.2h.6M394.1 641.3h.6M401.1 641.8h.6M395.3 641.6h.6M393.7 642.7h.6M394.7 645.9h.6M388.9 643.7h.6M403.7 643.6h.6M394.2 639.1h.6M394.7 645.5h.6M380.2 647.4h.6M395.4 648.4h.6M386.6 646.2h.6M388.1 648.6h.6M402.0 634.8h.6M382.8 646.2h.6M390.8 641.5h.6M398.3 647.3h.6M403.1 644.1h.6M388.0 644.8h.6M395.5 646.7h.6M395.2 638.1h.6M382.5 647.3h.6M373.3 648.1h.6M375.3 647.0h.6M398.1 641.7h.6M393.6 639.9h.6M380.6 648.8h.6M386.9 643.3h.6M389.0 639.7h.6M389.4 643.1h.6M392.4 642.5h.6M412.6 638.0h.6M385.6 644.8h.6M393.9 640.1h.6M385.7 645.8h.6M387.0 650.4h.6M384.7 644.7h.6M390.6 644.0h.6M387.7 642.7h.6M395.8 641.8h.6M394.6 636.8h.6M384.6 649.5h.6M410.0 641.1h.6M382.1 643.7h.6M395.9 645.5h.6M412.2 635.9h.6M386.2 644.8h.6M404.6 646.1h.6M405.5 636.7h.6M395.7 637.2h.6M376.0 647.1h.6M405.5 643.9h.6M393.5 639.9h.6M387.7 648.0h.6M404.2 639.8h.6M386.1 643.4h.6M402.3 642.7h.6M387.7 650.2h.6M397.5 641.9h.6M382.9 645.9h.6M389.1 646.9h.6M384.4 648.1h.6M386.2 642.2h.6M394.3 642.7h.6M391.1 645.0h.6M394.3 644.4h.6M404.2 638.8h.6M391.6 642.9h.6M375.9 648.5h.6M390.0 648.5h.6M393.4 643.9h.6M401.8 642.3h.6M402.0 639.9h.6M401.2 636.3h.6M390.6 640.2h.6M398.5 638.9h.6M379.6 646.4h.6M404.3 640.5h.6M396.6 640.5h.6M397.2 643.2h.6M389.2 645.1h.6M393.2 645.6h.6M386.6 644.9h.6M397.8 641.6h.6M380.7 640.1h.6M401.4 638.4h.6M397.6 642.7h.6M410.9 634.8h.6M392.3 644.6h.6M391.8 639.7h.6M394.4 639.7h.6M393.0 632.8h.6M391.7 646.9h.6M382.7 646.1h.6M382.7 646.3h.6M387.5 643.4h.6M390.0 641.2h.6M381.9 649.4h.6M382.2 648.5h.6M390.1 642.6h.6M399.3 637.6h.6M390.9 647.2h.6M398.8 646.4h.6M401.4 636.3h.6M399.6 637.9h.6M388.9 640.3h.6M389.0 647.3h.6M375.8 648.6h.6M386.5 644.0h.6M396.9 640.1h.6M382.8 646.2h.6M404.9 639.4h.6M405.6 635.6h.6M389.3 645.4h.6M401.0 642.3h.6M379.9 648.2h.6M383.2 647.5h.6M389.3 643.4h.6M392.7 643.6h.6M391.0 644.9h.6M384.9 640.4h.6M410.4 636.5h.6M395.3 643.2h.6M395.2 637.8h.6M398.8 642.9h.6M394.2 642.4h.6M390.6 643.8h.6M387.6 646.3h.6M377.9 648.6h.6M406.1 638.6h.6M384.4 650.2h.6M377.7 648.7h.6M385.4 644.2h.6M378.2 646.3h.6M410.6 636.5h.6M395.9 634.0h.6M405.4 636.8h.6M405.8 639.4h.6M397.8 641.8h.6M397.8 641.3h.6M386.1 643.4h.6M391.9 644.1h.6M387.2 639.4h.6M393.0 646.5h.6M386.4 642.6h.6M404.1 637.8h.6M399.5 644.7h.6M391.7 641.1h.6M377.6 645.5h.6M398.8 643.2h.6M400.6 632.7h.6M392.0 640.7h.6M381.3 647.4h.6M396.6 643.3h.6M402.1 642.6h.6M375.4 647.2h.6M397.8 641.2h.6M376.3 652.5h.6M393.4 646.2h.6M408.4 640.6h.6M393.5 644.0h.6M397.0 642.8h.6M389.8 646.0h.6M392.6 640.8h.6M413.8 633.4h.6M404.7 639.0h.6M389.8 651.1h.6M389.2 644.5h.6M392.8 641.0h.6M412.4 637.2h.6M394.5 641.4h.6M402.7 639.6h.6M389.4 648.9h.6M381.2 654.8h.6M404.6 637.2h.6M392.0 644.9h.6M385.6 643.6h.6M386.4 645.8h.6M386.6 645.3h.6M387.2 639.9h.6M378.8 651.1h.6M403.5 639.7h.6M396.1 645.5h.6M401.4 640.0h.6M389.6 642.2h.6M395.8 639.8h.6M394.2 641.9h.6M403.2 644.4h.6M400.0 639.9h.6M395.9 638.9h.6M386.8 641.3h.6M381.9 639.0h.6M385.5 643.2h.6M387.0 648.0h.6M387.8 646.1h.6M381.5 645.9h.6M407.6 634.9h.6M395.1 646.0h.6M374.5 645.3h.6M382.8 643.7h.6M380.6 649.4h.6M394.8 640.2h.6M402.2 642.6h.6M383.8 645.6h.6M398.2 642.3h.6M390.2 642.9h.6M403.0 643.8h.6M404.9 637.5h.6M395.4 649.3h.6M399.1 642.3h.6M392.6 644.8h.6M389.3 638.6h.6M382.2 644.2h.6M395.6 643.7h.6M392.0 646.1h.6M389.2 643.8h.6M392.0 645.2h.6M391.0 635.9h.6M383.4 655.0h.6M387.9 644.1h.6M402.9 648.1h.6M390.6 640.1h.6M405.2 641.8h.6M382.3 640.6h.6M380.5 648.4h.6M393.8 638.9h.6M399.6 640.1h.6M386.8 640.7h.6M398.3 641.1h.6M401.0 650.4h.6M402.3 642.4h.6M391.7 648.4h.6M392.2 639.9h.6M377.9 645.5h.6M392.9 642.8h.6M395.2 640.6h.6M405.3 638.5h.6M381.3 648.2h.6M385.1 638.6h.6M383.7 644.8h.6M400.7 641.1h.6M370.0 654.6h.6M383.0 647.9h.6M411.1 637.3h.6M398.5 641.7h.6M380.8 648.1h.6M392.1 643.2h.6M400.2 644.4h.6M397.6 641.4h.6M390.7 648.7h.6M385.6 647.9h.6M400.1 643.1h.6M392.6 640.0h.6M399.9 639.1h.6M396.2 641.6h.6M388.5 648.0h.6M405.5 640.4h.6M388.2 641.6h.6M396.5 637.5h.6M387.0 649.5h.6M390.6 645.0h.6M390.4 643.2h.6M386.8 643.5h.6M394.8 642.2h.6M404.3 637.2h.6M409.2 642.8h.6M405.5 633.8h.6M391.1 647.2h.6M405.7 638.8h.6M396.4 640.0h.6M408.7 634.2h.6M381.4 643.2h.6M405.9 636.0h.6M387.3 640.2h.6M403.0 640.3h.6M388.5 641.6h.6M400.8 635.3h.6M390.1 646.2h.6M375.9 652.6h.6M384.0 648.8h.6M390.5 638.8h.6M392.9 638.6h.6M372.7 650.0h.6M382.0 645.2h.6M386.1 643.2h.6M390.8 639.9h.6M394.6 648.6h.6M385.3 646.9h.6M379.2 647.8h.6M395.3 641.0h.6M389.7 643.5h.6M400.6 641.5h.6M388.0 643.3h.6M398.4 649.8h.6M384.7 634.9h.6M395.0 639.4h.6M393.5 639.6h.6M396.7 643.9h.6M384.4 643.9h.6M391.6 636.3h.6M385.1 639.0h.6M391.2 643.0h.6M398.2 645.4h.6M419.2 634.3h.6M393.0 643.8h.6M399.0 638.1h.6M393.7 646.8h.6M402.7 640.4h.6M396.8 640.7h.6M402.0 641.6h.6M395.8 638.3h.6M414.0 640.3h.6M404.9 643.3h.6M377.5 648.5h.6M395.3 639.2h.6M393.4 643.6h.6M373.1 650.7h.6M385.0 642.4h.6M388.6 643.3h.6M386.2 646.6h.6M393.8 642.1h.6M376.7 648.4h.6M399.3 638.8h.6M399.6 640.3h.6M395.8 644.6h.6M389.8 645.3h.6M392.7 644.2h.6M388.6 642.8h.6M402.9 638.5h.6M397.2 644.3h.6M410.4 638.2h.6M389.4 642.8h.6M405.6 635.2h.6M387.6 643.5h.6M391.2 636.7h.6M383.4 645.5h.6M397.3 638.9h.6M392.2 644.1h.6M398.2 644.5h.6M405.9 638.5h.6M392.2 641.3h.6M396.1 640.7h.6M400.7 639.9h.6M392.2 644.1h.6M387.9 647.0h.6M395.9 642.9h.6M397.2 639.9h.6M399.6 637.5h.6M400.1 651.7h.6M386.8 642.5h.6M396.7 638.0h.6M403.6 635.3h.6M388.6 642.8h.6M395.9 639.6h.6M387.2 646.0h.6M394.2 642.7h.6M408.1 636.4h.6M394.3 646.1h.6M384.2 648.0h.6M395.8 641.2h.6M394.6 646.7h.6M402.6 639.7h.6M380.6 651.5h.6M384.6 644.6h.6M392.0 642.9h.6M379.0 648.8h.6M402.8 643.0h.6M374.8 649.9h.6M385.4 652.6h.6M379.6 648.1h.6M386.9 644.2h.6M399.8 636.6h.6M398.1 642.9h.6M400.9 640.9h.6M398.1 636.5h.6M374.7 642.3h.6M395.4 643.7h.6M376.4 644.2h.6M388.3 640.2h.6M389.2 642.1h.6M387.9 647.6h.6M397.1 644.7h.6M385.6 643.0h.6M408.1 630.3h.6M398.0 641.8h.6M403.2 634.4h.6M399.4 634.4h.6M400.6 644.7h.6M392.4 645.0h.6M410.1 632.5h.6M383.4 642.3h.6M396.8 639.7h.6M392.8 642.8h.6M390.7 641.3h.6M395.5 644.1h.6M386.1 636.3h.6M400.4 644.4h.6M399.7 646.8h.6M393.6 642.0h.6M399.3 636.0h.6M383.5 647.2h.6M376.7 647.8h.6M387.6 647.8h.6M390.6 643.7h.6M414.8 639.6h.6M390.7 646.8h.6M401.9 645.1h.6M400.2 642.4h.6M411.4 630.9h.6M393.8 642.7h.6M398.5 640.4h.6M391.0 635.8h.6M385.1 647.2h.6M383.8 648.9h.6M385.8 643.1h.6M405.4 643.2h.6M395.3 640.9h.6M391.4 639.3h.6M392.9 646.4h.6M387.7 646.1h.6M392.4 637.1h.6M392.4 646.5h.6M398.5 643.4h.6M400.8 639.6h.6M378.3 648.2h.6M394.8 645.1h.6M404.9 633.7h.6M383.7 647.5h.6M390.5 642.3h.6M394.2 643.8h.6M402.5 640.7h.6M398.0 645.9h.6M390.8 640.2h.6M397.2 642.9h.6M401.9 635.7h.6M396.2 645.7h.6M409.2 639.5h.6M396.5 640.1h.6M383.5 645.2h.6M385.8 647.1h.6M391.6 643.6h.6M390.9 647.8h.6" stroke="#f21010" stroke-width="0.7" fill="none"/>
<path d="M394.8 646.5h.6M396.2 641.4h.6M410.3 622.0h.6M404.8 633.4h.6M404.3 634.8h.6M389.2 645.5h.6M400.0 639.7h.6M389.4 639.8h.6M393.1 653.0h.6M393.0 635.4h.6M405.2 638.8h.6M399.6 655.6h.6M404.2 634.9h.6M382.9 640.2h.6M402.4 636.5h.6M399.9 637.1h.6M367.6 652.1h.6M373.2 647.0h.6M394.8 633.5h.6M386.3 646.2h.6M394.0 638.0h.6M386.6 639.1h.6M412.0 636.4h.6M371.6 647.1h.6M378.0 645.1h.6M382.6 647.8h.6M377.9 631.7h.6M387.3 645.9h.6M393.8 630.7h.6M378.2 639.8h.6M398.5 651.8h.6M409.8 634.2h.6M407.2 630.4h.6M418.1 628.1h.6M407.7 641.9h.6M393.8 639.5h.6M415.4 641.1h.6M402.6 644.5h.6M416.5 635.0h.6M391.9 640.6h.6M369.2 639.6h.6M380.3 643.4h.6M396.4 633.8h.6M400.8 646.0h.6M391.8 648.8h.6M406.2 639.9h.6M380.6 634.9h.6M385.9 651.9h.6M406.0 646.6h.6M394.9 641.2h.6M395.4 633.3h.6M411.1 645.2h.6M407.3 638.1h.6M384.8 652.3h.6M396.7 631.3h.6M374.1 643.5h.6M394.2 639.3h.6M399.0 639.7h.6M373.7 649.2h.6M412.9 633.9h.6M418.1 636.9h.6M400.3 644.3h.6M405.4 644.0h.6M412.2 634.9h.6M392.3 646.5h.6M406.8 631.5h.6M399.0 652.2h.6M376.2 643.5h.6M383.7 641.3h.6M387.7 635.8h.6M407.2 638.2h.6M395.6 649.7h.6M406.2 642.6h.6M388.8 635.9h.6M379.2 647.9h.6M419.0 635.2h.6M426.9 633.7h.6M399.0 639.8h.6M392.1 643.1h.6M408.6 645.7h.6M381.3 649.0h.6M392.0 635.6h.6M377.4 637.8h.6M400.2 639.8h.6M397.4 643.1h.6M389.7 634.3h.6M386.7 644.6h.6M376.4 654.1h.6M384.6 645.0h.6M409.1 631.8h.6M390.2 632.8h.6M409.4 638.9h.6M384.1 641.1h.6M393.5 643.3h.6M389.0 635.8h.6M391.3 640.4h.6M403.6 636.3h.6M370.0 655.1h.6M403.3 639.9h.6M402.7 640.1h.6M394.5 662.9h.6M395.4 635.4h.6M391.8 641.9h.6M402.7 639.5h.6M395.1 642.9h.6M384.4 644.1h.6M396.3 638.9h.6M405.8 645.1h.6M398.9 638.7h.6M394.8 640.1h.6M396.9 640.0h.6M388.6 652.0h.6M389.0 643.6h.6M372.1 656.2h.6M392.3 639.5h.6M406.2 629.0h.6M389.8 637.2h.6M383.7 646.6h.6M405.1 640.7h.6M396.4 643.7h.6M396.1 638.3h.6M400.0 643.1h.6M402.7 641.4h.6M393.9 656.4h.6M384.6 649.4h.6M415.1 638.8h.6M395.1 644.0h.6M385.3 636.6h.6M396.6 648.5h.6M408.6 644.3h.6M377.7 642.9h.6M410.0 641.7h.6M392.8 642.5h.6M418.1 632.0h.6M402.4 638.2h.6M393.2 646.1h.6M409.3 630.4h.6M409.5 626.8h.6M390.3 648.4h.6M397.2 641.7h.6M388.4 637.3h.6M405.3 638.6h.6M377.8 652.6h.6M392.4 644.3h.6M369.3 644.3h.6M401.4 644.7h.6M368.1 648.2h.6M382.0 642.8h.6M397.6 643.9h.6M390.3 638.9h.6M389.2 638.6h.6M383.1 638.7h.6M388.9 637.1h.6M373.8 656.9h.6M398.3 634.2h.6M404.0 634.2h.6M403.5 632.0h.6M394.0 646.3h.6M408.9 630.6h.6M399.9 636.9h.6M405.8 644.2h.6M399.1 631.7h.6M394.9 645.6h.6M385.5 650.1h.6M402.1 642.1h.6M393.1 639.2h.6M417.9 634.6h.6M371.1 647.0h.6M404.4 632.7h.6M383.3 644.9h.6M394.4 635.7h.6M384.0 639.3h.6M398.6 644.7h.6M394.1 635.9h.6M404.8 633.7h.6M396.2 639.5h.6M400.1 632.3h.6M409.5 625.9h.6M400.6 634.3h.6M392.9 650.4h.6M409.1 633.4h.6M393.2 642.2h.6M399.3 640.9h.6M390.7 640.1h.6M386.7 645.5h.6M402.7 636.5h.6M380.9 645.3h.6M403.1 633.3h.6M415.7 629.0h.6M379.0 638.9h.6M404.8 633.6h.6M393.4 641.5h.6M399.9 638.3h.6M380.4 658.7h.6M394.9 649.7h.6M396.3 634.0h.6M411.3 637.3h.6M419.7 621.5h.6M398.2 628.7h.6M390.2 649.9h.6M420.6 630.3h.6M393.3 623.8h.6M393.9 645.9h.6M395.7 638.1h.6M400.0 640.4h.6M402.9 639.5h.6M387.8 644.8h.6M393.3 641.4h.6M416.7 628.9h.6M413.4 639.5h.6M399.8 636.0h.6M397.8 644.1h.6M391.9 638.6h.6M406.6 634.9h.6M388.5 647.6h.6M396.0 639.5h.6M389.2 647.1h.6M387.3 648.4h.6M395.1 633.6h.6M394.7 651.9h.6M387.8 639.7h.6M393.8 636.8h.6M395.4 644.2h.6M389.1 636.1h.6M386.9 637.9h.6M393.0 649.2h.6M402.9 634.9h.6M407.6 633.7h.6M396.8 644.6h.6M391.4 638.4h.6M394.3 636.4h.6M417.1 637.7h.6M405.4 649.4h.6M383.4 642.1h.6M394.0 645.5h.6M388.4 653.3h.6M390.3 644.6h.6M374.8 661.9h.6M395.0 642.8h.6M378.7 637.0h.6M387.7 660.5h.6M412.5 632.1h.6M406.4 642.5h.6M384.4 646.7h.6M382.5 650.4h.6M383.9 640.5h.6M372.5 648.3h.6M383.1 649.4h.6M391.5 649.8h.6M382.3 647.5h.6M403.5 630.9h.6M394.0 648.4h.6M388.4 640.4h.6M415.2 631.9h.6M403.0 650.2h.6M395.5 633.8h.6M416.4 633.8h.6M410.1 622.1h.6M386.3 633.0h.6M398.5 641.1h.6M389.5 643.5h.6M377.7 652.6h.6M417.0 641.7h.6M412.3 630.1h.6M379.7 647.3h.6M400.4 641.3h.6M375.3 648.3h.6M407.3 632.4h.6M394.0 635.3h.6M391.2 642.0h.6M409.5 637.1h.6M394.8 640.1h.6M391.6 629.2h.6M405.4 649.9h.6M391.1 649.1h.6M405.0 634.5h.6M394.7 639.9h.6M404.4 630.0h.6M402.1 630.3h.6M404.0 625.6h.6M382.8 649.7h.6M416.9 629.6h.6M392.7 642.9h.6M415.5 627.9h.6M387.6 642.0h.6M391.4 636.5h.6M391.5 646.4h.6M408.3 635.2h.6M389.6 645.6h.6M399.6 640.7h.6M376.1 649.8h.6M389.0 649.0h.6M397.3 633.1h.6M393.4 639.4h.6M372.4 641.5h.6M400.6 644.9h.6" stroke="#f21010" stroke-width="0.7" fill="none"/>
<ellipse cx="404.1" cy="620.7" rx="1.8" ry="6.2" fill="#ff1010" transform="rotate(30 404.1 620.7)" filter="url(#sb)" opacity="0.35"/>
<path d="M398.2 637.9h.6M401.6 628.1h.6M402.9 625.6h.6M405.4 619.4h.6M406.1 620.4h.6M406.5 617.5h.6M407.3 613.2h.6M405.2 616.9h.6M403.6 627.3h.6M401.3 626.8h.6M405.1 621.1h.6M402.0 628.2h.6M401.2 627.9h.6M404.8 620.8h.6M403.9 619.1h.6M405.5 615.3h.6M401.5 627.4h.6M406.4 617.3h.6M404.3 615.2h.6M402.9 618.0h.6M401.4 625.6h.6M400.5 629.0h.6M399.8 627.4h.6M407.0 610.0h.6M399.6 632.1h.6M405.0 613.5h.6M402.7 624.2h.6M401.8 622.6h.6M402.1 626.5h.6M403.1 622.7h.6M405.7 618.3h.6M404.8 619.0h.6M403.3 619.4h.6M399.8 632.9h.6M398.7 633.6h.6M408.2 609.9h.6M400.7 629.5h.6M399.2 625.7h.6M406.2 619.9h.6M399.4 623.9h.6M405.2 619.9h.6M405.7 614.1h.6M404.0 616.3h.6M405.8 615.2h.6M399.7 634.5h.6M400.1 630.4h.6M402.8 623.3h.6M403.3 620.7h.6M403.1 620.0h.6M404.5 616.4h.6M401.4 622.4h.6M397.8 637.5h.6M404.4 617.1h.6M402.7 628.6h.6M405.4 617.2h.6M408.7 613.2h.6M403.5 626.9h.6M404.8 616.3h.6M401.0 627.7h.6M405.7 614.2h.6M404.2 624.9h.6M404.0 624.4h.6M405.7 617.3h.6M400.4 630.9h.6M404.8 618.8h.6M404.5 621.5h.6M407.4 614.0h.6M398.6 636.2h.6M403.1 619.2h.6M409.0 610.4h.6M402.2 628.1h.6M402.2 623.0h.6M407.9 610.5h.6M409.8 607.1h.6M403.6 621.0h.6M401.5 627.6h.6M401.8 626.2h.6M402.3 631.0h.6M401.1 631.7h.6M401.2 630.6h.6M403.8 620.5h.6M403.4 618.6h.6M404.5 620.0h.6M403.4 623.0h.6M400.2 626.2h.6M405.2 619.1h.6M403.9 619.0h.6M401.8 624.5h.6M402.6 627.7h.6M404.1 619.6h.6M403.5 621.3h.6M403.0 626.4h.6M405.3 620.8h.6M406.1 619.8h.6M402.5 620.3h.6M403.2 616.4h.6M400.4 626.8h.6M402.9 618.9h.6M404.5 623.4h.6M405.6 613.3h.6M403.7 615.7h.6M403.1 618.2h.6M401.4 629.2h.6M403.9 618.0h.6M400.5 629.1h.6M403.6 618.5h.6M403.4 624.1h.6M400.9 627.6h.6M404.2 622.1h.6M402.7 622.2h.6M404.9 619.1h.6M402.0 622.0h.6M404.6 617.2h.6M407.4 612.0h.6M403.8 621.4h.6M405.3 618.6h.6M401.6 626.1h.6M402.4 622.3h.6M398.4 633.0h.6M402.9 622.4h.6M400.4 629.1h.6M403.6 621.9h.6M397.9 636.3h.6M401.1 632.8h.6M403.5 620.2h.6M404.3 618.5h.6M399.0 634.8h.6M402.2 619.3h.6M409.9 610.8h.6M405.3 614.9h.6M403.7 620.7h.6M396.1 637.5h.6M400.9 624.5h.6M404.6 616.7h.6M403.9 620.9h.6M404.5 622.8h.6M405.8 620.3h.6M403.5 621.3h.6M405.5 612.9h.6M398.6 630.3h.6M409.8 607.9h.6M402.5 623.2h.6M401.6 624.2h.6M407.2 608.7h.6M404.9 621.0h.6M405.8 614.6h.6M401.7 625.2h.6M404.0 622.9h.6M405.1 621.2h.6M400.3 625.4h.6M402.7 622.7h.6M402.7 624.4h.6M402.5 623.8h.6M401.5 623.7h.6M400.0 629.5h.6M404.4 615.3h.6M403.9 621.7h.6M406.3 617.9h.6M403.1 623.1h.6M401.5 629.0h.6M399.5 631.8h.6M403.5 618.4h.6M402.5 619.3h.6M408.5 608.9h.6M409.2 608.5h.6M407.4 615.8h.6M400.9 630.6h.6M399.7 629.5h.6M402.7 623.3h.6M401.0 629.3h.6M407.0 615.4h.6M403.6 617.2h.6M402.2 621.9h.6M403.2 622.3h.6M406.5 614.4h.6M400.8 624.2h.6M404.5 618.5h.6M399.8 629.4h.6M402.7 628.1h.6M401.6 631.1h.6M404.1 626.1h.6M403.7 628.0h.6M406.4 615.5h.6M405.1 617.5h.6M401.7 628.4h.6M399.8 628.9h.6M401.2 625.9h.6M402.2 625.1h.6M402.7 628.0h.6M401.3 622.7h.6M406.1 612.2h.6M405.7 618.6h.6M402.6 618.4h.6M402.0 625.2h.6M402.7 626.1h.6M403.2 623.9h.6M403.2 627.9h.6M399.1 632.9h.6M402.2 629.5h.6M398.4 630.1h.6M403.4 621.3h.6M405.0 622.5h.6M400.5 627.0h.6M403.7 626.4h.6M401.7 625.5h.6M401.5 625.1h.6M408.4 610.8h.6M405.6 620.5h.6M404.5 619.9h.6M402.1 625.5h.6M404.3 619.9h.6M402.8 619.3h.6M404.4 614.9h.6M400.9 623.1h.6M403.1 624.7h.6M402.2 626.9h.6M399.6 630.6h.6M407.7 611.3h.6M405.4 623.6h.6M401.2 628.8h.6" stroke="#f21010" stroke-width="0.7" fill="none"/>
<path d="M444.2 608.5h.6M422.8 609.2h.6M426.3 601.0h.6M426.5 606.9h.6M435.0 596.1h.6M431.1 618.2h.6M429.2 608.2h.6M420.8 608.1h.6M435.8 603.1h.6M431.5 599.0h.6M426.8 606.2h.6M431.7 609.2h.6M437.1 600.5h.6M421.1 599.4h.6M420.6 617.3h.6M424.3 603.2h.6M425.3 604.3h.6M410.0 611.1h.6M427.3 607.4h.6M439.4 602.6h.6M429.2 605.0h.6M438.7 605.0h.6M411.2 612.4h.6M430.7 603.7h.6M441.3 606.5h.6M442.6 603.1h.6M428.0 607.8h.6M425.7 604.7h.6M434.2 601.3h.6M422.9 604.9h.6M428.9 602.3h.6M419.7 612.3h.6M432.1 602.8h.6M431.5 603.6h.6M443.0 606.1h.6M434.0 605.2h.6M426.8 617.5h.6M430.9 604.6h.6M422.4 607.8h.6M431.8 614.6h.6M430.0 602.8h.6M434.5 607.2h.6M438.1 602.8h.6M417.4 607.7h.6M433.8 602.5h.6M436.7 603.8h.6M423.0 607.2h.6M445.0 601.0h.6M426.4 601.9h.6M448.9 612.5h.6M437.1 604.1h.6M438.4 606.6h.6M433.4 609.4h.6M438.7 598.3h.6M424.2 601.6h.6M425.8 610.0h.6M417.6 611.4h.6M435.3 600.8h.6M426.5 608.2h.6M436.8 605.6h.6M435.7 612.9h.6M422.0 606.6h.6M436.5 599.3h.6M433.3 606.6h.6M432.9 605.2h.6M434.8 596.9h.6M431.3 601.1h.6M431.6 598.7h.6M439.0 601.2h.6M424.5 600.6h.6" stroke="#f21010" stroke-width="0.7" fill="none"/>
<path d="M404.4 649.5h.6M411.8 634.5h.6M404.5 650.8h.6M438.7 633.7h.6M420.7 628.5h.6M418.0 632.7h.6M412.4 636.7h.6M410.1 639.7h.6M394.3 634.5h.6M438.9 613.1h.6M418.3 640.1h.6M419.6 643.4h.6M406.7 651.9h.6M418.5 617.1h.6M422.4 644.2h.6M418.4 650.4h.6M424.5 630.7h.6M411.7 627.2h.6M421.9 648.1h.6M427.0 634.0h.6M424.0 649.4h.6M422.5 642.0h.6M418.2 618.4h.6M410.4 637.3h.6M424.0 636.7h.6M415.6 636.3h.6M410.7 635.9h.6M425.8 634.2h.6M404.9 654.2h.6M414.1 650.5h.6M425.9 611.2h.6M427.4 640.8h.6M415.8 624.0h.6M419.6 643.3h.6M423.9 619.7h.6M418.5 628.4h.6M412.3 640.7h.6M422.9 612.4h.6M420.5 645.3h.6M420.0 637.9h.6M428.9 641.2h.6M421.8 643.1h.6M415.0 641.3h.6M420.5 645.6h.6M436.2 632.6h.6M412.7 621.1h.6M416.7 655.6h.6M412.0 652.2h.6M422.2 644.9h.6M407.9 645.2h.6M423.0 623.2h.6M425.8 625.3h.6M412.2 633.2h.6M411.6 636.5h.6M405.9 614.8h.6M419.5 647.9h.6M409.2 652.1h.6M413.6 638.2h.6M415.4 635.0h.6M413.0 640.7h.6M426.4 642.0h.6M433.2 644.5h.6M400.3 646.1h.6M411.9 646.2h.6M421.3 640.1h.6M409.8 651.1h.6M414.3 623.0h.6M420.9 630.1h.6M431.4 610.8h.6M429.5 637.3h.6M416.5 636.1h.6M420.2 638.0h.6M415.9 636.8h.6M417.5 639.1h.6M408.7 641.6h.6M403.5 663.3h.6M415.8 640.0h.6M427.7 624.9h.6M425.8 654.3h.6M402.6 645.9h.6M417.4 630.2h.6M413.5 624.1h.6M421.6 635.7h.6M409.4 634.6h.6M427.2 613.6h.6M417.3 622.4h.6M424.2 638.7h.6M426.8 639.3h.6M402.0 631.4h.6M417.2 634.1h.6M432.5 636.4h.6M419.3 638.2h.6M428.3 628.7h.6M422.8 636.5h.6M414.7 640.2h.6M421.6 637.3h.6M428.4 648.3h.6M430.5 612.4h.6M431.9 617.5h.6M409.3 623.1h.6M426.4 634.3h.6M407.0 639.1h.6M418.0 629.9h.6M417.3 627.5h.6M424.6 653.4h.6M421.9 630.8h.6M430.1 642.3h.6M413.7 638.6h.6M426.5 640.0h.6M422.6 615.9h.6M419.1 629.9h.6M408.5 640.2h.6M424.1 618.6h.6M421.9 635.4h.6M426.1 640.9h.6M418.8 637.9h.6M416.9 640.6h.6M422.5 633.9h.6M423.2 625.0h.6M425.2 634.6h.6M435.8 629.9h.6M413.7 626.9h.6M436.8 625.7h.6M393.0 635.6h.6M427.6 631.0h.6M411.9 652.7h.6M436.8 641.0h.6M411.3 656.8h.6M428.5 619.7h.6M410.4 634.6h.6M409.1 644.8h.6M426.2 643.7h.6M426.8 628.8h.6M413.0 639.6h.6M440.3 624.0h.6M416.3 646.0h.6M432.9 642.4h.6M410.2 622.2h.6M410.6 649.4h.6M419.9 635.7h.6M410.2 624.7h.6M423.1 654.0h.6M400.2 635.5h.6M420.7 634.4h.6M414.2 639.2h.6M410.7 636.1h.6M421.0 647.9h.6M417.2 660.6h.6M415.2 616.8h.6M426.3 636.0h.6M421.7 625.1h.6M422.5 622.4h.6M430.8 628.0h.6M418.5 631.0h.6M426.5 625.1h.6M415.4 620.1h.6M424.5 628.3h.6M423.8 620.2h.6M414.3 640.7h.6M405.8 645.5h.6M407.9 639.2h.6M410.8 634.6h.6M424.0 628.0h.6M417.9 615.1h.6M416.5 627.6h.6M423.3 633.4h.6M425.5 611.7h.6M431.4 627.4h.6M413.9 633.9h.6M424.0 628.5h.6M425.3 636.9h.6M410.8 650.8h.6M420.2 633.8h.6M411.1 642.2h.6M417.1 645.8h.6M422.8 633.0h.6M404.2 643.7h.6M411.5 645.1h.6M412.0 657.7h.6M419.9 637.2h.6" stroke="#f21010" stroke-width="0.7" fill="none"/>
</g>
<rect x="364.40" y="587.20" width="88.30" height="88.20" fill="none" stroke="#777" stroke-width="0.8" />
<line x1="412.5" y1="587.2" x2="412.5" y2="675.4" stroke="#888" stroke-width="0.8"/>
<line x1="364.4" y1="617.3" x2="452.7" y2="617.3" stroke="#555" stroke-width="0.8"/>
<text x="366.9" y="595.8" font-size="9.0" text-anchor="start" fill="#231f20" >0.25%</text>
<text x="452.1" y="595.8" font-size="9.0" text-anchor="end" fill="#231f20" >1.31%</text>
<text x="366.9" y="672.8" font-size="9.0" text-anchor="start" fill="#231f20" >96.03</text>
<text x="452.1" y="672.8" font-size="9.0" text-anchor="end" fill="#231f20" >2.41%</text>
<path d="M362.4 675.4h2.0M363.4 671.0h1.0M363.4 668.4h1.0M363.4 666.5h1.0M363.4 665.1h1.0M363.4 664.0h1.0M363.4 663.0h1.0M363.4 662.1h1.0M363.4 661.4h1.0M362.4 660.7h2.0M363.4 656.3h1.0M363.4 653.7h1.0M363.4 651.8h1.0M363.4 650.4h1.0M363.4 649.3h1.0M363.4 648.3h1.0M363.4 647.4h1.0M363.4 646.7h1.0M362.4 646.0h2.0M363.4 641.6h1.0M363.4 639.0h1.0M363.4 637.1h1.0M363.4 635.7h1.0M363.4 634.6h1.0M363.4 633.6h1.0M363.4 632.7h1.0M363.4 632.0h1.0M362.4 631.3h2.0M363.4 626.9h1.0M363.4 624.3h1.0M363.4 622.4h1.0M363.4 621.0h1.0M363.4 619.9h1.0M363.4 618.9h1.0M363.4 618.0h1.0M363.4 617.3h1.0M362.4 616.6h2.0M363.4 612.2h1.0M363.4 609.6h1.0M363.4 607.7h1.0M363.4 606.3h1.0M363.4 605.2h1.0M363.4 604.2h1.0M363.4 603.3h1.0M363.4 602.6h1.0M362.4 601.9h2.0M363.4 597.5h1.0M363.4 594.9h1.0M363.4 593.0h1.0M363.4 591.6h1.0M363.4 590.5h1.0M363.4 589.5h1.0M363.4 588.6h1.0M363.4 587.9h1.0M364.4 675.4v2.0M369.7 675.4v1.0M372.8 675.4v1.0M375.0 675.4v1.0M376.7 675.4v1.0M378.1 675.4v1.0M379.3 675.4v1.0M380.3 675.4v1.0M381.3 675.4v1.0M382.1 675.4v2.0M387.4 675.4v1.0M390.5 675.4v1.0M392.7 675.4v1.0M394.4 675.4v1.0M395.8 675.4v1.0M397.0 675.4v1.0M398.0 675.4v1.0M398.9 675.4v1.0M399.7 675.4v2.0M405.0 675.4v1.0M408.1 675.4v1.0M410.4 675.4v1.0M412.1 675.4v1.0M413.5 675.4v1.0M414.6 675.4v1.0M415.7 675.4v1.0M416.6 675.4v1.0M417.4 675.4v2.0M422.7 675.4v1.0M425.8 675.4v1.0M428.0 675.4v1.0M429.7 675.4v1.0M431.1 675.4v1.0M432.3 675.4v1.0M433.3 675.4v1.0M434.2 675.4v1.0M435.0 675.4v2.0M440.4 675.4v1.0M443.5 675.4v1.0M445.7 675.4v1.0M447.4 675.4v1.0M448.8 675.4v1.0M450.0 675.4v1.0M451.0 675.4v1.0M451.9 675.4v1.0" stroke="#777" stroke-width="0.4" fill="none"/>
<text x="364.4" y="682.0" class="t" font-size="4.2" text-anchor="middle" fill="#555">10<tspan dy="-1.5" font-size="2.8">2</tspan></text>
<text x="382.1" y="682.0" class="t" font-size="4.2" text-anchor="middle" fill="#555">10<tspan dy="-1.5" font-size="2.8">3</tspan></text>
<text x="399.7" y="682.0" class="t" font-size="4.2" text-anchor="middle" fill="#555">10<tspan dy="-1.5" font-size="2.8">4</tspan></text>
<text x="417.4" y="682.0" class="t" font-size="4.2" text-anchor="middle" fill="#555">10<tspan dy="-1.5" font-size="2.8">5</tspan></text>
<text x="435.0" y="682.0" class="t" font-size="4.2" text-anchor="middle" fill="#555">10<tspan dy="-1.5" font-size="2.8">6</tspan></text>
<text x="452.7" y="682.0" class="t" font-size="4.2" text-anchor="middle" fill="#555">10<tspan dy="-1.5" font-size="2.8">7</tspan></text>
<text transform="translate(360.2,675.4) rotate(-90)" class="t" font-size="4.2" text-anchor="middle" fill="#555">10<tspan dy="-1.5" font-size="2.8">1</tspan></text>
<text transform="translate(360.2,660.7) rotate(-90)" class="t" font-size="4.2" text-anchor="middle" fill="#555">10<tspan dy="-1.5" font-size="2.8">2</tspan></text>
<text transform="translate(360.2,646.0) rotate(-90)" class="t" font-size="4.2" text-anchor="middle" fill="#555">10<tspan dy="-1.5" font-size="2.8">3</tspan></text>
<text transform="translate(360.2,631.3) rotate(-90)" class="t" font-size="4.2" text-anchor="middle" fill="#555">10<tspan dy="-1.5" font-size="2.8">4</tspan></text>
<text transform="translate(360.2,616.6) rotate(-90)" class="t" font-size="4.2" text-anchor="middle" fill="#555">10<tspan dy="-1.5" font-size="2.8">5</tspan></text>
<text transform="translate(360.2,601.9) rotate(-90)" class="t" font-size="4.2" text-anchor="middle" fill="#555">10<tspan dy="-1.5" font-size="2.8">6</tspan></text>
<text transform="translate(360.2,587.2) rotate(-90)" class="t" font-size="4.2" text-anchor="middle" fill="#555">10<tspan dy="-1.5" font-size="2.8">7</tspan></text>
<g clip-path="url(#fc4)">
<ellipse cx="502.5" cy="641.9" rx="11.0" ry="4.6" fill="#ff1010" transform="rotate(-27 502.5 641.9)" filter="url(#sb)" opacity="1.0"/>
<path d="M517.8 635.9h.6M510.3 637.2h.6M511.9 635.5h.6M502.4 641.5h.6M511.7 638.1h.6M496.7 652.2h.6M498.6 638.7h.6M507.0 646.0h.6M490.2 645.7h.6M503.0 632.7h.6M505.2 642.2h.6M517.2 643.0h.6M496.5 638.0h.6M506.2 642.7h.6M496.9 644.1h.6M497.8 643.8h.6M479.1 646.3h.6M494.4 641.5h.6M512.5 639.3h.6M507.0 636.5h.6M503.9 644.6h.6M524.0 633.0h.6M507.2 642.6h.6M491.8 642.6h.6M500.8 644.7h.6M502.0 643.5h.6M516.5 632.4h.6M494.7 648.2h.6M506.2 644.9h.6M511.0 637.3h.6M495.5 644.9h.6M503.3 643.1h.6M485.1 647.6h.6M503.4 634.1h.6M483.4 651.3h.6M499.2 643.8h.6M517.5 636.8h.6M506.1 644.1h.6M503.0 641.8h.6M503.9 639.7h.6M521.3 639.4h.6M507.4 636.5h.6M511.6 643.2h.6M498.8 643.5h.6M498.8 641.8h.6M493.5 633.3h.6M501.0 648.5h.6M496.5 642.7h.6M511.1 630.4h.6M508.1 642.3h.6M501.5 638.3h.6M497.8 642.5h.6M477.5 654.5h.6M497.4 642.0h.6M505.2 644.2h.6M508.3 639.8h.6M475.8 655.2h.6M481.7 645.6h.6M503.9 650.0h.6M493.6 645.2h.6M500.7 637.9h.6M498.5 641.3h.6M507.7 641.6h.6M486.4 647.5h.6M497.6 644.9h.6M510.7 629.8h.6M504.4 641.5h.6M495.4 644.1h.6M506.5 643.3h.6M505.0 642.8h.6M494.9 642.0h.6M508.6 642.2h.6M508.4 642.9h.6M501.4 644.2h.6M510.7 640.6h.6M492.4 644.3h.6M509.2 641.6h.6M500.9 643.0h.6M494.4 647.0h.6M497.4 639.1h.6M512.7 638.5h.6M497.7 644.4h.6M499.6 641.8h.6M496.9 643.7h.6M495.7 649.5h.6M510.9 640.0h.6M521.8 630.3h.6M514.2 636.6h.6M507.0 636.4h.6M509.1 642.3h.6M499.6 648.0h.6M498.3 645.6h.6M492.4 640.2h.6M515.1 641.6h.6M499.6 645.6h.6M496.4 639.8h.6M497.0 644.4h.6M504.2 642.1h.6M497.8 642.0h.6M502.7 641.5h.6M504.0 642.5h.6M514.2 637.5h.6M491.8 647.6h.6M505.1 641.2h.6M496.5 641.4h.6M498.9 646.7h.6M516.6 638.4h.6M508.0 644.3h.6M499.2 640.2h.6M506.8 638.4h.6M502.4 638.6h.6M512.2 635.3h.6M498.4 639.5h.6M506.8 638.1h.6M500.8 645.1h.6M502.7 638.5h.6M501.3 645.5h.6M497.2 635.3h.6M503.5 640.6h.6M511.1 637.2h.6M497.3 647.8h.6M499.2 639.1h.6M505.8 636.8h.6M496.1 649.4h.6M510.1 641.6h.6M508.7 641.7h.6M482.7 650.1h.6M496.9 638.7h.6M493.2 637.0h.6M509.8 643.5h.6M510.7 635.7h.6M492.2 645.9h.6M496.7 638.8h.6M501.9 650.7h.6M499.4 644.4h.6M508.8 635.7h.6M511.1 642.0h.6M507.7 636.1h.6M512.1 640.8h.6M510.7 635.4h.6M502.0 640.0h.6M498.8 644.5h.6M496.2 646.5h.6M509.7 640.3h.6M510.3 635.4h.6M511.4 639.2h.6M499.8 645.1h.6M499.2 631.2h.6M504.9 646.7h.6M513.5 639.4h.6M505.7 639.0h.6M504.6 645.0h.6M495.5 644.1h.6M506.5 642.2h.6M507.3 645.7h.6M494.4 642.7h.6M517.8 641.3h.6M494.7 646.9h.6M510.7 635.1h.6M500.9 646.3h.6M504.0 639.3h.6M495.8 639.7h.6M497.7 639.8h.6M508.7 638.4h.6M500.9 643.2h.6M499.7 647.7h.6M510.3 639.0h.6M508.8 638.4h.6M504.1 643.2h.6M504.6 644.7h.6M517.5 634.3h.6M501.2 646.0h.6M506.0 639.3h.6M506.3 642.5h.6M490.5 651.5h.6M485.9 641.2h.6M503.7 639.4h.6M510.1 637.7h.6M504.4 646.4h.6M498.0 643.7h.6M497.0 642.6h.6M509.7 642.4h.6M500.1 636.8h.6M488.7 653.2h.6M508.5 637.6h.6M504.7 648.0h.6M505.9 646.5h.6M511.6 643.7h.6M514.1 636.5h.6M507.5 643.0h.6M501.1 644.8h.6M484.4 650.7h.6M505.2 646.4h.6M501.4 645.5h.6M514.0 642.0h.6M513.7 639.8h.6M506.8 642.1h.6M514.5 646.9h.6M502.0 644.5h.6M502.3 637.8h.6M495.3 645.9h.6M500.0 643.1h.6M504.5 644.0h.6M511.8 641.7h.6M496.3 644.2h.6M509.6 644.8h.6M522.9 636.6h.6M491.0 651.5h.6M500.4 641.6h.6M502.8 647.6h.6M511.3 637.2h.6M519.8 633.4h.6M513.3 644.6h.6M502.3 639.8h.6M495.3 645.8h.6M502.1 638.2h.6M502.3 644.1h.6M504.7 642.5h.6M494.9 645.5h.6M515.8 633.8h.6M496.4 650.9h.6M508.5 637.7h.6M504.5 641.3h.6M493.2 646.8h.6M503.2 642.9h.6M502.8 638.8h.6M501.0 639.8h.6M509.6 634.1h.6M498.5 645.7h.6M524.6 642.2h.6M512.4 641.2h.6M494.7 645.3h.6M481.1 650.3h.6M513.5 634.6h.6M504.8 633.5h.6M503.3 640.7h.6M494.2 651.1h.6M490.1 642.3h.6M486.5 649.4h.6M524.8 635.4h.6M516.5 635.1h.6M497.8 642.4h.6M518.9 637.6h.6M486.5 646.1h.6M508.7 637.7h.6M508.7 638.2h.6M495.1 637.2h.6M498.6 654.0h.6M493.5 647.7h.6M503.0 644.2h.6M514.0 635.9h.6M511.2 638.9h.6M506.2 638.1h.6M512.3 644.4h.6M487.1 647.7h.6M520.1 634.7h.6M502.1 642.6h.6M491.1 647.1h.6M499.2 642.3h.6M496.9 638.1h.6M503.4 649.4h.6M505.3 635.8h.6M482.3 647.4h.6M513.5 642.0h.6M517.6 635.4h.6M493.5 644.8h.6M515.4 634.1h.6M513.5 641.8h.6M511.4 636.2h.6M516.8 641.2h.6M490.4 644.8h.6M508.9 637.9h.6M493.7 645.2h.6M523.2 633.8h.6M494.1 646.9h.6M491.9 641.7h.6M512.3 641.1h.6M508.0 643.1h.6M502.8 642.6h.6M503.7 642.1h.6M507.9 643.6h.6M517.6 634.9h.6M496.3 644.6h.6M497.7 641.6h.6M497.5 649.0h.6M501.9 647.1h.6M502.6 643.2h.6M491.3 649.1h.6M505.2 641.9h.6M491.5 643.6h.6M499.8 639.1h.6M500.4 637.7h.6M500.4 640.1h.6M515.5 640.8h.6M516.9 636.0h.6M512.0 641.3h.6M516.4 636.2h.6M500.0 646.7h.6M514.9 633.8h.6M502.1 640.9h.6M504.5 642.7h.6M504.9 646.3h.6M490.8 644.8h.6M497.2 645.7h.6M501.1 641.8h.6M505.7 643.8h.6M501.4 644.5h.6M495.1 642.3h.6M492.4 640.1h.6M502.6 646.7h.6M492.2 646.1h.6M492.2 644.0h.6M501.6 643.1h.6M504.1 643.3h.6M495.2 636.8h.6M486.9 649.9h.6M505.0 640.2h.6M509.7 641.8h.6M498.9 643.7h.6M499.2 651.3h.6M482.1 645.3h.6M510.4 640.6h.6M492.9 648.5h.6M508.8 634.5h.6M497.3 644.8h.6M501.3 644.8h.6M500.9 645.7h.6M486.7 643.2h.6M526.7 634.9h.6M488.8 647.5h.6M503.5 646.6h.6M495.4 647.6h.6M500.4 641.6h.6M514.6 638.7h.6M486.2 654.3h.6M501.3 645.7h.6M506.8 640.1h.6M503.6 632.5h.6M506.0 643.8h.6M495.9 652.1h.6M488.1 643.9h.6M491.0 647.4h.6M498.9 648.0h.6M509.0 638.3h.6M503.2 642.8h.6M516.6 641.4h.6M503.4 646.6h.6M504.2 642.2h.6M504.3 641.4h.6M487.3 653.1h.6M507.6 637.2h.6M492.8 649.7h.6M499.2 638.3h.6M523.1 634.9h.6M491.7 646.2h.6M503.6 640.7h.6M505.1 643.6h.6M503.7 642.1h.6M502.6 636.4h.6M497.6 645.7h.6M520.0 634.1h.6M484.9 650.7h.6M493.5 645.0h.6M515.5 634.9h.6M507.3 645.0h.6M495.8 643.1h.6M494.6 652.2h.6M500.3 646.9h.6M525.7 636.7h.6M506.9 637.8h.6M493.5 642.4h.6M504.6 644.8h.6M497.0 644.4h.6M515.7 637.6h.6M505.1 647.0h.6M513.6 637.4h.6M503.9 637.0h.6M520.4 632.5h.6M506.1 643.2h.6M505.0 642.9h.6M493.6 648.2h.6M498.8 645.1h.6M505.9 642.1h.6M498.2 641.1h.6M524.4 635.4h.6M502.4 645.5h.6M495.8 641.4h.6M511.2 636.5h.6M497.9 645.8h.6M506.1 642.0h.6M501.7 642.8h.6M496.2 649.9h.6M514.7 638.1h.6M503.3 639.6h.6M512.1 632.5h.6M499.5 642.5h.6M490.0 647.0h.6M491.6 646.0h.6M498.0 641.4h.6M500.9 639.9h.6M503.0 645.1h.6M507.0 640.2h.6M491.6 643.2h.6M504.5 648.7h.6M491.8 640.6h.6M496.5 644.8h.6M525.0 632.4h.6M513.7 639.0h.6M499.3 644.1h.6M518.3 637.7h.6M515.0 637.5h.6M510.3 636.8h.6M515.4 639.3h.6M500.3 646.8h.6M501.4 645.0h.6M495.0 647.9h.6M507.6 638.0h.6M491.5 648.9h.6M498.1 638.2h.6M506.5 640.5h.6M498.1 643.9h.6M505.6 636.7h.6M518.5 638.7h.6M493.9 645.9h.6M514.8 635.7h.6M496.5 641.4h.6M494.3 648.2h.6M504.5 632.9h.6M511.5 637.5h.6M496.3 648.5h.6M496.1 644.7h.6M498.7 640.1h.6M496.2 643.3h.6M504.2 638.7h.6M496.3 635.7h.6M500.3 639.6h.6M505.6 634.2h.6M498.9 640.9h.6M512.7 641.5h.6M496.6 638.6h.6M495.7 646.7h.6M520.4 633.4h.6M515.7 635.9h.6M503.1 645.0h.6M509.8 642.4h.6M505.5 641.9h.6M498.0 642.1h.6M508.5 635.6h.6M505.2 641.1h.6M513.8 632.0h.6M486.3 643.9h.6M509.6 642.2h.6M504.0 643.8h.6M496.5 643.6h.6M498.8 645.1h.6M499.0 643.5h.6M490.9 642.8h.6M497.5 642.7h.6M509.4 636.5h.6M489.2 648.5h.6M499.2 646.1h.6M481.8 653.2h.6M497.5 649.9h.6M506.0 642.6h.6M502.1 641.9h.6M502.9 642.6h.6M492.7 645.0h.6M507.5 633.3h.6M494.6 648.3h.6M510.5 640.6h.6M504.4 643.2h.6M499.1 646.2h.6M515.6 633.3h.6M499.1 643.2h.6M511.5 634.9h.6M503.4 645.7h.6M502.5 635.4h.6M511.3 631.4h.6M506.4 643.9h.6M502.5 642.0h.6M501.5 642.8h.6M504.4 639.5h.6M503.3 646.3h.6M499.7 641.2h.6M493.4 642.2h.6M479.8 650.9h.6M501.5 650.3h.6M500.4 645.0h.6M513.2 640.2h.6M506.5 638.1h.6M512.5 641.1h.6M517.8 641.4h.6M501.6 640.1h.6M495.1 642.9h.6M509.7 637.2h.6M497.3 643.4h.6M500.3 638.9h.6M515.2 636.3h.6M507.4 646.8h.6M512.2 638.4h.6M490.7 642.8h.6M502.8 641.7h.6M512.4 633.8h.6M491.3 646.9h.6M504.3 639.0h.6M506.1 645.2h.6M482.3 648.0h.6M516.6 639.7h.6M496.3 647.4h.6M501.3 646.9h.6M517.3 636.7h.6M486.8 645.2h.6M506.6 643.0h.6M498.6 647.5h.6M502.9 644.9h.6M495.3 641.4h.6M514.5 642.6h.6M492.7 640.9h.6M505.7 646.9h.6M507.3 639.5h.6M501.7 639.8h.6M500.1 638.4h.6M500.2 644.1h.6M511.5 641.9h.6M506.5 645.8h.6M501.8 638.9h.6M493.0 645.3h.6M503.9 643.1h.6M507.2 642.0h.6M502.3 641.1h.6M515.2 638.0h.6M485.8 642.8h.6M524.4 642.9h.6M500.9 639.4h.6M492.5 646.8h.6M487.2 646.8h.6M510.2 640.7h.6M507.6 640.7h.6M500.6 639.8h.6M502.1 641.3h.6M504.0 646.6h.6M498.8 643.3h.6M512.7 639.2h.6M508.1 638.9h.6M501.5 642.1h.6M488.2 646.5h.6M514.6 634.7h.6M498.4 647.0h.6M493.5 637.0h.6M513.9 640.5h.6M506.9 644.2h.6M484.9 644.5h.6M488.0 642.5h.6M499.1 638.5h.6M491.5 640.1h.6M501.2 640.6h.6M525.5 634.7h.6M528.7 632.7h.6M502.2 642.0h.6M509.6 641.7h.6M510.4 633.9h.6M501.5 635.8h.6M489.6 645.8h.6M512.0 639.8h.6M501.0 644.1h.6M506.6 646.6h.6M508.8 642.4h.6M495.5 645.8h.6M517.4 637.5h.6M503.3 645.2h.6M504.6 648.0h.6M498.8 640.7h.6M508.8 633.9h.6M511.5 646.7h.6M497.7 643.8h.6M507.7 637.3h.6M498.8 647.1h.6M491.8 650.2h.6M499.7 642.6h.6M508.0 641.1h.6M507.5 642.6h.6M512.1 633.2h.6M496.7 638.3h.6M499.9 640.3h.6M503.2 641.9h.6M508.1 641.3h.6M501.6 639.0h.6M494.3 645.2h.6M489.0 640.7h.6M513.0 634.3h.6M512.0 641.1h.6M496.8 640.9h.6M515.6 632.3h.6M502.1 639.6h.6M506.6 643.9h.6M513.7 639.4h.6M498.4 644.2h.6M495.8 643.4h.6M487.3 646.3h.6M505.3 642.2h.6M506.6 637.5h.6M510.2 634.7h.6M508.0 642.1h.6M503.6 646.7h.6M512.8 637.4h.6M493.6 644.4h.6M506.1 639.2h.6M507.2 642.7h.6M501.6 641.0h.6M517.9 640.3h.6M506.5 636.7h.6M514.5 632.2h.6M510.6 642.6h.6M501.1 651.3h.6M519.7 638.2h.6M512.4 640.6h.6M502.8 640.9h.6M501.6 641.9h.6M493.5 642.6h.6M501.3 632.5h.6M500.6 644.2h.6M504.5 642.4h.6M498.9 641.2h.6M507.7 646.6h.6M501.9 639.0h.6M488.7 648.0h.6M498.2 648.0h.6M494.7 647.0h.6M491.4 643.2h.6M500.4 639.3h.6M510.7 634.8h.6M492.8 643.0h.6M485.0 649.4h.6M501.2 640.0h.6M529.0 633.9h.6M497.5 634.9h.6M505.1 648.1h.6M499.0 637.0h.6M510.2 636.5h.6M515.4 636.3h.6M501.3 642.3h.6M513.1 640.4h.6M493.1 647.8h.6M504.5 646.5h.6M491.5 637.7h.6M504.3 637.7h.6M497.3 640.8h.6M504.8 639.6h.6M492.8 651.2h.6M504.7 641.9h.6M503.7 640.8h.6M497.7 638.9h.6M495.6 647.2h.6M492.3 643.7h.6M499.2 643.4h.6M506.2 640.3h.6M501.5 644.6h.6M504.1 639.8h.6M513.9 637.8h.6M499.9 648.9h.6M505.3 636.4h.6M510.0 631.5h.6M507.3 643.2h.6M506.1 636.4h.6M503.4 644.7h.6M519.7 638.2h.6M502.1 635.4h.6M499.3 641.8h.6M507.9 634.5h.6M517.1 636.0h.6M515.2 634.1h.6M503.0 641.9h.6M510.1 634.1h.6M507.1 633.8h.6M503.4 638.8h.6M508.5 641.7h.6M508.2 641.1h.6M504.0 644.3h.6M517.9 634.7h.6M499.4 640.5h.6M515.0 640.1h.6M521.2 632.6h.6M521.4 637.8h.6M505.2 634.2h.6M501.1 638.9h.6M488.7 640.0h.6M502.2 644.0h.6M524.3 638.4h.6M488.9 652.0h.6M489.1 643.2h.6M510.1 643.1h.6M508.2 635.0h.6M486.7 645.7h.6M502.2 638.8h.6M505.7 645.0h.6M489.4 647.5h.6M511.2 638.1h.6M491.1 642.3h.6M512.7 642.9h.6M504.5 639.6h.6M496.6 646.1h.6M488.6 642.7h.6M499.7 643.0h.6M501.9 642.6h.6M501.6 640.1h.6M497.5 638.8h.6M500.9 642.7h.6M510.4 634.7h.6M494.7 647.3h.6M500.9 640.9h.6M506.8 644.0h.6M502.5 640.6h.6M510.3 642.2h.6M516.4 637.1h.6M499.6 640.1h.6M504.6 644.2h.6M476.9 655.3h.6M499.7 642.9h.6M508.6 637.7h.6M492.9 643.5h.6M514.4 641.0h.6M486.1 643.4h.6M514.6 638.8h.6M498.2 640.0h.6M493.7 647.2h.6M498.4 641.1h.6M500.4 637.9h.6M493.8 646.4h.6M490.5 646.0h.6M498.1 640.6h.6M511.0 637.0h.6M506.3 639.0h.6M514.5 638.2h.6M497.3 648.5h.6M499.6 642.3h.6M499.7 646.8h.6M503.9 640.7h.6M506.7 648.4h.6M518.2 631.7h.6M508.9 632.8h.6M504.1 639.4h.6M514.6 640.8h.6M495.8 644.5h.6M491.1 641.8h.6M508.5 637.3h.6M504.1 643.4h.6M503.7 636.9h.6M510.9 636.4h.6M499.7 640.4h.6M501.7 642.9h.6" stroke="#f21010" stroke-width="0.7" fill="none"/>
<path d="M505.8 642.2h.6M497.1 635.0h.6M508.1 642.8h.6M497.7 650.5h.6M520.1 644.5h.6M506.3 631.5h.6M508.3 633.9h.6M509.8 642.8h.6M509.7 631.4h.6M488.4 646.2h.6M521.4 634.9h.6M506.9 647.8h.6M499.1 644.9h.6M493.9 642.7h.6M497.4 640.9h.6M498.3 645.3h.6M505.9 633.3h.6M495.2 634.2h.6M507.1 643.8h.6M507.5 636.3h.6M497.3 651.4h.6M532.6 627.8h.6M504.3 645.7h.6M509.8 638.9h.6M507.0 637.9h.6M503.7 641.5h.6M513.9 630.3h.6M522.4 638.4h.6M504.8 642.5h.6M495.2 640.9h.6M512.3 637.3h.6M479.4 646.6h.6M507.5 640.0h.6M503.3 645.0h.6M509.5 634.0h.6M487.2 645.1h.6M500.2 635.7h.6M493.0 635.5h.6M498.9 643.7h.6M512.6 641.5h.6M503.0 643.0h.6M498.2 645.8h.6M519.8 646.6h.6M505.5 629.4h.6M480.7 645.2h.6M492.6 629.6h.6M510.3 641.1h.6M510.6 634.1h.6M507.9 636.9h.6M508.4 638.8h.6M494.3 637.2h.6M504.0 639.8h.6M490.7 644.8h.6M495.0 641.9h.6M494.0 656.7h.6M494.9 647.3h.6M500.9 645.4h.6M502.2 630.5h.6M495.2 639.3h.6M518.0 630.4h.6M499.4 637.6h.6M523.5 634.5h.6M517.0 625.5h.6M490.1 645.8h.6M515.6 644.5h.6M487.8 641.5h.6M522.3 626.6h.6M508.7 637.6h.6M492.7 641.5h.6M478.1 642.8h.6M499.8 632.0h.6M488.2 641.6h.6M517.8 625.1h.6M489.4 643.0h.6M501.7 628.0h.6M510.4 646.0h.6M504.6 633.9h.6M507.6 636.9h.6M501.4 640.0h.6M513.1 644.5h.6M493.1 637.0h.6M511.3 638.6h.6M489.8 650.6h.6M506.5 642.8h.6M490.5 645.7h.6M501.9 639.9h.6M511.4 642.8h.6M519.3 640.3h.6M482.5 644.5h.6M495.0 643.3h.6M492.4 631.9h.6M518.9 637.4h.6M493.7 638.8h.6M512.8 626.4h.6M498.0 643.0h.6M486.7 639.7h.6M505.6 637.5h.6M490.4 644.1h.6M513.0 627.1h.6M514.2 642.4h.6M520.3 638.0h.6M491.9 654.6h.6M523.3 634.1h.6M515.9 629.9h.6M482.4 648.6h.6M531.0 625.8h.6M524.6 637.5h.6M491.6 637.1h.6M508.1 639.1h.6M487.9 648.1h.6M502.5 630.5h.6M506.4 639.1h.6M511.6 633.8h.6M494.1 642.4h.6M503.8 635.7h.6M492.8 642.8h.6M508.8 645.5h.6M512.2 635.4h.6M505.0 636.6h.6M518.1 632.8h.6M513.3 638.1h.6M508.6 627.4h.6M518.2 639.4h.6M489.0 644.1h.6M503.7 638.7h.6M482.6 653.5h.6M503.9 647.0h.6M498.4 637.7h.6M514.2 632.4h.6M498.8 640.8h.6M496.4 652.0h.6M503.0 641.9h.6M502.5 638.9h.6M510.4 634.0h.6M493.5 636.2h.6M485.9 643.2h.6M484.8 640.5h.6M518.1 625.1h.6M488.8 659.0h.6M498.5 635.7h.6M490.7 646.9h.6M514.8 633.3h.6M497.3 640.8h.6M519.1 640.9h.6M495.6 648.1h.6M507.7 636.0h.6M513.3 637.8h.6M515.9 631.5h.6M489.6 647.0h.6M499.7 628.4h.6M503.2 641.7h.6M481.9 634.8h.6M512.8 641.5h.6M508.9 634.9h.6M510.4 631.0h.6M487.2 653.4h.6M506.4 644.9h.6M509.5 635.6h.6M516.7 628.7h.6M497.8 633.7h.6M512.4 633.7h.6M528.1 625.5h.6M498.9 648.6h.6M499.2 644.0h.6M500.3 632.5h.6M486.1 649.2h.6M499.8 642.7h.6M524.0 643.6h.6M492.9 644.7h.6M501.9 650.1h.6M518.8 632.8h.6M511.1 628.7h.6M507.0 637.0h.6M500.2 640.2h.6M502.8 642.7h.6M504.4 636.5h.6M512.6 643.7h.6M505.2 642.3h.6M515.7 623.0h.6M481.6 655.2h.6M514.2 639.9h.6M497.8 650.3h.6M504.4 632.4h.6M499.1 643.0h.6M512.1 644.8h.6M502.8 647.8h.6M511.9 630.6h.6M494.5 639.1h.6M506.6 634.3h.6M519.2 635.2h.6M517.8 629.9h.6M499.9 633.4h.6M506.0 635.3h.6M499.8 651.0h.6M502.8 652.2h.6M504.5 648.6h.6M519.0 633.3h.6M511.4 646.5h.6M522.0 640.4h.6M522.9 633.4h.6M488.9 650.3h.6M508.0 646.3h.6M498.9 636.0h.6M484.7 643.5h.6M491.2 639.6h.6M498.2 636.5h.6M524.6 624.5h.6M505.4 639.8h.6M502.1 641.8h.6M504.0 650.6h.6M495.2 644.5h.6M506.4 642.9h.6M503.2 634.1h.6M484.6 642.6h.6M497.9 633.3h.6M545.0 619.8h.6M512.0 630.3h.6M503.2 637.2h.6M512.4 636.5h.6M492.6 646.3h.6M505.4 639.8h.6M514.9 642.2h.6M484.9 644.2h.6M495.5 643.5h.6M499.5 653.9h.6M500.9 657.4h.6M498.2 646.5h.6M507.6 641.8h.6M516.7 637.8h.6M508.5 630.9h.6M516.7 639.7h.6M517.0 643.5h.6M497.2 640.2h.6M507.6 633.0h.6M499.8 631.7h.6M512.3 643.5h.6M500.1 643.0h.6M502.1 643.4h.6M524.8 624.2h.6M502.2 636.6h.6M485.6 646.3h.6M505.8 635.3h.6M507.9 641.1h.6M498.3 643.4h.6M505.2 640.0h.6M516.7 639.0h.6M498.1 643.7h.6M502.1 638.8h.6M495.9 641.5h.6M508.4 629.9h.6M502.9 635.5h.6M493.3 644.3h.6M502.5 653.9h.6M526.4 641.6h.6M483.9 650.0h.6M487.8 648.0h.6M508.5 646.6h.6M487.8 648.0h.6M527.9 631.6h.6M486.5 650.0h.6M488.7 646.3h.6M498.2 642.8h.6M517.4 640.0h.6M514.1 642.1h.6M511.3 638.7h.6M508.0 637.4h.6M520.1 641.2h.6M482.6 659.7h.6M507.8 644.8h.6M521.6 631.4h.6M491.6 654.2h.6M508.3 633.4h.6M519.1 638.8h.6M519.5 634.4h.6M502.8 645.4h.6M526.8 629.3h.6M510.5 637.9h.6M517.3 633.7h.6M491.6 656.2h.6M495.4 639.0h.6M495.3 653.3h.6M525.6 635.1h.6M476.5 646.5h.6M482.4 648.8h.6M514.0 634.1h.6M506.2 638.7h.6M499.7 646.7h.6M500.8 635.5h.6M518.9 628.7h.6M481.5 651.1h.6M498.1 647.7h.6M517.2 634.8h.6M513.6 641.7h.6M493.4 643.1h.6M501.0 636.6h.6M486.8 642.2h.6M520.8 626.0h.6M499.3 639.2h.6M519.7 641.3h.6M514.1 642.1h.6M493.9 640.6h.6M502.7 629.5h.6M512.2 639.8h.6M509.8 643.9h.6M522.7 625.9h.6M517.9 636.5h.6M508.4 634.8h.6M512.8 631.1h.6M496.0 648.9h.6M497.4 644.8h.6M511.7 641.1h.6M508.6 635.8h.6M491.3 640.8h.6M503.6 643.5h.6M495.0 640.1h.6M497.9 653.0h.6M520.0 633.0h.6M493.3 642.0h.6M496.8 642.9h.6M511.3 646.6h.6M505.5 640.5h.6M506.6 645.9h.6M487.4 637.4h.6M504.3 642.1h.6M500.2 643.0h.6M495.0 644.1h.6M497.9 639.3h.6M501.1 641.0h.6M514.6 633.7h.6M527.0 638.2h.6M506.0 633.3h.6M522.3 637.2h.6M506.0 635.3h.6M487.0 644.8h.6M505.4 633.7h.6M519.9 635.5h.6M521.3 643.3h.6M494.2 650.5h.6M531.3 632.6h.6M495.9 635.0h.6M496.0 645.6h.6M498.5 642.0h.6M522.0 627.0h.6M509.5 641.9h.6M515.5 634.8h.6M478.3 647.4h.6M504.1 643.9h.6M503.4 639.3h.6M513.0 631.3h.6" stroke="#f21010" stroke-width="0.7" fill="none"/>
<path d="M516.4 622.2h.6M511.8 623.1h.6M522.5 607.9h.6M514.1 627.0h.6M512.0 626.5h.6M510.5 633.3h.6M509.7 632.8h.6M515.6 619.8h.6M503.4 639.5h.6M512.4 622.1h.6M508.4 631.2h.6M512.4 626.6h.6M512.8 630.8h.6M508.6 633.6h.6M509.7 632.0h.6M517.1 616.9h.6M511.1 630.1h.6M512.9 626.6h.6M511.9 623.1h.6M515.7 624.6h.6M516.9 616.6h.6M515.9 613.5h.6M514.7 624.1h.6M514.8 624.9h.6M509.0 632.8h.6M517.2 617.5h.6M511.1 626.9h.6M510.0 624.5h.6M511.7 627.3h.6M510.3 627.2h.6M514.3 624.2h.6M515.3 621.8h.6M517.1 615.1h.6M512.6 627.8h.6M511.0 623.3h.6M512.0 627.8h.6M509.1 632.5h.6M510.5 633.3h.6M519.5 613.5h.6M510.4 633.4h.6M511.4 629.3h.6M515.0 627.7h.6M513.8 622.8h.6M515.4 612.4h.6M510.1 637.6h.6M509.4 624.1h.6M517.3 616.6h.6M510.7 625.1h.6M512.6 629.2h.6M513.6 614.8h.6M506.8 640.5h.6M512.3 626.0h.6M510.8 622.2h.6M514.6 626.3h.6M511.9 636.0h.6M505.5 639.0h.6M515.5 622.6h.6M504.5 644.6h.6M511.6 630.8h.6M510.6 634.9h.6M510.9 622.6h.6M512.9 619.5h.6M516.1 624.0h.6M510.0 630.4h.6M510.9 630.2h.6M515.4 615.2h.6M514.6 624.7h.6M515.3 613.2h.6M514.0 622.3h.6M512.1 629.2h.6M511.3 627.9h.6M511.4 629.9h.6M515.9 609.4h.6M517.8 614.4h.6M519.5 613.9h.6M509.5 630.7h.6M512.1 619.9h.6M512.9 628.4h.6M512.4 632.5h.6M509.2 626.2h.6M520.1 608.1h.6M517.9 616.7h.6M512.4 625.8h.6M511.4 622.8h.6M512.9 635.8h.6M508.9 626.9h.6M511.8 627.3h.6M515.5 616.7h.6M518.4 614.2h.6M515.9 606.0h.6M517.2 618.8h.6M509.4 626.6h.6M502.2 655.8h.6M517.5 615.5h.6M513.5 620.0h.6M512.7 631.4h.6M518.5 622.3h.6M509.7 630.2h.6M509.8 626.3h.6M510.5 624.3h.6M518.3 617.0h.6M516.1 617.0h.6M507.0 641.7h.6M518.4 606.6h.6M513.0 626.8h.6M514.3 616.4h.6M510.4 630.5h.6M519.2 613.9h.6M514.4 614.9h.6M517.3 619.7h.6M509.6 625.4h.6M515.2 621.5h.6M513.2 627.6h.6M512.2 629.4h.6M510.2 625.0h.6M510.6 629.3h.6M509.0 633.4h.6M510.7 635.0h.6M512.8 619.7h.6M514.9 616.4h.6M507.7 633.1h.6M509.5 627.9h.6M510.9 642.0h.6M507.5 637.2h.6M512.0 625.7h.6M512.0 625.7h.6M512.3 628.1h.6M514.3 620.9h.6M516.1 621.5h.6M515.6 622.1h.6M513.9 627.9h.6M514.9 620.1h.6M510.3 632.6h.6M509.8 632.6h.6M515.1 614.6h.6M514.8 621.1h.6M520.2 610.6h.6M512.2 632.4h.6M509.6 633.0h.6M513.9 618.5h.6M511.4 625.1h.6M509.9 630.0h.6M517.5 616.5h.6M519.4 611.9h.6M514.2 620.4h.6M510.7 630.0h.6M513.8 633.3h.6M512.7 616.6h.6M508.3 628.7h.6M515.7 619.8h.6M514.1 616.4h.6M517.1 621.9h.6M511.1 622.7h.6M512.9 623.8h.6M512.5 621.5h.6M507.2 637.0h.6M521.3 607.7h.6M505.9 635.5h.6M509.1 627.4h.6M511.7 624.6h.6M507.7 632.7h.6M514.3 624.2h.6M511.4 620.3h.6M513.2 623.1h.6M513.7 623.9h.6M513.2 625.3h.6M513.3 628.8h.6M512.4 628.5h.6M514.4 628.1h.6M515.7 618.4h.6M512.1 626.4h.6M511.5 626.4h.6M511.6 632.2h.6M514.0 624.2h.6M511.7 629.5h.6M511.7 622.7h.6M507.9 640.4h.6M519.4 618.3h.6M508.8 627.0h.6M518.6 612.0h.6M515.7 625.8h.6M516.4 612.1h.6M513.9 616.4h.6M514.6 616.4h.6M514.0 631.1h.6M515.0 620.0h.6M515.8 622.5h.6M518.1 615.6h.6M509.7 637.4h.6M514.7 613.9h.6M518.5 616.8h.6M517.7 614.1h.6M509.6 627.6h.6M514.1 619.7h.6M514.0 620.8h.6M513.9 624.3h.6M505.4 638.0h.6M516.0 619.6h.6M507.6 644.2h.6M520.4 605.9h.6M515.3 622.6h.6M512.7 627.1h.6M515.2 621.9h.6M513.5 629.1h.6M511.3 632.8h.6M512.8 632.4h.6M514.2 620.0h.6M510.4 624.5h.6M515.5 619.3h.6M516.9 621.7h.6M516.7 611.8h.6M517.1 617.9h.6M517.5 622.4h.6M515.5 627.5h.6M517.5 614.9h.6M513.3 617.7h.6M514.5 623.1h.6M517.9 617.6h.6M519.7 612.7h.6M511.9 630.0h.6M508.2 635.9h.6M520.4 609.1h.6M517.0 619.6h.6M519.3 608.3h.6M516.2 622.3h.6M513.9 619.6h.6M511.0 626.9h.6M509.9 632.0h.6M518.1 615.9h.6M516.5 619.1h.6M514.2 615.0h.6M509.3 634.8h.6M511.3 622.6h.6M511.0 624.0h.6M512.1 627.5h.6M503.3 636.2h.6M513.9 632.6h.6M518.4 612.9h.6M511.3 627.2h.6M513.2 623.9h.6M514.1 618.8h.6M509.7 632.4h.6M514.6 622.1h.6M510.4 624.7h.6M511.6 627.5h.6M514.0 626.8h.6M512.9 622.1h.6M513.5 623.8h.6M510.0 632.5h.6M515.6 617.0h.6" stroke="#f21010" stroke-width="0.7" fill="none"/>
<ellipse cx="516.6" cy="613.7" rx="2.6" ry="1.6" fill="#ff1010" transform="rotate(-30 516.6 613.7)" filter="url(#sb)" opacity="0.85"/>
<path d="M514.2 615.6h.6M513.5 615.2h.6M515.7 617.5h.6M516.0 610.3h.6M516.7 614.3h.6M512.8 615.3h.6M521.8 611.6h.6M518.6 612.1h.6M517.0 613.0h.6M517.3 614.6h.6M508.9 618.9h.6M519.4 613.1h.6M513.4 616.0h.6M518.1 614.1h.6M512.9 614.8h.6M519.6 612.3h.6M514.9 612.0h.6M515.9 614.1h.6M521.2 615.1h.6M519.6 611.7h.6M512.3 613.5h.6M514.4 617.1h.6M517.1 612.5h.6M515.8 613.6h.6M519.0 613.8h.6M514.4 614.1h.6M510.8 614.8h.6M513.7 613.6h.6M516.0 611.9h.6M518.2 613.2h.6M518.8 613.0h.6M520.4 608.4h.6M517.3 615.3h.6M515.9 614.3h.6M518.8 613.6h.6M516.2 612.5h.6M515.1 612.3h.6M515.1 616.4h.6M519.4 610.7h.6M521.1 614.2h.6M520.6 608.0h.6M511.6 616.4h.6M519.9 610.8h.6M513.1 615.2h.6M515.5 612.8h.6M518.3 614.4h.6M512.4 614.8h.6M512.8 614.8h.6M514.2 614.3h.6M521.7 610.7h.6M519.9 613.4h.6M513.8 615.1h.6M517.0 615.8h.6M517.0 613.8h.6M517.5 614.2h.6M514.4 612.9h.6M521.0 611.2h.6M515.4 615.3h.6M519.1 612.1h.6M511.4 613.1h.6M517.8 613.7h.6M517.0 615.5h.6M520.7 608.2h.6M508.6 615.3h.6M518.3 612.0h.6M519.0 608.7h.6M515.7 615.3h.6M520.6 611.9h.6M523.0 614.8h.6M519.3 612.0h.6M519.0 612.2h.6M520.7 613.7h.6M517.9 614.7h.6M520.3 612.8h.6M518.4 613.5h.6M514.4 611.7h.6M513.3 615.1h.6M520.2 612.8h.6M518.4 613.4h.6M514.5 617.0h.6M516.6 614.5h.6M521.1 614.5h.6M511.3 615.1h.6M513.8 618.2h.6M518.7 614.9h.6M519.1 612.4h.6M513.0 618.3h.6M513.5 617.3h.6M517.1 611.8h.6M520.9 614.6h.6M516.6 613.7h.6M509.4 615.4h.6M519.7 614.5h.6M516.5 616.5h.6M515.1 611.6h.6M513.0 615.7h.6M520.2 611.6h.6M517.4 614.7h.6M517.8 612.7h.6M517.6 615.5h.6M517.9 615.6h.6M519.1 614.6h.6M521.8 613.1h.6M513.3 615.8h.6M516.3 614.3h.6M515.2 613.4h.6M521.7 612.9h.6M515.7 612.4h.6M511.6 616.4h.6M516.5 612.6h.6M514.3 612.2h.6M514.3 611.5h.6M515.2 617.5h.6M512.5 612.0h.6M510.6 618.5h.6M522.6 609.4h.6M516.2 613.8h.6M513.7 614.0h.6M518.5 614.7h.6M520.7 610.8h.6M511.2 614.2h.6M515.2 615.0h.6M517.4 614.4h.6M514.0 613.1h.6M517.9 611.5h.6M512.7 613.6h.6M514.5 615.0h.6M516.2 613.8h.6M517.9 611.7h.6M516.7 612.2h.6" stroke="#f21010" stroke-width="0.7" fill="none"/>
<ellipse cx="537.6" cy="606.6" rx="4.0" ry="1.6" fill="#ff1010" transform="rotate(-10 537.6 606.6)" filter="url(#sb)" opacity="0.6"/>
<path d="M547.5 609.5h.6M538.8 610.0h.6M531.4 606.0h.6M540.1 607.3h.6M541.6 605.8h.6M532.9 608.5h.6M541.5 605.8h.6M530.2 608.0h.6M539.8 611.1h.6M532.3 607.4h.6M556.2 606.9h.6M548.1 607.3h.6M539.9 606.4h.6M526.0 610.6h.6M526.8 612.3h.6M543.7 602.9h.6M536.3 601.4h.6M540.3 608.5h.6M523.7 605.0h.6M524.4 607.6h.6M538.6 609.6h.6M535.8 610.6h.6M525.9 609.7h.6M530.6 609.7h.6M544.5 608.0h.6M533.8 608.4h.6M542.6 610.9h.6M552.1 603.2h.6M540.5 611.1h.6M538.7 611.1h.6M532.4 604.9h.6M548.3 603.9h.6M524.9 603.9h.6M527.9 608.1h.6M537.4 609.8h.6M524.6 605.0h.6M546.2 607.0h.6M532.1 608.5h.6M542.2 610.0h.6M534.9 606.5h.6M535.4 615.8h.6M537.7 605.8h.6M520.3 616.1h.6M528.0 605.5h.6M533.4 613.3h.6M557.1 603.3h.6M544.7 598.4h.6M543.9 607.9h.6M528.5 612.5h.6M545.4 600.1h.6M548.5 608.0h.6M544.2 610.7h.6M560.6 601.0h.6M525.7 618.5h.6M528.1 613.6h.6M535.3 612.3h.6M529.0 610.8h.6M538.0 614.4h.6M542.1 604.3h.6M537.5 604.1h.6M538.5 607.7h.6M541.1 608.6h.6M544.4 612.2h.6M531.8 606.5h.6M531.7 610.5h.6M548.0 604.4h.6M534.6 604.4h.6M530.3 608.1h.6M540.1 614.5h.6M534.5 611.1h.6M538.6 602.8h.6M537.0 606.7h.6M543.1 602.2h.6M545.6 614.4h.6M530.3 608.7h.6M526.9 609.2h.6M551.6 611.7h.6M531.5 610.4h.6M523.9 605.6h.6M520.9 607.4h.6M537.2 609.4h.6M531.9 607.0h.6M521.5 605.1h.6M529.2 612.1h.6M528.2 607.5h.6M546.3 603.1h.6M539.6 609.7h.6M537.4 603.1h.6M526.4 609.0h.6M535.9 603.9h.6M543.3 603.8h.6M538.9 606.5h.6M546.8 607.6h.6M538.2 609.7h.6M543.6 606.4h.6M541.5 606.4h.6M532.5 603.3h.6M549.2 606.7h.6M540.7 606.0h.6M544.7 601.1h.6M528.2 607.4h.6M528.0 606.9h.6M535.9 602.2h.6M530.4 607.9h.6M542.9 605.6h.6M541.1 604.6h.6M548.3 606.9h.6M542.7 610.8h.6M527.6 613.5h.6M545.8 607.4h.6M531.8 604.3h.6M531.1 604.8h.6M538.0 601.9h.6M537.4 604.5h.6M546.6 608.9h.6M562.3 610.0h.6M541.2 608.9h.6M550.3 607.2h.6M535.6 610.3h.6M540.5 604.1h.6M533.0 610.7h.6M533.8 605.9h.6M549.3 603.7h.6M541.5 613.1h.6M541.4 608.6h.6M530.5 604.0h.6M552.5 603.2h.6M535.9 607.3h.6M531.8 611.9h.6M537.3 610.0h.6M543.4 606.7h.6M544.1 602.6h.6M550.4 604.6h.6M528.2 608.8h.6M533.7 607.1h.6M551.2 603.5h.6M557.4 611.5h.6M532.0 611.5h.6M536.7 607.5h.6M524.0 604.8h.6M530.3 604.6h.6M529.8 611.0h.6M536.6 607.6h.6M527.1 611.1h.6M545.7 608.1h.6M537.0 607.1h.6M535.3 609.0h.6M545.6 608.7h.6M535.2 611.8h.6M526.7 614.1h.6M537.8 608.2h.6M556.5 605.0h.6M538.4 605.4h.6M542.1 609.9h.6M535.8 610.2h.6M535.6 603.4h.6M541.9 605.7h.6M514.4 606.9h.6M526.7 610.6h.6M532.3 610.5h.6M535.2 611.7h.6M550.3 602.9h.6M559.0 609.3h.6M543.1 612.9h.6M541.0 609.8h.6M543.5 602.6h.6M550.7 606.1h.6M528.9 607.6h.6M533.2 607.6h.6M538.9 607.6h.6M540.1 607.9h.6M520.9 614.0h.6M541.3 601.5h.6M523.6 609.5h.6M544.2 602.8h.6M544.9 612.1h.6M517.7 607.7h.6M541.9 611.1h.6M539.2 611.8h.6M532.1 607.2h.6M545.9 603.2h.6M555.1 601.1h.6M541.9 602.6h.6M527.9 609.5h.6M524.9 606.2h.6M527.3 610.6h.6M528.6 610.3h.6M547.3 605.7h.6M540.0 607.7h.6M537.3 604.7h.6M545.2 613.0h.6M537.7 603.7h.6M537.8 609.5h.6M530.1 603.3h.6M532.1 604.2h.6M537.8 611.5h.6M527.3 608.8h.6M552.0 603.8h.6M538.6 610.2h.6M532.7 610.6h.6M546.0 607.7h.6M528.2 606.0h.6M546.8 603.5h.6M538.2 608.9h.6M554.0 603.1h.6M532.7 603.0h.6M534.0 604.8h.6M530.1 610.8h.6M526.6 611.5h.6M539.7 606.4h.6M528.2 605.7h.6M540.3 605.8h.6M531.9 609.4h.6M546.7 609.8h.6M515.2 605.5h.6M541.1 607.7h.6M537.9 601.2h.6M537.5 611.4h.6M531.9 609.2h.6M552.8 608.2h.6M533.9 601.6h.6M541.2 603.0h.6M535.2 609.5h.6M534.3 614.4h.6M538.2 603.5h.6M543.4 606.5h.6M527.7 612.4h.6M533.4 613.1h.6M525.1 607.4h.6M541.0 607.9h.6" stroke="#f21010" stroke-width="0.7" fill="none"/>
<path d="M534.4 634.9h.6M536.6 629.0h.6M529.9 641.4h.6M530.8 623.2h.6M538.9 632.2h.6M532.2 623.4h.6M530.8 640.5h.6M538.8 639.0h.6M515.9 646.3h.6M544.0 624.7h.6M537.1 642.7h.6M526.5 625.0h.6M531.7 634.8h.6M543.9 618.2h.6M538.0 633.0h.6M517.7 628.5h.6M524.3 644.4h.6M534.8 641.3h.6M548.8 619.4h.6M539.9 634.0h.6M531.5 621.1h.6M538.3 636.1h.6M533.4 625.8h.6M530.6 640.1h.6M536.6 647.1h.6M514.6 623.5h.6M542.0 629.9h.6M537.9 619.6h.6M529.4 630.6h.6M525.8 650.8h.6M522.7 630.9h.6M535.6 619.4h.6M534.5 617.7h.6M534.8 614.1h.6M548.2 621.7h.6M514.1 639.0h.6M527.0 632.6h.6M526.5 645.0h.6M541.5 620.7h.6M531.1 624.6h.6M525.0 630.5h.6M535.1 638.1h.6M536.8 623.3h.6M547.3 631.4h.6M535.5 617.8h.6M529.4 638.5h.6M528.9 637.9h.6M526.2 636.8h.6M537.5 639.8h.6M540.4 637.4h.6M531.3 634.6h.6M532.1 656.0h.6M545.3 606.8h.6M534.1 627.0h.6M537.6 626.6h.6M523.8 643.3h.6M528.0 631.1h.6M514.6 637.9h.6M521.3 634.4h.6M536.5 644.7h.6M544.1 628.4h.6M530.9 650.8h.6M522.9 636.9h.6M534.1 639.7h.6M543.2 633.6h.6M531.8 634.9h.6M541.3 619.9h.6M532.7 619.2h.6M522.5 634.7h.6M525.4 644.8h.6M531.0 617.1h.6M553.1 638.0h.6M538.3 634.8h.6M531.2 634.1h.6M535.8 637.6h.6M535.1 617.2h.6M529.4 628.5h.6M532.3 620.7h.6M531.0 634.9h.6M539.7 620.2h.6M546.8 627.8h.6M544.8 628.5h.6M530.5 629.2h.6M538.1 625.5h.6M527.0 627.8h.6M523.7 636.8h.6M533.9 646.0h.6M538.6 632.5h.6M532.7 658.2h.6M540.5 631.5h.6M540.5 636.8h.6M539.9 620.7h.6M531.9 658.8h.6M521.4 615.5h.6M548.9 629.0h.6M529.1 648.7h.6M539.6 624.7h.6M537.5 624.9h.6M530.3 628.1h.6M549.2 603.7h.6M539.1 637.5h.6M533.2 628.4h.6M529.6 631.1h.6M524.8 641.1h.6M522.3 632.4h.6M538.2 616.9h.6M529.4 641.2h.6M529.3 628.2h.6M537.7 619.6h.6M530.2 625.8h.6M538.9 645.2h.6M527.7 630.5h.6M528.8 636.8h.6M541.3 616.1h.6M527.3 634.7h.6M538.6 609.7h.6M537.7 642.0h.6M533.3 626.3h.6M518.9 645.2h.6M521.9 617.6h.6M523.8 619.0h.6M522.1 644.6h.6M540.8 621.0h.6M525.7 634.4h.6M522.5 651.4h.6M528.9 643.3h.6M532.4 630.6h.6M518.8 631.4h.6M538.5 633.1h.6M539.5 626.1h.6M528.1 630.0h.6M540.3 625.9h.6M519.8 648.0h.6M528.5 631.6h.6M531.8 626.5h.6M533.9 646.0h.6M543.2 612.3h.6M530.4 617.7h.6M524.5 632.8h.6M535.1 609.7h.6M534.6 638.8h.6M537.1 639.3h.6M530.4 638.6h.6M534.7 637.9h.6M528.3 614.6h.6M538.1 629.0h.6M527.5 633.9h.6M527.9 629.6h.6M543.3 611.7h.6M526.7 632.0h.6M533.3 635.0h.6M538.1 626.8h.6M530.5 619.7h.6M541.1 630.5h.6M528.2 619.0h.6M542.1 625.0h.6M519.8 637.9h.6M521.5 630.6h.6M533.8 611.3h.6M545.6 629.2h.6M547.2 612.4h.6M525.8 628.3h.6M533.0 629.8h.6M529.0 632.3h.6M514.7 629.8h.6M539.5 622.8h.6M530.0 628.7h.6M545.1 620.4h.6M535.6 639.0h.6M528.6 639.4h.6M527.3 643.4h.6M531.6 635.3h.6M537.2 631.9h.6M529.0 636.5h.6M557.5 617.2h.6M535.0 640.1h.6M523.4 637.2h.6M533.9 622.4h.6M543.1 610.9h.6M536.9 629.4h.6M530.4 620.3h.6M527.5 619.6h.6M526.4 643.9h.6M523.0 632.5h.6M528.8 643.3h.6M535.5 634.3h.6M528.3 629.0h.6M547.3 638.8h.6M536.5 624.8h.6M529.4 634.0h.6M532.9 633.8h.6M545.9 621.3h.6M518.5 644.8h.6M535.3 647.4h.6M556.4 622.6h.6M541.9 635.3h.6M525.4 636.1h.6M534.3 641.8h.6M531.2 641.3h.6M557.3 632.8h.6M527.4 646.1h.6M530.9 640.2h.6M530.4 640.1h.6M520.9 635.5h.6M504.7 610.2h.6M531.2 638.2h.6M537.7 645.5h.6M529.5 626.9h.6M537.5 642.0h.6M539.7 637.9h.6M539.3 632.6h.6M518.6 636.3h.6M546.3 626.0h.6M540.7 626.3h.6M540.2 630.0h.6M533.3 620.4h.6M533.2 623.1h.6M528.5 638.5h.6M536.9 632.2h.6M541.2 642.0h.6M528.3 626.6h.6M540.3 630.9h.6M529.2 614.0h.6M538.4 636.3h.6M532.0 616.8h.6M540.7 637.8h.6M549.9 642.1h.6M535.2 639.2h.6M529.0 629.6h.6M529.5 622.7h.6M538.6 638.1h.6M529.0 623.4h.6M541.7 633.5h.6M535.8 635.6h.6M541.1 631.6h.6M528.5 616.8h.6M525.0 632.6h.6M526.8 630.8h.6M536.7 645.1h.6M526.5 632.3h.6M539.3 626.5h.6M515.5 621.8h.6M527.5 642.1h.6M531.8 639.0h.6M517.4 646.3h.6M528.0 639.8h.6M520.3 629.5h.6M532.6 639.6h.6M531.2 619.6h.6M539.7 628.8h.6M526.0 643.1h.6M519.2 643.0h.6M528.6 646.8h.6M534.4 645.4h.6M534.1 619.8h.6M534.7 622.3h.6M543.8 637.4h.6M530.2 637.1h.6M531.4 616.3h.6M526.0 641.3h.6M528.1 631.2h.6M542.3 623.3h.6M536.4 632.4h.6M510.7 641.6h.6M543.7 631.1h.6M516.1 636.6h.6M529.7 648.3h.6M541.7 628.1h.6M534.4 629.4h.6M538.1 642.9h.6M540.8 624.4h.6M535.9 639.9h.6M522.4 661.5h.6M536.5 649.6h.6M527.3 632.8h.6M512.4 633.6h.6M530.8 636.8h.6M538.0 644.3h.6M534.3 632.9h.6M533.4 622.5h.6M548.3 626.7h.6M535.7 645.3h.6M541.2 624.2h.6M536.1 632.6h.6M547.5 628.2h.6M530.1 632.2h.6M543.5 622.4h.6M549.1 627.0h.6M530.1 642.3h.6M542.4 629.5h.6M521.6 634.6h.6M536.1 619.0h.6M539.7 641.5h.6M526.2 635.6h.6M517.8 645.9h.6M533.8 628.9h.6M530.5 638.1h.6M535.0 661.5h.6M535.9 621.3h.6M540.6 635.6h.6M546.9 637.6h.6M537.1 645.2h.6M520.1 647.0h.6M539.2 642.4h.6M536.8 631.9h.6M534.7 629.8h.6M547.1 627.5h.6M535.7 627.3h.6M530.3 641.0h.6M537.4 624.3h.6M519.6 637.7h.6M541.7 624.3h.6M534.0 625.4h.6M548.1 630.0h.6M539.4 617.3h.6M536.7 622.6h.6M535.1 635.1h.6M523.2 618.0h.6M532.8 615.4h.6M536.1 645.9h.6M542.0 650.7h.6M537.2 636.4h.6M539.5 624.8h.6M539.4 620.2h.6M528.9 626.7h.6M536.1 630.8h.6M531.7 622.7h.6M522.7 628.4h.6M520.5 640.6h.6M540.7 627.2h.6M545.9 616.6h.6M545.8 633.4h.6M526.2 640.4h.6M546.5 635.1h.6M547.0 612.2h.6M527.0 627.3h.6M537.8 621.7h.6M548.3 629.8h.6M534.4 631.5h.6M543.8 615.8h.6M528.2 636.2h.6M530.7 620.9h.6M541.2 628.9h.6M532.2 632.2h.6M534.7 625.6h.6M534.4 622.7h.6M524.7 617.4h.6M546.5 630.2h.6M532.4 615.2h.6M530.8 639.9h.6" stroke="#f21010" stroke-width="0.7" fill="none"/>
</g>
<rect x="475.30" y="587.20" width="87.80" height="88.20" fill="none" stroke="#777" stroke-width="0.8" />
<line x1="523.5" y1="587.2" x2="523.5" y2="675.4" stroke="#888" stroke-width="0.8"/>
<line x1="475.3" y1="617.3" x2="563.1" y2="617.3" stroke="#555" stroke-width="0.8"/>
<text x="477.8" y="595.8" font-size="9.0" text-anchor="start" fill="#231f20" >4.79%</text>
<text x="562.5" y="595.8" font-size="9.0" text-anchor="end" fill="#231f20" >5.32%</text>
<text x="477.8" y="672.8" font-size="9.0" text-anchor="start" fill="#231f20" >83.70%</text>
<text x="562.5" y="672.8" font-size="9.0" text-anchor="end" fill="#231f20" >6.19%</text>
<path d="M473.3 675.4h2.0M474.3 671.0h1.0M474.3 668.4h1.0M474.3 666.5h1.0M474.3 665.1h1.0M474.3 664.0h1.0M474.3 663.0h1.0M474.3 662.1h1.0M474.3 661.4h1.0M473.3 660.7h2.0M474.3 656.3h1.0M474.3 653.7h1.0M474.3 651.8h1.0M474.3 650.4h1.0M474.3 649.3h1.0M474.3 648.3h1.0M474.3 647.4h1.0M474.3 646.7h1.0M473.3 646.0h2.0M474.3 641.6h1.0M474.3 639.0h1.0M474.3 637.1h1.0M474.3 635.7h1.0M474.3 634.6h1.0M474.3 633.6h1.0M474.3 632.7h1.0M474.3 632.0h1.0M473.3 631.3h2.0M474.3 626.9h1.0M474.3 624.3h1.0M474.3 622.4h1.0M474.3 621.0h1.0M474.3 619.9h1.0M474.3 618.9h1.0M474.3 618.0h1.0M474.3 617.3h1.0M473.3 616.6h2.0M474.3 612.2h1.0M474.3 609.6h1.0M474.3 607.7h1.0M474.3 606.3h1.0M474.3 605.2h1.0M474.3 604.2h1.0M474.3 603.3h1.0M474.3 602.6h1.0M473.3 601.9h2.0M474.3 597.5h1.0M474.3 594.9h1.0M474.3 593.0h1.0M474.3 591.6h1.0M474.3 590.5h1.0M474.3 589.5h1.0M474.3 588.6h1.0M474.3 587.9h1.0M475.3 675.4v2.0M480.6 675.4v1.0M483.7 675.4v1.0M485.9 675.4v1.0M487.6 675.4v1.0M489.0 675.4v1.0M490.1 675.4v1.0M491.2 675.4v1.0M492.1 675.4v1.0M492.9 675.4v2.0M498.1 675.4v1.0M501.2 675.4v1.0M503.4 675.4v1.0M505.1 675.4v1.0M506.5 675.4v1.0M507.7 675.4v1.0M508.7 675.4v1.0M509.6 675.4v1.0M510.4 675.4v2.0M515.7 675.4v1.0M518.8 675.4v1.0M521.0 675.4v1.0M522.7 675.4v1.0M524.1 675.4v1.0M525.3 675.4v1.0M526.3 675.4v1.0M527.2 675.4v1.0M528.0 675.4v2.0M533.3 675.4v1.0M536.4 675.4v1.0M538.6 675.4v1.0M540.3 675.4v1.0M541.6 675.4v1.0M542.8 675.4v1.0M543.8 675.4v1.0M544.7 675.4v1.0M545.5 675.4v2.0M550.8 675.4v1.0M553.9 675.4v1.0M556.1 675.4v1.0M557.8 675.4v1.0M559.2 675.4v1.0M560.4 675.4v1.0M561.4 675.4v1.0M562.3 675.4v1.0" stroke="#777" stroke-width="0.4" fill="none"/>
<text x="475.3" y="682.0" class="t" font-size="4.2" text-anchor="middle" fill="#555">10<tspan dy="-1.5" font-size="2.8">2</tspan></text>
<text x="492.9" y="682.0" class="t" font-size="4.2" text-anchor="middle" fill="#555">10<tspan dy="-1.5" font-size="2.8">3</tspan></text>
<text x="510.4" y="682.0" class="t" font-size="4.2" text-anchor="middle" fill="#555">10<tspan dy="-1.5" font-size="2.8">4</tspan></text>
<text x="528.0" y="682.0" class="t" font-size="4.2" text-anchor="middle" fill="#555">10<tspan dy="-1.5" font-size="2.8">5</tspan></text>
<text x="545.5" y="682.0" class="t" font-size="4.2" text-anchor="middle" fill="#555">10<tspan dy="-1.5" font-size="2.8">6</tspan></text>
<text x="563.1" y="682.0" class="t" font-size="4.2" text-anchor="middle" fill="#555">10<tspan dy="-1.5" font-size="2.8">7</tspan></text>
<text transform="translate(471.1,675.4) rotate(-90)" class="t" font-size="4.2" text-anchor="middle" fill="#555">10<tspan dy="-1.5" font-size="2.8">1</tspan></text>
<text transform="translate(471.1,660.7) rotate(-90)" class="t" font-size="4.2" text-anchor="middle" fill="#555">10<tspan dy="-1.5" font-size="2.8">2</tspan></text>
<text transform="translate(471.1,646.0) rotate(-90)" class="t" font-size="4.2" text-anchor="middle" fill="#555">10<tspan dy="-1.5" font-size="2.8">3</tspan></text>
<text transform="translate(471.1,631.3) rotate(-90)" class="t" font-size="4.2" text-anchor="middle" fill="#555">10<tspan dy="-1.5" font-size="2.8">4</tspan></text>
<text transform="translate(471.1,616.6) rotate(-90)" class="t" font-size="4.2" text-anchor="middle" fill="#555">10<tspan dy="-1.5" font-size="2.8">5</tspan></text>
<text transform="translate(471.1,601.9) rotate(-90)" class="t" font-size="4.2" text-anchor="middle" fill="#555">10<tspan dy="-1.5" font-size="2.8">6</tspan></text>
<text transform="translate(471.1,587.2) rotate(-90)" class="t" font-size="4.2" text-anchor="middle" fill="#555">10<tspan dy="-1.5" font-size="2.8">7</tspan></text>
<text x="79.3" y="577.6" font-size="10.4" text-anchor="middle" fill="#231f20" >Control</text>
<text x="188.7" y="577.7" font-size="10.5" text-anchor="middle" fill="#231f20" >inhibitor NC</text>
<text x="299.8" y="577.7" font-size="10.67" text-anchor="middle" fill="#231f20" >miR-520a-3p inhibitor</text>
<text x="406.0" y="569.4" font-size="10.67" text-anchor="middle" fill="#231f20" >miR-520a-3p inhibitor</text>
<text x="406.0" y="581.8" font-size="10.67" text-anchor="middle" fill="#231f20" >+sh-NC</text>
<text x="517.7" y="569.4" font-size="10.67" text-anchor="middle" fill="#231f20" >miR-520a-3p inhibitor</text>
<text x="517.7" y="581.8" font-size="10.67" text-anchor="middle" fill="#231f20" >+sh-MUC1</text>
<line x1="19.3" y1="689.2" x2="19.3" y2="637.5" stroke="#231f20" stroke-width="1.3"/>
<path d="M19.3 634.5L22.3 641.5L19.3 639.7L16.3 641.5Z" fill="#231f20"/>
<line x1="18.7" y1="688.6" x2="80.0" y2="688.6" stroke="#231f20" stroke-width="1.3"/>
<path d="M83.0 688.6L76.0 685.6L77.8 688.6L76.0 691.6Z" fill="#231f20"/>
<text transform="translate(16.2,667.5) rotate(-90)" font-size="10.4" text-anchor="middle" fill="#231f20">PI</text>
<text x="21.5" y="699.5" font-size="10.8" text-anchor="start" fill="#231f20" >Annexin V</text>
<line x1="604.5" y1="565.1" x2="604.5" y2="677.5" stroke="#444" stroke-width="1"/>
<line x1="601.5" y1="677.5" x2="604.5" y2="677.5" stroke="#444" stroke-width="1"/>
<text x="601.2" y="680.7" font-size="8.9" text-anchor="end" fill="#231f20" >0</text>
<line x1="601.5" y1="640.0" x2="604.5" y2="640.0" stroke="#444" stroke-width="1"/>
<text x="601.2" y="643.2" font-size="8.9" text-anchor="end" fill="#231f20" >5</text>
<line x1="601.5" y1="602.6" x2="604.5" y2="602.6" stroke="#444" stroke-width="1"/>
<text x="601.2" y="605.8" font-size="8.9" text-anchor="end" fill="#231f20" >10</text>
<line x1="601.5" y1="565.1" x2="604.5" y2="565.1" stroke="#444" stroke-width="1"/>
<text x="601.2" y="568.3" font-size="8.9" text-anchor="end" fill="#231f20" >15</text>
<line x1="604.5" y1="677.5" x2="733.5" y2="677.5" stroke="#444" stroke-width="1"/>
<rect x="609.50" y="619.05" width="17.20" height="58.45" fill="#ececec" stroke="#231f20" stroke-width="0.9" />
<line x1="618.1" y1="613.4" x2="618.1" y2="619.1" stroke="#333" stroke-width="1"/>
<line x1="613.3" y1="613.4" x2="622.9" y2="613.4" stroke="#333" stroke-width="1"/>
<line x1="618.1" y1="677.5" x2="618.1" y2="680.7" stroke="#444" stroke-width="1"/>
<rect x="635.40" y="614.93" width="17.20" height="62.57" fill="#c9caca" stroke="#231f20" stroke-width="0.9" />
<line x1="644.0" y1="607.8" x2="644.0" y2="614.9" stroke="#333" stroke-width="1"/>
<line x1="639.2" y1="607.8" x2="648.8" y2="607.8" stroke="#333" stroke-width="1"/>
<line x1="644.0" y1="677.5" x2="644.0" y2="680.7" stroke="#444" stroke-width="1"/>
<rect x="660.90" y="648.28" width="17.20" height="29.22" fill="#a0a1a1" stroke="#231f20" stroke-width="0.9" />
<line x1="669.5" y1="644.2" x2="669.5" y2="648.3" stroke="#333" stroke-width="1"/>
<line x1="664.7" y1="644.2" x2="674.3" y2="644.2" stroke="#333" stroke-width="1"/>
<line x1="669.5" y1="677.5" x2="669.5" y2="680.7" stroke="#444" stroke-width="1"/>
<rect x="686.60" y="649.03" width="17.20" height="28.47" fill="#6e6e6e" stroke="#231f20" stroke-width="0.9" />
<line x1="695.2" y1="643.8" x2="695.2" y2="649.0" stroke="#333" stroke-width="1"/>
<line x1="690.4" y1="643.8" x2="700.0" y2="643.8" stroke="#333" stroke-width="1"/>
<line x1="695.2" y1="677.5" x2="695.2" y2="680.7" stroke="#444" stroke-width="1"/>
<rect x="712.10" y="589.08" width="17.20" height="88.42" fill="#231815" stroke="#231f20" stroke-width="0.9" />
<line x1="720.7" y1="583.8" x2="720.7" y2="589.1" stroke="#333" stroke-width="1"/>
<line x1="715.9" y1="583.8" x2="725.5" y2="583.8" stroke="#333" stroke-width="1"/>
<line x1="720.7" y1="677.5" x2="720.7" y2="680.7" stroke="#444" stroke-width="1"/>
<line x1="644.0" y1="601.9" x2="669.2" y2="601.9" stroke="#333" stroke-width="0.9"/>
<text x="656.6" y="601.0" font-size="7.8" text-anchor="middle" fill="#231f20" >*</text>
<line x1="695.2" y1="576.4" x2="720.4" y2="576.4" stroke="#333" stroke-width="0.9"/>
<text x="707.8" y="575.5" font-size="7.8" text-anchor="middle" fill="#231f20" >***</text>
<text transform="translate(588.2,621.0) rotate(-90)" font-size="10.82" text-anchor="middle" fill="#231f20">Apoptosis rate (%)</text>
<text x="601.9" y="695.8" font-size="10.6" text-anchor="end" fill="#231f20" >inhibitor NC</text>
<text x="617.5" y="695.8" font-size="10.6" text-anchor="middle" fill="#231f20" >-</text>
<text x="642.9" y="695.8" font-size="10.6" text-anchor="middle" fill="#231f20" >+</text>
<text x="668.3" y="695.8" font-size="10.6" text-anchor="middle" fill="#231f20" >-</text>
<text x="693.3" y="695.8" font-size="10.6" text-anchor="middle" fill="#231f20" >-</text>
<text x="719.7" y="695.8" font-size="10.6" text-anchor="middle" fill="#231f20" >-</text>
<text x="601.9" y="707.1" font-size="10.6" text-anchor="end" fill="#231f20" >miR-520a-3p inhibitor</text>
<text x="617.5" y="707.1" font-size="10.6" text-anchor="middle" fill="#231f20" >-</text>
<text x="642.9" y="707.1" font-size="10.6" text-anchor="middle" fill="#231f20" >-</text>
<text x="668.3" y="707.1" font-size="10.6" text-anchor="middle" fill="#231f20" >+</text>
<text x="693.3" y="707.1" font-size="10.6" text-anchor="middle" fill="#231f20" >+</text>
<text x="719.7" y="707.1" font-size="10.6" text-anchor="middle" fill="#231f20" >+</text>
<text x="601.9" y="718.0" font-size="10.6" text-anchor="end" fill="#231f20" >sh-NC</text>
<text x="617.5" y="718.0" font-size="10.6" text-anchor="middle" fill="#231f20" >-</text>
<text x="642.9" y="718.0" font-size="10.6" text-anchor="middle" fill="#231f20" >-</text>
<text x="668.3" y="718.0" font-size="10.6" text-anchor="middle" fill="#231f20" >-</text>
<text x="693.3" y="718.0" font-size="10.6" text-anchor="middle" fill="#231f20" >+</text>
<text x="719.7" y="718.0" font-size="10.6" text-anchor="middle" fill="#231f20" >-</text>
<text x="601.9" y="729.7" font-size="10.6" text-anchor="end" fill="#231f20" >sh-MUC1</text>
<text x="617.5" y="729.7" font-size="10.6" text-anchor="middle" fill="#231f20" >-</text>
<text x="642.9" y="729.7" font-size="10.6" text-anchor="middle" fill="#231f20" >-</text>
<text x="668.3" y="729.7" font-size="10.6" text-anchor="middle" fill="#231f20" >-</text>
<text x="693.3" y="729.7" font-size="10.6" text-anchor="middle" fill="#231f20" >-</text>
<text x="719.7" y="729.7" font-size="10.6" text-anchor="middle" fill="#231f20" >+</text>
<rect x="113.4" y="721.2" width="112.0" height="115.6" fill="#231815"/>
<rect x="114.60" y="722.40" width="109.60" height="16.50" fill="#ececec" stroke="none" stroke-width="1" />
<rect x="119.8" y="729.4" width="13.0" height="3.8" rx="1.6" fill="#000" fill-opacity="0.72" filter="url(#bl)"/>
<rect x="140.4" y="729.5" width="13.0" height="3.6" rx="1.5" fill="#000" fill-opacity="0.68" filter="url(#bl)"/>
<rect x="159.9" y="728.7" width="16.0" height="5.2" rx="2.3" fill="#000" fill-opacity="1.00" filter="url(#bl)"/>
<rect x="181.5" y="728.7" width="15.0" height="5.2" rx="2.3" fill="#000" fill-opacity="1.00" filter="url(#bl)"/>
<rect x="204.2" y="729.5" width="13.0" height="3.6" rx="1.5" fill="#000" fill-opacity="0.70" filter="url(#bl)"/>
<rect x="114.60" y="741.80" width="109.60" height="16.60" fill="#dcdcdc" stroke="none" stroke-width="1" />
<rect x="119.0" y="748.9" width="7.3" height="3.6" rx="1.8" fill="#000" fill-opacity="0.75" filter="url(#bl)"/>
<rect x="126.3" y="748.9" width="7.3" height="3.6" rx="1.8" fill="#000" fill-opacity="0.75" filter="url(#bl)"/>
<rect x="119.3" y="749.6" width="14.0" height="2.2" rx="1.1" fill="#000" fill-opacity="0.38" filter="url(#bl)"/>
<rect x="139.6" y="749.0" width="7.3" height="3.4" rx="1.7" fill="#000" fill-opacity="0.70" filter="url(#bl)"/>
<rect x="146.9" y="749.0" width="7.3" height="3.4" rx="1.7" fill="#000" fill-opacity="0.70" filter="url(#bl)"/>
<rect x="139.9" y="749.7" width="14.0" height="2.0" rx="1.0" fill="#000" fill-opacity="0.35" filter="url(#bl)"/>
<rect x="160.1" y="748.6" width="7.8" height="4.2" rx="2.1" fill="#000" fill-opacity="0.98" filter="url(#bl)"/>
<rect x="167.9" y="748.6" width="7.8" height="4.2" rx="2.1" fill="#000" fill-opacity="0.98" filter="url(#bl)"/>
<rect x="160.4" y="749.4" width="15.0" height="2.5" rx="1.3" fill="#000" fill-opacity="0.49" filter="url(#bl)"/>
<rect x="181.7" y="748.6" width="7.3" height="4.2" rx="2.1" fill="#000" fill-opacity="0.98" filter="url(#bl)"/>
<rect x="189.0" y="748.6" width="7.3" height="4.2" rx="2.1" fill="#000" fill-opacity="0.98" filter="url(#bl)"/>
<rect x="182.0" y="749.4" width="14.0" height="2.5" rx="1.3" fill="#000" fill-opacity="0.49" filter="url(#bl)"/>
<rect x="203.9" y="749.2" width="6.8" height="3.0" rx="1.5" fill="#000" fill-opacity="0.32" filter="url(#bl)"/>
<rect x="210.7" y="749.2" width="6.8" height="3.0" rx="1.5" fill="#000" fill-opacity="0.32" filter="url(#bl)"/>
<rect x="204.2" y="749.8" width="13.0" height="1.8" rx="0.9" fill="#000" fill-opacity="0.16" filter="url(#bl)"/>
<rect x="114.60" y="761.40" width="109.60" height="16.10" fill="#e4e4e4" stroke="none" stroke-width="1" />
<rect x="119.0" y="768.3" width="7.3" height="3.6" rx="1.8" fill="#000" fill-opacity="0.45" filter="url(#bl)"/>
<rect x="126.3" y="768.3" width="7.3" height="3.6" rx="1.8" fill="#000" fill-opacity="0.45" filter="url(#bl)"/>
<rect x="119.3" y="769.0" width="14.0" height="2.2" rx="1.1" fill="#000" fill-opacity="0.23" filter="url(#bl)"/>
<rect x="139.6" y="768.3" width="7.3" height="3.6" rx="1.8" fill="#000" fill-opacity="0.50" filter="url(#bl)"/>
<rect x="146.9" y="768.3" width="7.3" height="3.6" rx="1.8" fill="#000" fill-opacity="0.50" filter="url(#bl)"/>
<rect x="139.9" y="769.0" width="14.0" height="2.2" rx="1.1" fill="#000" fill-opacity="0.25" filter="url(#bl)"/>
<rect x="161.7" y="768.6" width="6.2" height="3.0" rx="1.5" fill="#000" fill-opacity="0.12" filter="url(#bl)"/>
<rect x="167.9" y="768.6" width="6.2" height="3.0" rx="1.5" fill="#000" fill-opacity="0.12" filter="url(#bl)"/>
<rect x="161.9" y="769.2" width="12.0" height="1.8" rx="0.9" fill="#000" fill-opacity="0.06" filter="url(#bl)"/>
<rect x="182.8" y="768.6" width="6.2" height="3.0" rx="1.5" fill="#000" fill-opacity="0.10" filter="url(#bl)"/>
<rect x="189.0" y="768.6" width="6.2" height="3.0" rx="1.5" fill="#000" fill-opacity="0.10" filter="url(#bl)"/>
<rect x="183.0" y="769.2" width="12.0" height="1.8" rx="0.9" fill="#000" fill-opacity="0.05" filter="url(#bl)"/>
<rect x="203.4" y="768.3" width="7.3" height="3.6" rx="1.8" fill="#000" fill-opacity="0.50" filter="url(#bl)"/>
<rect x="210.7" y="768.3" width="7.3" height="3.6" rx="1.8" fill="#000" fill-opacity="0.50" filter="url(#bl)"/>
<rect x="203.7" y="769.0" width="14.0" height="2.2" rx="1.1" fill="#000" fill-opacity="0.25" filter="url(#bl)"/>
<rect x="114.60" y="780.40" width="109.60" height="16.60" fill="#dadada" stroke="none" stroke-width="1" />
<rect x="120.3" y="787.4" width="12.0" height="3.8" rx="1.6" fill="#000" fill-opacity="0.85" filter="url(#bl)"/>
<rect x="140.9" y="787.3" width="12.0" height="4.0" rx="1.7" fill="#000" fill-opacity="0.92" filter="url(#bl)"/>
<rect x="161.9" y="787.7" width="12.0" height="3.2" rx="1.3" fill="#000" fill-opacity="0.30" filter="url(#bl)"/>
<rect x="183.0" y="787.7" width="12.0" height="3.2" rx="1.3" fill="#000" fill-opacity="0.22" filter="url(#bl)"/>
<rect x="204.7" y="787.5" width="12.0" height="3.6" rx="1.5" fill="#000" fill-opacity="0.60" filter="url(#bl)"/>
<rect x="114.60" y="799.80" width="109.60" height="16.30" fill="#f3f3f3" stroke="none" stroke-width="1" />
<rect x="119.8" y="806.9" width="13.0" height="3.4" rx="1.4" fill="#000" fill-opacity="0.32" filter="url(#bl)"/>
<rect x="139.9" y="806.9" width="14.0" height="3.4" rx="1.4" fill="#000" fill-opacity="0.38" filter="url(#bl)"/>
<rect x="160.4" y="806.5" width="15.0" height="4.2" rx="1.8" fill="#000" fill-opacity="0.80" filter="url(#bl)"/>
<rect x="181.5" y="806.5" width="15.0" height="4.2" rx="1.8" fill="#000" fill-opacity="0.75" filter="url(#bl)"/>
<rect x="204.2" y="806.8" width="13.0" height="3.6" rx="1.5" fill="#000" fill-opacity="0.42" filter="url(#bl)"/>
<rect x="114.60" y="819.00" width="109.60" height="16.20" fill="#dedede" stroke="none" stroke-width="1" />
<rect x="118.8" y="825.1" width="15.0" height="5.2" rx="2.3" fill="#000" fill-opacity="1.00" filter="url(#bl)"/>
<rect x="139.4" y="825.1" width="15.0" height="5.2" rx="2.3" fill="#000" fill-opacity="1.00" filter="url(#bl)"/>
<rect x="160.4" y="825.1" width="15.0" height="5.2" rx="2.3" fill="#000" fill-opacity="1.00" filter="url(#bl)"/>
<rect x="181.5" y="825.1" width="15.0" height="5.2" rx="2.3" fill="#000" fill-opacity="1.00" filter="url(#bl)"/>
<rect x="203.2" y="825.0" width="15.0" height="5.4" rx="2.4" fill="#000" fill-opacity="1.00" filter="url(#bl)"/>
<text x="108.6" y="734.4" font-size="10.7" text-anchor="end" fill="#231f20" >PNCA</text>
<text x="108.6" y="753.9" font-size="10.7" text-anchor="end" fill="#231f20" >Bcl-2</text>
<text x="108.6" y="773.2" font-size="10.7" text-anchor="end" fill="#231f20" >Cleaved caspase3</text>
<text x="108.6" y="792.5" font-size="10.7" text-anchor="end" fill="#231f20" >Cleaved caspase9</text>
<text x="108.6" y="811.8" font-size="10.7" text-anchor="end" fill="#231f20" >β-catenin</text>
<text x="108.6" y="830.9" font-size="10.7" text-anchor="end" fill="#231f20" >GAPDH</text>
<text x="114.3" y="852.6" font-size="10.6" text-anchor="end" fill="#231f20" >inhibitor NC</text>
<text x="124.9" y="852.6" font-size="10.6" text-anchor="middle" fill="#231f20" >-</text>
<text x="147.7" y="852.6" font-size="10.6" text-anchor="middle" fill="#231f20" >+</text>
<text x="170.2" y="852.6" font-size="10.6" text-anchor="middle" fill="#231f20" >-</text>
<text x="192.4" y="852.6" font-size="10.6" text-anchor="middle" fill="#231f20" >-</text>
<text x="214.2" y="852.6" font-size="10.6" text-anchor="middle" fill="#231f20" >-</text>
<text x="114.3" y="863.1" font-size="10.6" text-anchor="end" fill="#231f20" >miR-520a-3p inhibitor</text>
<text x="124.9" y="863.1" font-size="10.6" text-anchor="middle" fill="#231f20" >-</text>
<text x="147.7" y="863.1" font-size="10.6" text-anchor="middle" fill="#231f20" >-</text>
<text x="170.2" y="863.1" font-size="10.6" text-anchor="middle" fill="#231f20" >+</text>
<text x="192.4" y="863.1" font-size="10.6" text-anchor="middle" fill="#231f20" >+</text>
<text x="214.2" y="863.1" font-size="10.6" text-anchor="middle" fill="#231f20" >+</text>
<text x="114.3" y="875.4" font-size="10.6" text-anchor="end" fill="#231f20" >sh-NC</text>
<text x="124.9" y="875.4" font-size="10.6" text-anchor="middle" fill="#231f20" >-</text>
<text x="147.7" y="875.4" font-size="10.6" text-anchor="middle" fill="#231f20" >-</text>
<text x="170.2" y="875.4" font-size="10.6" text-anchor="middle" fill="#231f20" >-</text>
<text x="192.4" y="875.4" font-size="10.6" text-anchor="middle" fill="#231f20" >+</text>
<text x="214.2" y="875.4" font-size="10.6" text-anchor="middle" fill="#231f20" >-</text>
<text x="114.3" y="888.0" font-size="10.6" text-anchor="end" fill="#231f20" >sh-MUC1</text>
<text x="124.9" y="888.0" font-size="10.6" text-anchor="middle" fill="#231f20" >-</text>
<text x="147.7" y="888.0" font-size="10.6" text-anchor="middle" fill="#231f20" >-</text>
<text x="170.2" y="888.0" font-size="10.6" text-anchor="middle" fill="#231f20" >-</text>
<text x="192.4" y="888.0" font-size="10.6" text-anchor="middle" fill="#231f20" >-</text>
<text x="214.2" y="888.0" font-size="10.6" text-anchor="middle" fill="#231f20" >+</text>
<line x1="286.6" y1="728.9" x2="286.6" y2="841.2" stroke="#444" stroke-width="1"/>
<line x1="283.6" y1="841.2" x2="286.6" y2="841.2" stroke="#444" stroke-width="1"/>
<text x="281.8" y="844.4" font-size="8.9" text-anchor="end" fill="#231f20" >0.0</text>
<line x1="283.6" y1="803.8" x2="286.6" y2="803.8" stroke="#444" stroke-width="1"/>
<text x="281.8" y="807.0" font-size="8.9" text-anchor="end" fill="#231f20" >0.5</text>
<line x1="283.6" y1="766.3" x2="286.6" y2="766.3" stroke="#444" stroke-width="1"/>
<text x="281.8" y="769.5" font-size="8.9" text-anchor="end" fill="#231f20" >1.0</text>
<line x1="283.6" y1="728.9" x2="286.6" y2="728.9" stroke="#444" stroke-width="1"/>
<text x="281.8" y="732.1" font-size="8.9" text-anchor="end" fill="#231f20" >1.5</text>
<line x1="286.6" y1="841.2" x2="496.6" y2="841.2" stroke="#444" stroke-width="1"/>
<rect x="290.40" y="794.03" width="5.20" height="47.17" fill="#f4f4f4" stroke="#231f20" stroke-width="0.9" />
<line x1="293.0" y1="791.8" x2="293.0" y2="794.0" stroke="#333" stroke-width="1"/>
<line x1="291.5" y1="791.8" x2="294.5" y2="791.8" stroke="#333" stroke-width="1"/>
<rect x="297.73" y="798.53" width="5.20" height="42.67" fill="#cfd0d0" stroke="#231f20" stroke-width="0.9" />
<line x1="300.3" y1="795.5" x2="300.3" y2="798.5" stroke="#333" stroke-width="1"/>
<line x1="298.9" y1="795.5" x2="301.8" y2="795.5" stroke="#333" stroke-width="1"/>
<rect x="305.06" y="758.85" width="5.20" height="82.35" fill="#a0a1a1" stroke="#231f20" stroke-width="0.9" />
<line x1="307.7" y1="756.6" x2="307.7" y2="758.8" stroke="#333" stroke-width="1"/>
<line x1="306.2" y1="756.6" x2="309.1" y2="756.6" stroke="#333" stroke-width="1"/>
<rect x="312.39" y="761.09" width="5.20" height="80.11" fill="#6e6e6e" stroke="#231f20" stroke-width="0.9" />
<line x1="315.0" y1="757.3" x2="315.0" y2="761.1" stroke="#333" stroke-width="1"/>
<line x1="313.5" y1="757.3" x2="316.4" y2="757.3" stroke="#333" stroke-width="1"/>
<rect x="319.72" y="796.28" width="5.20" height="44.92" fill="#000000" stroke="#231f20" stroke-width="0.9" />
<line x1="322.3" y1="791.8" x2="322.3" y2="796.3" stroke="#333" stroke-width="1"/>
<line x1="320.9" y1="791.8" x2="323.8" y2="791.8" stroke="#333" stroke-width="1"/>
<rect x="331.30" y="801.52" width="5.20" height="39.68" fill="#f4f4f4" stroke="#231f20" stroke-width="0.9" />
<line x1="333.9" y1="799.3" x2="333.9" y2="801.5" stroke="#333" stroke-width="1"/>
<line x1="332.4" y1="799.3" x2="335.4" y2="799.3" stroke="#333" stroke-width="1"/>
<rect x="338.63" y="798.53" width="5.20" height="42.67" fill="#cfd0d0" stroke="#231f20" stroke-width="0.9" />
<line x1="341.2" y1="796.3" x2="341.2" y2="798.5" stroke="#333" stroke-width="1"/>
<line x1="339.8" y1="796.3" x2="342.7" y2="796.3" stroke="#333" stroke-width="1"/>
<rect x="345.96" y="776.07" width="5.20" height="65.13" fill="#a0a1a1" stroke="#231f20" stroke-width="0.9" />
<line x1="348.6" y1="773.1" x2="348.6" y2="776.1" stroke="#333" stroke-width="1"/>
<line x1="347.1" y1="773.1" x2="350.0" y2="773.1" stroke="#333" stroke-width="1"/>
<rect x="353.29" y="783.55" width="5.20" height="57.65" fill="#6e6e6e" stroke="#231f20" stroke-width="0.9" />
<line x1="355.9" y1="779.8" x2="355.9" y2="783.6" stroke="#333" stroke-width="1"/>
<line x1="354.4" y1="779.8" x2="357.3" y2="779.8" stroke="#333" stroke-width="1"/>
<rect x="360.62" y="822.48" width="5.20" height="18.72" fill="#000000" stroke="#231f20" stroke-width="0.9" />
<line x1="363.2" y1="818.7" x2="363.2" y2="822.5" stroke="#333" stroke-width="1"/>
<line x1="361.8" y1="818.7" x2="364.7" y2="818.7" stroke="#333" stroke-width="1"/>
<rect x="373.30" y="813.50" width="5.20" height="27.70" fill="#f4f4f4" stroke="#231f20" stroke-width="0.9" />
<line x1="375.9" y1="809.8" x2="375.9" y2="813.5" stroke="#333" stroke-width="1"/>
<line x1="374.4" y1="809.8" x2="377.4" y2="809.8" stroke="#333" stroke-width="1"/>
<rect x="380.63" y="809.76" width="5.20" height="31.44" fill="#cfd0d0" stroke="#231f20" stroke-width="0.9" />
<line x1="383.2" y1="806.0" x2="383.2" y2="809.8" stroke="#333" stroke-width="1"/>
<line x1="381.8" y1="806.0" x2="384.7" y2="806.0" stroke="#333" stroke-width="1"/>
<rect x="387.96" y="834.09" width="5.20" height="7.11" fill="#a0a1a1" stroke="#231f20" stroke-width="0.9" />
<line x1="390.6" y1="832.2" x2="390.6" y2="834.1" stroke="#333" stroke-width="1"/>
<line x1="389.1" y1="832.2" x2="392.0" y2="832.2" stroke="#333" stroke-width="1"/>
<rect x="395.29" y="835.21" width="5.20" height="5.99" fill="#6e6e6e" stroke="#231f20" stroke-width="0.9" />
<line x1="397.9" y1="832.2" x2="397.9" y2="835.2" stroke="#333" stroke-width="1"/>
<line x1="396.4" y1="832.2" x2="399.3" y2="832.2" stroke="#333" stroke-width="1"/>
<rect x="402.62" y="765.58" width="5.20" height="75.62" fill="#000000" stroke="#231f20" stroke-width="0.9" />
<line x1="405.2" y1="759.6" x2="405.2" y2="765.6" stroke="#333" stroke-width="1"/>
<line x1="403.8" y1="759.6" x2="406.7" y2="759.6" stroke="#333" stroke-width="1"/>
<rect x="415.20" y="785.05" width="5.20" height="56.15" fill="#f4f4f4" stroke="#231f20" stroke-width="0.9" />
<line x1="417.8" y1="782.1" x2="417.8" y2="785.1" stroke="#333" stroke-width="1"/>
<line x1="416.3" y1="782.1" x2="419.3" y2="782.1" stroke="#333" stroke-width="1"/>
<rect x="422.53" y="788.79" width="5.20" height="52.41" fill="#cfd0d0" stroke="#231f20" stroke-width="0.9" />
<line x1="425.1" y1="785.1" x2="425.1" y2="788.8" stroke="#333" stroke-width="1"/>
<line x1="423.7" y1="785.1" x2="426.6" y2="785.1" stroke="#333" stroke-width="1"/>
<rect x="429.86" y="829.22" width="5.20" height="11.98" fill="#a0a1a1" stroke="#231f20" stroke-width="0.9" />
<line x1="432.5" y1="827.0" x2="432.5" y2="829.2" stroke="#333" stroke-width="1"/>
<line x1="431.0" y1="827.0" x2="433.9" y2="827.0" stroke="#333" stroke-width="1"/>
<rect x="437.19" y="831.84" width="5.20" height="9.36" fill="#6e6e6e" stroke="#231f20" stroke-width="0.9" />
<line x1="439.8" y1="830.0" x2="439.8" y2="831.8" stroke="#333" stroke-width="1"/>
<line x1="438.3" y1="830.0" x2="441.2" y2="830.0" stroke="#333" stroke-width="1"/>
<rect x="444.52" y="797.03" width="5.20" height="44.17" fill="#000000" stroke="#231f20" stroke-width="0.9" />
<line x1="447.1" y1="794.0" x2="447.1" y2="797.0" stroke="#333" stroke-width="1"/>
<line x1="445.7" y1="794.0" x2="448.6" y2="794.0" stroke="#333" stroke-width="1"/>
<rect x="456.40" y="820.99" width="5.20" height="20.21" fill="#f4f4f4" stroke="#231f20" stroke-width="0.9" />
<line x1="459.0" y1="816.5" x2="459.0" y2="821.0" stroke="#333" stroke-width="1"/>
<line x1="457.5" y1="816.5" x2="460.5" y2="816.5" stroke="#333" stroke-width="1"/>
<rect x="463.73" y="815.75" width="5.20" height="25.45" fill="#cfd0d0" stroke="#231f20" stroke-width="0.9" />
<line x1="466.3" y1="812.0" x2="466.3" y2="815.7" stroke="#333" stroke-width="1"/>
<line x1="464.9" y1="812.0" x2="467.8" y2="812.0" stroke="#333" stroke-width="1"/>
<rect x="471.06" y="783.55" width="5.20" height="57.65" fill="#a0a1a1" stroke="#231f20" stroke-width="0.9" />
<line x1="473.7" y1="779.8" x2="473.7" y2="783.6" stroke="#333" stroke-width="1"/>
<line x1="472.2" y1="779.8" x2="475.1" y2="779.8" stroke="#333" stroke-width="1"/>
<rect x="478.39" y="788.04" width="5.20" height="53.16" fill="#6e6e6e" stroke="#231f20" stroke-width="0.9" />
<line x1="481.0" y1="782.8" x2="481.0" y2="788.0" stroke="#333" stroke-width="1"/>
<line x1="479.5" y1="782.8" x2="482.4" y2="782.8" stroke="#333" stroke-width="1"/>
<rect x="485.72" y="815.00" width="5.20" height="26.20" fill="#000000" stroke="#231f20" stroke-width="0.9" />
<line x1="488.3" y1="810.5" x2="488.3" y2="815.0" stroke="#333" stroke-width="1"/>
<line x1="486.9" y1="810.5" x2="489.8" y2="810.5" stroke="#333" stroke-width="1"/>
<line x1="308.4" y1="841.2" x2="308.4" y2="844.6" stroke="#444" stroke-width="1"/>
<line x1="350.3" y1="841.2" x2="350.3" y2="844.6" stroke="#444" stroke-width="1"/>
<line x1="390.6" y1="841.2" x2="390.6" y2="844.6" stroke="#444" stroke-width="1"/>
<line x1="433.0" y1="841.2" x2="433.0" y2="844.6" stroke="#444" stroke-width="1"/>
<line x1="473.7" y1="841.2" x2="473.7" y2="844.6" stroke="#444" stroke-width="1"/>
<line x1="300.5" y1="753.7" x2="308.1" y2="753.7" stroke="#333" stroke-width="0.9"/>
<text x="304.3" y="752.8" font-size="8.5" text-anchor="middle" fill="#231f20" >***</text>
<line x1="315.1" y1="754.2" x2="322.2" y2="754.2" stroke="#333" stroke-width="0.9"/>
<text x="318.6" y="753.3" font-size="8.5" text-anchor="middle" fill="#231f20" >*</text>
<line x1="342.1" y1="768.5" x2="349.4" y2="768.5" stroke="#333" stroke-width="0.9"/>
<text x="345.8" y="767.6" font-size="8.5" text-anchor="middle" fill="#231f20" >*</text>
<line x1="356.4" y1="775.5" x2="364.0" y2="775.5" stroke="#333" stroke-width="0.9"/>
<text x="360.2" y="774.6" font-size="8.5" text-anchor="middle" fill="#231f20" >***</text>
<line x1="383.8" y1="800.5" x2="390.8" y2="800.5" stroke="#333" stroke-width="0.9"/>
<text x="387.3" y="799.6" font-size="8.5" text-anchor="middle" fill="#231f20" >*</text>
<line x1="397.7" y1="754.4" x2="405.7" y2="754.4" stroke="#333" stroke-width="0.9"/>
<text x="401.7" y="753.5" font-size="8.5" text-anchor="middle" fill="#231f20" >***</text>
<line x1="424.7" y1="781.3" x2="431.9" y2="781.3" stroke="#333" stroke-width="0.9"/>
<text x="428.3" y="780.4" font-size="8.5" text-anchor="middle" fill="#231f20" >**</text>
<line x1="439.5" y1="789.2" x2="446.6" y2="789.2" stroke="#333" stroke-width="0.9"/>
<text x="443.1" y="788.3" font-size="8.5" text-anchor="middle" fill="#231f20" >*</text>
<line x1="466.9" y1="775.2" x2="474.1" y2="775.2" stroke="#333" stroke-width="0.9"/>
<text x="470.5" y="774.3" font-size="8.5" text-anchor="middle" fill="#231f20" >***</text>
<line x1="481.7" y1="779.2" x2="489.0" y2="779.2" stroke="#333" stroke-width="0.9"/>
<text x="485.4" y="778.3" font-size="8.5" text-anchor="middle" fill="#231f20" >*</text>
<text transform="translate(258.0,787.5) rotate(-90)" font-size="10.73" text-anchor="middle" fill="#231f20">Relative protein levels</text>
<text transform="translate(311.5,851.8) rotate(-45)" font-size="10.6" text-anchor="end" fill="#231f20">PNCA</text>
<text transform="translate(353.5,851.8) rotate(-45)" font-size="10.6" text-anchor="end" fill="#231f20">Bcl-2</text>
<text transform="translate(391.0,854.2) rotate(-45)" font-size="10.6" text-anchor="end" fill="#231f20">Cleaved</text>
<text transform="translate(402.0,863.5) rotate(-45)" font-size="10.6" text-anchor="end" fill="#231f20">caspase3</text>
<text transform="translate(432.5,854.2) rotate(-45)" font-size="10.6" text-anchor="end" fill="#231f20">Cleaved</text>
<text transform="translate(444.5,863.5) rotate(-45)" font-size="10.6" text-anchor="end" fill="#231f20">caspase9</text>
<text transform="translate(477.3,852.2) rotate(-45)" font-size="10.6" text-anchor="end" fill="#231f20">β-catenin</text>
<rect x="509.30" y="748.40" width="10.40" height="5.20" fill="#f4f4f4" stroke="#231f20" stroke-width="0.9" />
<rect x="509.30" y="758.90" width="10.40" height="5.20" fill="#cfd0d0" stroke="#231f20" stroke-width="0.9" />
<rect x="509.30" y="769.50" width="10.40" height="5.20" fill="#a0a1a1" stroke="#231f20" stroke-width="0.9" />
<rect x="509.30" y="780.00" width="10.40" height="5.20" fill="#6e6e6e" stroke="#231f20" stroke-width="0.9" />
<rect x="509.30" y="790.70" width="10.40" height="5.20" fill="#231815" stroke="#231f20" stroke-width="0.9" />
<text x="525.2" y="753.6" font-size="9.6" textLength="28.6" lengthAdjust="spacingAndGlyphs" fill="#231f20">Control</text>
<text x="525.2" y="764.1" font-size="10.6" fill="#231f20">inhibitor <tspan font-size="8.6">NC</tspan></text>
<text x="525.2" y="774.7" font-size="10.72" fill="#231f20">miR-520a-3p inhibitor</text>
<text x="525.2" y="785.2" font-size="10.72" fill="#231f20">miR-520a-3p inhibitor<tspan font-size="8.9">+sh-NC</tspan></text>
<text x="525.2" y="795.9" font-size="10.72" fill="#231f20">miR-520a-3p inhibitor<tspan font-size="8.7">+sh-MUC1</tspan></text></svg></body></html>
